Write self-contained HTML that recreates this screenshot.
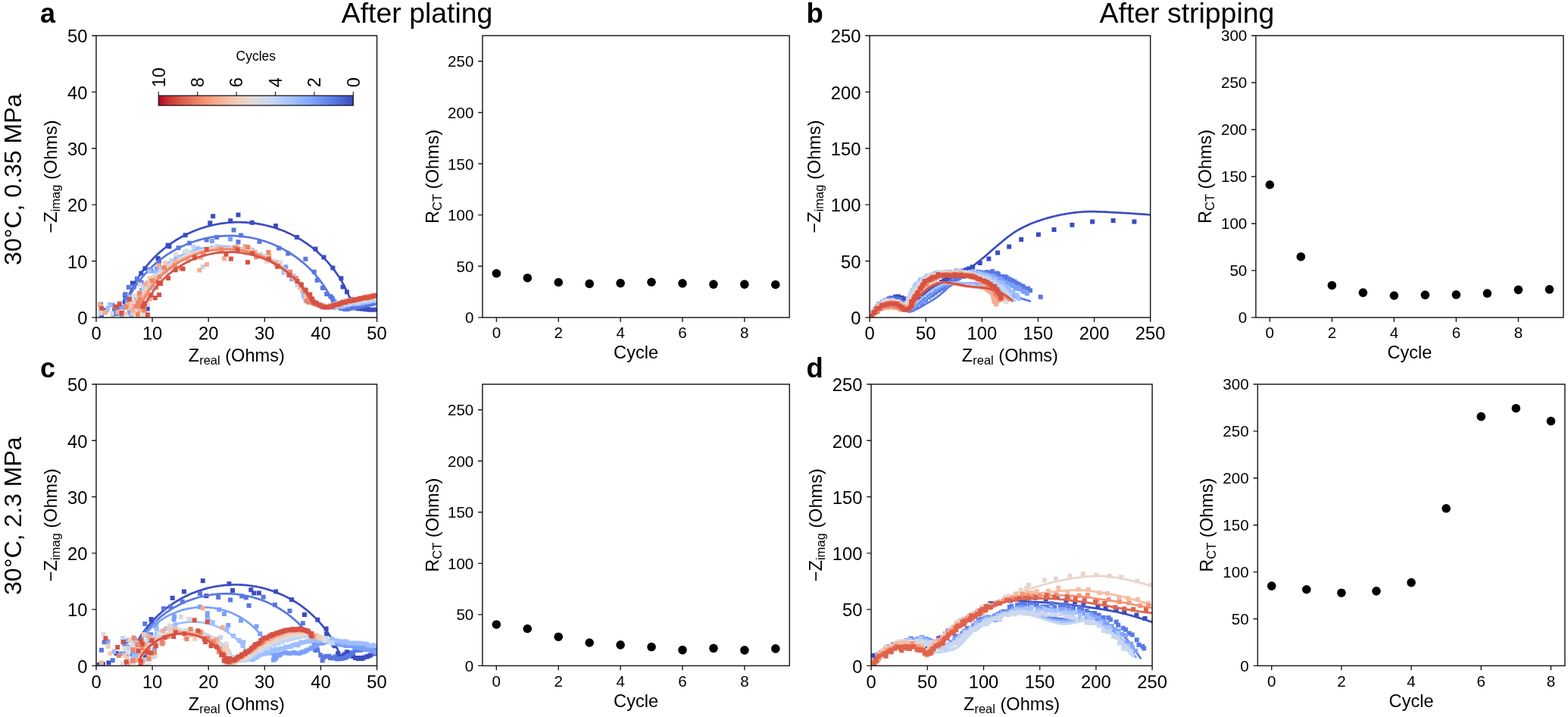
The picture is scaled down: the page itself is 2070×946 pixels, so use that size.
<!DOCTYPE html>
<html><head><meta charset="utf-8"><title>EIS figure</title>
<style>html,body{margin:0;padding:0;background:#fff;}svg{display:block;}</style>
</head><body>
<svg width="2070" height="946" viewBox="0 0 2070 946" font-family='"Liberation Sans", Arial, Helvetica, sans-serif' fill="#000"><defs><clipPath id="cl_a1"><rect x="127.0" y="47.0" width="370.6" height="371.9"/></clipPath><clipPath id="cl_b1"><rect x="1148.1" y="47.0" width="370.6" height="371.9"/></clipPath><clipPath id="cl_c1"><rect x="127.0" y="507.0" width="370.6" height="371.4"/></clipPath><clipPath id="cl_d1"><rect x="1150.1" y="507.0" width="371.0" height="371.4"/></clipPath></defs>
<g clip-path="url(#cl_a1)"><path d="M130.9 412.1h6.0v6.0h-6.0zM136.7 406.6h6.0v6.0h-6.0zM158.0 405.8h6.0v6.0h-6.0zM149.7 411.1h6.0v6.0h-6.0zM151.4 401.9h6.0v6.0h-6.0zM191.7 404.6h6.0v6.0h-6.0zM163.5 396.7h6.0v6.0h-6.0zM159.8 421.8h6.0v6.0h-6.0zM162.1 386.5h6.0v6.0h-6.0zM161.9 395.1h6.0v6.0h-6.0zM162.9 391.9h6.0v6.0h-6.0zM171.9 370.5h6.0v6.0h-6.0zM183.3 357.6h6.0v6.0h-6.0zM188.5 351.2h6.0v6.0h-6.0zM206.8 340.1h6.0v6.0h-6.0zM218.6 320.5h6.0v6.0h-6.0zM241.7 307.2h6.0v6.0h-6.0zM274.3 291.3h6.0v6.0h-6.0zM301.3 288.3h6.0v6.0h-6.0zM329.8 290.8h6.0v6.0h-6.0zM361.0 295.0h6.0v6.0h-6.0zM389.1 310.0h6.0v6.0h-6.0zM413.5 325.6h6.0v6.0h-6.0zM424.5 336.6h6.0v6.0h-6.0zM436.4 350.4h6.0v6.0h-6.0zM447.4 364.2h6.0v6.0h-6.0zM449.7 375.6h6.0v6.0h-6.0zM455.0 382.2h6.0v6.0h-6.0zM460.2 394.3h6.0v6.0h-6.0zM460.7 391.8h6.0v6.0h-6.0zM462.3 395.0h6.0v6.0h-6.0zM462.8 396.1h6.0v6.0h-6.0zM465.6 399.2h6.0v6.0h-6.0zM467.0 401.6h6.0v6.0h-6.0zM470.3 404.2h6.0v6.0h-6.0zM471.5 403.5h6.0v6.0h-6.0zM475.0 404.6h6.0v6.0h-6.0zM478.8 405.0h6.0v6.0h-6.0zM482.0 405.0h6.0v6.0h-6.0zM483.2 405.4h6.0v6.0h-6.0zM487.0 405.8h6.0v6.0h-6.0zM490.5 405.7h6.0v6.0h-6.0zM492.9 405.4h6.0v6.0h-6.0zM497.1 403.9h6.0v6.0h-6.0zM498.5 405.1h6.0v6.0h-6.0zM278.2 282.3h6.0v6.0h-6.0zM311.5 280.5h6.0v6.0h-6.0zM129.9 398.8h6.0v6.0h-6.0zM135.1 408.5h6.0v6.0h-6.0zM205.5 337.8h6.0v6.0h-6.0zM220.4 322.2h6.0v6.0h-6.0z" fill="#3b4cc0"/><path d="M164.5 405.5L164.6 405.2L164.7 404.9L164.8 404.6L164.9 404.3L165.0 403.9L165.1 403.6L165.2 403.2L165.3 402.9L165.4 402.5L165.6 402.1L165.7 401.7L165.8 401.3L166.0 400.9L166.1 400.5L166.2 400.1L166.4 399.7L166.5 399.2L166.7 398.8L166.9 398.3L167.0 397.8L167.2 397.4L167.4 396.9L167.6 396.4L167.8 395.9L167.9 395.3L168.1 394.8L168.4 394.3L168.6 393.7L168.8 393.1L169.0 392.6L169.3 392.0L169.5 391.4L169.8 390.7L170.0 390.1L170.3 389.5L170.6 388.8L170.9 388.1L171.2 387.5L171.5 386.8L171.8 386.1L172.1 385.3L172.5 384.6L172.8 383.8L173.2 383.1L173.5 382.3L173.9 381.5L174.3 380.7L174.7 379.9L175.2 379.0L175.6 378.2L176.1 377.3L176.5 376.4L177.0 375.5L177.5 374.6L178.1 373.7L178.6 372.7L179.1 371.7L179.7 370.7L180.3 369.7L180.9 368.7L181.6 367.7L182.2 366.6L182.9 365.6L183.6 364.5L184.3 363.4L185.1 362.3L185.8 361.2L186.6 360.0L187.5 358.9L188.3 357.7L189.2 356.5L190.1 355.3L191.0 354.1L192.0 352.9L193.0 351.6L194.0 350.4L195.1 349.1L196.2 347.8L197.3 346.5L198.5 345.2L199.7 343.9L200.9 342.6L202.2 341.2L203.5 339.9L204.8 338.6L206.2 337.2L207.6 335.8L209.1 334.5L210.6 333.1L212.2 331.8L213.8 330.4L215.4 329.0L217.1 327.7L218.8 326.3L220.6 324.9L222.4 323.6L224.3 322.3L226.2 320.9L228.1 319.6L230.1 318.3L232.1 317.0L234.2 315.7L236.4 314.5L238.5 313.2L240.8 312.0L243.0 310.8L245.4 309.6L247.7 308.5L250.1 307.4L252.6 306.3L255.0 305.2L257.6 304.2L260.1 303.2L262.7 302.2L265.4 301.3L268.1 300.5L270.8 299.6L273.5 298.8L276.3 298.1L279.1 297.4L281.9 296.8L284.8 296.2L287.7 295.6L290.6 295.1L293.5 294.7L296.5 294.3L299.4 294.0L302.4 293.7L305.4 293.5L308.4 293.3L311.4 293.2L314.4 293.2L317.4 293.2L320.4 293.3L323.3 293.4L326.3 293.6L329.3 293.8L332.3 294.1L335.2 294.5L338.2 294.9L341.1 295.3L344.0 295.8L346.9 296.4L349.7 297.0L352.5 297.7L355.3 298.4L358.1 299.2L360.8 300.0L363.5 300.8L366.2 301.7L368.8 302.6L371.4 303.6L374.0 304.6L376.5 305.6L378.9 306.7L381.4 307.8L383.7 308.9L386.1 310.1L388.4 311.3L390.6 312.5L392.8 313.7L395.0 315.0L397.1 316.2L399.2 317.5L401.2 318.8L403.2 320.1L405.1 321.4L407.0 322.8L408.9 324.1L410.7 325.5L412.4 326.8L414.1 328.2L415.8 329.6L417.4 330.9L419.0 332.3L420.5 333.7L422.0 335.0L423.4 336.4L424.9 337.7L426.2 339.1L427.6 340.4L428.9 341.8L430.1 343.1L431.3 344.4L432.5 345.7L433.7 347.0L434.8 348.3L435.9 349.6L436.9 350.8L437.9 352.1L438.9 353.3L439.9 354.6L440.8 355.8L441.7 357.0L442.5 358.2L443.4 359.3L444.2 360.5L445.0 361.6L445.7 362.7L446.5 363.8L447.2 364.9L447.9 366.0L448.6 367.1L449.2 368.1L449.8 369.1L450.4 370.1L451.0 371.1L451.6 372.1L452.2 373.1L452.7 374.0L453.2 374.9L453.7 375.9L454.2 376.8L454.6 377.6L455.1 378.5L455.5 379.4L456.0 380.2L456.4 381.0L456.8 381.8L457.1 382.6L457.5 383.4L457.9 384.1L458.2 384.9L458.5 385.6L458.9 386.3L459.2 387.0L459.5 387.7L459.8 388.4L460.1 389.1L460.3 389.7L460.6 390.4L460.9 391.0L461.1 391.6L461.4 392.2L461.6 392.8L461.8 393.4L462.0 393.9L462.3 394.5L462.5 395.0L461.5 392.6L461.7 392.9L461.9 393.1L462.1 393.4L462.3 393.6L462.5 393.9L462.7 394.1L462.9 394.4L463.0 394.7L463.2 394.9L463.4 395.2L463.6 395.5L463.8 395.7L464.0 396.0L464.2 396.3L464.4 396.5L464.6 396.8L464.8 397.1L465.0 397.4L465.2 397.6L465.3 397.9L465.5 398.2L465.7 398.4L465.9 398.7L466.1 399.0L466.3 399.2L466.5 399.5L466.7 399.8L466.9 400.0L467.1 400.3L467.3 400.5L467.4 400.8L467.6 401.0L467.8 401.3L468.0 401.5L468.2 401.8L468.4 402.0L468.6 402.2L468.8 402.5L468.9 402.7L469.1 402.9L469.3 403.1L469.5 403.3L469.7 403.5L469.8 403.7L470.0 403.9L470.2 404.1L470.4 404.3L470.6 404.4L470.7 404.6L470.9 404.8L471.1 404.9L471.3 405.1L471.4 405.2L471.6 405.3L471.8 405.5L471.9 405.6L472.1 405.7L472.3 405.8L472.4 405.9L472.6 406.0L472.7 406.1L472.9 406.2L473.1 406.3L473.2 406.4L473.4 406.5L473.5 406.6L473.7 406.7L473.8 406.7L474.0 406.8L474.1 406.9L474.3 406.9L474.4 407.0L474.6 407.1L474.7 407.1L474.9 407.2L475.0 407.2L475.2 407.3L475.3 407.3L475.5 407.4L475.7 407.4L475.8 407.5L476.0 407.5L476.1 407.5L476.3 407.6L476.4 407.6L476.6 407.6L476.8 407.7L476.9 407.7L477.1 407.7L477.3 407.8L477.4 407.8L477.6 407.8L477.8 407.9L478.0 407.9L478.1 407.9L478.3 408.0L478.5 408.0L478.7 408.0L478.9 408.1L479.1 408.1L479.3 408.2L479.5 408.2L479.7 408.2L479.8 408.3L480.0 408.3L480.2 408.3L480.4 408.3L480.6 408.4L480.8 408.4L481.0 408.4L481.2 408.4L481.5 408.5L481.7 408.5L481.9 408.5L482.1 408.5L482.3 408.5L482.5 408.5L482.7 408.5L482.9 408.6L483.1 408.6L483.3 408.6L483.6 408.6L483.8 408.6L484.0 408.6L484.2 408.6L484.4 408.6L484.7 408.6L484.9 408.6L485.1 408.6L485.3 408.6L485.6 408.6L485.8 408.6L486.0 408.6L486.3 408.6L486.5 408.6L486.7 408.6L487.0 408.6L487.2 408.6L487.4 408.6L487.7 408.6L487.9 408.6L488.2 408.6L488.4 408.6L488.7 408.5L488.9 408.5L489.2 408.5L489.4 408.5L489.7 408.5L489.9 408.5L490.2 408.5L490.5 408.5L490.7 408.5L491.0 408.4L491.3 408.4L491.5 408.4L491.8 408.4L492.1 408.4L492.4 408.4L492.7 408.3L493.0 408.3L493.3 408.3L493.6 408.3L493.9 408.2L494.2 408.2L494.5 408.2L494.8 408.1L495.1 408.1L495.4 408.1L495.7 408.0L496.0 408.0L496.3 408.0L496.6 407.9L496.9 407.9L497.2 407.9L497.5 407.8L497.8 407.8L498.2 407.8L498.5 407.7L498.8 407.7L499.1 407.7L499.4 407.6L499.7 407.6L500.0 407.6L500.4 407.5L500.7 407.5L501.0 407.4L501.3 407.4L501.6 407.4L501.9 407.3L502.2 407.3L502.6 407.3L502.9 407.2L503.2 407.2L503.5 407.2L503.8 407.1L504.1 407.1L504.4 407.1L504.7 407.0L505.0 407.0" fill="none" stroke="#3b4cc0" stroke-width="2.7" stroke-linejoin="round" stroke-linecap="butt"/><path d="M152.0 410.4h6.0v6.0h-6.0zM152.0 405.6h6.0v6.0h-6.0zM146.7 411.6h6.0v6.0h-6.0zM147.9 405.8h6.0v6.0h-6.0zM167.2 400.3h6.0v6.0h-6.0zM162.5 385.2h6.0v6.0h-6.0zM158.9 403.1h6.0v6.0h-6.0zM165.6 391.5h6.0v6.0h-6.0zM163.5 392.0h6.0v6.0h-6.0zM173.8 375.4h6.0v6.0h-6.0zM166.8 376.1h6.0v6.0h-6.0zM177.9 364.8h6.0v6.0h-6.0zM183.4 369.5h6.0v6.0h-6.0zM196.1 354.1h6.0v6.0h-6.0zM206.8 345.6h6.0v6.0h-6.0zM232.5 324.1h6.0v6.0h-6.0zM247.1 317.7h6.0v6.0h-6.0zM269.7 313.6h6.0v6.0h-6.0zM283.2 309.9h6.0v6.0h-6.0zM315.1 307.4h6.0v6.0h-6.0zM339.6 315.7h6.0v6.0h-6.0zM365.1 324.5h6.0v6.0h-6.0zM377.3 331.6h6.0v6.0h-6.0zM400.4 338.7h6.0v6.0h-6.0zM411.7 355.8h6.0v6.0h-6.0zM415.7 366.7h6.0v6.0h-6.0zM423.0 376.9h6.0v6.0h-6.0zM428.2 384.9h6.0v6.0h-6.0zM433.4 387.9h6.0v6.0h-6.0zM435.6 390.3h6.0v6.0h-6.0zM436.9 393.7h6.0v6.0h-6.0zM438.9 396.0h6.0v6.0h-6.0zM440.5 397.9h6.0v6.0h-6.0zM442.5 400.9h6.0v6.0h-6.0zM443.7 401.5h6.0v6.0h-6.0zM446.7 403.7h6.0v6.0h-6.0zM449.9 403.9h6.0v6.0h-6.0zM452.4 405.1h6.0v6.0h-6.0zM455.5 404.9h6.0v6.0h-6.0zM458.2 404.0h6.0v6.0h-6.0zM461.4 403.2h6.0v6.0h-6.0zM465.0 403.4h6.0v6.0h-6.0zM467.2 402.3h6.0v6.0h-6.0zM470.2 401.9h6.0v6.0h-6.0zM473.6 400.3h6.0v6.0h-6.0zM476.4 400.8h6.0v6.0h-6.0zM479.9 399.2h6.0v6.0h-6.0zM480.6 399.4h6.0v6.0h-6.0zM485.2 398.8h6.0v6.0h-6.0zM487.3 397.9h6.0v6.0h-6.0zM490.5 397.4h6.0v6.0h-6.0zM493.7 395.9h6.0v6.0h-6.0zM496.7 394.6h6.0v6.0h-6.0zM499.6 394.3h6.0v6.0h-6.0zM501.9 393.3h6.0v6.0h-6.0zM305.6 300.6h6.0v6.0h-6.0zM311.5 316.2h6.0v6.0h-6.0zM194.4 352.7h6.0v6.0h-6.0z" fill="#5977e3"/><path d="M164.7 404.4L164.8 404.1L164.9 403.8L165.1 403.5L165.2 403.1L165.4 402.8L165.5 402.4L165.7 402.1L165.8 401.7L166.0 401.4L166.1 401.0L166.3 400.6L166.5 400.2L166.7 399.8L166.8 399.4L167.0 399.0L167.2 398.6L167.4 398.2L167.6 397.7L167.8 397.3L168.0 396.8L168.3 396.4L168.5 395.9L168.7 395.4L169.0 394.9L169.2 394.4L169.5 393.9L169.7 393.4L170.0 392.9L170.3 392.3L170.5 391.8L170.8 391.2L171.1 390.7L171.4 390.1L171.8 389.5L172.1 388.9L172.4 388.3L172.8 387.7L173.1 387.0L173.5 386.4L173.9 385.7L174.3 385.1L174.7 384.4L175.1 383.7L175.5 383.0L175.9 382.3L176.4 381.6L176.8 380.9L177.3 380.1L177.8 379.4L178.3 378.6L178.8 377.8L179.3 377.0L179.9 376.2L180.5 375.4L181.0 374.6L181.6 373.7L182.2 372.9L182.9 372.0L183.5 371.2L184.2 370.3L184.9 369.4L185.6 368.5L186.3 367.6L187.0 366.6L187.8 365.7L188.6 364.8L189.4 363.8L190.2 362.8L191.1 361.8L192.0 360.9L192.9 359.9L193.8 358.9L194.7 357.8L195.7 356.8L196.7 355.8L197.7 354.8L198.8 353.7L199.9 352.7L201.0 351.6L202.1 350.6L203.3 349.5L204.5 348.4L205.7 347.4L207.0 346.3L208.3 345.2L209.6 344.1L211.0 343.1L212.3 342.0L213.8 340.9L215.2 339.8L216.7 338.8L218.2 337.7L219.7 336.7L221.3 335.6L222.9 334.6L224.6 333.5L226.3 332.5L228.0 331.5L229.7 330.5L231.5 329.5L233.3 328.5L235.2 327.5L237.0 326.6L239.0 325.7L240.9 324.7L242.9 323.9L244.9 323.0L246.9 322.1L249.0 321.3L251.1 320.5L253.2 319.7L255.4 319.0L257.6 318.3L259.8 317.6L262.0 316.9L264.2 316.3L266.5 315.7L268.8 315.1L271.2 314.6L273.5 314.1L275.9 313.6L278.2 313.2L280.6 312.8L283.0 312.4L285.5 312.1L287.9 311.9L290.3 311.6L292.8 311.4L295.3 311.3L297.7 311.2L300.2 311.1L302.7 311.1L305.1 311.1L307.6 311.1L310.1 311.2L312.5 311.3L315.0 311.5L317.4 311.7L319.9 312.0L322.3 312.2L324.7 312.6L327.1 312.9L329.5 313.3L331.9 313.8L334.2 314.3L336.6 314.8L338.9 315.3L341.2 315.9L343.5 316.5L345.7 317.2L347.9 317.8L350.1 318.5L352.3 319.3L354.4 320.0L356.6 320.8L358.6 321.6L360.7 322.5L362.7 323.3L364.7 324.2L366.7 325.1L368.6 326.0L370.5 327.0L372.4 327.9L374.2 328.9L376.0 329.9L377.8 330.9L379.5 331.9L381.2 332.9L382.9 333.9L384.5 335.0L386.1 336.0L387.7 337.1L389.2 338.1L390.7 339.2L392.2 340.3L393.6 341.3L395.0 342.4L396.4 343.5L397.7 344.6L399.0 345.6L400.3 346.7L401.6 347.8L402.8 348.8L404.0 349.9L405.1 351.0L406.3 352.0L407.4 353.1L408.4 354.1L409.5 355.2L410.5 356.2L411.5 357.2L412.4 358.2L413.4 359.3L414.3 360.3L415.2 361.2L416.1 362.2L416.9 363.2L417.7 364.2L418.5 365.1L419.3 366.1L420.1 367.0L420.8 367.9L421.5 368.8L422.2 369.7L422.9 370.6L423.6 371.5L424.2 372.4L424.8 373.2L425.4 374.1L426.0 374.9L426.6 375.7L427.1 376.5L427.7 377.3L428.2 378.1L428.7 378.9L429.2 379.7L429.7 380.4L430.2 381.1L430.6 381.9L431.1 382.6L431.5 383.3L431.9 384.0L432.3 384.7L432.7 385.3L433.1 386.0L433.5 386.7L433.8 387.3L434.2 387.9L434.5 388.5L434.9 389.1L435.2 389.7L435.5 390.3L435.8 390.9L436.1 391.5L436.4 392.0L436.7 392.5L436.9 393.1L437.2 393.6L437.5 394.1L436.3 391.9L436.6 392.2L436.8 392.5L437.1 392.8L437.3 393.1L437.6 393.4L437.9 393.8L438.1 394.1L438.4 394.4L438.6 394.8L438.9 395.1L439.2 395.5L439.4 395.8L439.7 396.2L439.9 396.5L440.2 396.9L440.4 397.2L440.7 397.6L441.0 398.0L441.2 398.3L441.5 398.7L441.7 399.0L442.0 399.4L442.2 399.7L442.5 400.1L442.8 400.4L443.0 400.7L443.3 401.1L443.5 401.4L443.8 401.7L444.1 402.1L444.3 402.4L444.6 402.7L444.8 403.0L445.1 403.3L445.4 403.6L445.6 403.9L445.9 404.2L446.2 404.4L446.4 404.7L446.7 405.0L447.0 405.2L447.2 405.5L447.5 405.7L447.8 405.9L448.0 406.1L448.3 406.3L448.6 406.5L448.9 406.7L449.1 406.8L449.4 407.0L449.7 407.1L450.0 407.3L450.3 407.4L450.5 407.5L450.8 407.6L451.1 407.7L451.4 407.8L451.7 407.9L451.9 407.9L452.2 408.0L452.5 408.0L452.8 408.1L453.1 408.1L453.3 408.1L453.6 408.1L453.9 408.2L454.2 408.2L454.5 408.2L454.8 408.2L455.1 408.1L455.3 408.1L455.6 408.1L455.9 408.1L456.2 408.1L456.5 408.0L456.8 408.0L457.1 407.9L457.4 407.9L457.7 407.8L458.0 407.8L458.3 407.7L458.6 407.7L458.9 407.6L459.2 407.6L459.5 407.5L459.8 407.4L460.1 407.4L460.4 407.3L460.7 407.3L461.0 407.2L461.3 407.1L461.6 407.1L462.0 407.0L462.3 406.9L462.6 406.9L462.9 406.8L463.3 406.8L463.6 406.7L463.9 406.7L464.2 406.6L464.6 406.6L464.9 406.5L465.3 406.5L465.6 406.4L465.9 406.4L466.3 406.3L466.6 406.3L467.0 406.2L467.3 406.1L467.7 406.1L468.0 406.0L468.4 405.9L468.7 405.9L469.1 405.8L469.4 405.7L469.8 405.7L470.1 405.6L470.5 405.5L470.9 405.4L471.2 405.3L471.6 405.3L471.9 405.2L472.3 405.1L472.7 405.0L473.0 404.9L473.4 404.8L473.8 404.8L474.2 404.7L474.5 404.6L474.9 404.5L475.3 404.4L475.7 404.3L476.1 404.2L476.4 404.1L476.8 404.0L477.2 403.9L477.6 403.8L478.0 403.7L478.4 403.6L478.8 403.5L479.2 403.4L479.6 403.3L480.0 403.2L480.4 403.1L480.8 403.0L481.2 402.9L481.6 402.8L482.0 402.7L482.4 402.6L482.8 402.5L483.2 402.4L483.6 402.3L484.0 402.2L484.5 402.1L484.9 402.0L485.3 401.9L485.8 401.8L486.2 401.7L486.6 401.6L487.1 401.4L487.5 401.3L488.0 401.2L488.4 401.1L488.9 401.0L489.3 400.9L489.8 400.7L490.2 400.6L490.7 400.5L491.1 400.4L491.6 400.2L492.0 400.1L492.5 400.0L493.0 399.9L493.4 399.7L493.9 399.6L494.4 399.5L494.8 399.4L495.3 399.2L495.8 399.1L496.2 399.0L496.7 398.9L497.2 398.7L497.6 398.6L498.1 398.5L498.6 398.3L499.0 398.2L499.5 398.1L499.9 398.0L500.4 397.8L500.9 397.7L501.3 397.6L501.8 397.5L502.3 397.3L502.7 397.2L503.2 397.1L503.6 397.0L504.1 396.8L504.6 396.7L505.0 396.6" fill="none" stroke="#5977e3" stroke-width="2.7" stroke-linejoin="round" stroke-linecap="butt"/><path d="M167.8 407.8h6.0v6.0h-6.0zM157.6 401.9h6.0v6.0h-6.0zM157.8 412.4h6.0v6.0h-6.0zM146.0 399.5h6.0v6.0h-6.0zM169.2 409.8h6.0v6.0h-6.0zM180.6 405.3h6.0v6.0h-6.0zM170.4 414.6h6.0v6.0h-6.0zM165.6 395.7h6.0v6.0h-6.0zM176.6 391.3h6.0v6.0h-6.0zM172.3 400.1h6.0v6.0h-6.0zM178.2 390.6h6.0v6.0h-6.0zM183.9 379.9h6.0v6.0h-6.0zM188.7 374.5h6.0v6.0h-6.0zM196.4 353.4h6.0v6.0h-6.0zM204.0 351.3h6.0v6.0h-6.0zM220.6 346.5h6.0v6.0h-6.0zM230.1 336.2h6.0v6.0h-6.0zM258.0 326.3h6.0v6.0h-6.0zM276.9 315.0h6.0v6.0h-6.0zM307.2 323.5h6.0v6.0h-6.0zM329.3 326.9h6.0v6.0h-6.0zM340.3 333.5h6.0v6.0h-6.0zM362.0 344.3h6.0v6.0h-6.0zM374.3 349.2h6.0v6.0h-6.0zM382.3 365.2h6.0v6.0h-6.0zM393.0 371.6h6.0v6.0h-6.0zM396.5 380.6h6.0v6.0h-6.0zM398.1 386.4h6.0v6.0h-6.0zM403.8 395.3h6.0v6.0h-6.0zM408.1 394.6h6.0v6.0h-6.0zM409.8 394.3h6.0v6.0h-6.0zM412.6 397.0h6.0v6.0h-6.0zM414.8 396.6h6.0v6.0h-6.0zM417.7 398.8h6.0v6.0h-6.0zM421.1 399.3h6.0v6.0h-6.0zM424.2 400.8h6.0v6.0h-6.0zM426.9 402.9h6.0v6.0h-6.0zM430.1 402.5h6.0v6.0h-6.0zM432.8 402.3h6.0v6.0h-6.0zM435.3 402.9h6.0v6.0h-6.0zM438.7 402.7h6.0v6.0h-6.0zM441.5 401.4h6.0v6.0h-6.0zM444.1 401.6h6.0v6.0h-6.0zM447.5 401.8h6.0v6.0h-6.0zM450.7 400.8h6.0v6.0h-6.0zM453.1 399.5h6.0v6.0h-6.0zM455.7 399.8h6.0v6.0h-6.0zM459.2 398.5h6.0v6.0h-6.0zM462.8 397.7h6.0v6.0h-6.0zM464.5 398.1h6.0v6.0h-6.0zM467.5 398.3h6.0v6.0h-6.0zM470.4 397.9h6.0v6.0h-6.0zM474.1 396.7h6.0v6.0h-6.0zM475.4 395.7h6.0v6.0h-6.0zM479.5 395.6h6.0v6.0h-6.0zM482.9 395.0h6.0v6.0h-6.0zM484.7 395.1h6.0v6.0h-6.0zM488.9 394.2h6.0v6.0h-6.0zM491.3 394.1h6.0v6.0h-6.0zM493.6 393.6h6.0v6.0h-6.0zM497.0 393.6h6.0v6.0h-6.0zM498.9 393.3h6.0v6.0h-6.0zM301.1 312.5h6.0v6.0h-6.0zM253.7 332.6h6.0v6.0h-6.0z" fill="#7b9ff9"/><path d="M174.0 406.8L174.1 406.6L174.2 406.3L174.3 406.0L174.4 405.7L174.5 405.5L174.7 405.2L174.8 404.9L174.9 404.6L175.0 404.3L175.2 403.9L175.3 403.6L175.4 403.3L175.6 402.9L175.7 402.6L175.9 402.3L176.0 401.9L176.2 401.5L176.4 401.2L176.5 400.8L176.7 400.4L176.9 400.0L177.1 399.6L177.3 399.2L177.4 398.8L177.6 398.4L177.9 397.9L178.1 397.5L178.3 397.0L178.5 396.6L178.7 396.1L179.0 395.6L179.2 395.1L179.5 394.6L179.7 394.1L180.0 393.6L180.3 393.1L180.6 392.6L180.9 392.0L181.2 391.5L181.5 390.9L181.8 390.3L182.1 389.8L182.5 389.2L182.8 388.6L183.2 388.0L183.5 387.3L183.9 386.7L184.3 386.1L184.7 385.4L185.1 384.8L185.6 384.1L186.0 383.4L186.5 382.7L186.9 382.0L187.4 381.3L187.9 380.6L188.4 379.8L188.9 379.1L189.5 378.3L190.0 377.5L190.6 376.8L191.2 376.0L191.8 375.2L192.4 374.4L193.1 373.6L193.7 372.7L194.4 371.9L195.1 371.1L195.8 370.2L196.6 369.3L197.3 368.5L198.1 367.6L198.9 366.7L199.7 365.8L200.6 364.9L201.4 364.0L202.3 363.1L203.3 362.2L204.2 361.2L205.2 360.3L206.2 359.4L207.2 358.4L208.2 357.5L209.3 356.6L210.4 355.6L211.5 354.7L212.7 353.7L213.9 352.8L215.1 351.8L216.3 350.9L217.6 349.9L218.9 349.0L220.2 348.0L221.6 347.1L223.0 346.2L224.4 345.3L225.8 344.3L227.3 343.4L228.8 342.6L230.4 341.7L231.9 340.8L233.5 339.9L235.1 339.1L236.8 338.3L238.5 337.5L240.2 336.7L241.9 335.9L243.7 335.1L245.5 334.4L247.3 333.7L249.2 333.0L251.1 332.3L253.0 331.7L254.9 331.0L256.8 330.4L258.8 329.9L260.8 329.3L262.8 328.8L264.8 328.3L266.9 327.9L268.9 327.5L271.0 327.1L273.1 326.7L275.2 326.4L277.3 326.2L279.5 325.9L281.6 325.7L283.7 325.5L285.9 325.4L288.1 325.3L290.2 325.2L292.4 325.2L294.5 325.2L296.7 325.2L298.9 325.3L301.0 325.4L303.2 325.6L305.3 325.8L307.4 326.0L309.6 326.3L311.7 326.6L313.8 326.9L315.9 327.2L317.9 327.6L320.0 328.1L322.0 328.5L324.1 329.0L326.1 329.5L328.0 330.1L330.0 330.7L331.9 331.3L333.8 331.9L335.7 332.6L337.6 333.2L339.4 333.9L341.3 334.7L343.0 335.4L344.8 336.2L346.5 337.0L348.2 337.8L349.9 338.6L351.6 339.4L353.2 340.3L354.8 341.1L356.3 342.0L357.8 342.9L359.3 343.8L360.8 344.7L362.2 345.6L363.6 346.5L365.0 347.5L366.4 348.4L367.7 349.3L369.0 350.3L370.2 351.2L371.5 352.2L372.7 353.1L373.8 354.1L375.0 355.0L376.1 356.0L377.2 356.9L378.2 357.9L379.3 358.8L380.3 359.7L381.3 360.7L382.2 361.6L383.2 362.5L384.1 363.4L385.0 364.4L385.8 365.3L386.7 366.2L387.5 367.1L388.3 367.9L389.0 368.8L389.8 369.7L390.5 370.5L391.2 371.4L391.9 372.2L392.6 373.1L393.3 373.9L393.9 374.7L394.5 375.5L395.1 376.3L395.7 377.1L396.3 377.9L396.8 378.6L397.3 379.4L397.9 380.1L398.4 380.8L398.8 381.6L399.3 382.3L399.8 383.0L400.2 383.7L400.7 384.3L401.1 385.0L401.5 385.7L401.9 386.3L402.3 387.0L402.7 387.6L403.0 388.2L403.4 388.8L403.7 389.4L404.1 390.0L404.4 390.6L404.7 391.1L405.0 391.7L405.3 392.2L405.6 392.8L405.9 393.3L406.2 393.8L406.4 394.3L406.7 394.8L406.9 395.3L407.2 395.8L407.4 396.3L407.6 396.7L407.9 397.2L408.1 397.6L408.3 398.1L407.3 396.2L407.8 396.3L408.3 396.5L408.7 396.7L409.2 396.9L409.7 397.1L410.1 397.2L410.6 397.4L411.1 397.6L411.5 397.8L412.0 398.0L412.5 398.2L413.0 398.4L413.5 398.6L413.9 398.8L414.4 399.0L414.9 399.2L415.4 399.4L415.9 399.6L416.3 399.8L416.8 400.0L417.3 400.2L417.8 400.4L418.2 400.6L418.7 400.8L419.2 401.0L419.7 401.2L420.1 401.4L420.6 401.6L421.1 401.8L421.5 402.0L422.0 402.2L422.5 402.3L422.9 402.5L423.4 402.7L423.8 402.8L424.3 403.0L424.7 403.2L425.2 403.3L425.6 403.5L426.1 403.6L426.5 403.8L426.9 403.9L427.3 404.0L427.8 404.2L428.2 404.3L428.6 404.4L429.0 404.5L429.4 404.6L429.8 404.7L430.2 404.8L430.5 404.8L430.9 404.9L431.3 405.0L431.6 405.1L432.0 405.1L432.3 405.2L432.6 405.2L433.0 405.2L433.3 405.3L433.6 405.3L433.9 405.3L434.2 405.4L434.5 405.4L434.8 405.4L435.1 405.4L435.4 405.4L435.7 405.4L436.0 405.4L436.3 405.4L436.6 405.4L436.9 405.4L437.1 405.4L437.4 405.4L437.7 405.4L438.0 405.3L438.2 405.3L438.5 405.3L438.8 405.3L439.1 405.2L439.4 405.2L439.6 405.2L439.9 405.1L440.2 405.1L440.5 405.0L440.8 405.0L441.1 405.0L441.4 404.9L441.7 404.9L442.0 404.8L442.3 404.8L442.6 404.8L442.9 404.7L443.3 404.7L443.6 404.6L443.9 404.6L444.3 404.6L444.6 404.5L445.0 404.5L445.3 404.4L445.7 404.4L446.1 404.4L446.5 404.3L446.8 404.3L447.2 404.2L447.6 404.2L448.0 404.1L448.4 404.1L448.7 404.1L449.1 404.0L449.5 404.0L449.9 403.9L450.3 403.9L450.7 403.8L451.0 403.7L451.4 403.7L451.8 403.6L452.2 403.6L452.6 403.5L453.0 403.5L453.4 403.4L453.8 403.3L454.2 403.3L454.7 403.2L455.1 403.1L455.5 403.1L455.9 403.0L456.3 402.9L456.8 402.9L457.2 402.8L457.7 402.7L458.1 402.6L458.6 402.6L459.0 402.5L459.5 402.4L460.0 402.3L460.5 402.3L460.9 402.2L461.4 402.1L461.9 402.0L462.4 401.9L463.0 401.8L463.5 401.8L464.0 401.7L464.6 401.6L465.1 401.5L465.7 401.4L466.2 401.3L466.8 401.2L467.4 401.1L468.0 401.0L468.6 401.0L469.2 400.9L469.8 400.8L470.5 400.7L471.1 400.5L471.8 400.4L472.5 400.3L473.2 400.2L473.9 400.1L474.6 400.0L475.3 399.9L476.0 399.8L476.7 399.7L477.5 399.5L478.2 399.4L479.0 399.3L479.7 399.2L480.5 399.1L481.2 398.9L482.0 398.8L482.8 398.7L483.6 398.6L484.4 398.4L485.2 398.3L486.0 398.2L486.7 398.0L487.5 397.9L488.4 397.8L489.2 397.7L490.0 397.5L490.8 397.4L491.6 397.3L492.4 397.1L493.2 397.0L494.0 396.9L494.8 396.7L495.6 396.6L496.4 396.5L497.2 396.4L498.0 396.2L498.8 396.1L499.6 396.0L500.4 395.8L501.2 395.7L501.9 395.6L502.7 395.5L503.5 395.3L504.3 395.2L505.0 395.1" fill="none" stroke="#7b9ff9" stroke-width="2.7" stroke-linejoin="round" stroke-linecap="butt"/><path d="M158.6 409.4h6.0v6.0h-6.0zM130.0 401.7h6.0v6.0h-6.0zM139.3 404.0h6.0v6.0h-6.0zM142.1 398.9h6.0v6.0h-6.0zM177.8 401.1h6.0v6.0h-6.0zM174.0 410.2h6.0v6.0h-6.0zM165.6 401.5h6.0v6.0h-6.0zM181.8 399.9h6.0v6.0h-6.0zM168.6 388.4h6.0v6.0h-6.0zM155.4 397.1h6.0v6.0h-6.0zM184.9 387.4h6.0v6.0h-6.0zM180.2 395.2h6.0v6.0h-6.0zM197.8 376.9h6.0v6.0h-6.0zM194.1 355.1h6.0v6.0h-6.0zM202.3 356.1h6.0v6.0h-6.0zM227.8 346.0h6.0v6.0h-6.0zM233.8 338.6h6.0v6.0h-6.0zM258.7 324.8h6.0v6.0h-6.0zM284.9 322.7h6.0v6.0h-6.0zM303.3 327.2h6.0v6.0h-6.0zM324.6 326.2h6.0v6.0h-6.0zM344.4 334.9h6.0v6.0h-6.0zM362.3 343.1h6.0v6.0h-6.0zM371.4 356.4h6.0v6.0h-6.0zM384.2 361.1h6.0v6.0h-6.0zM391.4 372.8h6.0v6.0h-6.0zM400.1 381.7h6.0v6.0h-6.0zM398.9 389.0h6.0v6.0h-6.0zM400.7 394.0h6.0v6.0h-6.0zM405.6 395.8h6.0v6.0h-6.0zM407.7 395.4h6.0v6.0h-6.0zM411.2 396.4h6.0v6.0h-6.0zM413.6 398.4h6.0v6.0h-6.0zM416.8 399.1h6.0v6.0h-6.0zM419.2 400.0h6.0v6.0h-6.0zM421.5 401.1h6.0v6.0h-6.0zM423.4 402.5h6.0v6.0h-6.0zM427.5 402.9h6.0v6.0h-6.0zM430.7 402.4h6.0v6.0h-6.0zM433.3 402.2h6.0v6.0h-6.0zM436.5 402.4h6.0v6.0h-6.0zM438.9 401.9h6.0v6.0h-6.0zM441.8 401.4h6.0v6.0h-6.0zM444.5 400.5h6.0v6.0h-6.0zM448.7 401.2h6.0v6.0h-6.0zM450.9 400.7h6.0v6.0h-6.0zM453.4 399.4h6.0v6.0h-6.0zM455.9 399.5h6.0v6.0h-6.0zM459.5 398.6h6.0v6.0h-6.0zM463.3 397.7h6.0v6.0h-6.0zM465.6 397.0h6.0v6.0h-6.0zM467.9 397.3h6.0v6.0h-6.0zM472.0 395.8h6.0v6.0h-6.0zM474.9 396.8h6.0v6.0h-6.0zM477.6 395.0h6.0v6.0h-6.0zM480.4 395.7h6.0v6.0h-6.0zM483.6 395.1h6.0v6.0h-6.0zM486.2 393.6h6.0v6.0h-6.0zM489.2 393.7h6.0v6.0h-6.0zM491.3 393.4h6.0v6.0h-6.0zM495.5 392.8h6.0v6.0h-6.0zM497.7 391.8h6.0v6.0h-6.0zM501.6 391.6h6.0v6.0h-6.0z" fill="#9ebeff"/><path d="M174.6 407.1L174.7 406.8L174.8 406.5L174.9 406.3L175.0 406.0L175.1 405.7L175.2 405.4L175.4 405.1L175.5 404.8L175.6 404.5L175.7 404.2L175.9 403.9L176.0 403.6L176.1 403.2L176.3 402.9L176.4 402.6L176.6 402.2L176.7 401.8L176.9 401.5L177.1 401.1L177.2 400.7L177.4 400.3L177.6 399.9L177.8 399.5L178.0 399.1L178.2 398.7L178.4 398.3L178.6 397.8L178.8 397.4L179.0 396.9L179.2 396.5L179.5 396.0L179.7 395.5L179.9 395.0L180.2 394.5L180.5 394.0L180.7 393.5L181.0 393.0L181.3 392.5L181.6 391.9L181.9 391.4L182.2 390.8L182.5 390.2L182.9 389.6L183.2 389.0L183.5 388.4L183.9 387.8L184.3 387.2L184.7 386.6L185.1 385.9L185.5 385.3L185.9 384.6L186.3 383.9L186.8 383.2L187.2 382.5L187.7 381.8L188.2 381.1L188.7 380.4L189.2 379.6L189.7 378.9L190.3 378.1L190.8 377.3L191.4 376.6L192.0 375.8L192.6 375.0L193.2 374.2L193.9 373.3L194.6 372.5L195.2 371.7L196.0 370.8L196.7 370.0L197.4 369.1L198.2 368.2L199.0 367.4L199.8 366.5L200.6 365.6L201.5 364.7L202.4 363.8L203.3 362.8L204.2 361.9L205.2 361.0L206.1 360.1L207.2 359.1L208.2 358.2L209.2 357.2L210.3 356.3L211.4 355.4L212.6 354.4L213.8 353.5L215.0 352.5L216.2 351.6L217.4 350.6L218.7 349.7L220.0 348.8L221.4 347.8L222.7 346.9L224.2 346.0L225.6 345.1L227.0 344.2L228.5 343.3L230.1 342.4L231.6 341.5L233.2 340.7L234.8 339.8L236.5 339.0L238.1 338.2L239.8 337.4L241.5 336.6L243.3 335.9L245.1 335.1L246.9 334.4L248.7 333.7L250.6 333.0L252.5 332.4L254.4 331.8L256.3 331.2L258.3 330.6L260.2 330.1L262.2 329.6L264.3 329.1L266.3 328.6L268.3 328.2L270.4 327.8L272.5 327.5L274.6 327.2L276.7 326.9L278.8 326.7L280.9 326.4L283.1 326.3L285.2 326.1L287.3 326.0L289.5 326.0L291.6 325.9L293.8 325.9L295.9 326.0L298.1 326.1L300.2 326.2L302.4 326.3L304.5 326.5L306.6 326.7L308.7 327.0L310.8 327.3L312.9 327.6L315.0 328.0L317.0 328.4L319.1 328.8L321.1 329.3L323.1 329.8L325.1 330.3L327.1 330.8L329.0 331.4L330.9 332.0L332.8 332.6L334.7 333.3L336.6 334.0L338.4 334.7L340.2 335.4L342.0 336.2L343.7 336.9L345.4 337.7L347.1 338.5L348.8 339.3L350.4 340.2L352.0 341.0L353.6 341.9L355.1 342.8L356.6 343.6L358.1 344.5L359.6 345.4L361.0 346.4L362.4 347.3L363.7 348.2L365.1 349.1L366.4 350.1L367.6 351.0L368.9 352.0L370.1 352.9L371.3 353.8L372.4 354.8L373.6 355.7L374.7 356.7L375.7 357.6L376.8 358.6L377.8 359.5L378.8 360.4L379.8 361.4L380.7 362.3L381.7 363.2L382.5 364.1L383.4 365.0L384.3 365.9L385.1 366.8L385.9 367.7L386.7 368.6L387.4 369.4L388.2 370.3L388.9 371.2L389.6 372.0L390.3 372.8L390.9 373.7L391.6 374.5L392.2 375.3L392.8 376.1L393.4 376.9L394.0 377.7L394.5 378.4L395.1 379.2L395.6 379.9L396.1 380.7L396.6 381.4L397.1 382.1L397.5 382.8L398.0 383.5L398.4 384.2L398.9 384.9L399.3 385.5L399.7 386.2L400.1 386.8L400.4 387.4L400.8 388.1L401.2 388.7L401.5 389.3L401.9 389.9L402.2 390.4L402.5 391.0L402.8 391.6L403.1 392.1L403.4 392.7L403.7 393.2L404.0 393.7L404.2 394.2L404.5 394.7L404.7 395.2L405.0 395.7L405.2 396.2L405.4 396.7L405.7 397.1L405.9 397.6L406.1 398.0L406.3 398.4L405.4 396.5L405.8 396.7L406.3 396.9L406.8 397.1L407.3 397.3L407.7 397.5L408.2 397.7L408.7 397.9L409.2 398.1L409.7 398.3L410.1 398.5L410.6 398.7L411.1 398.9L411.6 399.1L412.1 399.3L412.6 399.5L413.0 399.8L413.5 400.0L414.0 400.2L414.5 400.4L415.0 400.6L415.5 400.8L416.0 401.0L416.4 401.2L416.9 401.4L417.4 401.7L417.9 401.9L418.4 402.1L418.9 402.3L419.3 402.5L419.8 402.6L420.3 402.8L420.7 403.0L421.2 403.2L421.7 403.4L422.1 403.6L422.6 403.7L423.1 403.9L423.5 404.1L424.0 404.2L424.4 404.4L424.9 404.5L425.3 404.6L425.7 404.8L426.2 404.9L426.6 405.0L427.0 405.1L427.4 405.2L427.9 405.3L428.3 405.4L428.7 405.5L429.1 405.6L429.5 405.7L429.8 405.7L430.2 405.8L430.6 405.8L431.0 405.9L431.3 405.9L431.7 405.9L432.0 406.0L432.4 406.0L432.7 406.0L433.1 406.0L433.4 406.0L433.7 406.0L434.1 406.0L434.4 406.0L434.7 406.0L435.1 406.0L435.4 406.0L435.7 405.9L436.0 405.9L436.3 405.9L436.6 405.8L436.9 405.8L437.3 405.8L437.6 405.7L437.9 405.7L438.2 405.6L438.5 405.6L438.8 405.5L439.1 405.5L439.5 405.4L439.8 405.4L440.1 405.3L440.4 405.3L440.7 405.2L441.1 405.2L441.4 405.1L441.7 405.0L442.1 405.0L442.4 404.9L442.8 404.9L443.1 404.8L443.5 404.7L443.8 404.7L444.2 404.6L444.6 404.6L444.9 404.5L445.3 404.4L445.7 404.4L446.1 404.3L446.5 404.3L446.9 404.2L447.3 404.2L447.7 404.1L448.0 404.1L448.4 404.0L448.8 403.9L449.2 403.9L449.6 403.8L450.0 403.7L450.4 403.7L450.8 403.6L451.1 403.5L451.5 403.4L451.9 403.4L452.3 403.3L452.7 403.2L453.1 403.1L453.5 403.1L453.9 403.0L454.3 402.9L454.7 402.8L455.2 402.7L455.6 402.7L456.0 402.6L456.4 402.5L456.9 402.4L457.3 402.3L457.7 402.2L458.2 402.1L458.6 402.0L459.1 401.9L459.6 401.9L460.0 401.8L460.5 401.7L461.0 401.6L461.5 401.5L462.0 401.4L462.5 401.3L463.0 401.2L463.5 401.1L464.0 401.0L464.6 400.9L465.1 400.8L465.7 400.7L466.2 400.6L466.8 400.5L467.4 400.4L468.0 400.3L468.6 400.2L469.2 400.1L469.8 400.0L470.5 399.9L471.1 399.8L471.8 399.7L472.5 399.6L473.2 399.4L473.9 399.3L474.6 399.2L475.3 399.1L476.0 399.0L476.7 398.9L477.5 398.7L478.2 398.6L479.0 398.5L479.7 398.4L480.5 398.3L481.2 398.1L482.0 398.0L482.8 397.9L483.6 397.8L484.4 397.6L485.2 397.5L486.0 397.4L486.7 397.3L487.5 397.1L488.4 397.0L489.2 396.9L490.0 396.7L490.8 396.6L491.6 396.5L492.4 396.4L493.2 396.2L494.0 396.1L494.8 396.0L495.6 395.9L496.4 395.7L497.2 395.6L498.0 395.5L498.8 395.3L499.6 395.2L500.4 395.1L501.2 395.0L501.9 394.8L502.7 394.7L503.5 394.6L504.3 394.5L505.0 394.4" fill="none" stroke="#9ebeff" stroke-width="2.7" stroke-linejoin="round" stroke-linecap="butt"/><path d="M152.6 409.2h6.0v6.0h-6.0zM163.0 402.1h6.0v6.0h-6.0zM157.0 408.0h6.0v6.0h-6.0zM129.5 410.5h6.0v6.0h-6.0zM172.0 422.5h6.0v6.0h-6.0zM171.6 400.7h6.0v6.0h-6.0zM181.4 404.2h6.0v6.0h-6.0zM172.1 410.7h6.0v6.0h-6.0zM183.2 399.2h6.0v6.0h-6.0zM184.3 393.1h6.0v6.0h-6.0zM177.9 387.5h6.0v6.0h-6.0zM186.1 374.9h6.0v6.0h-6.0zM191.7 369.7h6.0v6.0h-6.0zM208.9 353.9h6.0v6.0h-6.0zM222.6 346.7h6.0v6.0h-6.0zM223.6 340.4h6.0v6.0h-6.0zM240.8 330.1h6.0v6.0h-6.0zM252.4 322.8h6.0v6.0h-6.0zM283.2 321.7h6.0v6.0h-6.0zM305.0 328.1h6.0v6.0h-6.0zM323.7 326.3h6.0v6.0h-6.0zM347.9 335.8h6.0v6.0h-6.0zM358.2 341.4h6.0v6.0h-6.0zM374.3 354.9h6.0v6.0h-6.0zM384.9 363.6h6.0v6.0h-6.0zM389.5 372.9h6.0v6.0h-6.0zM399.0 378.0h6.0v6.0h-6.0zM403.3 387.5h6.0v6.0h-6.0zM401.7 393.8h6.0v6.0h-6.0zM407.2 394.1h6.0v6.0h-6.0zM409.5 396.6h6.0v6.0h-6.0zM412.5 396.1h6.0v6.0h-6.0zM415.1 398.6h6.0v6.0h-6.0zM417.9 398.8h6.0v6.0h-6.0zM421.6 400.5h6.0v6.0h-6.0zM423.2 401.7h6.0v6.0h-6.0zM426.3 402.1h6.0v6.0h-6.0zM429.2 401.7h6.0v6.0h-6.0zM432.6 402.5h6.0v6.0h-6.0zM434.5 401.8h6.0v6.0h-6.0zM437.7 401.4h6.0v6.0h-6.0zM441.0 401.5h6.0v6.0h-6.0zM444.2 399.4h6.0v6.0h-6.0zM446.8 399.2h6.0v6.0h-6.0zM449.5 399.0h6.0v6.0h-6.0zM452.2 397.7h6.0v6.0h-6.0zM455.8 398.2h6.0v6.0h-6.0zM459.2 397.1h6.0v6.0h-6.0zM461.5 395.5h6.0v6.0h-6.0zM464.4 395.4h6.0v6.0h-6.0zM467.4 396.7h6.0v6.0h-6.0zM469.6 396.8h6.0v6.0h-6.0zM472.9 395.0h6.0v6.0h-6.0zM475.8 393.4h6.0v6.0h-6.0zM479.0 393.8h6.0v6.0h-6.0zM481.8 393.2h6.0v6.0h-6.0zM484.1 392.3h6.0v6.0h-6.0zM488.3 392.6h6.0v6.0h-6.0zM491.5 391.6h6.0v6.0h-6.0zM493.4 390.8h6.0v6.0h-6.0zM496.7 390.5h6.0v6.0h-6.0zM499.5 390.1h6.0v6.0h-6.0zM264.8 349.0h6.0v6.0h-6.0zM216.7 356.4h6.0v6.0h-6.0z" fill="#c0d4f5"/><path d="M177.0 406.9L177.1 406.6L177.2 406.4L177.3 406.1L177.4 405.8L177.5 405.5L177.7 405.2L177.8 404.9L177.9 404.6L178.0 404.3L178.2 404.0L178.3 403.7L178.4 403.4L178.6 403.0L178.7 402.7L178.9 402.4L179.0 402.0L179.2 401.7L179.4 401.3L179.5 400.9L179.7 400.5L179.9 400.1L180.1 399.7L180.3 399.3L180.5 398.9L180.7 398.5L180.9 398.1L181.1 397.6L181.3 397.2L181.5 396.7L181.8 396.3L182.0 395.8L182.2 395.3L182.5 394.8L182.7 394.3L183.0 393.8L183.3 393.3L183.6 392.8L183.9 392.3L184.2 391.7L184.5 391.2L184.8 390.6L185.1 390.0L185.5 389.4L185.8 388.8L186.2 388.2L186.5 387.6L186.9 387.0L187.3 386.4L187.7 385.7L188.1 385.1L188.5 384.4L189.0 383.7L189.4 383.1L189.9 382.4L190.4 381.7L190.9 380.9L191.4 380.2L191.9 379.5L192.4 378.7L193.0 378.0L193.6 377.2L194.1 376.4L194.8 375.7L195.4 374.9L196.0 374.1L196.7 373.3L197.3 372.4L198.0 371.6L198.7 370.8L199.5 369.9L200.2 369.1L201.0 368.2L201.8 367.3L202.6 366.4L203.5 365.6L204.3 364.7L205.2 363.8L206.1 362.9L207.1 362.0L208.0 361.0L209.0 360.1L210.0 359.2L211.0 358.3L212.1 357.4L213.2 356.4L214.3 355.5L215.4 354.6L216.6 353.6L217.8 352.7L219.0 351.8L220.3 350.9L221.6 349.9L222.9 349.0L224.2 348.1L225.6 347.2L227.0 346.3L228.4 345.4L229.9 344.5L231.4 343.6L232.9 342.8L234.4 341.9L236.0 341.1L237.6 340.3L239.2 339.4L240.9 338.7L242.6 337.9L244.3 337.1L246.0 336.4L247.8 335.7L249.6 334.9L251.4 334.3L253.3 333.6L255.1 333.0L257.0 332.4L258.9 331.8L260.9 331.2L262.8 330.7L264.8 330.2L266.8 329.8L268.8 329.3L270.8 328.9L272.9 328.5L274.9 328.2L277.0 327.9L279.1 327.6L281.2 327.4L283.3 327.2L285.4 327.0L287.5 326.9L289.6 326.8L291.7 326.7L293.9 326.7L296.0 326.7L298.1 326.7L300.2 326.8L302.4 326.9L304.5 327.1L306.6 327.2L308.7 327.5L310.8 327.7L312.8 328.0L314.9 328.3L316.9 328.7L319.0 329.1L321.0 329.5L323.0 329.9L325.0 330.4L327.0 330.9L328.9 331.5L330.8 332.0L332.7 332.6L334.6 333.2L336.5 333.9L338.3 334.5L340.1 335.2L341.9 335.9L343.7 336.7L345.4 337.4L347.1 338.2L348.8 339.0L350.4 339.8L352.1 340.6L353.6 341.4L355.2 342.3L356.7 343.1L358.2 344.0L359.7 344.9L361.2 345.7L362.6 346.6L364.0 347.5L365.3 348.5L366.7 349.4L368.0 350.3L369.2 351.2L370.5 352.1L371.7 353.1L372.9 354.0L374.0 354.9L375.2 355.9L376.3 356.8L377.3 357.7L378.4 358.6L379.4 359.6L380.4 360.5L381.4 361.4L382.3 362.3L383.3 363.2L384.2 364.1L385.0 365.0L385.9 365.9L386.7 366.8L387.5 367.7L388.3 368.5L389.1 369.4L389.8 370.2L390.6 371.1L391.3 371.9L392.0 372.8L392.6 373.6L393.3 374.4L393.9 375.2L394.5 376.0L395.1 376.7L395.7 377.5L396.2 378.3L396.8 379.0L397.3 379.8L397.8 380.5L398.3 381.2L398.8 381.9L399.3 382.6L399.8 383.3L400.2 384.0L400.6 384.7L401.1 385.3L401.5 386.0L401.9 386.6L402.3 387.3L402.6 387.9L403.0 388.5L403.4 389.1L403.7 389.7L404.0 390.2L404.4 390.8L404.7 391.4L405.0 391.9L405.3 392.5L405.6 393.0L405.8 393.5L406.1 394.0L406.4 394.5L406.6 395.0L406.9 395.5L407.1 396.0L407.4 396.5L407.6 396.9L407.8 397.4L408.0 397.8L408.2 398.2L407.3 396.3L407.7 396.5L408.1 396.7L408.5 396.9L409.0 397.0L409.4 397.2L409.8 397.4L410.2 397.6L410.6 397.8L411.1 398.0L411.5 398.2L411.9 398.4L412.3 398.6L412.7 398.8L413.2 399.0L413.6 399.2L414.0 399.4L414.4 399.6L414.8 399.8L415.3 400.0L415.7 400.2L416.1 400.4L416.5 400.6L417.0 400.8L417.4 401.0L417.8 401.2L418.2 401.4L418.6 401.6L419.0 401.7L419.5 401.9L419.9 402.1L420.3 402.3L420.7 402.5L421.1 402.6L421.5 402.8L421.9 403.0L422.4 403.1L422.8 403.3L423.2 403.4L423.6 403.6L424.0 403.7L424.4 403.8L424.8 404.0L425.2 404.1L425.6 404.2L426.0 404.3L426.4 404.4L426.8 404.5L427.2 404.6L427.5 404.7L427.9 404.8L428.3 404.8L428.7 404.9L429.1 404.9L429.4 405.0L429.8 405.0L430.2 405.1L430.5 405.1L430.9 405.1L431.2 405.1L431.6 405.2L431.9 405.2L432.3 405.2L432.6 405.2L433.0 405.2L433.3 405.1L433.7 405.1L434.0 405.1L434.4 405.1L434.7 405.1L435.0 405.0L435.4 405.0L435.7 405.0L436.0 404.9L436.4 404.9L436.7 404.8L437.1 404.8L437.4 404.7L437.7 404.7L438.1 404.6L438.4 404.6L438.8 404.5L439.1 404.4L439.4 404.4L439.8 404.3L440.1 404.3L440.5 404.2L440.8 404.1L441.2 404.1L441.6 404.0L441.9 403.9L442.3 403.9L442.6 403.8L443.0 403.7L443.4 403.7L443.8 403.6L444.2 403.5L444.5 403.5L444.9 403.4L445.3 403.3L445.7 403.3L446.1 403.2L446.5 403.2L446.9 403.1L447.3 403.0L447.7 403.0L448.1 402.9L448.5 402.8L448.9 402.8L449.3 402.7L449.6 402.6L450.0 402.5L450.4 402.4L450.8 402.4L451.2 402.3L451.6 402.2L452.0 402.1L452.4 402.0L452.8 402.0L453.2 401.9L453.6 401.8L454.0 401.7L454.4 401.6L454.8 401.5L455.2 401.4L455.6 401.3L456.1 401.2L456.5 401.1L456.9 401.0L457.3 400.9L457.8 400.9L458.2 400.8L458.7 400.7L459.1 400.6L459.6 400.5L460.1 400.4L460.5 400.3L461.0 400.2L461.5 400.1L462.0 400.0L462.5 399.9L463.0 399.8L463.5 399.6L464.0 399.5L464.6 399.4L465.1 399.3L465.7 399.2L466.2 399.1L466.8 399.0L467.4 398.9L468.0 398.8L468.6 398.7L469.2 398.6L469.8 398.5L470.5 398.4L471.1 398.3L471.8 398.2L472.5 398.0L473.2 397.9L473.9 397.8L474.6 397.7L475.3 397.6L476.0 397.5L476.7 397.3L477.5 397.2L478.2 397.1L479.0 397.0L479.7 396.9L480.5 396.7L481.2 396.6L482.0 396.5L482.8 396.4L483.6 396.2L484.4 396.1L485.2 396.0L486.0 395.9L486.7 395.7L487.5 395.6L488.4 395.5L489.2 395.4L490.0 395.2L490.8 395.1L491.6 395.0L492.4 394.9L493.2 394.7L494.0 394.6L494.8 394.5L495.6 394.4L496.4 394.2L497.2 394.1L498.0 394.0L498.8 393.9L499.6 393.7L500.4 393.6L501.2 393.5L501.9 393.4L502.7 393.2L503.5 393.1L504.3 393.0L505.0 392.9" fill="none" stroke="#c0d4f5" stroke-width="2.7" stroke-linejoin="round" stroke-linecap="butt"/><path d="M130.9 401.8h6.0v6.0h-6.0zM129.0 406.7h6.0v6.0h-6.0zM144.7 410.4h6.0v6.0h-6.0zM178.4 411.7h6.0v6.0h-6.0zM179.5 396.6h6.0v6.0h-6.0zM178.2 403.5h6.0v6.0h-6.0zM184.8 405.7h6.0v6.0h-6.0zM185.7 411.4h6.0v6.0h-6.0zM172.8 394.9h6.0v6.0h-6.0zM175.5 387.2h6.0v6.0h-6.0zM192.4 397.7h6.0v6.0h-6.0zM182.0 372.4h6.0v6.0h-6.0zM200.4 362.4h6.0v6.0h-6.0zM201.2 360.8h6.0v6.0h-6.0zM216.3 350.5h6.0v6.0h-6.0zM229.3 332.8h6.0v6.0h-6.0zM246.1 329.4h6.0v6.0h-6.0zM265.8 330.7h6.0v6.0h-6.0zM281.5 324.0h6.0v6.0h-6.0zM308.1 324.9h6.0v6.0h-6.0zM328.8 329.0h6.0v6.0h-6.0zM348.8 341.9h6.0v6.0h-6.0zM367.0 343.2h6.0v6.0h-6.0zM376.4 356.2h6.0v6.0h-6.0zM385.4 364.0h6.0v6.0h-6.0zM392.9 373.5h6.0v6.0h-6.0zM399.3 379.3h6.0v6.0h-6.0zM405.4 388.1h6.0v6.0h-6.0zM405.5 394.5h6.0v6.0h-6.0zM410.0 395.4h6.0v6.0h-6.0zM413.2 395.8h6.0v6.0h-6.0zM414.9 396.4h6.0v6.0h-6.0zM418.5 397.2h6.0v6.0h-6.0zM420.6 398.7h6.0v6.0h-6.0zM422.9 400.7h6.0v6.0h-6.0zM427.0 400.7h6.0v6.0h-6.0zM428.6 401.7h6.0v6.0h-6.0zM432.6 400.7h6.0v6.0h-6.0zM434.7 400.7h6.0v6.0h-6.0zM438.1 399.4h6.0v6.0h-6.0zM440.0 397.8h6.0v6.0h-6.0zM443.1 398.1h6.0v6.0h-6.0zM447.1 396.7h6.0v6.0h-6.0zM449.5 397.1h6.0v6.0h-6.0zM452.3 396.7h6.0v6.0h-6.0zM454.9 395.0h6.0v6.0h-6.0zM458.2 394.1h6.0v6.0h-6.0zM460.1 394.7h6.0v6.0h-6.0zM463.2 393.8h6.0v6.0h-6.0zM466.6 394.1h6.0v6.0h-6.0zM469.2 392.9h6.0v6.0h-6.0zM472.2 391.8h6.0v6.0h-6.0zM475.4 391.8h6.0v6.0h-6.0zM478.3 391.6h6.0v6.0h-6.0zM481.2 391.6h6.0v6.0h-6.0zM485.2 390.2h6.0v6.0h-6.0zM487.8 389.5h6.0v6.0h-6.0zM490.8 389.2h6.0v6.0h-6.0zM493.0 388.9h6.0v6.0h-6.0zM495.7 389.3h6.0v6.0h-6.0zM498.1 387.1h6.0v6.0h-6.0zM501.7 387.7h6.0v6.0h-6.0zM327.8 326.6h6.0v6.0h-6.0zM242.6 328.1h6.0v6.0h-6.0z" fill="#dddcdc"/><path d="M178.6 406.7L178.7 406.4L178.9 406.2L179.0 405.9L179.1 405.6L179.2 405.3L179.3 405.0L179.4 404.7L179.6 404.4L179.7 404.1L179.8 403.8L180.0 403.5L180.1 403.1L180.3 402.8L180.4 402.5L180.6 402.1L180.7 401.8L180.9 401.4L181.1 401.0L181.2 400.6L181.4 400.3L181.6 399.9L181.8 399.5L182.0 399.1L182.2 398.6L182.4 398.2L182.6 397.8L182.8 397.4L183.1 396.9L183.3 396.4L183.5 396.0L183.8 395.5L184.0 395.0L184.3 394.5L184.5 394.0L184.8 393.5L185.1 393.0L185.4 392.5L185.7 391.9L186.0 391.4L186.3 390.8L186.6 390.3L187.0 389.7L187.3 389.1L187.7 388.5L188.0 387.9L188.4 387.3L188.8 386.7L189.2 386.0L189.6 385.4L190.0 384.7L190.5 384.1L190.9 383.4L191.4 382.7L191.8 382.0L192.3 381.3L192.8 380.6L193.3 379.9L193.9 379.1L194.4 378.4L195.0 377.6L195.6 376.9L196.2 376.1L196.8 375.3L197.4 374.5L198.0 373.7L198.7 372.9L199.4 372.1L200.1 371.3L200.8 370.4L201.6 369.6L202.3 368.7L203.1 367.9L203.9 367.0L204.7 366.1L205.6 365.2L206.5 364.3L207.4 363.4L208.3 362.5L209.2 361.6L210.2 360.7L211.2 359.8L212.2 358.9L213.2 358.0L214.3 357.1L215.4 356.1L216.5 355.2L217.7 354.3L218.8 353.4L220.1 352.4L221.3 351.5L222.5 350.6L223.8 349.7L225.2 348.8L226.5 347.9L227.9 347.0L229.3 346.1L230.7 345.2L232.2 344.3L233.7 343.4L235.2 342.6L236.7 341.7L238.3 340.9L239.9 340.1L241.5 339.3L243.2 338.5L244.9 337.7L246.6 337.0L248.4 336.3L250.1 335.5L251.9 334.8L253.7 334.2L255.6 333.5L257.4 332.9L259.3 332.3L261.2 331.7L263.2 331.2L265.1 330.7L267.1 330.2L269.1 329.7L271.1 329.3L273.1 328.9L275.2 328.5L277.2 328.2L279.3 327.9L281.4 327.6L283.4 327.4L285.5 327.2L287.6 327.0L289.7 326.9L291.9 326.8L294.0 326.7L296.1 326.7L298.2 326.7L300.3 326.7L302.4 326.8L304.6 326.9L306.7 327.1L308.8 327.2L310.8 327.5L312.9 327.7L315.0 328.0L317.1 328.3L319.1 328.7L321.1 329.0L323.2 329.5L325.2 329.9L327.1 330.4L329.1 330.9L331.1 331.4L333.0 332.0L334.9 332.5L336.8 333.1L338.6 333.8L340.5 334.4L342.3 335.1L344.0 335.8L345.8 336.5L347.5 337.3L349.2 338.0L350.9 338.8L352.6 339.6L354.2 340.4L355.8 341.2L357.4 342.1L358.9 342.9L360.4 343.8L361.9 344.7L363.3 345.5L364.7 346.4L366.1 347.3L367.5 348.2L368.8 349.1L370.1 350.0L371.4 351.0L372.7 351.9L373.9 352.8L375.1 353.7L376.3 354.7L377.4 355.6L378.5 356.5L379.6 357.4L380.6 358.3L381.7 359.3L382.7 360.2L383.7 361.1L384.6 362.0L385.6 362.9L386.5 363.8L387.4 364.7L388.2 365.6L389.1 366.5L389.9 367.3L390.7 368.2L391.5 369.1L392.2 369.9L392.9 370.7L393.7 371.6L394.4 372.4L395.0 373.2L395.7 374.0L396.3 374.8L396.9 375.6L397.5 376.4L398.1 377.2L398.7 377.9L399.3 378.7L399.8 379.4L400.3 380.2L400.8 380.9L401.3 381.6L401.8 382.3L402.3 383.0L402.7 383.7L403.2 384.3L403.6 385.0L404.0 385.6L404.4 386.3L404.8 386.9L405.2 387.5L405.6 388.1L405.9 388.7L406.3 389.3L406.6 389.9L407.0 390.5L407.3 391.1L407.6 391.6L407.9 392.2L408.2 392.7L408.5 393.2L408.8 393.7L409.0 394.2L409.3 394.7L409.6 395.2L409.8 395.7L410.0 396.2L410.3 396.6L410.5 397.1L410.7 397.5L410.9 398.0L410.0 396.0L410.4 396.2L410.8 396.4L411.2 396.5L411.5 396.7L411.9 396.9L412.3 397.1L412.7 397.2L413.1 397.4L413.5 397.6L413.9 397.8L414.3 398.0L414.7 398.2L415.1 398.4L415.5 398.6L415.9 398.8L416.3 399.0L416.7 399.1L417.1 399.3L417.5 399.5L417.9 399.7L418.3 399.9L418.7 400.1L419.1 400.3L419.5 400.5L419.9 400.7L420.3 400.9L420.7 401.0L421.1 401.2L421.5 401.4L421.9 401.6L422.3 401.7L422.6 401.9L423.0 402.1L423.4 402.2L423.8 402.4L424.2 402.5L424.6 402.7L425.0 402.8L425.3 403.0L425.7 403.1L426.1 403.2L426.5 403.3L426.9 403.4L427.2 403.5L427.6 403.6L428.0 403.7L428.3 403.8L428.7 403.9L429.1 404.0L429.4 404.0L429.8 404.1L430.1 404.1L430.5 404.2L430.8 404.2L431.1 404.2L431.5 404.2L431.8 404.3L432.1 404.3L432.5 404.3L432.8 404.3L433.1 404.3L433.4 404.3L433.7 404.2L434.0 404.2L434.3 404.2L434.7 404.2L435.0 404.1L435.3 404.1L435.6 404.1L435.9 404.0L436.2 404.0L436.5 403.9L436.8 403.9L437.1 403.8L437.4 403.7L437.7 403.7L438.0 403.6L438.3 403.5L438.6 403.5L438.9 403.4L439.2 403.3L439.5 403.2L439.9 403.2L440.2 403.1L440.5 403.0L440.8 402.9L441.1 402.8L441.5 402.8L441.8 402.7L442.1 402.6L442.5 402.5L442.8 402.4L443.2 402.3L443.5 402.3L443.9 402.2L444.2 402.1L444.6 402.0L445.0 401.9L445.3 401.9L445.7 401.8L446.1 401.7L446.5 401.6L446.9 401.6L447.3 401.5L447.6 401.4L448.0 401.3L448.4 401.2L448.8 401.1L449.2 401.0L449.5 401.0L449.9 400.9L450.3 400.8L450.7 400.7L451.1 400.6L451.5 400.5L451.9 400.4L452.3 400.3L452.7 400.2L453.1 400.1L453.5 400.0L453.9 399.9L454.3 399.7L454.7 399.6L455.1 399.5L455.5 399.4L456.0 399.3L456.4 399.2L456.8 399.1L457.3 399.0L457.7 398.9L458.2 398.8L458.6 398.6L459.1 398.5L459.5 398.4L460.0 398.3L460.5 398.2L461.0 398.1L461.5 398.0L462.0 397.8L462.5 397.7L463.0 397.6L463.5 397.5L464.0 397.4L464.6 397.3L465.1 397.2L465.7 397.0L466.2 396.9L466.8 396.8L467.4 396.7L468.0 396.6L468.6 396.5L469.2 396.4L469.8 396.2L470.5 396.1L471.1 396.0L471.8 395.9L472.5 395.8L473.2 395.7L473.9 395.5L474.6 395.4L475.3 395.3L476.0 395.2L476.7 395.1L477.5 394.9L478.2 394.8L479.0 394.7L479.7 394.6L480.5 394.5L481.2 394.3L482.0 394.2L482.8 394.1L483.6 394.0L484.4 393.8L485.2 393.7L486.0 393.6L486.7 393.5L487.5 393.3L488.4 393.2L489.2 393.1L490.0 393.0L490.8 392.9L491.6 392.7L492.4 392.6L493.2 392.5L494.0 392.4L494.8 392.2L495.6 392.1L496.4 392.0L497.2 391.9L498.0 391.7L498.8 391.6L499.6 391.5L500.4 391.4L501.2 391.2L501.9 391.1L502.7 391.0L503.5 390.9L504.3 390.8L505.0 390.6" fill="none" stroke="#dddcdc" stroke-width="2.7" stroke-linejoin="round" stroke-linecap="butt"/><path d="M135.1 409.2h6.0v6.0h-6.0zM162.6 411.2h6.0v6.0h-6.0zM165.6 403.7h6.0v6.0h-6.0zM134.6 408.8h6.0v6.0h-6.0zM157.1 408.5h6.0v6.0h-6.0zM173.0 410.1h6.0v6.0h-6.0zM178.9 399.6h6.0v6.0h-6.0zM179.6 393.1h6.0v6.0h-6.0zM170.5 399.0h6.0v6.0h-6.0zM170.9 395.9h6.0v6.0h-6.0zM189.2 389.8h6.0v6.0h-6.0zM192.1 381.8h6.0v6.0h-6.0zM195.8 367.3h6.0v6.0h-6.0zM195.1 363.9h6.0v6.0h-6.0zM222.4 351.3h6.0v6.0h-6.0zM215.3 344.0h6.0v6.0h-6.0zM242.8 338.1h6.0v6.0h-6.0zM271.3 325.1h6.0v6.0h-6.0zM285.0 328.1h6.0v6.0h-6.0zM308.5 325.1h6.0v6.0h-6.0zM326.0 325.2h6.0v6.0h-6.0zM351.7 339.2h6.0v6.0h-6.0zM361.2 345.6h6.0v6.0h-6.0zM377.6 358.7h6.0v6.0h-6.0zM387.2 365.7h6.0v6.0h-6.0zM392.3 376.4h6.0v6.0h-6.0zM401.6 381.8h6.0v6.0h-6.0zM401.3 388.7h6.0v6.0h-6.0zM405.7 392.9h6.0v6.0h-6.0zM410.5 394.4h6.0v6.0h-6.0zM412.4 395.5h6.0v6.0h-6.0zM415.2 397.1h6.0v6.0h-6.0zM417.5 398.8h6.0v6.0h-6.0zM420.1 399.6h6.0v6.0h-6.0zM422.6 400.6h6.0v6.0h-6.0zM425.0 401.2h6.0v6.0h-6.0zM429.0 402.2h6.0v6.0h-6.0zM432.8 402.4h6.0v6.0h-6.0zM435.0 400.5h6.0v6.0h-6.0zM437.3 400.2h6.0v6.0h-6.0zM441.4 398.4h6.0v6.0h-6.0zM443.1 397.5h6.0v6.0h-6.0zM445.9 397.1h6.0v6.0h-6.0zM448.5 396.7h6.0v6.0h-6.0zM451.5 395.7h6.0v6.0h-6.0zM454.8 394.4h6.0v6.0h-6.0zM458.9 394.8h6.0v6.0h-6.0zM460.6 393.2h6.0v6.0h-6.0zM463.0 392.7h6.0v6.0h-6.0zM466.2 392.4h6.0v6.0h-6.0zM469.3 391.2h6.0v6.0h-6.0zM471.4 391.9h6.0v6.0h-6.0zM475.3 390.5h6.0v6.0h-6.0zM478.6 391.1h6.0v6.0h-6.0zM481.3 390.6h6.0v6.0h-6.0zM484.4 390.3h6.0v6.0h-6.0zM486.3 389.0h6.0v6.0h-6.0zM489.0 389.3h6.0v6.0h-6.0zM493.6 388.3h6.0v6.0h-6.0zM496.4 388.5h6.0v6.0h-6.0zM497.8 386.8h6.0v6.0h-6.0zM501.7 385.9h6.0v6.0h-6.0z" fill="#f2cbb7"/><path d="M180.1 406.7L180.2 406.5L180.4 406.2L180.5 405.9L180.6 405.6L180.7 405.4L180.8 405.1L180.9 404.8L181.1 404.5L181.2 404.2L181.3 403.8L181.5 403.5L181.6 403.2L181.8 402.9L181.9 402.5L182.1 402.2L182.2 401.8L182.4 401.5L182.6 401.1L182.7 400.7L182.9 400.3L183.1 399.9L183.3 399.5L183.5 399.1L183.7 398.7L183.9 398.3L184.1 397.9L184.3 397.4L184.6 397.0L184.8 396.5L185.0 396.1L185.3 395.6L185.5 395.1L185.8 394.6L186.0 394.1L186.3 393.6L186.6 393.1L186.9 392.6L187.2 392.1L187.5 391.5L187.8 391.0L188.1 390.4L188.5 389.8L188.8 389.2L189.2 388.7L189.5 388.1L189.9 387.4L190.3 386.8L190.7 386.2L191.1 385.5L191.5 384.9L192.0 384.2L192.4 383.6L192.9 382.9L193.3 382.2L193.8 381.5L194.3 380.8L194.8 380.1L195.4 379.3L195.9 378.6L196.5 377.9L197.0 377.1L197.6 376.3L198.2 375.5L198.9 374.8L199.5 374.0L200.2 373.2L200.9 372.3L201.6 371.5L202.3 370.7L203.0 369.9L203.8 369.0L204.6 368.2L205.4 367.3L206.2 366.4L207.0 365.6L207.9 364.7L208.8 363.8L209.7 362.9L210.6 362.0L211.6 361.1L212.6 360.2L213.6 359.3L214.6 358.4L215.7 357.5L216.8 356.6L217.9 355.6L219.0 354.7L220.2 353.8L221.4 352.9L222.6 352.0L223.9 351.1L225.2 350.2L226.5 349.3L227.8 348.4L229.2 347.5L230.6 346.6L232.0 345.7L233.5 344.9L234.9 344.0L236.4 343.1L238.0 342.3L239.5 341.5L241.1 340.7L242.8 339.9L244.4 339.1L246.1 338.4L247.8 337.6L249.5 336.9L251.3 336.2L253.0 335.5L254.9 334.8L256.7 334.2L258.5 333.6L260.4 333.0L262.3 332.4L264.2 331.9L266.2 331.4L268.1 330.9L270.1 330.4L272.1 330.0L274.1 329.6L276.1 329.2L278.1 328.9L280.2 328.6L282.2 328.3L284.3 328.1L286.4 327.9L288.5 327.7L290.6 327.6L292.6 327.5L294.7 327.4L296.8 327.4L298.9 327.4L301.0 327.5L303.1 327.5L305.2 327.7L307.3 327.8L309.4 328.0L311.5 328.2L313.5 328.4L315.6 328.7L317.6 329.0L319.7 329.4L321.7 329.8L323.7 330.2L325.6 330.6L327.6 331.1L329.6 331.6L331.5 332.1L333.4 332.6L335.3 333.2L337.2 333.8L339.0 334.4L340.8 335.1L342.6 335.8L344.4 336.5L346.1 337.2L347.8 337.9L349.5 338.6L351.2 339.4L352.8 340.2L354.4 341.0L356.0 341.8L357.6 342.6L359.1 343.5L360.6 344.3L362.1 345.2L363.5 346.1L364.9 346.9L366.3 347.8L367.7 348.7L369.0 349.6L370.3 350.5L371.6 351.4L372.8 352.3L374.0 353.3L375.2 354.2L376.4 355.1L377.5 356.0L378.6 356.9L379.7 357.8L380.7 358.7L381.8 359.6L382.8 360.6L383.7 361.5L384.7 362.4L385.6 363.2L386.5 364.1L387.4 365.0L388.3 365.9L389.1 366.8L389.9 367.6L390.7 368.5L391.5 369.3L392.2 370.2L393.0 371.0L393.7 371.8L394.4 372.7L395.0 373.5L395.7 374.3L396.3 375.1L396.9 375.9L397.5 376.6L398.1 377.4L398.7 378.1L399.3 378.9L399.8 379.6L400.3 380.4L400.8 381.1L401.3 381.8L401.8 382.5L402.3 383.2L402.7 383.8L403.2 384.5L403.6 385.2L404.0 385.8L404.4 386.4L404.8 387.1L405.2 387.7L405.6 388.3L405.9 388.9L406.3 389.5L406.6 390.0L406.9 390.6L407.3 391.2L407.6 391.7L407.9 392.3L408.2 392.8L408.5 393.3L408.7 393.8L409.0 394.3L409.3 394.8L409.5 395.3L409.8 395.8L410.0 396.3L410.3 396.7L410.5 397.2L410.7 397.6L410.9 398.0L410.0 396.1L410.3 396.3L410.7 396.5L411.0 396.6L411.4 396.8L411.8 397.0L412.1 397.1L412.5 397.3L412.8 397.5L413.2 397.7L413.6 397.9L413.9 398.1L414.3 398.3L414.6 398.5L415.0 398.6L415.4 398.8L415.7 399.0L416.1 399.2L416.4 399.4L416.8 399.6L417.2 399.8L417.5 400.0L417.9 400.2L418.2 400.4L418.6 400.6L419.0 400.8L419.3 400.9L419.7 401.1L420.0 401.3L420.4 401.5L420.8 401.6L421.1 401.8L421.5 402.0L421.8 402.1L422.2 402.3L422.5 402.5L422.9 402.6L423.3 402.7L423.6 402.9L424.0 403.0L424.3 403.1L424.7 403.3L425.1 403.4L425.4 403.5L425.8 403.6L426.1 403.7L426.5 403.8L426.9 403.8L427.2 403.9L427.6 404.0L427.9 404.0L428.3 404.1L428.6 404.1L429.0 404.1L429.3 404.2L429.7 404.2L430.0 404.2L430.4 404.2L430.7 404.2L431.1 404.2L431.4 404.2L431.8 404.1L432.1 404.1L432.5 404.1L432.8 404.0L433.1 404.0L433.5 404.0L433.8 403.9L434.2 403.8L434.5 403.8L434.8 403.7L435.2 403.7L435.5 403.6L435.9 403.5L436.2 403.4L436.6 403.4L436.9 403.3L437.2 403.2L437.6 403.1L437.9 403.0L438.3 402.9L438.6 402.8L439.0 402.7L439.3 402.6L439.7 402.5L440.1 402.4L440.4 402.4L440.8 402.3L441.1 402.2L441.5 402.1L441.9 402.0L442.2 401.9L442.6 401.8L443.0 401.7L443.4 401.6L443.8 401.5L444.1 401.4L444.5 401.3L444.9 401.2L445.3 401.1L445.7 401.0L446.1 401.0L446.5 400.9L446.9 400.8L447.3 400.7L447.7 400.6L448.1 400.5L448.5 400.4L448.9 400.3L449.3 400.3L449.6 400.2L450.0 400.1L450.4 400.0L450.8 399.9L451.2 399.8L451.6 399.7L452.0 399.6L452.4 399.5L452.8 399.4L453.2 399.3L453.6 399.2L454.0 399.1L454.4 399.0L454.8 398.8L455.2 398.7L455.6 398.6L456.1 398.5L456.5 398.4L456.9 398.3L457.3 398.2L457.8 398.1L458.2 398.0L458.7 397.9L459.1 397.8L459.6 397.6L460.1 397.5L460.5 397.4L461.0 397.3L461.5 397.2L462.0 397.1L462.5 397.0L463.0 396.9L463.5 396.7L464.0 396.6L464.6 396.5L465.1 396.4L465.7 396.3L466.2 396.2L466.8 396.1L467.4 396.0L468.0 395.8L468.6 395.7L469.2 395.6L469.8 395.5L470.5 395.4L471.1 395.3L471.8 395.1L472.5 395.0L473.2 394.9L473.9 394.8L474.6 394.7L475.3 394.6L476.0 394.4L476.7 394.3L477.5 394.2L478.2 394.1L479.0 394.0L479.7 393.8L480.5 393.7L481.2 393.6L482.0 393.5L482.8 393.3L483.6 393.2L484.4 393.1L485.2 393.0L486.0 392.9L486.7 392.7L487.5 392.6L488.4 392.5L489.2 392.4L490.0 392.2L490.8 392.1L491.6 392.0L492.4 391.9L493.2 391.7L494.0 391.6L494.8 391.5L495.6 391.4L496.4 391.2L497.2 391.1L498.0 391.0L498.8 390.9L499.6 390.7L500.4 390.6L501.2 390.5L501.9 390.4L502.7 390.3L503.5 390.1L504.3 390.0L505.0 389.9" fill="none" stroke="#f2cbb7" stroke-width="2.7" stroke-linejoin="round" stroke-linecap="butt"/><path d="M128.8 399.2h6.0v6.0h-6.0zM181.9 405.9h6.0v6.0h-6.0zM135.9 409.6h6.0v6.0h-6.0zM153.7 408.9h6.0v6.0h-6.0zM167.2 418.1h6.0v6.0h-6.0zM172.1 406.5h6.0v6.0h-6.0zM165.1 399.1h6.0v6.0h-6.0zM179.1 412.6h6.0v6.0h-6.0zM174.1 401.2h6.0v6.0h-6.0zM194.8 391.6h6.0v6.0h-6.0zM191.9 385.4h6.0v6.0h-6.0zM181.9 385.2h6.0v6.0h-6.0zM189.3 371.8h6.0v6.0h-6.0zM202.5 364.8h6.0v6.0h-6.0zM206.7 347.4h6.0v6.0h-6.0zM228.4 341.9h6.0v6.0h-6.0zM245.2 340.7h6.0v6.0h-6.0zM262.0 336.8h6.0v6.0h-6.0zM284.5 325.1h6.0v6.0h-6.0zM310.0 322.3h6.0v6.0h-6.0zM333.6 329.6h6.0v6.0h-6.0zM352.4 334.9h6.0v6.0h-6.0zM364.6 347.3h6.0v6.0h-6.0zM379.0 358.9h6.0v6.0h-6.0zM385.3 363.8h6.0v6.0h-6.0zM395.0 373.8h6.0v6.0h-6.0zM397.7 380.3h6.0v6.0h-6.0zM404.9 390.7h6.0v6.0h-6.0zM404.2 393.2h6.0v6.0h-6.0zM408.8 395.4h6.0v6.0h-6.0zM412.2 396.1h6.0v6.0h-6.0zM414.0 397.2h6.0v6.0h-6.0zM416.6 399.5h6.0v6.0h-6.0zM419.3 400.0h6.0v6.0h-6.0zM423.1 400.2h6.0v6.0h-6.0zM425.4 401.4h6.0v6.0h-6.0zM427.9 402.0h6.0v6.0h-6.0zM430.7 401.9h6.0v6.0h-6.0zM433.5 400.5h6.0v6.0h-6.0zM437.8 400.9h6.0v6.0h-6.0zM438.8 401.0h6.0v6.0h-6.0zM442.2 398.9h6.0v6.0h-6.0zM445.9 398.3h6.0v6.0h-6.0zM449.0 395.8h6.0v6.0h-6.0zM451.1 395.9h6.0v6.0h-6.0zM454.5 395.7h6.0v6.0h-6.0zM457.4 395.1h6.0v6.0h-6.0zM460.4 393.5h6.0v6.0h-6.0zM462.8 393.6h6.0v6.0h-6.0zM466.6 392.9h6.0v6.0h-6.0zM468.7 392.0h6.0v6.0h-6.0zM472.3 391.3h6.0v6.0h-6.0zM473.8 390.7h6.0v6.0h-6.0zM477.8 390.1h6.0v6.0h-6.0zM479.5 388.9h6.0v6.0h-6.0zM482.3 388.1h6.0v6.0h-6.0zM486.3 389.4h6.0v6.0h-6.0zM488.5 386.5h6.0v6.0h-6.0zM492.1 387.4h6.0v6.0h-6.0zM494.2 386.2h6.0v6.0h-6.0zM498.6 387.0h6.0v6.0h-6.0zM500.7 386.1h6.0v6.0h-6.0zM270.0 346.0h6.0v6.0h-6.0zM260.4 353.4h6.0v6.0h-6.0zM293.0 338.2h6.0v6.0h-6.0zM320.4 322.2h6.0v6.0h-6.0z" fill="#f7ac8e"/><path d="M182.2 407.0L182.3 406.7L182.4 406.4L182.5 406.2L182.7 405.9L182.8 405.6L182.9 405.3L183.0 405.0L183.1 404.7L183.3 404.4L183.4 404.1L183.5 403.8L183.7 403.5L183.8 403.2L184.0 402.8L184.1 402.5L184.3 402.1L184.4 401.8L184.6 401.4L184.8 401.0L184.9 400.7L185.1 400.3L185.3 399.9L185.5 399.5L185.7 399.1L185.9 398.7L186.1 398.2L186.3 397.8L186.5 397.4L186.8 396.9L187.0 396.4L187.2 396.0L187.5 395.5L187.7 395.0L188.0 394.5L188.2 394.0L188.5 393.5L188.8 393.0L189.1 392.5L189.4 391.9L189.7 391.4L190.0 390.8L190.3 390.3L190.7 389.7L191.0 389.1L191.4 388.5L191.8 387.9L192.1 387.3L192.5 386.7L192.9 386.0L193.3 385.4L193.8 384.7L194.2 384.1L194.6 383.4L195.1 382.7L195.6 382.0L196.1 381.3L196.6 380.6L197.1 379.9L197.6 379.2L198.2 378.4L198.8 377.7L199.3 376.9L199.9 376.1L200.5 375.4L201.2 374.6L201.8 373.8L202.5 373.0L203.2 372.1L203.9 371.3L204.6 370.5L205.4 369.6L206.1 368.8L206.9 367.9L207.7 367.1L208.6 366.2L209.4 365.3L210.3 364.4L211.2 363.6L212.1 362.7L213.1 361.8L214.1 360.9L215.0 360.0L216.1 359.1L217.1 358.2L218.2 357.2L219.3 356.3L220.4 355.4L221.6 354.5L222.8 353.6L224.0 352.7L225.2 351.8L226.5 350.9L227.8 350.0L229.1 349.1L230.4 348.2L231.8 347.3L233.2 346.5L234.7 345.6L236.1 344.7L237.6 343.9L239.2 343.1L240.7 342.2L242.3 341.4L243.9 340.6L245.5 339.9L247.2 339.1L248.9 338.4L250.6 337.6L252.3 336.9L254.1 336.2L255.9 335.6L257.7 334.9L259.5 334.3L261.4 333.7L263.3 333.2L265.2 332.6L267.1 332.1L269.0 331.6L271.0 331.2L273.0 330.7L275.0 330.3L277.0 330.0L279.0 329.6L281.0 329.3L283.1 329.1L285.1 328.8L287.2 328.6L289.3 328.5L291.3 328.3L293.4 328.2L295.5 328.2L297.6 328.2L299.7 328.2L301.8 328.2L303.8 328.3L305.9 328.4L308.0 328.5L310.1 328.7L312.1 328.9L314.2 329.2L316.2 329.5L318.2 329.8L320.3 330.1L322.3 330.5L324.2 330.9L326.2 331.3L328.2 331.8L330.1 332.3L332.0 332.8L333.9 333.4L335.8 334.0L337.6 334.6L339.5 335.2L341.3 335.8L343.0 336.5L344.8 337.2L346.5 337.9L348.2 338.6L349.9 339.4L351.6 340.2L353.2 340.9L354.8 341.7L356.3 342.6L357.9 343.4L359.4 344.2L360.9 345.1L362.3 345.9L363.8 346.8L365.2 347.7L366.5 348.6L367.9 349.4L369.2 350.3L370.5 351.2L371.7 352.1L372.9 353.1L374.1 354.0L375.3 354.9L376.5 355.8L377.6 356.7L378.7 357.6L379.7 358.5L380.8 359.4L381.8 360.3L382.8 361.2L383.7 362.1L384.7 363.0L385.6 363.9L386.5 364.8L387.3 365.7L388.2 366.5L389.0 367.4L389.8 368.3L390.6 369.1L391.4 370.0L392.1 370.8L392.8 371.6L393.5 372.5L394.2 373.3L394.9 374.1L395.5 374.9L396.1 375.7L396.7 376.4L397.3 377.2L397.9 378.0L398.5 378.7L399.0 379.5L399.5 380.2L400.1 380.9L400.6 381.6L401.0 382.3L401.5 383.0L402.0 383.7L402.4 384.3L402.8 385.0L403.3 385.7L403.7 386.3L404.1 386.9L404.4 387.5L404.8 388.2L405.2 388.8L405.5 389.3L405.9 389.9L406.2 390.5L406.5 391.1L406.9 391.6L407.2 392.2L407.5 392.7L407.7 393.2L408.0 393.7L408.3 394.2L408.6 394.7L408.8 395.2L409.1 395.7L409.3 396.2L409.5 396.6L409.8 397.1L410.0 397.5L410.2 398.0L410.4 398.4L409.5 396.5L409.9 396.7L410.4 396.9L410.8 397.2L411.3 397.4L411.7 397.6L412.2 397.8L412.6 398.1L413.1 398.3L413.5 398.6L414.0 398.8L414.4 399.1L414.9 399.3L415.3 399.6L415.8 399.8L416.2 400.1L416.7 400.3L417.2 400.6L417.6 400.8L418.1 401.1L418.5 401.3L419.0 401.5L419.4 401.8L419.9 402.0L420.3 402.2L420.8 402.4L421.2 402.7L421.6 402.9L422.1 403.1L422.5 403.3L423.0 403.4L423.4 403.6L423.8 403.8L424.3 403.9L424.7 404.1L425.1 404.2L425.5 404.4L426.0 404.5L426.4 404.6L426.8 404.7L427.2 404.8L427.6 404.8L428.0 404.9L428.4 404.9L428.8 405.0L429.2 405.0L429.5 405.0L429.9 405.0L430.3 405.0L430.6 405.0L431.0 405.0L431.4 405.0L431.7 405.0L432.1 404.9L432.4 404.9L432.8 404.8L433.1 404.8L433.5 404.7L433.8 404.6L434.2 404.6L434.5 404.5L434.9 404.4L435.2 404.3L435.6 404.2L436.0 404.1L436.3 404.1L436.7 404.0L437.0 403.9L437.4 403.8L437.7 403.7L438.1 403.5L438.5 403.4L438.9 403.3L439.2 403.2L439.6 403.1L440.0 403.0L440.4 402.9L440.8 402.8L441.2 402.7L441.6 402.6L442.0 402.5L442.4 402.4L442.8 402.3L443.2 402.2L443.6 402.1L444.0 402.0L444.4 401.9L444.8 401.8L445.2 401.7L445.6 401.6L446.0 401.5L446.4 401.4L446.8 401.2L447.2 401.1L447.6 401.0L448.0 400.9L448.4 400.7L448.9 400.6L449.3 400.5L449.7 400.3L450.1 400.2L450.5 400.1L451.0 399.9L451.4 399.8L451.9 399.7L452.3 399.5L452.8 399.4L453.3 399.2L453.8 399.1L454.3 399.0L454.8 398.8L455.3 398.7L455.8 398.5L456.4 398.4L456.9 398.2L457.5 398.1L458.1 397.9L458.7 397.8L459.3 397.6L459.9 397.5L460.5 397.3L461.2 397.2L461.9 397.0L462.6 396.9L463.4 396.7L464.2 396.5L465.0 396.4L465.8 396.2L466.6 396.0L467.5 395.8L468.4 395.6L469.3 395.5L470.2 395.3L471.1 395.1L472.0 394.9L472.9 394.7L473.9 394.5L474.8 394.3L475.8 394.1L476.7 393.9L477.7 393.8L478.6 393.6L479.6 393.4L480.5 393.2L481.4 393.0L482.4 392.8L483.3 392.7L484.2 392.5L485.1 392.3L485.9 392.1L486.8 392.0L487.6 391.8L488.4 391.7L489.2 391.5L490.0 391.4L490.7 391.2L491.4 391.1L492.1 391.0L492.7 390.9L493.3 390.7L493.9 390.6L494.4 390.5L495.0 390.4L495.5 390.4L496.0 390.3L496.4 390.2L496.8 390.1L497.2 390.1L497.6 390.0L498.0 389.9L498.3 389.9L498.6 389.8L499.0 389.8L499.2 389.8L499.5 389.7L499.8 389.7L500.0 389.7L500.3 389.6L500.5 389.6L500.7 389.6L500.9 389.6L501.2 389.5L501.4 389.5L501.6 389.5L501.7 389.5L501.9 389.5L502.1 389.5L502.3 389.4L502.5 389.4L502.7 389.4L502.9 389.4L503.1 389.4L503.3 389.3L503.5 389.3L503.7 389.3L504.0 389.3L504.2 389.2L504.5 389.2L504.7 389.2L505.0 389.1" fill="none" stroke="#f7ac8e" stroke-width="2.7" stroke-linejoin="round" stroke-linecap="butt"/><path d="M180.4 400.1h6.0v6.0h-6.0zM149.7 402.6h6.0v6.0h-6.0zM163.4 402.0h6.0v6.0h-6.0zM176.8 401.3h6.0v6.0h-6.0zM187.7 401.5h6.0v6.0h-6.0zM187.5 406.4h6.0v6.0h-6.0zM179.0 411.8h6.0v6.0h-6.0zM180.9 384.1h6.0v6.0h-6.0zM183.6 398.5h6.0v6.0h-6.0zM179.2 396.3h6.0v6.0h-6.0zM181.6 391.4h6.0v6.0h-6.0zM203.4 376.2h6.0v6.0h-6.0zM197.5 367.2h6.0v6.0h-6.0zM207.7 362.5h6.0v6.0h-6.0zM213.9 350.3h6.0v6.0h-6.0zM235.9 351.1h6.0v6.0h-6.0zM253.6 337.5h6.0v6.0h-6.0zM265.2 331.1h6.0v6.0h-6.0zM289.1 326.0h6.0v6.0h-6.0zM307.1 324.9h6.0v6.0h-6.0zM335.3 336.2h6.0v6.0h-6.0zM351.5 329.8h6.0v6.0h-6.0zM362.9 348.8h6.0v6.0h-6.0zM380.1 355.7h6.0v6.0h-6.0zM387.7 364.1h6.0v6.0h-6.0zM394.9 372.8h6.0v6.0h-6.0zM400.1 381.5h6.0v6.0h-6.0zM402.0 393.9h6.0v6.0h-6.0zM405.1 395.8h6.0v6.0h-6.0zM409.1 395.0h6.0v6.0h-6.0zM410.8 396.8h6.0v6.0h-6.0zM413.4 397.9h6.0v6.0h-6.0zM415.3 398.4h6.0v6.0h-6.0zM420.0 399.8h6.0v6.0h-6.0zM422.4 401.2h6.0v6.0h-6.0zM424.5 401.8h6.0v6.0h-6.0zM427.9 402.3h6.0v6.0h-6.0zM430.9 401.8h6.0v6.0h-6.0zM433.2 400.7h6.0v6.0h-6.0zM436.5 400.4h6.0v6.0h-6.0zM439.7 399.4h6.0v6.0h-6.0zM442.7 399.2h6.0v6.0h-6.0zM445.8 398.5h6.0v6.0h-6.0zM448.0 397.6h6.0v6.0h-6.0zM450.6 396.1h6.0v6.0h-6.0zM453.9 394.4h6.0v6.0h-6.0zM456.2 393.8h6.0v6.0h-6.0zM458.8 394.4h6.0v6.0h-6.0zM463.0 394.1h6.0v6.0h-6.0zM465.1 392.2h6.0v6.0h-6.0zM468.3 391.8h6.0v6.0h-6.0zM471.5 392.2h6.0v6.0h-6.0zM473.4 390.3h6.0v6.0h-6.0zM477.3 390.2h6.0v6.0h-6.0zM480.1 389.0h6.0v6.0h-6.0zM482.7 389.0h6.0v6.0h-6.0zM485.9 388.1h6.0v6.0h-6.0zM488.1 387.9h6.0v6.0h-6.0zM490.2 388.1h6.0v6.0h-6.0zM494.2 387.1h6.0v6.0h-6.0zM496.8 387.0h6.0v6.0h-6.0zM500.8 385.9h6.0v6.0h-6.0zM324.1 322.9h6.0v6.0h-6.0zM227.8 347.5h6.0v6.0h-6.0z" fill="#ee8468"/><path d="M184.3 407.2L184.4 406.9L184.5 406.7L184.6 406.4L184.7 406.1L184.8 405.9L185.0 405.6L185.1 405.3L185.2 405.0L185.3 404.7L185.4 404.4L185.6 404.1L185.7 403.8L185.9 403.4L186.0 403.1L186.1 402.8L186.3 402.4L186.5 402.1L186.6 401.7L186.8 401.4L186.9 401.0L187.1 400.6L187.3 400.2L187.5 399.8L187.7 399.4L187.9 399.0L188.1 398.6L188.3 398.2L188.5 397.7L188.7 397.3L188.9 396.8L189.2 396.4L189.4 395.9L189.7 395.4L189.9 394.9L190.2 394.4L190.4 393.9L190.7 393.4L191.0 392.9L191.3 392.4L191.6 391.8L191.9 391.3L192.2 390.7L192.6 390.2L192.9 389.6L193.2 389.0L193.6 388.4L194.0 387.8L194.4 387.2L194.7 386.5L195.2 385.9L195.6 385.3L196.0 384.6L196.4 383.9L196.9 383.3L197.4 382.6L197.8 381.9L198.3 381.2L198.8 380.4L199.4 379.7L199.9 379.0L200.5 378.2L201.0 377.5L201.6 376.7L202.2 375.9L202.8 375.2L203.5 374.4L204.1 373.6L204.8 372.8L205.5 371.9L206.2 371.1L207.0 370.3L207.7 369.4L208.5 368.6L209.3 367.7L210.1 366.9L211.0 366.0L211.8 365.1L212.7 364.2L213.6 363.3L214.6 362.5L215.5 361.6L216.5 360.7L217.5 359.8L218.5 358.9L219.6 357.9L220.7 357.0L221.8 356.1L222.9 355.2L224.1 354.3L225.3 353.4L226.5 352.5L227.8 351.6L229.1 350.7L230.4 349.8L231.7 348.9L233.1 348.1L234.5 347.2L235.9 346.3L237.3 345.5L238.8 344.6L240.3 343.8L241.9 343.0L243.4 342.2L245.0 341.4L246.6 340.6L248.3 339.8L250.0 339.1L251.7 338.4L253.4 337.7L255.1 337.0L256.9 336.3L258.7 335.7L260.5 335.1L262.4 334.5L264.2 333.9L266.1 333.4L268.0 332.9L270.0 332.4L271.9 331.9L273.9 331.5L275.9 331.1L277.9 330.7L279.9 330.4L281.9 330.1L283.9 329.8L285.9 329.6L288.0 329.4L290.1 329.2L292.1 329.1L294.2 329.0L296.3 328.9L298.3 328.9L300.4 328.9L302.5 329.0L304.5 329.0L306.6 329.1L308.7 329.3L310.7 329.5L312.8 329.7L314.8 329.9L316.8 330.2L318.8 330.5L320.9 330.9L322.8 331.2L324.8 331.7L326.8 332.1L328.7 332.6L330.6 333.1L332.5 333.6L334.4 334.1L336.3 334.7L338.1 335.3L339.9 335.9L341.7 336.6L343.5 337.3L345.2 337.9L346.9 338.7L348.6 339.4L350.3 340.1L351.9 340.9L353.5 341.7L355.1 342.5L356.7 343.3L358.2 344.1L359.7 345.0L361.2 345.8L362.6 346.7L364.0 347.5L365.4 348.4L366.7 349.3L368.1 350.2L369.4 351.1L370.6 352.0L371.9 352.9L373.1 353.8L374.3 354.7L375.4 355.6L376.6 356.5L377.7 357.4L378.7 358.3L379.8 359.2L380.8 360.1L381.8 361.0L382.8 361.9L383.7 362.8L384.7 363.7L385.6 364.6L386.4 365.5L387.3 366.3L388.1 367.2L388.9 368.1L389.7 368.9L390.5 369.8L391.2 370.6L392.0 371.4L392.7 372.3L393.4 373.1L394.0 373.9L394.7 374.7L395.3 375.5L395.9 376.2L396.5 377.0L397.1 377.8L397.7 378.5L398.2 379.3L398.8 380.0L399.3 380.7L399.8 381.4L400.3 382.1L400.7 382.8L401.2 383.5L401.7 384.2L402.1 384.9L402.5 385.5L402.9 386.2L403.3 386.8L403.7 387.4L404.1 388.0L404.5 388.6L404.8 389.2L405.2 389.8L405.5 390.4L405.8 390.9L406.1 391.5L406.4 392.1L406.7 392.6L407.0 393.1L407.3 393.6L407.6 394.1L407.8 394.6L408.1 395.1L408.4 395.6L408.6 396.1L408.8 396.6L409.1 397.0L409.3 397.5L409.5 397.9L409.7 398.3L409.9 398.7L409.0 396.9L409.4 397.1L409.9 397.3L410.3 397.5L410.8 397.7L411.2 397.9L411.7 398.2L412.1 398.4L412.6 398.6L413.0 398.8L413.5 399.1L413.9 399.3L414.4 399.5L414.8 399.8L415.3 400.0L415.7 400.3L416.2 400.5L416.6 400.7L417.1 401.0L417.5 401.2L418.0 401.4L418.4 401.6L418.9 401.9L419.3 402.1L419.8 402.3L420.2 402.5L420.6 402.7L421.1 402.9L421.5 403.1L421.9 403.3L422.4 403.5L422.8 403.6L423.2 403.8L423.6 403.9L424.1 404.1L424.5 404.2L424.9 404.4L425.3 404.5L425.7 404.6L426.1 404.7L426.4 404.8L426.8 404.8L427.2 404.9L427.6 405.0L427.9 405.0L428.3 405.1L428.6 405.1L429.0 405.1L429.3 405.1L429.7 405.1L430.0 405.1L430.3 405.1L430.6 405.1L431.0 405.1L431.3 405.1L431.6 405.1L431.9 405.0L432.2 405.0L432.5 404.9L432.8 404.9L433.1 404.8L433.4 404.8L433.8 404.7L434.1 404.7L434.4 404.6L434.7 404.5L435.0 404.4L435.3 404.4L435.6 404.3L436.0 404.2L436.3 404.1L436.6 404.0L436.9 404.0L437.3 403.9L437.6 403.8L438.0 403.7L438.3 403.6L438.7 403.5L439.0 403.4L439.4 403.4L439.8 403.3L440.2 403.2L440.5 403.1L440.9 403.0L441.3 402.9L441.6 402.8L442.0 402.7L442.3 402.6L442.6 402.5L443.0 402.4L443.3 402.3L443.7 402.2L444.0 402.1L444.3 401.9L444.7 401.8L445.0 401.7L445.4 401.6L445.7 401.4L446.1 401.3L446.5 401.2L446.8 401.0L447.2 400.9L447.6 400.8L448.0 400.6L448.4 400.5L448.8 400.4L449.2 400.2L449.7 400.1L450.1 399.9L450.6 399.8L451.1 399.6L451.6 399.5L452.1 399.3L452.6 399.2L453.2 399.0L453.7 398.9L454.3 398.7L454.9 398.5L455.5 398.4L456.2 398.2L456.8 398.1L457.5 397.9L458.3 397.7L459.0 397.6L459.8 397.4L460.7 397.2L461.6 397.0L462.5 396.8L463.4 396.6L464.3 396.4L465.3 396.2L466.3 396.0L467.3 395.8L468.3 395.6L469.4 395.4L470.4 395.2L471.5 395.0L472.5 394.8L473.6 394.5L474.7 394.3L475.7 394.1L476.8 393.9L477.9 393.7L478.9 393.5L480.0 393.3L481.0 393.1L482.0 392.9L483.1 392.7L484.1 392.5L485.0 392.3L486.0 392.1L486.9 392.0L487.8 391.8L488.7 391.6L489.5 391.5L490.4 391.3L491.1 391.1L491.9 391.0L492.6 390.9L493.3 390.8L493.9 390.6L494.5 390.5L495.1 390.4L495.6 390.3L496.1 390.2L496.6 390.2L497.0 390.1L497.5 390.0L497.9 389.9L498.2 389.9L498.6 389.8L498.9 389.8L499.2 389.7L499.5 389.7L499.8 389.7L500.1 389.6L500.3 389.6L500.5 389.6L500.8 389.6L501.0 389.5L501.2 389.5L501.4 389.5L501.6 389.5L501.7 389.5L501.9 389.4L502.1 389.4L502.3 389.4L502.4 389.4L502.6 389.4L502.8 389.4L503.0 389.4L503.2 389.4L503.4 389.3L503.6 389.3L503.8 389.3L504.0 389.3L504.2 389.2L504.5 389.2L504.7 389.2L505.0 389.1" fill="none" stroke="#ee8468" stroke-width="2.7" stroke-linejoin="round" stroke-linecap="butt"/><path d="M157.5 410.1h6.0v6.0h-6.0zM149.8 401.8h6.0v6.0h-6.0zM131.2 403.7h6.0v6.0h-6.0zM154.7 398.3h6.0v6.0h-6.0zM179.3 423.3h6.0v6.0h-6.0zM185.4 418.2h6.0v6.0h-6.0zM167.9 391.8h6.0v6.0h-6.0zM187.9 397.2h6.0v6.0h-6.0zM191.9 412.3h6.0v6.0h-6.0zM185.7 401.5h6.0v6.0h-6.0zM196.4 386.4h6.0v6.0h-6.0zM207.1 386.0h6.0v6.0h-6.0zM206.2 370.1h6.0v6.0h-6.0zM219.1 364.0h6.0v6.0h-6.0zM228.7 353.2h6.0v6.0h-6.0zM238.6 351.7h6.0v6.0h-6.0zM254.2 336.4h6.0v6.0h-6.0zM269.8 325.9h6.0v6.0h-6.0zM295.4 332.4h6.0v6.0h-6.0zM310.7 326.2h6.0v6.0h-6.0zM330.2 331.2h6.0v6.0h-6.0zM351.9 338.7h6.0v6.0h-6.0zM363.6 348.6h6.0v6.0h-6.0zM378.6 359.9h6.0v6.0h-6.0zM389.6 368.0h6.0v6.0h-6.0zM395.0 372.8h6.0v6.0h-6.0zM400.6 379.7h6.0v6.0h-6.0zM406.3 385.5h6.0v6.0h-6.0zM409.1 391.3h6.0v6.0h-6.0zM410.7 395.4h6.0v6.0h-6.0zM412.5 396.7h6.0v6.0h-6.0zM414.5 397.1h6.0v6.0h-6.0zM417.8 399.2h6.0v6.0h-6.0zM420.6 400.6h6.0v6.0h-6.0zM423.2 402.1h6.0v6.0h-6.0zM425.2 401.9h6.0v6.0h-6.0zM428.7 402.2h6.0v6.0h-6.0zM431.1 402.3h6.0v6.0h-6.0zM434.9 401.4h6.0v6.0h-6.0zM437.1 400.3h6.0v6.0h-6.0zM440.4 398.8h6.0v6.0h-6.0zM443.5 398.5h6.0v6.0h-6.0zM446.2 397.2h6.0v6.0h-6.0zM449.7 395.4h6.0v6.0h-6.0zM451.2 396.2h6.0v6.0h-6.0zM453.4 395.8h6.0v6.0h-6.0zM458.1 393.9h6.0v6.0h-6.0zM461.2 393.5h6.0v6.0h-6.0zM464.1 393.2h6.0v6.0h-6.0zM466.4 392.4h6.0v6.0h-6.0zM469.4 392.1h6.0v6.0h-6.0zM472.1 391.1h6.0v6.0h-6.0zM474.2 390.9h6.0v6.0h-6.0zM477.6 389.7h6.0v6.0h-6.0zM481.1 390.2h6.0v6.0h-6.0zM483.4 389.5h6.0v6.0h-6.0zM487.7 388.4h6.0v6.0h-6.0zM488.7 388.1h6.0v6.0h-6.0zM492.2 386.9h6.0v6.0h-6.0zM496.0 386.9h6.0v6.0h-6.0zM497.9 386.8h6.0v6.0h-6.0zM500.6 386.1h6.0v6.0h-6.0zM301.9 338.5h6.0v6.0h-6.0zM324.1 343.0h6.0v6.0h-6.0zM209.2 371.3h6.0v6.0h-6.0zM201.8 389.9h6.0v6.0h-6.0z" fill="#d65244"/><path d="M189.5 406.5L189.6 406.3L189.7 406.0L189.9 405.7L190.0 405.5L190.1 405.2L190.2 404.9L190.4 404.6L190.5 404.3L190.7 404.0L190.8 403.7L191.0 403.4L191.1 403.0L191.3 402.7L191.4 402.4L191.6 402.0L191.8 401.7L191.9 401.3L192.1 401.0L192.3 400.6L192.5 400.2L192.7 399.9L192.9 399.5L193.1 399.1L193.3 398.7L193.5 398.3L193.7 397.8L194.0 397.4L194.2 397.0L194.5 396.5L194.7 396.1L195.0 395.6L195.2 395.2L195.5 394.7L195.8 394.2L196.1 393.7L196.3 393.2L196.7 392.7L197.0 392.2L197.3 391.7L197.6 391.2L197.9 390.6L198.3 390.1L198.6 389.5L199.0 389.0L199.4 388.4L199.8 387.8L200.2 387.2L200.6 386.6L201.0 386.0L201.4 385.4L201.9 384.7L202.3 384.1L202.8 383.5L203.3 382.8L203.8 382.1L204.3 381.5L204.8 380.8L205.3 380.1L205.9 379.4L206.4 378.7L207.0 378.0L207.6 377.3L208.2 376.5L208.9 375.8L209.5 375.1L210.2 374.3L210.9 373.5L211.6 372.8L212.3 372.0L213.0 371.2L213.8 370.4L214.5 369.6L215.3 368.8L216.1 368.0L217.0 367.2L217.8 366.4L218.7 365.6L219.6 364.7L220.5 363.9L221.5 363.1L222.4 362.3L223.4 361.4L224.4 360.6L225.5 359.7L226.5 358.9L227.6 358.1L228.7 357.2L229.9 356.4L231.0 355.6L232.2 354.7L233.4 353.9L234.6 353.1L235.9 352.2L237.2 351.4L238.5 350.6L239.8 349.8L241.2 349.0L242.6 348.2L244.0 347.5L245.4 346.7L246.9 346.0L248.4 345.2L249.9 344.5L251.4 343.8L253.0 343.1L254.6 342.4L256.2 341.7L257.8 341.1L259.5 340.4L261.1 339.8L262.8 339.2L264.6 338.7L266.3 338.1L268.1 337.6L269.8 337.1L271.6 336.6L273.4 336.1L275.3 335.7L277.1 335.3L279.0 334.9L280.9 334.6L282.7 334.2L284.6 333.9L286.5 333.7L288.5 333.4L290.4 333.2L292.3 333.1L294.3 332.9L296.2 332.8L298.2 332.7L300.1 332.6L302.1 332.6L304.0 332.6L306.0 332.7L307.9 332.7L309.9 332.8L311.8 333.0L313.8 333.1L315.7 333.3L317.6 333.5L319.5 333.8L321.4 334.1L323.3 334.4L325.2 334.7L327.1 335.1L328.9 335.5L330.8 335.9L332.6 336.3L334.4 336.8L336.2 337.3L338.0 337.8L339.7 338.3L341.5 338.9L343.2 339.5L344.9 340.1L346.5 340.7L348.2 341.3L349.8 342.0L351.4 342.6L353.0 343.3L354.5 344.0L356.0 344.8L357.5 345.5L359.0 346.2L360.5 347.0L361.9 347.8L363.3 348.6L364.7 349.3L366.0 350.1L367.4 350.9L368.7 351.8L369.9 352.6L371.2 353.4L372.4 354.2L373.6 355.0L374.8 355.9L375.9 356.7L377.0 357.6L378.1 358.4L379.2 359.2L380.3 360.1L381.3 360.9L382.3 361.7L383.3 362.6L384.2 363.4L385.2 364.2L386.1 365.1L387.0 365.9L387.8 366.7L388.7 367.5L389.5 368.3L390.3 369.1L391.1 369.9L391.9 370.7L392.6 371.5L393.3 372.3L394.1 373.1L394.7 373.8L395.4 374.6L396.1 375.3L396.7 376.1L397.3 376.8L397.9 377.6L398.5 378.3L399.1 379.0L399.7 379.7L400.2 380.4L400.7 381.1L401.3 381.7L401.8 382.4L402.2 383.1L402.7 383.7L403.2 384.4L403.6 385.0L404.1 385.6L404.5 386.2L404.9 386.8L405.3 387.4L405.7 388.0L406.1 388.6L406.5 389.2L406.8 389.7L407.2 390.3L407.5 390.8L407.9 391.4L408.2 391.9L408.5 392.4L408.8 392.9L409.1 393.4L409.4 393.9L409.7 394.4L409.9 394.9L410.2 395.4L410.5 395.8L410.7 396.3L411.0 396.7L411.2 397.2L411.4 397.6L411.7 398.0L410.7 396.2L411.0 396.4L411.4 396.6L411.8 396.8L412.2 397.1L412.6 397.3L412.9 397.5L413.3 397.8L413.7 398.0L414.1 398.3L414.5 398.5L414.9 398.8L415.2 399.0L415.6 399.3L416.0 399.5L416.4 399.8L416.8 400.0L417.2 400.3L417.6 400.6L417.9 400.8L418.3 401.0L418.7 401.3L419.1 401.5L419.5 401.8L419.9 402.0L420.2 402.2L420.6 402.4L421.0 402.7L421.4 402.9L421.7 403.1L422.1 403.3L422.5 403.5L422.9 403.6L423.2 403.8L423.6 404.0L423.9 404.1L424.3 404.3L424.7 404.4L425.0 404.5L425.4 404.7L425.7 404.8L426.0 404.9L426.4 404.9L426.7 405.0L427.0 405.1L427.4 405.2L427.7 405.2L428.0 405.3L428.3 405.3L428.6 405.3L428.9 405.4L429.2 405.4L429.5 405.4L429.8 405.4L430.1 405.4L430.4 405.4L430.7 405.4L431.0 405.4L431.3 405.3L431.5 405.3L431.8 405.3L432.1 405.2L432.4 405.2L432.7 405.2L433.0 405.1L433.3 405.1L433.6 405.0L433.9 405.0L434.2 404.9L434.5 404.8L434.8 404.8L435.2 404.7L435.5 404.6L435.8 404.6L436.2 404.5L436.5 404.4L436.8 404.3L437.2 404.3L437.6 404.2L437.9 404.1L438.3 404.0L438.7 403.9L439.1 403.9L439.4 403.8L439.8 403.7L440.1 403.6L440.5 403.5L440.9 403.4L441.2 403.3L441.6 403.1L441.9 403.0L442.3 402.9L442.6 402.8L443.0 402.6L443.3 402.5L443.7 402.4L444.1 402.2L444.5 402.1L444.8 402.0L445.2 401.8L445.6 401.7L446.0 401.5L446.4 401.4L446.9 401.2L447.3 401.1L447.7 400.9L448.2 400.8L448.6 400.6L449.1 400.4L449.6 400.3L450.1 400.1L450.6 399.9L451.2 399.8L451.7 399.6L452.3 399.4L452.9 399.3L453.5 399.1L454.1 398.9L454.7 398.8L455.4 398.6L456.1 398.4L456.8 398.3L457.6 398.1L458.4 397.9L459.2 397.7L460.0 397.5L460.9 397.3L461.9 397.1L462.8 396.9L463.8 396.7L464.8 396.5L465.8 396.3L466.8 396.1L467.8 395.8L468.9 395.6L470.0 395.4L471.1 395.2L472.1 395.0L473.2 394.7L474.3 394.5L475.4 394.3L476.5 394.1L477.6 393.8L478.7 393.6L479.7 393.4L480.8 393.2L481.8 393.0L482.9 392.8L483.9 392.6L484.9 392.4L485.9 392.2L486.8 392.0L487.7 391.8L488.6 391.7L489.5 391.5L490.3 391.3L491.1 391.2L491.9 391.0L492.6 390.9L493.3 390.8L493.9 390.6L494.5 390.5L495.1 390.4L495.6 390.3L496.1 390.2L496.6 390.1L497.1 390.1L497.5 390.0L497.9 389.9L498.3 389.9L498.6 389.8L499.0 389.8L499.3 389.7L499.6 389.7L499.9 389.6L500.1 389.6L500.4 389.6L500.6 389.5L500.8 389.5L501.0 389.5L501.2 389.5L501.4 389.5L501.6 389.5L501.8 389.4L502.0 389.4L502.1 389.4L502.3 389.4L502.5 389.4L502.6 389.4L502.8 389.4L503.0 389.4L503.2 389.3L503.4 389.3L503.6 389.3L503.8 389.3L504.0 389.3L504.2 389.2L504.5 389.2L504.7 389.2L505.0 389.1" fill="none" stroke="#d65244" stroke-width="2.7" stroke-linejoin="round" stroke-linecap="butt"/></g>
<g clip-path="url(#cl_b1)"><path d="M1145.1 415.4h6.0v6.0h-6.0zM1148.3 412.4h6.0v6.0h-6.0zM1150.9 409.0h6.0v6.0h-6.0zM1152.8 405.0h6.0v6.0h-6.0zM1155.8 401.7h6.0v6.0h-6.0zM1158.8 398.0h6.0v6.0h-6.0zM1162.6 396.2h6.0v6.0h-6.0zM1166.1 393.5h6.0v6.0h-6.0zM1170.3 391.5h6.0v6.0h-6.0zM1173.3 390.2h6.0v6.0h-6.0zM1179.2 388.4h6.0v6.0h-6.0zM1182.9 388.3h6.0v6.0h-6.0zM1187.6 389.8h6.0v6.0h-6.0zM1190.9 391.2h6.0v6.0h-6.0zM1194.2 394.3h6.0v6.0h-6.0zM1198.9 394.7h6.0v6.0h-6.0zM1203.1 392.9h6.0v6.0h-6.0zM1206.5 390.4h6.0v6.0h-6.0zM1210.2 388.9h6.0v6.0h-6.0zM1214.2 385.6h6.0v6.0h-6.0zM1217.2 383.0h6.0v6.0h-6.0zM1220.6 381.6h6.0v6.0h-6.0zM1225.1 378.1h6.0v6.0h-6.0zM1228.4 376.0h6.0v6.0h-6.0zM1231.6 373.2h6.0v6.0h-6.0zM1235.9 371.4h6.0v6.0h-6.0zM1239.9 368.9h6.0v6.0h-6.0zM1243.4 366.5h6.0v6.0h-6.0zM1247.1 364.8h6.0v6.0h-6.0zM1251.7 362.1h6.0v6.0h-6.0zM1256.1 360.5h6.0v6.0h-6.0zM1259.7 358.4h6.0v6.0h-6.0zM1263.6 357.1h6.0v6.0h-6.0zM1268.1 354.6h6.0v6.0h-6.0zM1272.3 353.0h6.0v6.0h-6.0zM1276.0 351.6h6.0v6.0h-6.0zM1280.4 349.4h6.0v6.0h-6.0zM1281.2 349.3h6.0v6.0h-6.0zM1290.7 344.0h6.0v6.0h-6.0zM1302.4 338.4h6.0v6.0h-6.0zM1314.1 330.5h6.0v6.0h-6.0zM1329.2 322.6h6.0v6.0h-6.0zM1345.2 313.0h6.0v6.0h-6.0zM1367.9 306.4h6.0v6.0h-6.0zM1388.5 299.9h6.0v6.0h-6.0zM1412.4 293.8h6.0v6.0h-6.0zM1439.1 289.6h6.0v6.0h-6.0zM1466.6 288.1h6.0v6.0h-6.0zM1494.4 289.5h6.0v6.0h-6.0zM1521.6 291.7h6.0v6.0h-6.0z" fill="#3b4cc0"/><path d="M1148.1 418.9L1148.8 418.1L1149.4 417.4L1150.1 416.6L1150.8 415.8L1151.5 415.0L1152.1 414.2L1152.8 413.4L1153.5 412.5L1154.2 411.7L1154.8 410.9L1155.5 410.1L1156.2 409.3L1156.9 408.5L1157.5 407.8L1158.2 407.0L1158.9 406.3L1159.6 405.6L1160.2 404.9L1160.9 404.3L1161.6 403.7L1162.3 403.1L1162.9 402.5L1163.6 402.0L1164.3 401.5L1165.0 401.1L1165.6 400.6L1166.3 400.2L1167.0 399.8L1167.7 399.4L1168.4 399.1L1169.1 398.7L1169.7 398.4L1170.4 398.1L1171.1 397.8L1171.8 397.6L1172.5 397.3L1173.1 397.1L1173.8 396.9L1174.5 396.7L1175.1 396.5L1175.8 396.3L1176.5 396.1L1177.1 396.0L1177.7 395.8L1178.4 395.7L1179.0 395.6L1179.7 395.5L1180.3 395.5L1181.0 395.5L1181.6 395.4L1182.3 395.5L1182.9 395.5L1183.5 395.5L1184.2 395.6L1184.8 395.6L1185.4 395.7L1186.0 395.8L1186.6 395.8L1187.2 395.9L1187.8 396.0L1188.4 396.1L1189.0 396.2L1189.5 396.3L1190.0 396.4L1190.6 396.5L1191.1 396.6L1191.6 396.7L1192.0 396.8L1192.5 397.0L1192.9 397.2L1193.3 397.3L1193.7 397.6L1194.0 397.8L1194.4 398.0L1194.8 398.2L1195.1 398.5L1195.4 398.7L1195.8 398.9L1196.1 399.1L1196.5 399.3L1196.9 399.4L1197.3 399.5L1197.6 399.6L1198.1 399.7L1198.5 399.7L1199.0 399.7L1199.5 399.7L1200.0 399.6L1200.5 399.4L1201.1 399.2L1201.6 399.0L1202.2 398.7L1202.8 398.4L1203.4 398.1L1204.0 397.8L1204.6 397.4L1205.3 397.0L1205.9 396.6L1206.6 396.1L1207.2 395.7L1207.9 395.2L1208.6 394.7L1209.3 394.2L1210.1 393.7L1210.8 393.2L1211.6 392.7L1212.4 392.2L1213.2 391.7L1214.0 391.1L1214.8 390.6L1215.7 390.1L1216.6 389.6L1217.5 389.0L1218.4 388.5L1219.4 387.9L1220.3 387.3L1221.3 386.7L1222.3 386.0L1223.4 385.4L1224.4 384.8L1225.5 384.1L1226.5 383.5L1227.6 382.8L1228.6 382.2L1229.7 381.6L1230.8 380.9L1231.8 380.3L1232.9 379.7L1234.0 379.0L1235.0 378.4L1236.0 377.8L1237.0 377.2L1238.1 376.7L1239.1 376.1L1240.1 375.5L1241.2 374.9L1242.2 374.4L1243.3 373.8L1244.3 373.2L1245.4 372.7L1246.4 372.1L1247.5 371.5L1248.5 371.0L1249.6 370.4L1250.6 369.9L1251.6 369.3L1252.6 368.8L1253.6 368.3L1254.6 367.8L1255.6 367.3L1256.5 366.8L1257.5 366.3L1258.4 365.8L1259.3 365.3L1260.1 364.9L1261.0 364.5L1261.8 364.1L1262.5 363.7L1263.3 363.4L1264.0 363.0L1264.8 362.7L1265.5 362.4L1266.2 362.1L1266.8 361.8L1267.5 361.5L1268.2 361.2L1268.9 360.9L1269.6 360.5L1270.3 360.2L1271.0 359.8L1271.7 359.5L1272.4 359.1L1273.2 358.6L1274.0 358.2L1274.8 357.7L1275.6 357.2L1276.4 356.6L1277.3 356.0L1278.2 355.4L1279.1 354.8L1280.0 354.2L1280.9 353.5L1281.9 352.8L1282.8 352.1L1283.8 351.4L1284.7 350.7L1285.7 350.0L1286.7 349.2L1287.6 348.5L1288.6 347.7L1289.6 346.9L1290.6 346.2L1291.5 345.4L1292.5 344.6L1293.5 343.8L1294.4 343.1L1295.4 342.3L1296.3 341.5L1297.3 340.8L1298.2 340.0L1299.2 339.2L1300.1 338.4L1301.1 337.6L1302.0 336.8L1302.9 336.0L1303.9 335.2L1304.8 334.3L1305.8 333.5L1306.7 332.7L1307.7 331.8L1308.6 331.0L1309.5 330.2L1310.5 329.3L1311.4 328.5L1312.4 327.7L1313.3 326.9L1314.3 326.1L1315.2 325.3L1316.2 324.5L1317.1 323.7L1318.0 322.9L1319.0 322.1L1319.9 321.3L1320.9 320.6L1321.8 319.8L1322.8 319.0L1323.7 318.2L1324.6 317.4L1325.6 316.6L1326.5 315.9L1327.5 315.1L1328.4 314.3L1329.4 313.6L1330.3 312.8L1331.2 312.1L1332.2 311.4L1333.1 310.7L1334.1 310.0L1335.0 309.3L1336.0 308.6L1336.9 308.0L1337.8 307.3L1338.8 306.7L1339.7 306.1L1340.7 305.5L1341.6 304.9L1342.6 304.4L1343.5 303.8L1344.5 303.3L1345.4 302.7L1346.3 302.2L1347.3 301.7L1348.2 301.2L1349.2 300.7L1350.1 300.2L1351.1 299.7L1352.0 299.3L1352.9 298.8L1353.9 298.4L1354.8 297.9L1355.8 297.5L1356.7 297.0L1357.7 296.6L1358.6 296.2L1359.5 295.8L1360.5 295.3L1361.4 295.0L1362.4 294.6L1363.3 294.2L1364.3 293.8L1365.2 293.5L1366.1 293.1L1367.1 292.8L1368.0 292.4L1369.0 292.1L1369.9 291.8L1370.9 291.4L1371.8 291.1L1372.8 290.8L1373.7 290.5L1374.6 290.2L1375.6 289.9L1376.5 289.6L1377.5 289.3L1378.4 289.0L1379.4 288.7L1380.3 288.5L1381.2 288.2L1382.2 287.9L1383.1 287.6L1384.0 287.4L1385.0 287.1L1385.9 286.9L1386.8 286.6L1387.8 286.4L1388.7 286.1L1389.6 285.9L1390.6 285.6L1391.5 285.4L1392.5 285.2L1393.4 285.0L1394.3 284.8L1395.3 284.5L1396.2 284.3L1397.2 284.1L1398.2 283.9L1399.1 283.7L1400.1 283.5L1401.1 283.3L1402.1 283.1L1403.1 283.0L1404.1 282.8L1405.1 282.6L1406.1 282.4L1407.1 282.2L1408.1 282.0L1409.1 281.9L1410.1 281.7L1411.1 281.5L1412.2 281.4L1413.2 281.2L1414.2 281.1L1415.2 280.9L1416.2 280.8L1417.3 280.7L1418.3 280.6L1419.3 280.4L1420.3 280.3L1421.3 280.2L1422.3 280.1L1423.3 280.0L1424.3 279.9L1425.3 279.8L1426.2 279.8L1427.1 279.7L1428.0 279.6L1428.9 279.5L1429.8 279.5L1430.7 279.4L1431.6 279.4L1432.5 279.3L1433.5 279.3L1434.4 279.3L1435.4 279.2L1436.4 279.2L1437.4 279.2L1438.5 279.2L1439.6 279.2L1440.8 279.2L1442.0 279.2L1443.3 279.2L1444.6 279.2L1446.0 279.2L1447.4 279.3L1448.9 279.3L1450.4 279.3L1451.9 279.4L1453.5 279.5L1455.2 279.5L1456.8 279.6L1458.5 279.7L1460.3 279.7L1462.0 279.8L1463.8 279.9L1465.5 280.0L1467.3 280.1L1469.1 280.2L1470.9 280.3L1472.7 280.4L1474.5 280.5L1476.3 280.6L1478.1 280.7L1479.9 280.8L1481.6 280.9L1483.5 281.0L1485.3 281.1L1487.2 281.2L1489.1 281.3L1491.0 281.4L1492.9 281.5L1494.8 281.7L1496.7 281.8L1498.6 281.9L1500.5 282.1L1502.4 282.2L1504.4 282.3L1506.3 282.5L1508.2 282.6L1510.1 282.7L1512.1 282.9L1514.0 283.0L1515.9 283.1L1517.8 283.3L1519.8 283.4L1521.7 283.5" fill="none" stroke="#3b4cc0" stroke-width="2.7" stroke-linejoin="round" stroke-linecap="butt"/><path d="M1146.0 416.3h6.0v6.0h-6.0zM1148.4 413.0h6.0v6.0h-6.0zM1147.8 409.7h6.0v6.0h-6.0zM1151.6 407.2h6.0v6.0h-6.0zM1153.3 405.5h6.0v6.0h-6.0zM1155.2 401.3h6.0v6.0h-6.0zM1157.1 398.7h6.0v6.0h-6.0zM1161.7 396.0h6.0v6.0h-6.0zM1163.0 394.7h6.0v6.0h-6.0zM1167.6 394.3h6.0v6.0h-6.0zM1171.6 393.4h6.0v6.0h-6.0zM1172.9 390.7h6.0v6.0h-6.0zM1177.5 391.5h6.0v6.0h-6.0zM1180.2 391.3h6.0v6.0h-6.0zM1184.7 392.3h6.0v6.0h-6.0zM1188.8 396.2h6.0v6.0h-6.0zM1191.7 397.7h6.0v6.0h-6.0zM1191.0 400.6h6.0v6.0h-6.0zM1194.2 403.1h6.0v6.0h-6.0zM1198.6 403.7h6.0v6.0h-6.0zM1202.5 402.5h6.0v6.0h-6.0zM1204.8 400.9h6.0v6.0h-6.0zM1207.0 400.4h6.0v6.0h-6.0zM1210.9 397.6h6.0v6.0h-6.0zM1213.7 396.2h6.0v6.0h-6.0zM1216.6 393.6h6.0v6.0h-6.0zM1219.1 392.1h6.0v6.0h-6.0zM1222.9 389.3h6.0v6.0h-6.0zM1225.8 387.1h6.0v6.0h-6.0zM1228.4 385.4h6.0v6.0h-6.0zM1231.2 383.4h6.0v6.0h-6.0zM1233.3 381.5h6.0v6.0h-6.0zM1236.8 379.8h6.0v6.0h-6.0zM1240.9 377.5h6.0v6.0h-6.0zM1242.8 375.7h6.0v6.0h-6.0zM1244.8 373.0h6.0v6.0h-6.0zM1249.8 371.3h6.0v6.0h-6.0zM1252.2 369.0h6.0v6.0h-6.0zM1256.4 368.5h6.0v6.0h-6.0zM1258.0 365.1h6.0v6.0h-6.0zM1260.8 364.7h6.0v6.0h-6.0zM1263.3 363.4h6.0v6.0h-6.0zM1268.8 361.8h6.0v6.0h-6.0zM1273.1 361.0h6.0v6.0h-6.0zM1274.0 359.4h6.0v6.0h-6.0zM1277.6 359.2h6.0v6.0h-6.0zM1282.0 358.8h6.0v6.0h-6.0zM1284.4 357.9h6.0v6.0h-6.0zM1288.3 355.8h6.0v6.0h-6.0zM1291.8 356.3h6.0v6.0h-6.0zM1295.8 356.9h6.0v6.0h-6.0zM1300.0 355.9h6.0v6.0h-6.0zM1302.7 357.1h6.0v6.0h-6.0zM1307.0 354.9h6.0v6.0h-6.0zM1309.5 357.9h6.0v6.0h-6.0zM1313.4 357.4h6.0v6.0h-6.0zM1314.9 358.7h6.0v6.0h-6.0zM1318.6 361.7h6.0v6.0h-6.0zM1323.5 361.9h6.0v6.0h-6.0zM1325.7 363.1h6.0v6.0h-6.0zM1329.6 365.2h6.0v6.0h-6.0zM1332.7 367.1h6.0v6.0h-6.0zM1336.4 368.4h6.0v6.0h-6.0zM1339.1 370.7h6.0v6.0h-6.0zM1342.4 372.2h6.0v6.0h-6.0zM1344.8 374.1h6.0v6.0h-6.0zM1347.6 375.0h6.0v6.0h-6.0zM1350.8 377.6h6.0v6.0h-6.0zM1354.2 377.8h6.0v6.0h-6.0zM1357.0 380.2h6.0v6.0h-6.0z" fill="#5977e3"/><path d="M1148.1 418.9L1148.6 418.4L1149.0 418.0L1149.5 417.5L1149.9 417.0L1150.3 416.5L1150.8 416.0L1151.2 415.5L1151.7 415.0L1152.1 414.5L1152.5 414.0L1153.0 413.5L1153.4 413.0L1153.8 412.5L1154.3 412.0L1154.7 411.5L1155.2 411.0L1155.6 410.6L1156.1 410.1L1156.6 409.7L1157.0 409.2L1157.5 408.8L1158.0 408.4L1158.5 408.0L1158.9 407.7L1159.5 407.3L1160.0 407.0L1160.5 406.7L1161.0 406.4L1161.5 406.1L1162.1 405.8L1162.6 405.5L1163.2 405.3L1163.7 405.0L1164.3 404.8L1164.9 404.6L1165.4 404.3L1166.0 404.1L1166.6 403.9L1167.2 403.7L1167.8 403.6L1168.4 403.4L1168.9 403.3L1169.5 403.1L1170.1 403.0L1170.7 402.9L1171.3 402.8L1171.9 402.7L1172.5 402.7L1173.1 402.6L1173.6 402.6L1174.2 402.5L1174.8 402.5L1175.4 402.5L1175.9 402.6L1176.5 402.6L1177.1 402.7L1177.7 402.8L1178.3 403.0L1178.9 403.1L1179.5 403.3L1180.1 403.4L1180.7 403.6L1181.3 403.8L1181.9 404.0L1182.5 404.2L1183.1 404.4L1183.6 404.7L1184.2 404.9L1184.8 405.1L1185.4 405.3L1185.9 405.6L1186.5 405.8L1187.0 406.0L1187.6 406.2L1188.1 406.4L1188.6 406.6L1189.1 406.8L1189.6 407.0L1190.1 407.2L1190.6 407.4L1191.0 407.6L1191.4 407.8L1191.9 408.0L1192.3 408.2L1192.7 408.4L1193.1 408.6L1193.5 408.9L1193.9 409.1L1194.3 409.3L1194.7 409.5L1195.1 409.7L1195.4 409.9L1195.8 410.1L1196.2 410.3L1196.6 410.5L1196.9 410.7L1197.3 410.8L1197.7 411.0L1198.1 411.1L1198.4 411.2L1198.8 411.3L1199.2 411.4L1199.6 411.4L1200.0 411.5L1200.4 411.5L1200.8 411.5L1201.2 411.4L1201.6 411.4L1202.0 411.3L1202.3 411.2L1202.7 411.1L1203.1 411.0L1203.5 410.9L1203.9 410.8L1204.3 410.6L1204.7 410.5L1205.1 410.3L1205.5 410.1L1205.9 409.9L1206.3 409.8L1206.7 409.6L1207.1 409.4L1207.5 409.2L1207.9 409.0L1208.3 408.8L1208.7 408.6L1209.1 408.4L1209.5 408.1L1209.9 407.9L1210.4 407.7L1210.8 407.5L1211.2 407.3L1211.6 407.1L1212.1 406.9L1212.5 406.7L1213.0 406.4L1213.4 406.2L1213.8 406.0L1214.3 405.7L1214.7 405.5L1215.2 405.2L1215.6 405.0L1216.1 404.7L1216.5 404.4L1217.0 404.2L1217.4 403.9L1217.9 403.6L1218.4 403.3L1218.8 403.1L1219.3 402.8L1219.8 402.5L1220.3 402.2L1220.7 401.9L1221.2 401.6L1221.7 401.3L1222.2 401.0L1222.7 400.8L1223.2 400.5L1223.8 400.1L1224.3 399.8L1224.9 399.5L1225.4 399.2L1226.0 398.9L1226.5 398.6L1227.1 398.2L1227.7 397.9L1228.3 397.6L1228.8 397.2L1229.4 396.9L1230.0 396.5L1230.5 396.2L1231.1 395.9L1231.7 395.5L1232.2 395.2L1232.8 394.9L1233.3 394.5L1233.8 394.2L1234.4 393.9L1234.9 393.5L1235.4 393.2L1235.8 392.9L1236.3 392.6L1236.8 392.3L1237.2 391.9L1237.6 391.6L1238.0 391.3L1238.4 391.0L1238.8 390.7L1239.2 390.4L1239.6 390.1L1240.0 389.8L1240.4 389.5L1240.7 389.2L1241.1 388.9L1241.4 388.6L1241.8 388.3L1242.1 388.0L1242.5 387.7L1242.8 387.4L1243.2 387.1L1243.5 386.8L1243.9 386.5L1244.2 386.2L1244.5 385.9L1244.9 385.6L1245.2 385.3L1245.6 385.0L1245.9 384.7L1246.3 384.4L1246.6 384.1L1247.0 383.8L1247.3 383.5L1247.7 383.2L1248.0 382.9L1248.3 382.6L1248.6 382.2L1249.0 381.9L1249.3 381.6L1249.6 381.3L1249.9 381.0L1250.2 380.7L1250.6 380.4L1250.9 380.1L1251.2 379.8L1251.6 379.5L1251.9 379.2L1252.2 379.0L1252.6 378.7L1252.9 378.4L1253.3 378.2L1253.7 377.9L1254.1 377.7L1254.4 377.5L1254.8 377.2L1255.2 377.0L1255.6 376.8L1256.0 376.6L1256.4 376.4L1256.8 376.2L1257.2 376.0L1257.5 375.9L1257.9 375.7L1258.3 375.5L1258.7 375.3L1259.1 375.2L1259.5 375.0L1259.9 374.9L1260.4 374.7L1260.8 374.6L1261.2 374.5L1261.7 374.3L1262.2 374.2L1262.7 374.1L1263.2 374.0L1263.7 373.9L1264.3 373.8L1264.8 373.7L1265.4 373.7L1266.0 373.6L1266.7 373.5L1267.4 373.5L1268.1 373.4L1268.8 373.4L1269.5 373.4L1270.3 373.3L1271.1 373.3L1271.9 373.3L1272.8 373.3L1273.6 373.3L1274.5 373.3L1275.4 373.3L1276.3 373.4L1277.2 373.4L1278.1 373.4L1279.0 373.5L1279.9 373.5L1280.8 373.6L1281.7 373.6L1282.7 373.7L1283.6 373.8L1284.5 373.8L1285.4 373.9L1286.3 374.0L1287.2 374.1L1288.1 374.2L1288.9 374.3L1289.8 374.4L1290.6 374.5L1291.5 374.6L1292.4 374.7L1293.2 374.9L1294.1 375.0L1295.0 375.1L1295.8 375.3L1296.7 375.4L1297.5 375.6L1298.4 375.7L1299.3 375.9L1300.1 376.1L1301.0 376.3L1301.9 376.4L1302.7 376.6L1303.6 376.8L1304.4 377.0L1305.3 377.2L1306.1 377.4L1307.0 377.6L1307.8 377.8L1308.7 378.1L1309.5 378.3L1310.3 378.5L1311.2 378.7L1312.0 379.0L1312.8 379.2L1313.7 379.5L1314.5 379.7L1315.3 380.0L1316.1 380.2L1317.0 380.5L1317.8 380.8L1318.6 381.1L1319.5 381.4L1320.3 381.7L1321.1 382.0L1321.9 382.3L1322.7 382.6L1323.5 382.9L1324.3 383.2L1325.1 383.5L1325.9 383.8L1326.7 384.1L1327.5 384.4L1328.2 384.7L1329.0 385.0L1329.7 385.3L1330.5 385.6L1331.2 385.9L1331.9 386.2L1332.6 386.5L1333.3 386.8L1334.0 387.1L1334.7 387.4L1335.4 387.7L1336.1 388.0L1336.7 388.3L1337.4 388.6L1338.0 388.9L1338.7 389.2L1339.3 389.5L1339.9 389.8L1340.6 390.1L1341.2 390.4L1341.8 390.7L1342.4 391.0L1343.0 391.3L1343.6 391.6L1344.2 391.9L1344.8 392.1L1345.4 392.4L1346.0 392.7L1346.5 392.9L1347.1 393.2L1347.7 393.4L1348.2 393.6L1348.8 393.8L1349.4 394.0L1349.9 394.3L1350.5 394.4L1351.0 394.6L1351.5 394.8L1352.1 395.0L1352.6 395.1L1353.1 395.3L1353.6 395.5L1354.1 395.6L1354.6 395.8L1355.1 395.9L1355.6 396.0L1356.0 396.2L1356.5 396.3L1357.0 396.5L1357.5 396.6L1358.0 396.7L1358.5 396.9L1359.0 397.0L1359.5 397.2L1360.0 397.3L1360.5 397.5L1361.0 397.6" fill="none" stroke="#5977e3" stroke-width="2.7" stroke-linejoin="round" stroke-linecap="butt"/><path d="M1144.3 415.5h6.0v6.0h-6.0zM1147.4 413.8h6.0v6.0h-6.0zM1150.3 410.5h6.0v6.0h-6.0zM1151.8 405.9h6.0v6.0h-6.0zM1152.8 403.9h6.0v6.0h-6.0zM1156.2 401.8h6.0v6.0h-6.0zM1158.3 399.3h6.0v6.0h-6.0zM1161.8 398.5h6.0v6.0h-6.0zM1165.3 397.0h6.0v6.0h-6.0zM1167.1 397.1h6.0v6.0h-6.0zM1172.5 396.3h6.0v6.0h-6.0zM1175.1 397.9h6.0v6.0h-6.0zM1178.9 396.3h6.0v6.0h-6.0zM1181.7 398.6h6.0v6.0h-6.0zM1184.9 400.9h6.0v6.0h-6.0zM1188.5 401.5h6.0v6.0h-6.0zM1193.3 401.9h6.0v6.0h-6.0zM1196.9 399.6h6.0v6.0h-6.0zM1197.8 397.7h6.0v6.0h-6.0zM1200.3 393.5h6.0v6.0h-6.0zM1200.9 387.9h6.0v6.0h-6.0zM1201.3 388.4h6.0v6.0h-6.0zM1204.7 384.1h6.0v6.0h-6.0zM1206.9 381.6h6.0v6.0h-6.0zM1208.3 378.3h6.0v6.0h-6.0zM1211.0 377.0h6.0v6.0h-6.0zM1213.5 373.8h6.0v6.0h-6.0zM1215.0 370.1h6.0v6.0h-6.0zM1217.3 368.2h6.0v6.0h-6.0zM1221.1 364.8h6.0v6.0h-6.0zM1224.1 364.7h6.0v6.0h-6.0zM1227.2 362.5h6.0v6.0h-6.0zM1231.6 359.2h6.0v6.0h-6.0zM1235.5 360.9h6.0v6.0h-6.0zM1237.4 360.2h6.0v6.0h-6.0zM1241.7 359.0h6.0v6.0h-6.0zM1245.4 358.4h6.0v6.0h-6.0zM1248.8 357.2h6.0v6.0h-6.0zM1252.6 357.4h6.0v6.0h-6.0zM1255.0 357.8h6.0v6.0h-6.0zM1259.4 356.9h6.0v6.0h-6.0zM1263.9 355.0h6.0v6.0h-6.0zM1266.6 356.0h6.0v6.0h-6.0zM1269.1 359.0h6.0v6.0h-6.0zM1273.6 357.1h6.0v6.0h-6.0zM1277.6 357.7h6.0v6.0h-6.0zM1280.5 356.8h6.0v6.0h-6.0zM1283.4 357.7h6.0v6.0h-6.0zM1288.5 356.5h6.0v6.0h-6.0zM1289.9 357.6h6.0v6.0h-6.0zM1294.7 358.2h6.0v6.0h-6.0zM1297.9 359.3h6.0v6.0h-6.0zM1300.5 360.2h6.0v6.0h-6.0zM1305.7 360.8h6.0v6.0h-6.0zM1308.5 361.1h6.0v6.0h-6.0zM1310.7 362.9h6.0v6.0h-6.0zM1315.3 364.9h6.0v6.0h-6.0zM1317.8 365.1h6.0v6.0h-6.0zM1319.9 367.4h6.0v6.0h-6.0zM1324.1 369.1h6.0v6.0h-6.0zM1328.0 371.1h6.0v6.0h-6.0zM1331.5 372.5h6.0v6.0h-6.0zM1334.3 374.2h6.0v6.0h-6.0zM1337.4 377.4h6.0v6.0h-6.0zM1340.8 376.3h6.0v6.0h-6.0zM1343.4 378.4h6.0v6.0h-6.0zM1347.5 380.9h6.0v6.0h-6.0zM1349.7 381.9h6.0v6.0h-6.0zM1352.8 384.3h6.0v6.0h-6.0z" fill="#7b9ff9"/><path d="M1148.1 418.9L1148.5 418.5L1148.9 418.0L1149.4 417.6L1149.8 417.1L1150.2 416.7L1150.6 416.2L1151.0 415.8L1151.4 415.3L1151.8 414.8L1152.2 414.3L1152.6 413.9L1153.0 413.4L1153.4 412.9L1153.8 412.5L1154.3 412.0L1154.7 411.6L1155.1 411.1L1155.5 410.7L1155.9 410.3L1156.4 409.9L1156.8 409.5L1157.2 409.1L1157.7 408.7L1158.1 408.3L1158.6 408.0L1159.0 407.6L1159.5 407.3L1160.0 407.0L1160.4 406.7L1160.9 406.4L1161.4 406.2L1161.9 405.9L1162.4 405.6L1162.9 405.4L1163.5 405.2L1164.0 404.9L1164.5 404.7L1165.0 404.5L1165.6 404.3L1166.1 404.1L1166.6 404.0L1167.2 403.8L1167.7 403.6L1168.3 403.5L1168.8 403.3L1169.4 403.2L1169.9 403.1L1170.5 403.0L1171.0 402.9L1171.6 402.8L1172.1 402.7L1172.6 402.7L1173.2 402.6L1173.7 402.6L1174.3 402.6L1174.8 402.5L1175.3 402.5L1175.9 402.6L1176.4 402.6L1176.9 402.6L1177.5 402.7L1178.0 402.8L1178.6 402.9L1179.1 403.0L1179.7 403.1L1180.3 403.3L1180.8 403.4L1181.4 403.6L1181.9 403.7L1182.5 403.9L1183.0 404.1L1183.6 404.2L1184.1 404.4L1184.6 404.6L1185.2 404.8L1185.7 405.0L1186.2 405.1L1186.7 405.3L1187.2 405.5L1187.7 405.7L1188.2 405.8L1188.7 406.0L1189.2 406.1L1189.6 406.3L1190.1 406.4L1190.5 406.5L1190.9 406.7L1191.3 406.9L1191.7 407.0L1192.1 407.2L1192.5 407.4L1192.9 407.6L1193.3 407.8L1193.6 408.0L1194.0 408.2L1194.4 408.4L1194.7 408.5L1195.1 408.7L1195.4 408.9L1195.8 409.1L1196.1 409.2L1196.5 409.4L1196.8 409.5L1197.1 409.6L1197.5 409.7L1197.8 409.8L1198.2 409.9L1198.5 410.0L1198.9 410.0L1199.3 410.0L1199.6 410.0L1200.0 410.0L1200.4 409.9L1200.7 409.9L1201.1 409.8L1201.5 409.7L1201.8 409.5L1202.2 409.4L1202.5 409.2L1202.9 409.1L1203.3 408.9L1203.6 408.7L1204.0 408.5L1204.4 408.3L1204.7 408.0L1205.1 407.8L1205.4 407.5L1205.8 407.3L1206.2 407.0L1206.5 406.8L1206.9 406.5L1207.3 406.2L1207.7 405.9L1208.0 405.7L1208.4 405.4L1208.8 405.1L1209.2 404.8L1209.6 404.6L1210.0 404.3L1210.4 404.0L1210.8 403.8L1211.2 403.5L1211.6 403.2L1212.0 402.9L1212.4 402.6L1212.8 402.3L1213.2 402.0L1213.6 401.7L1214.1 401.4L1214.5 401.1L1214.9 400.8L1215.3 400.5L1215.8 400.2L1216.2 399.8L1216.6 399.5L1217.1 399.2L1217.5 398.9L1217.9 398.5L1218.4 398.2L1218.8 397.8L1219.2 397.5L1219.7 397.2L1220.1 396.8L1220.5 396.5L1220.9 396.1L1221.4 395.8L1221.8 395.4L1222.2 395.1L1222.6 394.7L1223.1 394.4L1223.5 394.0L1223.9 393.7L1224.3 393.3L1224.8 392.9L1225.2 392.5L1225.6 392.1L1226.0 391.8L1226.5 391.4L1226.9 391.0L1227.3 390.6L1227.7 390.2L1228.1 389.8L1228.6 389.4L1229.0 389.0L1229.4 388.6L1229.8 388.2L1230.3 387.9L1230.7 387.5L1231.1 387.1L1231.5 386.7L1232.0 386.4L1232.4 386.0L1232.8 385.7L1233.2 385.3L1233.7 385.0L1234.1 384.7L1234.5 384.4L1234.9 384.1L1235.3 383.7L1235.8 383.4L1236.2 383.1L1236.6 382.8L1237.0 382.5L1237.4 382.2L1237.8 381.9L1238.3 381.7L1238.7 381.4L1239.1 381.1L1239.5 380.8L1239.9 380.5L1240.3 380.3L1240.8 380.0L1241.2 379.8L1241.6 379.5L1242.0 379.3L1242.4 379.0L1242.9 378.8L1243.3 378.5L1243.7 378.3L1244.2 378.1L1244.6 377.9L1245.0 377.7L1245.5 377.4L1245.9 377.2L1246.4 377.0L1246.8 376.9L1247.3 376.7L1247.7 376.5L1248.1 376.3L1248.5 376.1L1249.0 376.0L1249.4 375.8L1249.8 375.6L1250.2 375.5L1250.7 375.3L1251.1 375.2L1251.5 375.0L1252.0 374.9L1252.4 374.7L1252.9 374.6L1253.3 374.5L1253.8 374.4L1254.3 374.3L1254.8 374.2L1255.3 374.1L1255.8 374.0L1256.3 373.9L1256.9 373.8L1257.5 373.7L1258.0 373.6L1258.7 373.6L1259.3 373.5L1259.9 373.5L1260.6 373.4L1261.3 373.4L1262.0 373.4L1262.7 373.4L1263.5 373.3L1264.2 373.3L1265.0 373.3L1265.8 373.3L1266.6 373.3L1267.4 373.4L1268.2 373.4L1269.0 373.4L1269.8 373.4L1270.7 373.5L1271.5 373.5L1272.4 373.6L1273.2 373.6L1274.1 373.7L1274.9 373.7L1275.7 373.8L1276.6 373.8L1277.4 373.9L1278.3 374.0L1279.1 374.0L1279.9 374.1L1280.7 374.2L1281.5 374.3L1282.3 374.4L1283.1 374.4L1283.9 374.5L1284.7 374.6L1285.5 374.7L1286.3 374.8L1287.1 374.9L1287.9 375.0L1288.7 375.1L1289.5 375.2L1290.3 375.3L1291.0 375.5L1291.8 375.6L1292.6 375.7L1293.4 375.8L1294.2 376.0L1295.0 376.1L1295.8 376.3L1296.6 376.4L1297.4 376.6L1298.2 376.7L1299.0 376.9L1299.8 377.1L1300.6 377.2L1301.4 377.4L1302.2 377.6L1303.0 377.8L1303.8 378.0L1304.6 378.2L1305.4 378.4L1306.2 378.6L1307.0 378.9L1307.8 379.1L1308.7 379.3L1309.5 379.6L1310.3 379.8L1311.2 380.1L1312.0 380.4L1312.8 380.6L1313.7 380.9L1314.5 381.2L1315.3 381.5L1316.2 381.8L1317.0 382.0L1317.8 382.3L1318.6 382.6L1319.4 382.9L1320.2 383.2L1321.0 383.5L1321.7 383.8L1322.5 384.1L1323.2 384.3L1323.9 384.6L1324.6 384.9L1325.3 385.2L1326.0 385.4L1326.6 385.7L1327.3 386.0L1327.9 386.2L1328.6 386.5L1329.2 386.8L1329.8 387.1L1330.4 387.4L1331.0 387.7L1331.6 388.0L1332.2 388.3L1332.7 388.5L1333.3 388.8L1333.8 389.1L1334.4 389.4L1334.9 389.7L1335.4 390.0L1335.9 390.2L1336.4 390.5L1336.9 390.8L1337.4 391.0L1337.8 391.3L1338.3 391.5L1338.7 391.8L1339.2 392.0L1339.6 392.2L1340.0 392.5L1340.4 392.7L1340.8 392.9L1341.2 393.1L1341.6 393.2L1341.9 393.4L1342.3 393.6L1342.6 393.7L1342.9 393.9L1343.1 394.0L1343.4 394.1L1343.7 394.3L1343.9 394.4L1344.2 394.5L1344.4 394.6L1344.6 394.7L1344.8 394.8L1345.0 394.9L1345.2 395.0L1345.5 395.1L1345.7 395.2L1345.9 395.3L1346.1 395.4L1346.3 395.5L1346.5 395.6L1346.7 395.7L1346.9 395.8L1347.1 395.9L1347.4 396.0L1347.6 396.1" fill="none" stroke="#7b9ff9" stroke-width="2.7" stroke-linejoin="round" stroke-linecap="butt"/><path d="M1145.4 415.9h6.0v6.0h-6.0zM1145.2 413.9h6.0v6.0h-6.0zM1148.6 409.7h6.0v6.0h-6.0zM1151.1 407.7h6.0v6.0h-6.0zM1153.8 404.7h6.0v6.0h-6.0zM1156.2 400.9h6.0v6.0h-6.0zM1158.6 398.7h6.0v6.0h-6.0zM1159.7 398.0h6.0v6.0h-6.0zM1162.2 394.9h6.0v6.0h-6.0zM1167.7 393.0h6.0v6.0h-6.0zM1170.9 395.4h6.0v6.0h-6.0zM1175.1 393.1h6.0v6.0h-6.0zM1177.8 395.4h6.0v6.0h-6.0zM1181.6 396.0h6.0v6.0h-6.0zM1183.5 397.3h6.0v6.0h-6.0zM1188.0 400.1h6.0v6.0h-6.0zM1190.8 398.3h6.0v6.0h-6.0zM1194.2 396.9h6.0v6.0h-6.0zM1196.3 394.9h6.0v6.0h-6.0zM1197.2 391.2h6.0v6.0h-6.0zM1198.6 388.7h6.0v6.0h-6.0zM1199.5 384.5h6.0v6.0h-6.0zM1201.6 380.3h6.0v6.0h-6.0zM1203.2 379.2h6.0v6.0h-6.0zM1204.5 375.3h6.0v6.0h-6.0zM1206.7 372.1h6.0v6.0h-6.0zM1210.8 368.9h6.0v6.0h-6.0zM1212.1 366.2h6.0v6.0h-6.0zM1215.8 365.4h6.0v6.0h-6.0zM1218.4 363.8h6.0v6.0h-6.0zM1220.8 361.3h6.0v6.0h-6.0zM1224.0 360.6h6.0v6.0h-6.0zM1228.0 359.5h6.0v6.0h-6.0zM1231.6 357.5h6.0v6.0h-6.0zM1235.3 356.4h6.0v6.0h-6.0zM1237.4 356.8h6.0v6.0h-6.0zM1241.5 356.7h6.0v6.0h-6.0zM1245.4 355.7h6.0v6.0h-6.0zM1250.2 357.2h6.0v6.0h-6.0zM1250.8 355.7h6.0v6.0h-6.0zM1256.4 356.4h6.0v6.0h-6.0zM1259.3 353.9h6.0v6.0h-6.0zM1263.5 355.2h6.0v6.0h-6.0zM1266.4 355.7h6.0v6.0h-6.0zM1270.6 356.1h6.0v6.0h-6.0zM1275.0 358.1h6.0v6.0h-6.0zM1277.7 356.1h6.0v6.0h-6.0zM1281.3 355.8h6.0v6.0h-6.0zM1284.7 358.2h6.0v6.0h-6.0zM1287.4 357.8h6.0v6.0h-6.0zM1291.8 358.5h6.0v6.0h-6.0zM1294.7 361.1h6.0v6.0h-6.0zM1297.7 360.3h6.0v6.0h-6.0zM1301.6 361.1h6.0v6.0h-6.0zM1304.8 363.3h6.0v6.0h-6.0zM1308.7 365.1h6.0v6.0h-6.0zM1311.3 366.1h6.0v6.0h-6.0zM1314.0 369.6h6.0v6.0h-6.0zM1318.5 370.3h6.0v6.0h-6.0zM1321.1 371.5h6.0v6.0h-6.0zM1324.3 375.2h6.0v6.0h-6.0zM1326.7 375.6h6.0v6.0h-6.0zM1329.0 378.9h6.0v6.0h-6.0zM1331.5 382.3h6.0v6.0h-6.0zM1334.4 383.1h6.0v6.0h-6.0zM1338.1 385.9h6.0v6.0h-6.0zM1340.2 387.3h6.0v6.0h-6.0zM1341.7 390.7h6.0v6.0h-6.0z" fill="#9ebeff"/><path d="M1148.1 418.9L1148.5 418.5L1148.9 418.0L1149.4 417.6L1149.8 417.1L1150.2 416.7L1150.6 416.2L1151.0 415.8L1151.4 415.3L1151.8 414.8L1152.2 414.3L1152.6 413.9L1153.0 413.4L1153.4 412.9L1153.8 412.5L1154.3 412.0L1154.7 411.6L1155.1 411.1L1155.5 410.7L1155.9 410.3L1156.4 409.9L1156.8 409.5L1157.2 409.1L1157.7 408.7L1158.1 408.3L1158.6 408.0L1159.0 407.6L1159.5 407.3L1160.0 407.0L1160.4 406.7L1160.9 406.4L1161.4 406.2L1161.9 405.9L1162.4 405.7L1162.9 405.4L1163.5 405.2L1164.0 405.0L1164.5 404.8L1165.0 404.6L1165.6 404.4L1166.1 404.2L1166.6 404.0L1167.2 403.8L1167.7 403.7L1168.3 403.5L1168.8 403.4L1169.4 403.3L1169.9 403.2L1170.5 403.1L1171.0 403.0L1171.6 402.9L1172.1 402.8L1172.6 402.7L1173.2 402.7L1173.7 402.6L1174.3 402.6L1174.8 402.5L1175.3 402.5L1175.9 402.5L1176.4 402.5L1176.9 402.6L1177.5 402.6L1178.0 402.7L1178.6 402.8L1179.1 402.8L1179.7 402.9L1180.3 403.1L1180.8 403.2L1181.4 403.3L1181.9 403.4L1182.5 403.6L1183.0 403.7L1183.6 403.8L1184.1 404.0L1184.6 404.1L1185.2 404.3L1185.7 404.4L1186.2 404.6L1186.7 404.7L1187.2 404.9L1187.7 405.0L1188.2 405.2L1188.7 405.3L1189.2 405.4L1189.6 405.5L1190.1 405.6L1190.5 405.8L1190.9 405.9L1191.3 406.0L1191.7 406.2L1192.1 406.4L1192.5 406.5L1192.9 406.7L1193.3 406.9L1193.6 407.1L1194.0 407.2L1194.4 407.4L1194.7 407.6L1195.1 407.7L1195.4 407.9L1195.8 408.0L1196.1 408.2L1196.5 408.3L1196.8 408.4L1197.1 408.5L1197.5 408.6L1197.8 408.6L1198.2 408.7L1198.5 408.7L1198.9 408.7L1199.3 408.6L1199.6 408.6L1200.0 408.5L1200.4 408.4L1200.7 408.2L1201.1 408.0L1201.5 407.8L1201.8 407.6L1202.2 407.4L1202.5 407.1L1202.9 406.8L1203.3 406.6L1203.6 406.2L1204.0 405.9L1204.4 405.6L1204.7 405.2L1205.1 404.9L1205.4 404.5L1205.8 404.1L1206.2 403.7L1206.5 403.3L1206.9 403.0L1207.3 402.6L1207.7 402.2L1208.0 401.8L1208.4 401.4L1208.8 401.0L1209.2 400.6L1209.6 400.3L1210.0 399.9L1210.4 399.6L1210.8 399.2L1211.2 398.9L1211.6 398.5L1212.0 398.1L1212.4 397.8L1212.8 397.4L1213.2 397.0L1213.6 396.7L1214.1 396.3L1214.5 395.9L1214.9 395.5L1215.3 395.1L1215.8 394.7L1216.2 394.4L1216.6 394.0L1217.1 393.6L1217.5 393.2L1217.9 392.8L1218.4 392.4L1218.8 392.1L1219.2 391.7L1219.7 391.3L1220.1 390.9L1220.5 390.6L1220.9 390.2L1221.4 389.8L1221.8 389.5L1222.2 389.1L1222.6 388.8L1223.1 388.5L1223.5 388.1L1223.9 387.8L1224.3 387.4L1224.8 387.1L1225.2 386.7L1225.6 386.4L1226.0 386.0L1226.5 385.7L1226.9 385.4L1227.3 385.0L1227.7 384.7L1228.1 384.4L1228.6 384.0L1229.0 383.7L1229.4 383.4L1229.8 383.1L1230.3 382.8L1230.7 382.5L1231.1 382.2L1231.5 381.9L1232.0 381.6L1232.4 381.3L1232.8 381.0L1233.2 380.7L1233.7 380.5L1234.1 380.2L1234.5 380.0L1234.9 379.7L1235.3 379.5L1235.8 379.3L1236.2 379.0L1236.6 378.8L1237.0 378.6L1237.4 378.4L1237.8 378.2L1238.3 378.0L1238.7 377.8L1239.1 377.6L1239.5 377.4L1239.9 377.2L1240.3 377.0L1240.8 376.8L1241.2 376.7L1241.6 376.5L1242.0 376.3L1242.4 376.2L1242.9 376.0L1243.3 375.9L1243.7 375.7L1244.2 375.6L1244.6 375.4L1245.0 375.3L1245.5 375.2L1245.9 375.0L1246.4 374.9L1246.8 374.8L1247.3 374.6L1247.7 374.5L1248.1 374.4L1248.5 374.3L1249.0 374.2L1249.4 374.1L1249.8 373.9L1250.2 373.8L1250.7 373.7L1251.1 373.7L1251.5 373.6L1252.0 373.5L1252.4 373.4L1252.9 373.3L1253.3 373.3L1253.8 373.2L1254.3 373.1L1254.8 373.1L1255.3 373.0L1255.8 373.0L1256.3 372.9L1256.9 372.9L1257.5 372.8L1258.0 372.8L1258.7 372.8L1259.3 372.8L1259.9 372.8L1260.6 372.8L1261.3 372.8L1262.0 372.8L1262.7 372.8L1263.5 372.8L1264.2 372.8L1265.0 372.9L1265.8 372.9L1266.6 372.9L1267.4 373.0L1268.2 373.0L1269.0 373.1L1269.8 373.1L1270.7 373.2L1271.5 373.2L1272.4 373.3L1273.2 373.4L1274.1 373.4L1274.9 373.5L1275.7 373.6L1276.6 373.7L1277.4 373.8L1278.3 373.9L1279.1 374.0L1279.9 374.1L1280.7 374.2L1281.5 374.3L1282.3 374.4L1283.1 374.5L1283.9 374.6L1284.7 374.7L1285.5 374.9L1286.3 375.0L1287.1 375.1L1288.0 375.2L1288.8 375.4L1289.6 375.5L1290.4 375.7L1291.2 375.8L1292.0 376.0L1292.8 376.1L1293.6 376.3L1294.4 376.5L1295.2 376.6L1296.0 376.8L1296.8 377.0L1297.6 377.2L1298.4 377.3L1299.2 377.5L1300.0 377.7L1300.7 377.9L1301.5 378.1L1302.3 378.3L1303.0 378.5L1303.8 378.7L1304.5 379.0L1305.2 379.2L1306.0 379.4L1306.7 379.6L1307.5 379.9L1308.2 380.1L1309.0 380.4L1309.7 380.6L1310.4 380.9L1311.2 381.2L1311.9 381.4L1312.6 381.7L1313.3 382.0L1314.0 382.3L1314.7 382.5L1315.4 382.8L1316.1 383.1L1316.8 383.4L1317.5 383.7L1318.1 384.0L1318.8 384.2L1319.4 384.5L1320.1 384.8L1320.7 385.1L1321.3 385.4L1321.9 385.6L1322.5 385.9L1323.0 386.2L1323.6 386.4L1324.1 386.7L1324.6 387.0L1325.2 387.3L1325.7 387.5L1326.2 387.8L1326.6 388.1L1327.1 388.4L1327.6 388.7L1328.0 389.0L1328.5 389.3L1328.9 389.6L1329.4 389.8L1329.8 390.1L1330.2 390.4L1330.6 390.7L1331.0 391.0L1331.4 391.2L1331.8 391.5L1332.1 391.8L1332.5 392.0L1332.9 392.3L1333.2 392.5L1333.6 392.7L1333.9 393.0L1334.2 393.2L1334.6 393.4L1334.9 393.6L1335.2 393.8L1335.5 394.0L1335.8 394.2L1336.1 394.4L1336.3 394.5L1336.6 394.7L1336.8 394.8L1337.1 395.0L1337.3 395.1L1337.5 395.3L1337.7 395.4L1337.9 395.5L1338.1 395.6L1338.3 395.8L1338.5 395.9L1338.7 396.0L1338.9 396.1L1339.1 396.2L1339.2 396.3L1339.4 396.5L1339.6 396.6L1339.8 396.7L1340.0 396.8L1340.2 396.9L1340.4 397.1L1340.6 397.2L1340.8 397.3" fill="none" stroke="#9ebeff" stroke-width="2.7" stroke-linejoin="round" stroke-linecap="butt"/><path d="M1145.9 414.9h6.0v6.0h-6.0zM1146.9 413.5h6.0v6.0h-6.0zM1149.9 410.9h6.0v6.0h-6.0zM1151.5 407.7h6.0v6.0h-6.0zM1154.3 404.8h6.0v6.0h-6.0zM1158.4 402.9h6.0v6.0h-6.0zM1160.9 401.6h6.0v6.0h-6.0zM1163.8 400.3h6.0v6.0h-6.0zM1166.7 401.2h6.0v6.0h-6.0zM1172.0 400.5h6.0v6.0h-6.0zM1175.3 399.9h6.0v6.0h-6.0zM1178.0 401.0h6.0v6.0h-6.0zM1181.9 402.0h6.0v6.0h-6.0zM1184.2 403.4h6.0v6.0h-6.0zM1187.4 404.7h6.0v6.0h-6.0zM1190.7 402.8h6.0v6.0h-6.0zM1193.5 400.4h6.0v6.0h-6.0zM1195.0 396.3h6.0v6.0h-6.0zM1195.8 392.0h6.0v6.0h-6.0zM1198.2 390.0h6.0v6.0h-6.0zM1199.6 385.7h6.0v6.0h-6.0zM1200.6 383.1h6.0v6.0h-6.0zM1203.1 381.1h6.0v6.0h-6.0zM1204.1 377.6h6.0v6.0h-6.0zM1206.4 375.3h6.0v6.0h-6.0zM1209.2 371.3h6.0v6.0h-6.0zM1211.4 370.2h6.0v6.0h-6.0zM1214.8 366.2h6.0v6.0h-6.0zM1216.3 364.8h6.0v6.0h-6.0zM1221.4 365.1h6.0v6.0h-6.0zM1223.0 361.6h6.0v6.0h-6.0zM1226.9 359.9h6.0v6.0h-6.0zM1229.4 360.7h6.0v6.0h-6.0zM1234.3 358.7h6.0v6.0h-6.0zM1238.4 360.2h6.0v6.0h-6.0zM1241.7 358.2h6.0v6.0h-6.0zM1245.1 359.3h6.0v6.0h-6.0zM1246.9 357.4h6.0v6.0h-6.0zM1251.0 359.0h6.0v6.0h-6.0zM1254.8 359.7h6.0v6.0h-6.0zM1258.0 357.5h6.0v6.0h-6.0zM1263.1 356.2h6.0v6.0h-6.0zM1266.0 358.5h6.0v6.0h-6.0zM1269.4 357.6h6.0v6.0h-6.0zM1273.3 358.4h6.0v6.0h-6.0zM1275.8 359.1h6.0v6.0h-6.0zM1279.3 358.9h6.0v6.0h-6.0zM1282.8 358.9h6.0v6.0h-6.0zM1287.3 361.8h6.0v6.0h-6.0zM1290.6 361.4h6.0v6.0h-6.0zM1294.2 362.6h6.0v6.0h-6.0zM1297.9 365.1h6.0v6.0h-6.0zM1299.5 364.1h6.0v6.0h-6.0zM1303.3 365.3h6.0v6.0h-6.0zM1307.0 369.1h6.0v6.0h-6.0zM1308.9 369.0h6.0v6.0h-6.0zM1312.4 372.3h6.0v6.0h-6.0zM1316.3 374.7h6.0v6.0h-6.0zM1319.2 375.7h6.0v6.0h-6.0zM1321.7 379.1h6.0v6.0h-6.0zM1323.5 381.6h6.0v6.0h-6.0zM1325.7 383.3h6.0v6.0h-6.0zM1329.1 386.1h6.0v6.0h-6.0zM1330.5 388.9h6.0v6.0h-6.0zM1333.6 393.1h6.0v6.0h-6.0z" fill="#c0d4f5"/><path d="M1148.1 418.9L1148.5 418.5L1148.9 418.0L1149.4 417.6L1149.8 417.1L1150.2 416.7L1150.6 416.2L1151.0 415.8L1151.4 415.3L1151.8 414.8L1152.2 414.4L1152.6 413.9L1153.0 413.4L1153.4 413.0L1153.8 412.5L1154.3 412.1L1154.7 411.6L1155.1 411.2L1155.5 410.8L1155.9 410.3L1156.4 409.9L1156.8 409.5L1157.2 409.1L1157.7 408.7L1158.1 408.3L1158.6 408.0L1159.0 407.6L1159.5 407.3L1160.0 407.0L1160.4 406.7L1160.9 406.4L1161.4 406.1L1161.9 405.8L1162.4 405.6L1162.9 405.3L1163.5 405.0L1164.0 404.8L1164.5 404.5L1165.0 404.3L1165.6 404.1L1166.1 403.9L1166.6 403.7L1167.2 403.5L1167.7 403.3L1168.3 403.1L1168.8 402.9L1169.4 402.8L1169.9 402.6L1170.5 402.5L1171.0 402.4L1171.6 402.2L1172.1 402.1L1172.6 402.0L1173.2 402.0L1173.7 401.9L1174.3 401.8L1174.8 401.8L1175.3 401.8L1175.9 401.8L1176.4 401.8L1177.0 401.8L1177.5 401.8L1178.1 401.9L1178.7 402.0L1179.2 402.1L1179.8 402.2L1180.4 402.3L1181.0 402.4L1181.5 402.5L1182.1 402.7L1182.7 402.8L1183.2 403.0L1183.8 403.1L1184.3 403.3L1184.9 403.4L1185.4 403.6L1185.9 403.7L1186.4 403.9L1186.9 404.0L1187.4 404.2L1187.9 404.3L1188.3 404.4L1188.8 404.6L1189.2 404.7L1189.6 404.8L1190.0 404.9L1190.3 405.0L1190.7 405.1L1191.0 405.3L1191.3 405.4L1191.6 405.6L1191.8 405.8L1192.1 405.9L1192.3 406.1L1192.5 406.3L1192.7 406.5L1193.0 406.7L1193.2 406.8L1193.4 407.0L1193.6 407.1L1193.8 407.3L1194.0 407.4L1194.2 407.5L1194.4 407.6L1194.6 407.6L1194.9 407.6L1195.1 407.6L1195.4 407.6L1195.7 407.6L1196.0 407.5L1196.3 407.4L1196.6 407.2L1197.0 407.0L1197.4 406.8L1197.8 406.5L1198.2 406.2L1198.7 405.8L1199.1 405.4L1199.6 405.0L1200.0 404.5L1200.5 404.0L1201.0 403.5L1201.5 403.0L1202.0 402.4L1202.5 401.9L1203.0 401.3L1203.5 400.7L1204.1 400.1L1204.6 399.5L1205.1 398.9L1205.7 398.3L1206.2 397.6L1206.8 397.0L1207.3 396.4L1207.8 395.8L1208.4 395.2L1208.9 394.6L1209.5 394.0L1210.0 393.5L1210.5 392.9L1211.0 392.4L1211.6 391.9L1212.1 391.4L1212.6 390.9L1213.1 390.4L1213.7 389.8L1214.2 389.3L1214.8 388.8L1215.3 388.2L1215.8 387.7L1216.4 387.1L1216.9 386.6L1217.5 386.1L1218.0 385.6L1218.6 385.0L1219.1 384.5L1219.7 384.0L1220.2 383.5L1220.8 383.0L1221.3 382.5L1221.8 382.1L1222.4 381.6L1222.9 381.1L1223.5 380.7L1224.0 380.3L1224.6 379.9L1225.1 379.5L1225.6 379.1L1226.2 378.7L1226.7 378.4L1227.2 378.1L1227.8 377.7L1228.3 377.4L1228.8 377.1L1229.4 376.8L1229.9 376.5L1230.4 376.3L1230.9 376.0L1231.5 375.7L1232.0 375.5L1232.5 375.3L1233.1 375.0L1233.6 374.8L1234.1 374.6L1234.6 374.4L1235.1 374.2L1235.7 374.0L1236.2 373.9L1236.7 373.7L1237.2 373.6L1237.8 373.4L1238.3 373.3L1238.8 373.2L1239.3 373.1L1239.9 373.0L1240.4 372.9L1240.9 372.8L1241.4 372.7L1241.9 372.7L1242.4 372.6L1242.9 372.6L1243.4 372.6L1243.9 372.6L1244.4 372.6L1244.9 372.6L1245.4 372.6L1245.9 372.7L1246.4 372.7L1246.9 372.8L1247.3 372.9L1247.8 372.9L1248.3 373.0L1248.8 373.1L1249.3 373.2L1249.8 373.3L1250.4 373.4L1250.9 373.5L1251.4 373.6L1251.9 373.7L1252.5 373.8L1253.0 373.9L1253.6 374.0L1254.2 374.1L1254.7 374.2L1255.3 374.3L1255.9 374.4L1256.5 374.5L1257.2 374.6L1257.8 374.7L1258.4 374.8L1259.1 374.9L1259.7 375.0L1260.4 375.1L1261.0 375.3L1261.7 375.4L1262.4 375.5L1263.1 375.7L1263.8 375.8L1264.4 375.9L1265.1 376.1L1265.8 376.2L1266.5 376.3L1267.2 376.5L1267.9 376.6L1268.7 376.7L1269.4 376.9L1270.1 377.0L1270.8 377.1L1271.5 377.2L1272.2 377.4L1272.9 377.5L1273.6 377.6L1274.4 377.7L1275.1 377.8L1275.8 377.9L1276.6 378.0L1277.3 378.1L1278.1 378.2L1278.9 378.3L1279.6 378.3L1280.4 378.4L1281.2 378.5L1282.0 378.6L1282.8 378.7L1283.6 378.7L1284.4 378.8L1285.2 378.9L1286.0 379.0L1286.8 379.1L1287.6 379.1L1288.4 379.2L1289.1 379.3L1289.9 379.4L1290.6 379.5L1291.3 379.5L1292.0 379.6L1292.7 379.7L1293.3 379.8L1294.0 379.9L1294.6 380.0L1295.2 380.1L1295.7 380.2L1296.3 380.3L1296.8 380.4L1297.3 380.5L1297.8 380.6L1298.3 380.7L1298.8 380.8L1299.2 380.9L1299.6 381.0L1300.1 381.1L1300.5 381.2L1300.9 381.3L1301.3 381.4L1301.7 381.5L1302.0 381.6L1302.4 381.7L1302.8 381.9L1303.1 382.0L1303.5 382.1L1303.8 382.2L1304.2 382.3L1304.5 382.4L1304.9 382.6L1305.3 382.7L1305.6 382.8L1306.0 382.9L1306.3 383.1L1306.7 383.2L1307.1 383.3L1307.4 383.5L1307.8 383.6L1308.2 383.7L1308.5 383.9L1308.9 384.0L1309.2 384.1L1309.6 384.3L1309.9 384.4L1310.3 384.6L1310.6 384.7L1310.9 384.8L1311.3 385.0L1311.6 385.1L1311.9 385.3L1312.3 385.4L1312.6 385.6L1312.9 385.7L1313.2 385.9L1313.6 386.0L1313.9 386.2L1314.2 386.4L1314.5 386.5L1314.8 386.7L1315.1 386.9L1315.4 387.0L1315.7 387.2L1316.0 387.4L1316.3 387.5L1316.6 387.7L1316.9 387.9L1317.2 388.1L1317.5 388.3L1317.8 388.5L1318.0 388.7L1318.3 388.9L1318.6 389.1L1318.9 389.3L1319.1 389.5L1319.4 389.7L1319.7 389.9L1320.0 390.1L1320.2 390.3L1320.5 390.5L1320.7 390.7L1321.0 390.9L1321.2 391.1L1321.5 391.4L1321.7 391.6L1322.0 391.8L1322.2 391.9L1322.5 392.1L1322.7 392.3L1322.9 392.5L1323.1 392.7L1323.4 392.9L1323.6 393.0L1323.8 393.2L1324.0 393.4L1324.2 393.6L1324.4 393.7L1324.6 393.9L1324.8 394.0L1325.0 394.2L1325.2 394.4L1325.4 394.5L1325.6 394.7L1325.7 394.8L1325.9 395.0L1326.1 395.1L1326.3 395.3L1326.4 395.4L1326.6 395.5L1326.8 395.7L1327.0 395.8L1327.1 396.0L1327.3 396.1L1327.5 396.3L1327.6 396.4L1327.8 396.6L1328.0 396.7L1328.2 396.9L1328.4 397.0" fill="none" stroke="#c0d4f5" stroke-width="2.7" stroke-linejoin="round" stroke-linecap="butt"/><path d="M1143.9 416.7h6.0v6.0h-6.0zM1148.1 412.0h6.0v6.0h-6.0zM1148.6 408.9h6.0v6.0h-6.0zM1151.4 407.3h6.0v6.0h-6.0zM1152.7 405.0h6.0v6.0h-6.0zM1155.7 401.6h6.0v6.0h-6.0zM1157.5 399.8h6.0v6.0h-6.0zM1162.6 397.5h6.0v6.0h-6.0zM1163.8 394.5h6.0v6.0h-6.0zM1167.9 394.4h6.0v6.0h-6.0zM1171.4 394.1h6.0v6.0h-6.0zM1175.9 394.1h6.0v6.0h-6.0zM1177.5 394.9h6.0v6.0h-6.0zM1182.0 395.1h6.0v6.0h-6.0zM1185.1 396.5h6.0v6.0h-6.0zM1188.6 399.4h6.0v6.0h-6.0zM1191.8 400.5h6.0v6.0h-6.0zM1194.5 398.3h6.0v6.0h-6.0zM1197.5 397.3h6.0v6.0h-6.0zM1198.7 394.6h6.0v6.0h-6.0zM1200.8 389.6h6.0v6.0h-6.0zM1201.8 387.9h6.0v6.0h-6.0zM1203.0 385.5h6.0v6.0h-6.0zM1205.3 381.2h6.0v6.0h-6.0zM1207.6 379.4h6.0v6.0h-6.0zM1211.1 376.2h6.0v6.0h-6.0zM1211.3 372.8h6.0v6.0h-6.0zM1214.3 370.5h6.0v6.0h-6.0zM1217.8 368.6h6.0v6.0h-6.0zM1217.9 366.1h6.0v6.0h-6.0zM1221.1 364.2h6.0v6.0h-6.0zM1224.7 361.2h6.0v6.0h-6.0zM1228.8 361.3h6.0v6.0h-6.0zM1234.1 360.2h6.0v6.0h-6.0zM1236.0 357.5h6.0v6.0h-6.0zM1240.1 358.8h6.0v6.0h-6.0zM1242.6 356.8h6.0v6.0h-6.0zM1244.5 356.5h6.0v6.0h-6.0zM1248.1 357.3h6.0v6.0h-6.0zM1254.2 358.1h6.0v6.0h-6.0zM1257.1 356.7h6.0v6.0h-6.0zM1259.6 356.6h6.0v6.0h-6.0zM1264.9 356.6h6.0v6.0h-6.0zM1266.5 357.6h6.0v6.0h-6.0zM1272.0 357.2h6.0v6.0h-6.0zM1275.7 357.6h6.0v6.0h-6.0zM1277.6 360.1h6.0v6.0h-6.0zM1280.8 359.1h6.0v6.0h-6.0zM1285.6 361.1h6.0v6.0h-6.0zM1287.5 363.0h6.0v6.0h-6.0zM1292.2 364.2h6.0v6.0h-6.0zM1293.8 364.2h6.0v6.0h-6.0zM1298.4 366.7h6.0v6.0h-6.0zM1300.9 370.7h6.0v6.0h-6.0zM1303.3 371.5h6.0v6.0h-6.0zM1305.6 374.0h6.0v6.0h-6.0zM1309.0 376.5h6.0v6.0h-6.0zM1309.9 379.3h6.0v6.0h-6.0zM1313.6 382.5h6.0v6.0h-6.0zM1315.9 383.5h6.0v6.0h-6.0zM1318.9 387.6h6.0v6.0h-6.0zM1319.8 389.9h6.0v6.0h-6.0zM1324.4 392.7h6.0v6.0h-6.0zM1325.4 395.3h6.0v6.0h-6.0z" fill="#dddcdc"/><path d="M1148.1 418.9L1148.5 418.5L1148.9 418.0L1149.4 417.6L1149.8 417.1L1150.2 416.7L1150.6 416.2L1151.0 415.8L1151.4 415.3L1151.8 414.8L1152.2 414.4L1152.6 413.9L1153.0 413.4L1153.4 413.0L1153.8 412.5L1154.3 412.1L1154.7 411.6L1155.1 411.2L1155.5 410.8L1155.9 410.3L1156.4 409.9L1156.8 409.5L1157.2 409.1L1157.7 408.7L1158.1 408.3L1158.6 408.0L1159.0 407.6L1159.5 407.3L1160.0 407.0L1160.4 406.7L1160.9 406.4L1161.4 406.1L1161.9 405.8L1162.4 405.6L1162.9 405.3L1163.5 405.0L1164.0 404.8L1164.5 404.5L1165.0 404.3L1165.6 404.1L1166.1 403.9L1166.6 403.7L1167.2 403.5L1167.7 403.3L1168.3 403.1L1168.8 402.9L1169.4 402.8L1169.9 402.6L1170.5 402.5L1171.0 402.4L1171.6 402.2L1172.1 402.1L1172.6 402.0L1173.2 402.0L1173.7 401.9L1174.3 401.8L1174.8 401.8L1175.3 401.8L1175.9 401.8L1176.4 401.8L1177.0 401.8L1177.5 401.8L1178.1 401.9L1178.7 402.0L1179.2 402.1L1179.8 402.2L1180.4 402.3L1181.0 402.4L1181.5 402.5L1182.1 402.7L1182.7 402.8L1183.2 403.0L1183.8 403.1L1184.3 403.3L1184.9 403.4L1185.4 403.6L1185.9 403.7L1186.4 403.9L1186.9 404.0L1187.4 404.2L1187.9 404.3L1188.3 404.4L1188.8 404.6L1189.2 404.7L1189.6 404.8L1190.0 404.9L1190.4 405.0L1190.7 405.1L1191.0 405.3L1191.3 405.4L1191.6 405.6L1191.8 405.8L1192.1 405.9L1192.3 406.1L1192.5 406.3L1192.8 406.5L1193.0 406.7L1193.2 406.8L1193.4 407.0L1193.6 407.1L1193.8 407.3L1194.0 407.4L1194.2 407.5L1194.4 407.6L1194.7 407.6L1194.9 407.6L1195.2 407.6L1195.4 407.6L1195.7 407.6L1196.0 407.5L1196.3 407.4L1196.7 407.2L1197.0 407.0L1197.4 406.8L1197.8 406.5L1198.2 406.2L1198.6 405.8L1199.1 405.4L1199.5 405.0L1200.0 404.5L1200.4 404.0L1200.9 403.5L1201.4 403.0L1201.9 402.4L1202.4 401.9L1202.9 401.3L1203.4 400.7L1203.9 400.1L1204.4 399.5L1204.9 398.9L1205.4 398.3L1206.0 397.6L1206.5 397.0L1207.0 396.4L1207.5 395.8L1208.1 395.2L1208.6 394.6L1209.1 394.0L1209.6 393.5L1210.1 392.9L1210.6 392.4L1211.1 391.9L1211.6 391.4L1212.2 390.9L1212.7 390.4L1213.2 389.8L1213.7 389.3L1214.2 388.8L1214.8 388.2L1215.3 387.7L1215.8 387.1L1216.3 386.6L1216.9 386.1L1217.4 385.6L1217.9 385.0L1218.5 384.5L1219.0 384.0L1219.5 383.5L1220.1 383.0L1220.6 382.5L1221.1 382.1L1221.7 381.6L1222.2 381.1L1222.7 380.7L1223.2 380.3L1223.8 379.9L1224.3 379.5L1224.8 379.1L1225.3 378.7L1225.8 378.4L1226.4 378.1L1226.9 377.7L1227.4 377.4L1227.9 377.1L1228.4 376.8L1228.9 376.5L1229.4 376.3L1230.0 376.0L1230.5 375.7L1231.0 375.5L1231.5 375.3L1232.0 375.0L1232.5 374.8L1233.0 374.6L1233.5 374.4L1234.0 374.2L1234.5 374.0L1235.0 373.9L1235.6 373.7L1236.1 373.6L1236.6 373.4L1237.1 373.3L1237.6 373.2L1238.1 373.1L1238.6 373.0L1239.1 372.9L1239.6 372.8L1240.1 372.7L1240.6 372.7L1241.1 372.6L1241.6 372.6L1242.1 372.6L1242.5 372.6L1243.0 372.6L1243.5 372.6L1244.0 372.6L1244.4 372.7L1244.9 372.7L1245.4 372.8L1245.9 372.9L1246.4 372.9L1246.8 373.0L1247.3 373.1L1247.8 373.2L1248.3 373.3L1248.8 373.4L1249.3 373.5L1249.8 373.6L1250.3 373.7L1250.9 373.8L1251.4 373.9L1251.9 374.0L1252.5 374.1L1253.0 374.2L1253.6 374.3L1254.2 374.4L1254.8 374.5L1255.4 374.6L1256.0 374.7L1256.6 374.8L1257.3 374.9L1257.9 375.0L1258.5 375.1L1259.2 375.3L1259.8 375.4L1260.5 375.5L1261.1 375.7L1261.8 375.8L1262.5 375.9L1263.1 376.1L1263.8 376.2L1264.5 376.3L1265.2 376.5L1265.9 376.6L1266.6 376.7L1267.2 376.9L1267.9 377.0L1268.6 377.1L1269.3 377.2L1270.0 377.4L1270.7 377.5L1271.4 377.6L1272.1 377.7L1272.8 377.8L1273.5 377.9L1274.2 378.0L1275.0 378.1L1275.7 378.2L1276.5 378.3L1277.2 378.3L1278.0 378.4L1278.8 378.5L1279.5 378.6L1280.3 378.7L1281.1 378.7L1281.9 378.8L1282.6 378.9L1283.4 379.0L1284.2 379.1L1284.9 379.1L1285.7 379.2L1286.4 379.3L1287.1 379.4L1287.8 379.5L1288.5 379.5L1289.2 379.6L1289.9 379.7L1290.5 379.8L1291.1 379.9L1291.7 380.0L1292.3 380.1L1292.8 380.2L1293.4 380.3L1293.9 380.4L1294.4 380.5L1294.9 380.6L1295.3 380.7L1295.8 380.8L1296.2 380.9L1296.6 381.0L1297.0 381.1L1297.4 381.2L1297.8 381.3L1298.2 381.4L1298.6 381.5L1299.0 381.6L1299.3 381.7L1299.7 381.9L1300.0 382.0L1300.4 382.1L1300.7 382.2L1301.0 382.3L1301.4 382.4L1301.7 382.6L1302.1 382.7L1302.4 382.8L1302.8 382.9L1303.1 383.1L1303.5 383.2L1303.8 383.3L1304.2 383.5L1304.6 383.6L1304.9 383.7L1305.2 383.9L1305.6 384.0L1305.9 384.1L1306.3 384.3L1306.6 384.4L1306.9 384.6L1307.3 384.7L1307.6 384.8L1307.9 385.0L1308.2 385.1L1308.6 385.3L1308.9 385.4L1309.2 385.6L1309.5 385.7L1309.8 385.9L1310.1 386.0L1310.4 386.2L1310.7 386.4L1311.0 386.5L1311.3 386.7L1311.6 386.9L1311.9 387.0L1312.2 387.2L1312.5 387.4L1312.8 387.5L1313.1 387.7L1313.4 387.9L1313.7 388.1L1313.9 388.3L1314.2 388.5L1314.5 388.7L1314.8 388.9L1315.0 389.1L1315.3 389.3L1315.6 389.5L1315.8 389.7L1316.1 389.9L1316.3 390.1L1316.6 390.3L1316.9 390.5L1317.1 390.7L1317.3 390.9L1317.6 391.1L1317.8 391.4L1318.1 391.6L1318.3 391.8L1318.5 391.9L1318.8 392.1L1319.0 392.3L1319.2 392.5L1319.4 392.7L1319.7 392.9L1319.9 393.0L1320.1 393.2L1320.3 393.4L1320.5 393.6L1320.7 393.7L1320.9 393.9L1321.1 394.0L1321.3 394.2L1321.4 394.4L1321.6 394.5L1321.8 394.7L1322.0 394.8L1322.1 395.0L1322.3 395.1L1322.5 395.3L1322.6 395.4L1322.8 395.5L1323.0 395.7L1323.1 395.8L1323.3 396.0L1323.5 396.1L1323.6 396.3L1323.8 396.4L1324.0 396.6L1324.2 396.7L1324.3 396.9L1324.5 397.0" fill="none" stroke="#dddcdc" stroke-width="2.7" stroke-linejoin="round" stroke-linecap="butt"/><path d="M1145.7 415.7h6.0v6.0h-6.0zM1148.1 414.6h6.0v6.0h-6.0zM1150.0 412.3h6.0v6.0h-6.0zM1152.6 409.5h6.0v6.0h-6.0zM1155.8 407.2h6.0v6.0h-6.0zM1160.1 404.9h6.0v6.0h-6.0zM1162.8 403.6h6.0v6.0h-6.0zM1166.3 403.1h6.0v6.0h-6.0zM1169.4 403.5h6.0v6.0h-6.0zM1173.0 402.4h6.0v6.0h-6.0zM1176.9 403.5h6.0v6.0h-6.0zM1178.9 402.9h6.0v6.0h-6.0zM1185.0 404.6h6.0v6.0h-6.0zM1186.8 406.0h6.0v6.0h-6.0zM1190.5 404.0h6.0v6.0h-6.0zM1195.3 400.9h6.0v6.0h-6.0zM1197.1 399.8h6.0v6.0h-6.0zM1199.0 397.4h6.0v6.0h-6.0zM1200.3 393.5h6.0v6.0h-6.0zM1201.2 390.6h6.0v6.0h-6.0zM1204.1 387.4h6.0v6.0h-6.0zM1206.7 385.1h6.0v6.0h-6.0zM1207.2 381.7h6.0v6.0h-6.0zM1210.9 378.7h6.0v6.0h-6.0zM1211.2 376.5h6.0v6.0h-6.0zM1213.8 374.1h6.0v6.0h-6.0zM1217.2 370.6h6.0v6.0h-6.0zM1219.5 367.7h6.0v6.0h-6.0zM1222.9 365.8h6.0v6.0h-6.0zM1224.9 364.1h6.0v6.0h-6.0zM1227.9 362.5h6.0v6.0h-6.0zM1230.5 359.6h6.0v6.0h-6.0zM1234.4 360.3h6.0v6.0h-6.0zM1238.0 358.9h6.0v6.0h-6.0zM1241.2 357.6h6.0v6.0h-6.0zM1246.0 358.5h6.0v6.0h-6.0zM1248.9 358.1h6.0v6.0h-6.0zM1251.4 357.3h6.0v6.0h-6.0zM1258.3 356.8h6.0v6.0h-6.0zM1259.4 357.9h6.0v6.0h-6.0zM1262.6 358.1h6.0v6.0h-6.0zM1268.0 358.6h6.0v6.0h-6.0zM1271.5 360.0h6.0v6.0h-6.0zM1273.3 358.9h6.0v6.0h-6.0zM1276.5 360.8h6.0v6.0h-6.0zM1280.3 362.9h6.0v6.0h-6.0zM1285.2 363.0h6.0v6.0h-6.0zM1287.4 365.6h6.0v6.0h-6.0zM1290.2 366.6h6.0v6.0h-6.0zM1293.9 367.7h6.0v6.0h-6.0zM1297.7 370.4h6.0v6.0h-6.0zM1298.4 371.3h6.0v6.0h-6.0zM1301.7 375.7h6.0v6.0h-6.0zM1303.3 377.1h6.0v6.0h-6.0zM1308.2 379.6h6.0v6.0h-6.0zM1310.0 381.9h6.0v6.0h-6.0zM1311.1 385.4h6.0v6.0h-6.0zM1311.8 389.1h6.0v6.0h-6.0zM1314.1 392.4h6.0v6.0h-6.0zM1313.6 395.7h6.0v6.0h-6.0z" fill="#f2cbb7"/><path d="M1148.1 418.9L1148.5 418.5L1148.9 418.0L1149.4 417.6L1149.8 417.1L1150.2 416.7L1150.6 416.2L1151.0 415.8L1151.4 415.3L1151.8 414.8L1152.2 414.4L1152.6 413.9L1153.0 413.4L1153.4 413.0L1153.8 412.5L1154.3 412.1L1154.7 411.6L1155.1 411.2L1155.5 410.8L1155.9 410.3L1156.4 409.9L1156.8 409.5L1157.2 409.1L1157.7 408.7L1158.1 408.3L1158.6 408.0L1159.0 407.6L1159.5 407.3L1160.0 407.0L1160.4 406.7L1160.9 406.4L1161.4 406.1L1161.9 405.8L1162.4 405.6L1162.9 405.3L1163.5 405.0L1164.0 404.8L1164.5 404.5L1165.0 404.3L1165.6 404.1L1166.1 403.9L1166.6 403.7L1167.2 403.5L1167.7 403.3L1168.3 403.1L1168.8 402.9L1169.4 402.8L1169.9 402.6L1170.5 402.5L1171.0 402.4L1171.6 402.2L1172.1 402.1L1172.6 402.0L1173.2 402.0L1173.7 401.9L1174.3 401.8L1174.8 401.8L1175.3 401.8L1175.9 401.8L1176.4 401.8L1177.0 401.8L1177.5 401.8L1178.1 401.9L1178.7 402.0L1179.2 402.1L1179.8 402.2L1180.4 402.3L1181.0 402.4L1181.5 402.5L1182.1 402.7L1182.7 402.8L1183.2 403.0L1183.8 403.1L1184.3 403.3L1184.9 403.4L1185.4 403.6L1185.9 403.7L1186.4 403.9L1186.9 404.0L1187.4 404.2L1187.9 404.3L1188.3 404.4L1188.8 404.6L1189.2 404.7L1189.6 404.8L1190.0 404.9L1190.3 405.0L1190.7 405.1L1191.0 405.3L1191.3 405.4L1191.6 405.6L1191.8 405.8L1192.1 405.9L1192.3 406.1L1192.5 406.3L1192.7 406.5L1192.9 406.7L1193.1 406.8L1193.3 407.0L1193.5 407.1L1193.7 407.3L1193.9 407.4L1194.2 407.5L1194.4 407.6L1194.6 407.6L1194.8 407.6L1195.1 407.6L1195.4 407.6L1195.7 407.6L1196.0 407.5L1196.3 407.4L1196.6 407.2L1197.0 407.0L1197.4 406.8L1197.8 406.5L1198.3 406.2L1198.7 405.8L1199.2 405.4L1199.6 405.0L1200.1 404.5L1200.6 404.0L1201.1 403.5L1201.6 403.0L1202.1 402.4L1202.6 401.9L1203.2 401.3L1203.7 400.7L1204.3 400.1L1204.8 399.5L1205.4 398.9L1205.9 398.3L1206.5 397.6L1207.0 397.0L1207.6 396.4L1208.1 395.8L1208.7 395.2L1209.3 394.6L1209.8 394.0L1210.4 393.5L1210.9 392.9L1211.4 392.4L1212.0 391.9L1212.5 391.4L1213.1 390.9L1213.6 390.4L1214.2 389.8L1214.7 389.3L1215.3 388.8L1215.8 388.2L1216.4 387.7L1216.9 387.1L1217.5 386.6L1218.0 386.1L1218.6 385.6L1219.2 385.0L1219.7 384.5L1220.3 384.0L1220.9 383.5L1221.4 383.0L1222.0 382.5L1222.5 382.1L1223.1 381.6L1223.7 381.1L1224.2 380.7L1224.8 380.3L1225.3 379.9L1225.9 379.5L1226.4 379.1L1227.0 378.7L1227.5 378.4L1228.1 378.1L1228.6 377.7L1229.2 377.4L1229.7 377.1L1230.3 376.8L1230.8 376.5L1231.4 376.3L1231.9 376.0L1232.4 375.7L1233.0 375.5L1233.5 375.3L1234.1 375.0L1234.6 374.8L1235.1 374.6L1235.7 374.4L1236.2 374.2L1236.8 374.0L1237.3 373.9L1237.8 373.7L1238.4 373.6L1238.9 373.4L1239.5 373.3L1240.0 373.2L1240.5 373.1L1241.1 373.0L1241.6 372.9L1242.1 372.8L1242.7 372.7L1243.2 372.7L1243.7 372.6L1244.2 372.6L1244.7 372.6L1245.2 372.6L1245.8 372.6L1246.3 372.6L1246.8 372.6L1247.3 372.7L1247.8 372.7L1248.3 372.8L1248.8 372.9L1249.3 372.9L1249.8 373.0L1250.3 373.1L1250.8 373.2L1251.3 373.3L1251.9 373.4L1252.4 373.5L1252.9 373.6L1253.5 373.7L1254.0 373.8L1254.6 373.9L1255.2 374.0L1255.8 374.1L1256.4 374.2L1257.0 374.3L1257.6 374.4L1258.2 374.5L1258.9 374.6L1259.5 374.7L1260.2 374.8L1260.8 374.9L1261.5 375.0L1262.2 375.1L1262.8 375.3L1263.5 375.4L1264.2 375.5L1264.9 375.7L1265.6 375.8L1266.3 375.9L1267.1 376.1L1267.8 376.2L1268.5 376.3L1269.2 376.5L1269.9 376.6L1270.7 376.7L1271.4 376.9L1272.1 377.0L1272.9 377.1L1273.6 377.2L1274.3 377.4L1275.1 377.5L1275.8 377.6L1276.5 377.7L1277.3 377.8L1278.0 377.9L1278.8 378.0L1279.6 378.1L1280.4 378.2L1281.2 378.3L1282.0 378.3L1282.8 378.4L1283.6 378.5L1284.4 378.6L1285.3 378.7L1286.1 378.7L1286.9 378.8L1287.7 378.9L1288.5 379.0L1289.3 379.1L1290.1 379.1L1290.9 379.2L1291.7 379.3L1292.5 379.4L1293.2 379.5L1294.0 379.5L1294.7 379.6L1295.4 379.7L1296.1 379.8L1296.7 379.9L1297.3 380.0L1297.9 380.1L1298.5 380.2L1299.1 380.3L1299.6 380.4L1300.2 380.5L1300.7 380.6L1301.2 380.7L1301.6 380.8L1302.1 380.9L1302.5 381.0L1303.0 381.1L1303.4 381.2L1303.8 381.3L1304.2 381.4L1304.6 381.5L1305.0 381.6L1305.4 381.7L1305.8 381.9L1306.1 382.0L1306.5 382.1L1306.9 382.2L1307.2 382.3L1307.6 382.4L1307.9 382.6L1308.3 382.7L1308.7 382.8L1309.0 382.9L1309.4 383.1L1309.8 383.2L1310.2 383.3L1310.6 383.5L1310.9 383.6L1311.3 383.7L1311.7 383.9L1312.0 384.0L1312.4 384.1L1312.8 384.3L1313.1 384.4L1313.5 384.6L1313.8 384.7L1314.2 384.8L1314.5 385.0L1314.8 385.1L1315.2 385.3L1315.5 385.4L1315.9 385.6L1316.2 385.7L1316.5 385.9L1316.8 386.0L1317.2 386.2L1317.5 386.4L1317.8 386.5L1318.1 386.7L1318.4 386.9L1318.7 387.0L1319.1 387.2L1319.4 387.4L1319.7 387.5L1320.0 387.7L1320.3 387.9L1320.6 388.1L1320.9 388.3L1321.2 388.5L1321.4 388.7L1321.7 388.9L1322.0 389.1L1322.3 389.3L1322.6 389.5L1322.9 389.7L1323.1 389.9L1323.4 390.1L1323.7 390.3L1324.0 390.5L1324.2 390.7L1324.5 390.9L1324.7 391.1L1325.0 391.4L1325.3 391.6L1325.5 391.8L1325.7 391.9L1326.0 392.1L1326.2 392.3L1326.5 392.5L1326.7 392.7L1326.9 392.9L1327.2 393.0L1327.4 393.2L1327.6 393.4L1327.8 393.6L1328.0 393.7L1328.2 393.9L1328.4 394.0L1328.6 394.2L1328.8 394.4L1329.0 394.5L1329.2 394.7L1329.4 394.8L1329.6 395.0L1329.7 395.1L1329.9 395.3L1330.1 395.4L1330.3 395.5L1330.4 395.7L1330.6 395.8L1330.8 396.0L1331.0 396.1L1331.1 396.3L1331.3 396.4L1331.5 396.6L1331.7 396.7L1331.9 396.9L1332.1 397.0" fill="none" stroke="#f2cbb7" stroke-width="2.7" stroke-linejoin="round" stroke-linecap="butt"/><path d="M1146.0 416.0h6.0v6.0h-6.0zM1146.9 413.6h6.0v6.0h-6.0zM1149.9 410.9h6.0v6.0h-6.0zM1151.7 406.9h6.0v6.0h-6.0zM1154.3 404.1h6.0v6.0h-6.0zM1156.5 401.8h6.0v6.0h-6.0zM1161.2 401.0h6.0v6.0h-6.0zM1162.2 398.5h6.0v6.0h-6.0zM1166.2 397.4h6.0v6.0h-6.0zM1169.6 397.4h6.0v6.0h-6.0zM1173.4 395.4h6.0v6.0h-6.0zM1176.8 396.4h6.0v6.0h-6.0zM1180.3 397.6h6.0v6.0h-6.0zM1184.1 397.2h6.0v6.0h-6.0zM1185.5 399.2h6.0v6.0h-6.0zM1189.6 401.1h6.0v6.0h-6.0zM1191.7 402.7h6.0v6.0h-6.0zM1196.2 403.1h6.0v6.0h-6.0zM1197.8 402.2h6.0v6.0h-6.0zM1200.0 398.7h6.0v6.0h-6.0zM1202.4 394.5h6.0v6.0h-6.0zM1205.1 392.6h6.0v6.0h-6.0zM1206.1 388.9h6.0v6.0h-6.0zM1207.8 385.6h6.0v6.0h-6.0zM1210.6 381.8h6.0v6.0h-6.0zM1210.9 379.1h6.0v6.0h-6.0zM1212.3 376.5h6.0v6.0h-6.0zM1215.8 374.6h6.0v6.0h-6.0zM1218.4 371.2h6.0v6.0h-6.0zM1222.1 369.1h6.0v6.0h-6.0zM1225.6 367.4h6.0v6.0h-6.0zM1226.0 364.3h6.0v6.0h-6.0zM1231.9 363.2h6.0v6.0h-6.0zM1234.5 362.8h6.0v6.0h-6.0zM1237.3 360.1h6.0v6.0h-6.0zM1240.4 360.4h6.0v6.0h-6.0zM1245.5 359.0h6.0v6.0h-6.0zM1247.2 360.1h6.0v6.0h-6.0zM1250.4 358.7h6.0v6.0h-6.0zM1254.4 359.2h6.0v6.0h-6.0zM1256.8 359.2h6.0v6.0h-6.0zM1261.7 360.0h6.0v6.0h-6.0zM1264.9 357.2h6.0v6.0h-6.0zM1268.7 359.4h6.0v6.0h-6.0zM1272.2 359.7h6.0v6.0h-6.0zM1274.7 359.8h6.0v6.0h-6.0zM1279.8 361.8h6.0v6.0h-6.0zM1281.4 362.6h6.0v6.0h-6.0zM1286.1 365.4h6.0v6.0h-6.0zM1287.4 365.9h6.0v6.0h-6.0zM1291.9 368.2h6.0v6.0h-6.0zM1293.9 369.6h6.0v6.0h-6.0zM1297.2 372.2h6.0v6.0h-6.0zM1299.1 376.0h6.0v6.0h-6.0zM1300.2 379.1h6.0v6.0h-6.0zM1303.2 381.3h6.0v6.0h-6.0zM1306.0 383.0h6.0v6.0h-6.0zM1308.1 386.4h6.0v6.0h-6.0zM1308.2 389.6h6.0v6.0h-6.0zM1309.3 394.5h6.0v6.0h-6.0zM1311.8 398.2h6.0v6.0h-6.0z" fill="#f7ac8e"/><path d="M1148.1 418.9L1148.5 418.5L1148.9 418.0L1149.4 417.6L1149.8 417.1L1150.2 416.7L1150.6 416.2L1151.0 415.8L1151.4 415.3L1151.8 414.8L1152.2 414.4L1152.6 413.9L1153.0 413.4L1153.4 413.0L1153.8 412.5L1154.3 412.1L1154.7 411.6L1155.1 411.2L1155.5 410.8L1155.9 410.3L1156.4 409.9L1156.8 409.5L1157.2 409.1L1157.7 408.7L1158.1 408.3L1158.6 408.0L1159.0 407.6L1159.5 407.3L1160.0 407.0L1160.4 406.7L1160.9 406.4L1161.4 406.1L1161.9 405.8L1162.4 405.6L1162.9 405.3L1163.5 405.0L1164.0 404.8L1164.5 404.5L1165.0 404.3L1165.6 404.1L1166.1 403.9L1166.6 403.7L1167.2 403.5L1167.7 403.3L1168.3 403.1L1168.8 402.9L1169.4 402.8L1169.9 402.6L1170.5 402.5L1171.0 402.4L1171.6 402.2L1172.1 402.1L1172.6 402.0L1173.2 402.0L1173.7 401.9L1174.3 401.8L1174.8 401.8L1175.3 401.8L1175.9 401.8L1176.4 401.8L1177.0 401.8L1177.5 401.8L1178.1 401.9L1178.7 402.0L1179.2 402.1L1179.8 402.2L1180.4 402.3L1181.0 402.4L1181.5 402.5L1182.1 402.7L1182.7 402.8L1183.2 403.0L1183.8 403.1L1184.3 403.3L1184.9 403.4L1185.4 403.6L1185.9 403.7L1186.4 403.9L1186.9 404.0L1187.4 404.2L1187.9 404.3L1188.3 404.4L1188.8 404.6L1189.2 404.7L1189.6 404.8L1190.0 404.9L1190.3 405.0L1190.7 405.1L1191.0 405.3L1191.3 405.4L1191.6 405.6L1191.8 405.8L1192.1 405.9L1192.3 406.1L1192.5 406.3L1192.8 406.5L1193.0 406.7L1193.2 406.8L1193.4 407.0L1193.6 407.1L1193.8 407.3L1194.0 407.4L1194.2 407.5L1194.4 407.6L1194.7 407.6L1194.9 407.6L1195.1 407.6L1195.4 407.6L1195.7 407.6L1196.0 407.5L1196.3 407.4L1196.7 407.2L1197.0 407.0L1197.4 406.8L1197.8 406.5L1198.2 406.2L1198.6 405.8L1199.1 405.4L1199.5 405.0L1200.0 404.5L1200.5 404.0L1200.9 403.5L1201.4 403.0L1201.9 402.4L1202.4 401.9L1202.9 401.3L1203.4 400.7L1204.0 400.1L1204.5 399.5L1205.0 398.9L1205.5 398.3L1206.1 397.6L1206.6 397.0L1207.1 396.4L1207.7 395.8L1208.2 395.2L1208.7 394.6L1209.2 394.0L1209.8 393.5L1210.3 392.9L1210.8 392.4L1211.3 391.9L1211.8 391.4L1212.3 390.9L1212.9 390.4L1213.4 389.8L1213.9 389.3L1214.4 388.8L1215.0 388.2L1215.5 387.7L1216.0 387.1L1216.6 386.6L1217.1 386.1L1217.6 385.6L1218.2 385.0L1218.7 384.5L1219.3 384.0L1219.8 383.5L1220.3 383.0L1220.9 382.5L1221.4 382.1L1221.9 381.6L1222.5 381.1L1223.0 380.7L1223.5 380.3L1224.1 379.9L1224.6 379.5L1225.1 379.1L1225.6 378.7L1226.2 378.4L1226.7 378.1L1227.2 377.7L1227.7 377.4L1228.3 377.1L1228.8 376.8L1229.3 376.5L1229.8 376.3L1230.3 376.0L1230.9 375.7L1231.4 375.5L1231.9 375.3L1232.4 375.0L1232.9 374.8L1233.4 374.6L1233.9 374.4L1234.5 374.2L1235.0 374.0L1235.5 373.9L1236.0 373.7L1236.5 373.6L1237.0 373.4L1237.5 373.3L1238.1 373.2L1238.6 373.1L1239.1 373.0L1239.6 372.9L1240.1 372.8L1240.6 372.7L1241.1 372.7L1241.6 372.6L1242.1 372.6L1242.6 372.6L1243.1 372.6L1243.6 372.6L1244.0 372.6L1244.5 372.6L1245.0 372.7L1245.5 372.7L1246.0 372.8L1246.4 372.9L1246.9 372.9L1247.4 373.0L1247.9 373.1L1248.4 373.2L1248.9 373.3L1249.4 373.4L1249.9 373.5L1250.4 373.6L1250.9 373.7L1251.5 373.8L1252.0 373.9L1252.6 374.0L1253.1 374.1L1253.7 374.2L1254.3 374.3L1254.9 374.4L1255.5 374.5L1256.1 374.6L1256.7 374.7L1257.3 374.8L1258.0 374.9L1258.6 375.0L1259.2 375.1L1259.9 375.3L1260.5 375.4L1261.2 375.5L1261.9 375.7L1262.5 375.8L1263.2 375.9L1263.9 376.1L1264.6 376.2L1265.3 376.3L1266.0 376.5L1266.7 376.6L1267.4 376.7L1268.1 376.9L1268.8 377.0L1269.5 377.1L1270.2 377.2L1270.9 377.4L1271.6 377.5L1272.3 377.6L1273.0 377.7L1273.7 377.8L1274.4 377.9L1275.1 378.0L1275.9 378.1L1276.6 378.2L1277.4 378.3L1278.2 378.3L1278.9 378.4L1279.7 378.5L1280.5 378.6L1281.3 378.7L1282.1 378.7L1282.9 378.8L1283.6 378.9L1284.4 379.0L1285.2 379.1L1285.9 379.1L1286.7 379.2L1287.4 379.3L1288.2 379.4L1288.9 379.5L1289.6 379.5L1290.3 379.6L1290.9 379.7L1291.6 379.8L1292.2 379.9L1292.8 380.0L1293.4 380.1L1294.0 380.2L1294.5 380.3L1295.0 380.4L1295.5 380.5L1296.0 380.6L1296.5 380.7L1296.9 380.8L1297.4 380.9L1297.8 381.0L1298.2 381.1L1298.6 381.2L1299.0 381.3L1299.4 381.4L1299.8 381.5L1300.1 381.6L1300.5 381.7L1300.9 381.9L1301.2 382.0L1301.6 382.1L1301.9 382.2L1302.3 382.3L1302.6 382.4L1303.0 382.6L1303.3 382.7L1303.6 382.8L1304.0 382.9L1304.4 383.1L1304.7 383.2L1305.1 383.3L1305.4 383.5L1305.8 383.6L1306.2 383.7L1306.5 383.9L1306.9 384.0L1307.2 384.1L1307.5 384.3L1307.9 384.4L1308.2 384.6L1308.6 384.7L1308.9 384.8L1309.2 385.0L1309.5 385.1L1309.9 385.3L1310.2 385.4L1310.5 385.6L1310.8 385.7L1311.1 385.9L1311.4 386.0L1311.8 386.2L1312.1 386.4L1312.4 386.5L1312.7 386.7L1313.0 386.9L1313.3 387.0L1313.6 387.2L1313.9 387.4L1314.1 387.5L1314.4 387.7L1314.7 387.9L1315.0 388.1L1315.3 388.3L1315.6 388.5L1315.8 388.7L1316.1 388.9L1316.4 389.1L1316.7 389.3L1316.9 389.5L1317.2 389.7L1317.5 389.9L1317.7 390.1L1318.0 390.3L1318.2 390.5L1318.5 390.7L1318.7 390.9L1319.0 391.1L1319.2 391.4L1319.5 391.6L1319.7 391.8L1320.0 391.9L1320.2 392.1L1320.4 392.3L1320.6 392.5L1320.9 392.7L1321.1 392.9L1321.3 393.0L1321.5 393.2L1321.7 393.4L1321.9 393.6L1322.1 393.7L1322.3 393.9L1322.5 394.0L1322.7 394.2L1322.9 394.4L1323.1 394.5L1323.2 394.7L1323.4 394.8L1323.6 395.0L1323.8 395.1L1323.9 395.3L1324.1 395.4L1324.3 395.5L1324.4 395.7L1324.6 395.8L1324.8 396.0L1324.9 396.1L1325.1 396.3L1325.3 396.4L1325.5 396.6L1325.6 396.7L1325.8 396.9L1326.0 397.0" fill="none" stroke="#f7ac8e" stroke-width="2.7" stroke-linejoin="round" stroke-linecap="butt"/><path d="M1144.6 415.7h6.0v6.0h-6.0zM1147.5 414.0h6.0v6.0h-6.0zM1149.9 410.7h6.0v6.0h-6.0zM1153.2 408.7h6.0v6.0h-6.0zM1155.6 408.0h6.0v6.0h-6.0zM1157.9 404.3h6.0v6.0h-6.0zM1161.4 403.3h6.0v6.0h-6.0zM1165.5 401.2h6.0v6.0h-6.0zM1168.9 401.2h6.0v6.0h-6.0zM1172.3 400.9h6.0v6.0h-6.0zM1177.6 401.0h6.0v6.0h-6.0zM1179.2 401.7h6.0v6.0h-6.0zM1183.0 402.7h6.0v6.0h-6.0zM1185.7 404.4h6.0v6.0h-6.0zM1189.6 402.7h6.0v6.0h-6.0zM1193.7 406.1h6.0v6.0h-6.0zM1197.0 404.1h6.0v6.0h-6.0zM1198.9 400.8h6.0v6.0h-6.0zM1201.5 398.1h6.0v6.0h-6.0zM1203.2 395.0h6.0v6.0h-6.0zM1203.6 391.8h6.0v6.0h-6.0zM1204.4 388.4h6.0v6.0h-6.0zM1210.4 386.1h6.0v6.0h-6.0zM1211.3 381.2h6.0v6.0h-6.0zM1212.5 381.1h6.0v6.0h-6.0zM1213.3 377.2h6.0v6.0h-6.0zM1215.8 374.8h6.0v6.0h-6.0zM1220.3 372.4h6.0v6.0h-6.0zM1219.9 369.4h6.0v6.0h-6.0zM1224.5 366.4h6.0v6.0h-6.0zM1228.4 366.1h6.0v6.0h-6.0zM1231.0 364.5h6.0v6.0h-6.0zM1234.8 362.1h6.0v6.0h-6.0zM1237.6 361.2h6.0v6.0h-6.0zM1242.9 359.3h6.0v6.0h-6.0zM1243.8 359.3h6.0v6.0h-6.0zM1247.1 359.4h6.0v6.0h-6.0zM1251.9 359.4h6.0v6.0h-6.0zM1256.3 358.8h6.0v6.0h-6.0zM1258.7 359.0h6.0v6.0h-6.0zM1263.1 360.0h6.0v6.0h-6.0zM1265.5 359.2h6.0v6.0h-6.0zM1268.5 359.7h6.0v6.0h-6.0zM1274.0 360.2h6.0v6.0h-6.0zM1277.6 361.0h6.0v6.0h-6.0zM1281.0 360.3h6.0v6.0h-6.0zM1283.0 362.0h6.0v6.0h-6.0zM1285.8 363.0h6.0v6.0h-6.0zM1289.1 365.6h6.0v6.0h-6.0zM1293.0 367.4h6.0v6.0h-6.0zM1296.7 368.6h6.0v6.0h-6.0zM1299.5 370.2h6.0v6.0h-6.0zM1300.9 372.9h6.0v6.0h-6.0zM1304.7 375.2h6.0v6.0h-6.0zM1307.1 376.9h6.0v6.0h-6.0zM1309.4 380.1h6.0v6.0h-6.0zM1311.3 384.0h6.0v6.0h-6.0zM1313.1 386.6h6.0v6.0h-6.0zM1315.5 389.9h6.0v6.0h-6.0zM1316.7 392.5h6.0v6.0h-6.0z" fill="#ee8468"/><path d="M1148.1 418.9L1148.5 418.5L1148.9 418.0L1149.4 417.6L1149.8 417.1L1150.2 416.7L1150.6 416.2L1151.0 415.8L1151.4 415.3L1151.8 414.8L1152.2 414.4L1152.6 413.9L1153.0 413.4L1153.4 413.0L1153.8 412.5L1154.3 412.1L1154.7 411.6L1155.1 411.2L1155.5 410.8L1155.9 410.3L1156.4 409.9L1156.8 409.5L1157.2 409.1L1157.7 408.7L1158.1 408.3L1158.6 408.0L1159.0 407.6L1159.5 407.3L1160.0 407.0L1160.4 406.7L1160.9 406.4L1161.4 406.1L1161.9 405.8L1162.4 405.6L1162.9 405.3L1163.5 405.0L1164.0 404.8L1164.5 404.5L1165.0 404.3L1165.6 404.1L1166.1 403.9L1166.6 403.7L1167.2 403.5L1167.7 403.3L1168.3 403.1L1168.8 402.9L1169.4 402.8L1169.9 402.6L1170.5 402.5L1171.0 402.4L1171.6 402.2L1172.1 402.1L1172.6 402.0L1173.2 402.0L1173.7 401.9L1174.3 401.8L1174.8 401.8L1175.3 401.8L1175.9 401.8L1176.4 401.8L1177.0 401.8L1177.5 401.8L1178.1 401.9L1178.7 402.0L1179.2 402.1L1179.8 402.2L1180.4 402.3L1181.0 402.4L1181.5 402.5L1182.1 402.7L1182.7 402.8L1183.2 403.0L1183.8 403.1L1184.3 403.3L1184.9 403.4L1185.4 403.6L1185.9 403.7L1186.4 403.9L1186.9 404.0L1187.4 404.2L1187.9 404.3L1188.3 404.4L1188.8 404.6L1189.2 404.7L1189.6 404.8L1190.0 404.9L1190.3 405.0L1190.7 405.1L1191.0 405.3L1191.3 405.4L1191.6 405.6L1191.8 405.8L1192.1 405.9L1192.3 406.1L1192.5 406.3L1192.7 406.5L1192.9 406.7L1193.1 406.8L1193.3 407.0L1193.5 407.1L1193.7 407.3L1193.9 407.4L1194.1 407.5L1194.4 407.6L1194.6 407.6L1194.8 407.6L1195.1 407.6L1195.4 407.6L1195.7 407.6L1196.0 407.5L1196.3 407.4L1196.6 407.2L1197.0 407.0L1197.4 406.8L1197.8 406.5L1198.3 406.2L1198.7 405.8L1199.2 405.4L1199.6 405.0L1200.1 404.5L1200.6 404.0L1201.1 403.5L1201.6 403.0L1202.2 402.4L1202.7 401.9L1203.2 401.3L1203.8 400.7L1204.3 400.1L1204.9 399.5L1205.4 398.9L1206.0 398.3L1206.6 397.6L1207.1 397.0L1207.7 396.4L1208.3 395.8L1208.8 395.2L1209.4 394.6L1209.9 394.0L1210.5 393.5L1211.0 392.9L1211.6 392.4L1212.1 391.9L1212.7 391.4L1213.2 390.9L1213.8 390.4L1214.3 389.8L1214.9 389.3L1215.4 388.8L1216.0 388.2L1216.6 387.7L1217.1 387.1L1217.7 386.6L1218.3 386.1L1218.8 385.6L1219.4 385.0L1220.0 384.5L1220.5 384.0L1221.1 383.5L1221.7 383.0L1222.2 382.5L1222.8 382.1L1223.4 381.6L1223.9 381.1L1224.5 380.7L1225.1 380.3L1225.6 379.9L1226.2 379.5L1226.7 379.1L1227.3 378.7L1227.8 378.4L1228.4 378.1L1229.0 377.7L1229.5 377.4L1230.1 377.1L1230.6 376.8L1231.2 376.5L1231.7 376.3L1232.2 376.0L1232.8 375.7L1233.3 375.5L1233.9 375.3L1234.4 375.0L1235.0 374.8L1235.5 374.6L1236.1 374.4L1236.6 374.2L1237.2 374.0L1237.7 373.9L1238.2 373.7L1238.8 373.6L1239.3 373.4L1239.9 373.3L1240.4 373.2L1241.0 373.1L1241.5 373.0L1242.0 372.9L1242.6 372.8L1243.1 372.7L1243.6 372.7L1244.2 372.6L1244.7 372.6L1245.2 372.6L1245.7 372.6L1246.2 372.6L1246.7 372.6L1247.2 372.6L1247.8 372.7L1248.3 372.7L1248.8 372.8L1249.3 372.9L1249.8 372.9L1250.3 373.0L1250.8 373.1L1251.3 373.2L1251.9 373.3L1252.4 373.4L1252.9 373.5L1253.5 373.6L1254.0 373.7L1254.6 373.8L1255.2 373.9L1255.8 374.0L1256.4 374.1L1257.0 374.2L1257.6 374.3L1258.2 374.4L1258.8 374.5L1259.5 374.6L1260.1 374.7L1260.8 374.8L1261.5 374.9L1262.1 375.0L1262.8 375.1L1263.5 375.3L1264.2 375.4L1264.9 375.5L1265.6 375.7L1266.3 375.8L1267.0 375.9L1267.7 376.1L1268.5 376.2L1269.2 376.3L1269.9 376.5L1270.7 376.6L1271.4 376.7L1272.1 376.9L1272.9 377.0L1273.6 377.1L1274.4 377.2L1275.1 377.4L1275.8 377.5L1276.6 377.6L1277.3 377.7L1278.1 377.8L1278.8 377.9L1279.6 378.0L1280.4 378.1L1281.2 378.2L1282.0 378.3L1282.8 378.3L1283.6 378.4L1284.5 378.5L1285.3 378.6L1286.1 378.7L1287.0 378.7L1287.8 378.8L1288.6 378.9L1289.4 379.0L1290.3 379.1L1291.1 379.1L1291.9 379.2L1292.6 379.3L1293.4 379.4L1294.2 379.5L1294.9 379.5L1295.6 379.6L1296.3 379.7L1297.0 379.8L1297.7 379.9L1298.3 380.0L1298.9 380.1L1299.5 380.2L1300.1 380.3L1300.7 380.4L1301.2 380.5L1301.7 380.6L1302.2 380.7L1302.7 380.8L1303.1 380.9L1303.6 381.0L1304.0 381.1L1304.5 381.2L1304.9 381.3L1305.3 381.4L1305.7 381.5L1306.1 381.6L1306.5 381.7L1306.8 381.9L1307.2 382.0L1307.6 382.1L1307.9 382.2L1308.3 382.3L1308.7 382.4L1309.0 382.6L1309.4 382.7L1309.8 382.8L1310.1 382.9L1310.5 383.1L1310.9 383.2L1311.3 383.3L1311.7 383.5L1312.1 383.6L1312.4 383.7L1312.8 383.9L1313.2 384.0L1313.5 384.1L1313.9 384.3L1314.3 384.4L1314.6 384.6L1315.0 384.7L1315.3 384.8L1315.7 385.0L1316.0 385.1L1316.4 385.3L1316.7 385.4L1317.0 385.6L1317.4 385.7L1317.7 385.9L1318.0 386.0L1318.4 386.2L1318.7 386.4L1319.0 386.5L1319.3 386.7L1319.6 386.9L1319.9 387.0L1320.3 387.2L1320.6 387.4L1320.9 387.5L1321.2 387.7L1321.5 387.9L1321.8 388.1L1322.1 388.3L1322.4 388.5L1322.7 388.7L1323.0 388.9L1323.3 389.1L1323.5 389.3L1323.8 389.5L1324.1 389.7L1324.4 389.9L1324.7 390.1L1324.9 390.3L1325.2 390.5L1325.5 390.7L1325.7 390.9L1326.0 391.1L1326.3 391.4L1326.5 391.6L1326.8 391.8L1327.0 391.9L1327.3 392.1L1327.5 392.3L1327.7 392.5L1328.0 392.7L1328.2 392.9L1328.4 393.0L1328.7 393.2L1328.9 393.4L1329.1 393.6L1329.3 393.7L1329.5 393.9L1329.7 394.0L1329.9 394.2L1330.1 394.4L1330.3 394.5L1330.5 394.7L1330.7 394.8L1330.9 395.0L1331.0 395.1L1331.2 395.3L1331.4 395.4L1331.6 395.5L1331.8 395.7L1331.9 395.8L1332.1 396.0L1332.3 396.1L1332.5 396.3L1332.7 396.4L1332.8 396.6L1333.0 396.7L1333.2 396.9L1333.4 397.0" fill="none" stroke="#ee8468" stroke-width="2.7" stroke-linejoin="round" stroke-linecap="butt"/><path d="M1144.2 416.0h6.0v6.0h-6.0zM1147.4 413.9h6.0v6.0h-6.0zM1150.4 409.6h6.0v6.0h-6.0zM1152.3 408.7h6.0v6.0h-6.0zM1154.2 404.3h6.0v6.0h-6.0zM1157.2 403.8h6.0v6.0h-6.0zM1160.8 400.0h6.0v6.0h-6.0zM1164.3 399.5h6.0v6.0h-6.0zM1167.9 398.4h6.0v6.0h-6.0zM1170.6 397.5h6.0v6.0h-6.0zM1173.3 397.5h6.0v6.0h-6.0zM1178.9 397.6h6.0v6.0h-6.0zM1181.5 398.2h6.0v6.0h-6.0zM1185.0 400.8h6.0v6.0h-6.0zM1188.2 402.8h6.0v6.0h-6.0zM1190.3 405.6h6.0v6.0h-6.0zM1194.0 405.4h6.0v6.0h-6.0zM1197.8 403.7h6.0v6.0h-6.0zM1200.5 401.1h6.0v6.0h-6.0zM1201.2 398.1h6.0v6.0h-6.0zM1199.9 395.0h6.0v6.0h-6.0zM1203.2 391.8h6.0v6.0h-6.0zM1205.2 388.3h6.0v6.0h-6.0zM1207.5 384.7h6.0v6.0h-6.0zM1208.7 383.1h6.0v6.0h-6.0zM1211.8 378.1h6.0v6.0h-6.0zM1212.9 376.7h6.0v6.0h-6.0zM1214.9 372.9h6.0v6.0h-6.0zM1216.9 370.5h6.0v6.0h-6.0zM1217.9 368.0h6.0v6.0h-6.0zM1222.5 366.5h6.0v6.0h-6.0zM1225.4 364.9h6.0v6.0h-6.0zM1227.9 362.8h6.0v6.0h-6.0zM1232.1 362.5h6.0v6.0h-6.0zM1235.5 359.1h6.0v6.0h-6.0zM1238.3 360.6h6.0v6.0h-6.0zM1242.1 360.3h6.0v6.0h-6.0zM1245.5 360.0h6.0v6.0h-6.0zM1249.5 360.4h6.0v6.0h-6.0zM1252.5 361.4h6.0v6.0h-6.0zM1256.8 359.9h6.0v6.0h-6.0zM1258.5 359.5h6.0v6.0h-6.0zM1263.3 360.9h6.0v6.0h-6.0zM1265.8 360.0h6.0v6.0h-6.0zM1270.2 361.3h6.0v6.0h-6.0zM1274.5 361.0h6.0v6.0h-6.0zM1277.6 361.4h6.0v6.0h-6.0zM1281.0 362.2h6.0v6.0h-6.0zM1284.5 363.1h6.0v6.0h-6.0zM1289.1 365.0h6.0v6.0h-6.0zM1290.5 364.9h6.0v6.0h-6.0zM1295.3 367.2h6.0v6.0h-6.0zM1296.8 368.0h6.0v6.0h-6.0zM1300.7 369.3h6.0v6.0h-6.0zM1304.3 371.7h6.0v6.0h-6.0zM1306.7 374.2h6.0v6.0h-6.0zM1310.3 374.9h6.0v6.0h-6.0zM1313.2 378.8h6.0v6.0h-6.0zM1313.9 381.5h6.0v6.0h-6.0zM1316.7 384.6h6.0v6.0h-6.0zM1318.2 386.3h6.0v6.0h-6.0zM1318.7 390.2h6.0v6.0h-6.0z" fill="#d65244"/><path d="M1148.1 418.9L1148.5 418.5L1148.9 418.0L1149.4 417.6L1149.8 417.1L1150.2 416.7L1150.6 416.2L1151.0 415.8L1151.4 415.3L1151.8 414.8L1152.2 414.4L1152.6 413.9L1153.0 413.4L1153.4 413.0L1153.8 412.5L1154.3 412.1L1154.7 411.6L1155.1 411.2L1155.5 410.8L1155.9 410.3L1156.4 409.9L1156.8 409.5L1157.2 409.1L1157.7 408.7L1158.1 408.3L1158.6 408.0L1159.0 407.6L1159.5 407.3L1160.0 407.0L1160.4 406.7L1160.9 406.4L1161.4 406.1L1161.9 405.8L1162.4 405.6L1162.9 405.3L1163.5 405.0L1164.0 404.8L1164.5 404.5L1165.0 404.3L1165.6 404.1L1166.1 403.9L1166.6 403.7L1167.2 403.5L1167.7 403.3L1168.3 403.1L1168.8 402.9L1169.4 402.8L1169.9 402.6L1170.5 402.5L1171.0 402.4L1171.6 402.2L1172.1 402.1L1172.6 402.0L1173.2 402.0L1173.7 401.9L1174.3 401.8L1174.8 401.8L1175.3 401.8L1175.9 401.8L1176.4 401.8L1177.0 401.8L1177.5 401.8L1178.1 401.9L1178.7 402.0L1179.2 402.1L1179.8 402.2L1180.4 402.3L1181.0 402.4L1181.5 402.5L1182.1 402.7L1182.7 402.8L1183.2 403.0L1183.8 403.1L1184.3 403.3L1184.9 403.4L1185.4 403.6L1185.9 403.7L1186.4 403.9L1186.9 404.0L1187.4 404.2L1187.9 404.3L1188.3 404.4L1188.8 404.6L1189.2 404.7L1189.6 404.8L1190.0 404.9L1190.3 405.0L1190.7 405.1L1191.0 405.3L1191.3 405.4L1191.5 405.6L1191.8 405.8L1192.0 405.9L1192.3 406.1L1192.5 406.3L1192.7 406.5L1192.9 406.7L1193.1 406.8L1193.3 407.0L1193.5 407.1L1193.7 407.3L1193.9 407.4L1194.1 407.5L1194.3 407.6L1194.6 407.6L1194.8 407.6L1195.1 407.6L1195.3 407.6L1195.6 407.6L1195.9 407.5L1196.3 407.4L1196.6 407.2L1197.0 407.0L1197.4 406.8L1197.9 406.5L1198.3 406.2L1198.8 405.8L1199.2 405.4L1199.7 405.0L1200.2 404.5L1200.7 404.0L1201.2 403.5L1201.8 403.0L1202.3 402.4L1202.8 401.9L1203.4 401.3L1204.0 400.7L1204.5 400.1L1205.1 399.5L1205.7 398.9L1206.2 398.3L1206.8 397.6L1207.4 397.0L1208.0 396.4L1208.6 395.8L1209.1 395.2L1209.7 394.6L1210.3 394.0L1210.9 393.5L1211.4 392.9L1212.0 392.4L1212.5 391.9L1213.1 391.4L1213.7 390.9L1214.2 390.4L1214.8 389.8L1215.4 389.3L1216.0 388.8L1216.5 388.2L1217.1 387.7L1217.7 387.1L1218.3 386.6L1218.9 386.1L1219.4 385.6L1220.0 385.0L1220.6 384.5L1221.2 384.0L1221.8 383.5L1222.4 383.0L1222.9 382.5L1223.5 382.1L1224.1 381.6L1224.7 381.1L1225.3 380.7L1225.9 380.3L1226.4 379.9L1227.0 379.5L1227.6 379.1L1228.1 378.7L1228.7 378.4L1229.3 378.1L1229.9 377.7L1230.4 377.4L1231.0 377.1L1231.6 376.8L1232.1 376.5L1232.7 376.3L1233.2 376.0L1233.8 375.7L1234.4 375.5L1234.9 375.3L1235.5 375.0L1236.1 374.8L1236.6 374.6L1237.2 374.4L1237.7 374.2L1238.3 374.0L1238.8 373.9L1239.4 373.7L1240.0 373.6L1240.5 373.4L1241.1 373.3L1241.6 373.2L1242.2 373.1L1242.8 373.0L1243.3 372.9L1243.9 372.8L1244.4 372.7L1245.0 372.7L1245.5 372.6L1246.0 372.6L1246.6 372.6L1247.1 372.6L1247.6 372.6L1248.1 372.6L1248.7 372.6L1249.2 372.7L1249.7 372.7L1250.2 372.8L1250.8 372.9L1251.3 372.9L1251.8 373.0L1252.3 373.1L1252.9 373.2L1253.4 373.3L1254.0 373.4L1254.5 373.5L1255.1 373.6L1255.7 373.7L1256.2 373.8L1256.8 373.9L1257.4 374.0L1258.0 374.1L1258.6 374.2L1259.3 374.3L1259.9 374.4L1260.6 374.5L1261.2 374.6L1261.9 374.7L1262.6 374.8L1263.3 374.9L1264.0 375.0L1264.7 375.1L1265.4 375.3L1266.1 375.4L1266.8 375.5L1267.5 375.7L1268.3 375.8L1269.0 375.9L1269.7 376.1L1270.5 376.2L1271.2 376.3L1272.0 376.5L1272.7 376.6L1273.5 376.7L1274.3 376.9L1275.0 377.0L1275.8 377.1L1276.5 377.2L1277.3 377.4L1278.1 377.5L1278.8 377.6L1279.6 377.7L1280.4 377.8L1281.1 377.9L1281.9 378.0L1282.8 378.1L1283.6 378.2L1284.4 378.3L1285.2 378.3L1286.1 378.4L1286.9 378.5L1287.8 378.6L1288.7 378.7L1289.5 378.7L1290.4 378.8L1291.2 378.9L1292.1 379.0L1292.9 379.1L1293.7 379.1L1294.5 379.2L1295.3 379.3L1296.1 379.4L1296.9 379.5L1297.7 379.5L1298.4 379.6L1299.2 379.7L1299.9 379.8L1300.5 379.9L1301.2 380.0L1301.8 380.1L1302.4 380.2L1303.0 380.3L1303.6 380.4L1304.1 380.5L1304.7 380.6L1305.2 380.7L1305.7 380.8L1306.1 380.9L1306.6 381.0L1307.0 381.1L1307.5 381.2L1307.9 381.3L1308.3 381.4L1308.7 381.5L1309.1 381.6L1309.5 381.7L1309.9 381.9L1310.3 382.0L1310.7 382.1L1311.1 382.2L1311.5 382.3L1311.8 382.4L1312.2 382.6L1312.6 382.7L1313.0 382.8L1313.3 382.9L1313.7 383.1L1314.1 383.2L1314.5 383.3L1314.9 383.5L1315.3 383.6L1315.7 383.7L1316.1 383.9L1316.5 384.0L1316.8 384.1L1317.2 384.3L1317.6 384.4L1317.9 384.6L1318.3 384.7L1318.7 384.8L1319.0 385.0L1319.4 385.1L1319.7 385.3L1320.1 385.4L1320.4 385.6L1320.8 385.7L1321.1 385.9L1321.4 386.0L1321.8 386.2L1322.1 386.4L1322.4 386.5L1322.8 386.7L1323.1 386.9L1323.4 387.0L1323.7 387.2L1324.1 387.4L1324.4 387.5L1324.7 387.7L1325.0 387.9L1325.3 388.1L1325.6 388.3L1325.9 388.5L1326.2 388.7L1326.5 388.9L1326.8 389.1L1327.1 389.3L1327.4 389.5L1327.7 389.7L1328.0 389.9L1328.3 390.1L1328.6 390.3L1328.8 390.5L1329.1 390.7L1329.4 390.9L1329.7 391.1L1329.9 391.4L1330.2 391.6L1330.4 391.8L1330.7 391.9L1330.9 392.1L1331.2 392.3L1331.4 392.5L1331.7 392.7L1331.9 392.9L1332.2 393.0L1332.4 393.2L1332.6 393.4L1332.8 393.6L1333.1 393.7L1333.3 393.9L1333.5 394.0L1333.7 394.2L1333.9 394.4L1334.1 394.5L1334.3 394.7L1334.5 394.8L1334.7 395.0L1334.8 395.1L1335.0 395.3L1335.2 395.4L1335.4 395.5L1335.6 395.7L1335.8 395.8L1335.9 396.0L1336.1 396.1L1336.3 396.3L1336.5 396.4L1336.7 396.6L1336.9 396.7L1337.1 396.9L1337.3 397.0" fill="none" stroke="#d65244" stroke-width="2.7" stroke-linejoin="round" stroke-linecap="butt"/><path d="M1370.7 388.8h6.0v6.0h-6.0z" fill="#5977e3"/></g>
<g clip-path="url(#cl_c1)"><path d="M163.5 871.3h6.0v6.0h-6.0zM163.6 859.8h6.0v6.0h-6.0zM150.6 858.9h6.0v6.0h-6.0zM140.4 871.6h6.0v6.0h-6.0zM178.2 862.7h6.0v6.0h-6.0zM189.0 861.7h6.0v6.0h-6.0zM176.0 864.1h6.0v6.0h-6.0zM164.7 850.9h6.0v6.0h-6.0zM172.5 849.0h6.0v6.0h-6.0zM200.2 840.9h6.0v6.0h-6.0zM197.6 817.1h6.0v6.0h-6.0zM196.6 814.0h6.0v6.0h-6.0zM224.7 786.0h6.0v6.0h-6.0zM240.0 777.4h6.0v6.0h-6.0zM269.4 783.2h6.0v6.0h-6.0zM299.5 767.2h6.0v6.0h-6.0zM328.3 775.2h6.0v6.0h-6.0zM361.2 777.4h6.0v6.0h-6.0zM382.2 788.3h6.0v6.0h-6.0zM399.0 807.9h6.0v6.0h-6.0zM416.3 814.7h6.0v6.0h-6.0zM427.6 826.4h6.0v6.0h-6.0zM428.1 833.2h6.0v6.0h-6.0zM437.0 847.2h6.0v6.0h-6.0zM438.9 849.3h6.0v6.0h-6.0zM443.4 859.0h6.0v6.0h-6.0zM442.8 861.5h6.0v6.0h-6.0zM447.1 866.0h6.0v6.0h-6.0zM450.0 862.8h6.0v6.0h-6.0zM451.4 860.6h6.0v6.0h-6.0zM454.9 857.2h6.0v6.0h-6.0zM456.6 858.2h6.0v6.0h-6.0zM459.2 860.3h6.0v6.0h-6.0zM461.5 862.2h6.0v6.0h-6.0zM463.0 862.9h6.0v6.0h-6.0zM466.1 864.9h6.0v6.0h-6.0zM469.9 865.9h6.0v6.0h-6.0zM471.7 864.9h6.0v6.0h-6.0zM475.0 865.9h6.0v6.0h-6.0zM477.8 864.6h6.0v6.0h-6.0zM481.0 863.5h6.0v6.0h-6.0zM483.1 862.7h6.0v6.0h-6.0zM486.0 861.4h6.0v6.0h-6.0zM489.0 859.3h6.0v6.0h-6.0zM491.7 859.5h6.0v6.0h-6.0zM493.8 859.0h6.0v6.0h-6.0zM497.9 858.5h6.0v6.0h-6.0zM499.3 856.7h6.0v6.0h-6.0zM264.8 763.2h6.0v6.0h-6.0zM304.1 775.9h6.0v6.0h-6.0zM332.3 779.6h6.0v6.0h-6.0zM338.9 779.6h6.0v6.0h-6.0zM127.7 873.9h6.0v6.0h-6.0zM132.9 873.2h6.0v6.0h-6.0z" fill="#3b4cc0"/><path d="M172.4 865.2L172.5 864.9L172.6 864.5L172.8 864.2L172.9 863.8L173.1 863.5L173.2 863.1L173.4 862.7L173.6 862.3L173.7 861.9L173.9 861.5L174.1 861.0L174.3 860.6L174.5 860.2L174.7 859.7L174.9 859.2L175.1 858.8L175.3 858.3L175.6 857.8L175.8 857.3L176.1 856.7L176.3 856.2L176.6 855.7L176.9 855.1L177.1 854.5L177.4 853.9L177.7 853.3L178.0 852.7L178.4 852.1L178.7 851.5L179.0 850.8L179.4 850.1L179.8 849.5L180.1 848.8L180.5 848.1L180.9 847.3L181.4 846.6L181.8 845.8L182.2 845.1L182.7 844.3L183.2 843.5L183.7 842.7L184.2 841.8L184.7 841.0L185.3 840.1L185.9 839.2L186.4 838.4L187.0 837.4L187.7 836.5L188.3 835.6L189.0 834.6L189.7 833.6L190.4 832.6L191.2 831.6L191.9 830.6L192.7 829.6L193.5 828.5L194.4 827.5L195.3 826.4L196.2 825.3L197.1 824.2L198.1 823.0L199.1 821.9L200.1 820.7L201.1 819.6L202.2 818.4L203.4 817.2L204.5 816.0L205.7 814.8L207.0 813.6L208.2 812.4L209.6 811.1L210.9 809.9L212.3 808.7L213.7 807.4L215.2 806.2L216.7 804.9L218.3 803.6L219.9 802.4L221.6 801.1L223.3 799.9L225.0 798.6L226.8 797.4L228.6 796.2L230.5 795.0L232.4 793.7L234.4 792.5L236.4 791.4L238.5 790.2L240.6 789.0L242.7 787.9L244.9 786.8L247.1 785.7L249.4 784.7L251.8 783.6L254.1 782.6L256.5 781.7L259.0 780.7L261.5 779.8L264.0 779.0L266.6 778.2L269.2 777.4L271.8 776.6L274.5 775.9L277.2 775.3L279.9 774.7L282.7 774.1L285.5 773.6L288.3 773.2L291.1 772.8L293.9 772.4L296.8 772.1L299.6 771.9L302.5 771.7L305.4 771.5L308.3 771.5L311.2 771.4L314.1 771.5L316.9 771.6L319.8 771.7L322.7 771.9L325.6 772.2L328.4 772.5L331.2 772.8L334.1 773.3L336.8 773.7L339.6 774.2L342.4 774.8L345.1 775.4L347.8 776.1L350.4 776.8L353.1 777.6L355.7 778.4L358.2 779.2L360.7 780.1L363.2 781.0L365.7 781.9L368.1 782.9L370.4 783.9L372.8 784.9L375.0 786.0L377.3 787.1L379.5 788.2L381.6 789.3L383.7 790.5L385.7 791.6L387.7 792.8L389.7 794.0L391.6 795.2L393.5 796.5L395.3 797.7L397.1 798.9L398.8 800.2L400.5 801.4L402.1 802.7L403.7 803.9L405.3 805.2L406.8 806.5L408.2 807.7L409.7 809.0L411.1 810.2L412.4 811.4L413.7 812.7L415.0 813.9L416.2 815.1L417.4 816.3L418.5 817.5L419.7 818.7L420.8 819.9L421.8 821.0L422.8 822.2L423.8 823.3L424.8 824.4L425.7 825.5L426.6 826.6L427.5 827.7L428.3 828.8L429.1 829.8L429.9 830.9L430.7 831.9L431.4 832.9L432.1 833.9L432.8 834.8L433.5 835.8L434.1 836.7L434.7 837.7L435.3 838.6L435.9 839.5L436.5 840.3L437.0 841.2L437.6 842.0L438.1 842.9L438.6 843.7L439.0 844.5L439.5 845.3L439.9 846.0L440.4 846.8L440.8 847.5L441.2 848.2L441.6 848.9L442.0 849.6L442.3 850.3L442.7 851.0L443.0 851.6L443.4 852.3L443.7 852.9L444.0 853.5L444.3 854.1L444.6 854.7L444.8 855.2L445.1 855.8L445.4 856.3L445.6 856.9L445.9 857.4L446.1 857.9L446.3 858.4L446.6 858.9L446.8 859.4L447.0 859.8L447.2 860.3L447.4 860.7L447.6 861.1L447.8 861.6L447.9 862.0L448.1 862.4L448.3 862.8L448.4 863.2L448.6 863.5L448.8 863.9L448.9 864.3L449.0 864.6L449.2 865.0L449.3 865.3L449.4 865.6L449.6 865.9L449.7 866.2L449.8 866.5L449.9 866.8L450.0 867.1L450.1 867.4L450.0 867.1L450.2 867.0L450.4 866.8L450.6 866.6L450.8 866.4L451.0 866.2L451.1 866.0L451.3 865.8L451.5 865.6L451.7 865.4L451.9 865.2L452.0 865.0L452.2 864.8L452.4 864.5L452.6 864.3L452.8 864.1L452.9 863.9L453.1 863.7L453.3 863.5L453.5 863.3L453.7 863.1L453.9 862.9L454.0 862.7L454.2 862.5L454.4 862.3L454.6 862.1L454.8 861.9L455.0 861.8L455.2 861.6L455.3 861.5L455.5 861.3L455.7 861.2L455.9 861.1L456.1 861.0L456.3 860.9L456.5 860.8L456.7 860.7L456.9 860.7L457.2 860.6L457.4 860.6L457.6 860.6L457.8 860.6L458.0 860.6L458.2 860.6L458.4 860.7L458.7 860.7L458.9 860.8L459.1 860.9L459.3 861.0L459.6 861.2L459.8 861.3L460.0 861.4L460.3 861.6L460.5 861.7L460.7 861.9L461.0 862.1L461.2 862.3L461.4 862.5L461.7 862.6L461.9 862.8L462.2 863.0L462.4 863.2L462.7 863.4L462.9 863.7L463.1 863.9L463.4 864.1L463.6 864.3L463.9 864.5L464.1 864.7L464.4 864.9L464.6 865.1L464.9 865.2L465.2 865.4L465.4 865.6L465.7 865.7L465.9 865.9L466.2 866.0L466.4 866.2L466.7 866.3L467.0 866.4L467.2 866.5L467.5 866.6L467.7 866.7L468.0 866.8L468.2 866.9L468.5 867.0L468.7 867.1L469.0 867.1L469.2 867.2L469.5 867.3L469.7 867.4L470.0 867.5L470.2 867.5L470.5 867.6L470.7 867.7L470.9 867.8L471.2 867.8L471.4 867.9L471.7 867.9L472.0 868.0L472.2 868.0L472.5 868.1L472.7 868.1L473.0 868.2L473.3 868.2L473.6 868.2L473.8 868.3L474.1 868.3L474.4 868.3L474.7 868.3L475.0 868.3L475.3 868.3L475.6 868.3L475.9 868.3L476.2 868.3L476.6 868.2L476.9 868.2L477.3 868.2L477.6 868.1L478.0 868.1L478.3 868.0L478.7 867.9L479.1 867.8L479.5 867.7L479.9 867.6L480.4 867.5L480.8 867.4L481.3 867.3L481.7 867.1L482.2 867.0L482.7 866.8L483.2 866.6L483.7 866.5L484.2 866.3L484.7 866.1L485.2 865.9L485.7 865.7L486.2 865.5L486.7 865.3L487.3 865.1L487.8 864.9L488.3 864.7L488.8 864.5L489.3 864.3L489.8 864.1L490.3 863.9L490.8 863.7L491.3 863.4L491.8 863.3L492.3 863.1L492.8 862.9L493.2 862.7L493.7 862.5L494.1 862.3L494.6 862.2L495.0 862.0L495.4 861.8L495.8 861.7L496.2 861.6L496.5 861.4L496.9 861.3L497.2 861.2L497.5 861.1L497.8 861.0L498.1 860.9L498.4 860.8L498.7 860.7L498.9 860.6L499.2 860.6L499.4 860.5L499.7 860.4L499.9 860.4L500.1 860.3L500.3 860.2L500.6 860.2L500.8 860.1L500.9 860.1L501.1 860.0L501.3 860.0L501.5 859.9L501.7 859.9L501.8 859.9L502.0 859.8L502.2 859.8L502.3 859.7L502.5 859.7L502.7 859.7L502.8 859.6L503.0 859.6L503.2 859.5L503.3 859.5L503.5 859.5L503.7 859.4L503.9 859.4L504.0 859.3L504.2 859.3L504.4 859.2L504.6 859.2L504.8 859.1L505.0 859.1" fill="none" stroke="#3b4cc0" stroke-width="2.7" stroke-linejoin="round" stroke-linecap="butt"/><path d="M164.3 843.2h6.0v6.0h-6.0zM134.7 844.2h6.0v6.0h-6.0zM145.7 868.3h6.0v6.0h-6.0zM131.0 854.8h6.0v6.0h-6.0zM170.7 869.1h6.0v6.0h-6.0zM192.1 858.6h6.0v6.0h-6.0zM178.3 847.2h6.0v6.0h-6.0zM161.5 846.1h6.0v6.0h-6.0zM196.1 834.2h6.0v6.0h-6.0zM189.7 829.7h6.0v6.0h-6.0zM188.3 820.0h6.0v6.0h-6.0zM213.0 800.1h6.0v6.0h-6.0zM222.1 797.6h6.0v6.0h-6.0zM237.7 790.7h6.0v6.0h-6.0zM261.0 780.1h6.0v6.0h-6.0zM285.2 784.9h6.0v6.0h-6.0zM316.2 783.4h6.0v6.0h-6.0zM344.7 784.8h6.0v6.0h-6.0zM360.0 795.0h6.0v6.0h-6.0zM379.5 803.0h6.0v6.0h-6.0zM396.8 819.3h6.0v6.0h-6.0zM397.0 833.9h6.0v6.0h-6.0zM408.1 833.5h6.0v6.0h-6.0zM411.6 843.5h6.0v6.0h-6.0zM413.4 855.0h6.0v6.0h-6.0zM416.1 854.3h6.0v6.0h-6.0zM420.3 861.4h6.0v6.0h-6.0zM422.6 868.6h6.0v6.0h-6.0zM424.3 864.5h6.0v6.0h-6.0zM427.2 863.0h6.0v6.0h-6.0zM431.6 862.8h6.0v6.0h-6.0zM433.0 864.9h6.0v6.0h-6.0zM436.3 865.6h6.0v6.0h-6.0zM439.2 863.6h6.0v6.0h-6.0zM442.1 866.4h6.0v6.0h-6.0zM444.7 866.3h6.0v6.0h-6.0zM448.4 866.0h6.0v6.0h-6.0zM451.9 865.3h6.0v6.0h-6.0zM454.3 863.9h6.0v6.0h-6.0zM455.9 862.8h6.0v6.0h-6.0zM458.1 861.9h6.0v6.0h-6.0zM461.3 859.2h6.0v6.0h-6.0zM463.2 857.7h6.0v6.0h-6.0zM465.7 855.0h6.0v6.0h-6.0zM467.7 855.0h6.0v6.0h-6.0zM472.9 854.8h6.0v6.0h-6.0zM475.1 853.8h6.0v6.0h-6.0zM476.7 851.4h6.0v6.0h-6.0zM480.9 852.3h6.0v6.0h-6.0zM484.1 853.0h6.0v6.0h-6.0zM484.6 852.1h6.0v6.0h-6.0zM488.7 852.1h6.0v6.0h-6.0zM491.7 851.9h6.0v6.0h-6.0zM495.4 853.8h6.0v6.0h-6.0zM497.8 852.8h6.0v6.0h-6.0zM500.7 852.6h6.0v6.0h-6.0zM301.1 788.5h6.0v6.0h-6.0zM325.6 795.9h6.0v6.0h-6.0zM321.9 785.5h6.0v6.0h-6.0z" fill="#5977e3"/><path d="M172.5 865.8L172.7 865.5L172.8 865.2L172.9 864.9L173.1 864.5L173.2 864.2L173.4 863.8L173.6 863.5L173.7 863.1L173.9 862.7L174.1 862.3L174.3 861.9L174.5 861.5L174.7 861.1L174.9 860.7L175.1 860.3L175.3 859.8L175.5 859.4L175.7 858.9L176.0 858.5L176.2 858.0L176.5 857.5L176.7 857.0L177.0 856.5L177.3 856.0L177.6 855.4L177.9 854.9L178.2 854.3L178.5 853.7L178.8 853.2L179.2 852.6L179.5 852.0L179.9 851.3L180.2 850.7L180.6 850.1L181.0 849.4L181.4 848.7L181.8 848.1L182.3 847.4L182.7 846.7L183.2 845.9L183.7 845.2L184.2 844.4L184.7 843.7L185.2 842.9L185.8 842.1L186.3 841.3L186.9 840.5L187.5 839.7L188.1 838.8L188.8 838.0L189.4 837.1L190.1 836.2L190.8 835.3L191.5 834.4L192.3 833.5L193.1 832.6L193.9 831.6L194.7 830.6L195.5 829.7L196.4 828.7L197.3 827.7L198.2 826.7L199.2 825.7L200.2 824.7L201.2 823.6L202.3 822.6L203.3 821.5L204.4 820.5L205.6 819.4L206.8 818.3L208.0 817.3L209.2 816.2L210.5 815.1L211.8 814.0L213.2 812.9L214.6 811.9L216.0 810.8L217.5 809.7L219.0 808.6L220.5 807.5L222.1 806.5L223.7 805.4L225.3 804.3L227.0 803.3L228.8 802.2L230.5 801.2L232.4 800.2L234.2 799.2L236.1 798.2L238.0 797.3L240.0 796.3L242.0 795.4L244.0 794.5L246.1 793.6L248.2 792.8L250.4 792.0L252.5 791.2L254.8 790.4L257.0 789.7L259.3 789.0L261.6 788.3L263.9 787.7L266.3 787.1L268.6 786.6L271.0 786.0L273.5 785.6L275.9 785.1L278.4 784.8L280.9 784.4L283.4 784.1L285.9 783.9L288.4 783.7L290.9 783.5L293.5 783.4L296.0 783.3L298.5 783.3L301.1 783.4L303.6 783.4L306.1 783.6L308.7 783.7L311.2 783.9L313.7 784.2L316.2 784.5L318.6 784.9L321.1 785.2L323.5 785.7L326.0 786.2L328.4 786.7L330.7 787.2L333.1 787.8L335.4 788.5L337.7 789.1L340.0 789.9L342.2 790.6L344.4 791.4L346.6 792.2L348.7 793.0L350.8 793.8L352.9 794.7L354.9 795.6L356.9 796.6L358.9 797.5L360.8 798.5L362.7 799.5L364.5 800.5L366.3 801.5L368.1 802.5L369.8 803.5L371.5 804.6L373.1 805.6L374.7 806.7L376.3 807.8L377.8 808.9L379.3 810.0L380.8 811.0L382.2 812.1L383.6 813.2L384.9 814.3L386.2 815.4L387.5 816.5L388.8 817.5L390.0 818.6L391.1 819.7L392.3 820.7L393.4 821.8L394.4 822.8L395.5 823.9L396.5 824.9L397.5 825.9L398.4 826.9L399.4 827.9L400.2 828.9L401.1 829.9L402.0 830.9L402.8 831.8L403.6 832.8L404.3 833.7L405.1 834.6L405.8 835.5L406.5 836.4L407.2 837.3L407.8 838.2L408.5 839.0L409.1 839.9L409.7 840.7L410.3 841.5L410.8 842.3L411.4 843.1L411.9 843.9L412.4 844.6L412.9 845.4L413.4 846.1L413.8 846.8L414.3 847.5L414.7 848.2L415.1 848.9L415.5 849.6L415.9 850.2L416.3 850.9L416.7 851.5L417.0 852.1L417.4 852.7L417.7 853.3L418.0 853.9L418.3 854.4L418.6 855.0L418.9 855.5L419.2 856.1L419.5 856.6L419.8 857.1L420.0 857.6L420.3 858.1L420.5 858.6L420.7 859.0L421.0 859.5L421.2 859.9L421.4 860.4L421.6 860.8L421.8 861.2L422.0 861.6L422.2 862.0L422.4 862.4L422.6 862.8L422.7 863.2L422.9 863.6L423.1 863.9L423.2 864.3L423.4 864.6L423.5 864.9L423.7 865.3L423.8 865.6L423.9 865.9L424.1 866.2L424.2 866.5L424.3 866.8L424.4 867.1L424.6 867.3L424.7 867.6L424.8 867.9L424.7 867.6L425.0 867.6L425.3 867.6L425.6 867.6L426.0 867.5L426.3 867.5L426.6 867.5L426.9 867.5L427.2 867.4L427.5 867.4L427.8 867.4L428.2 867.4L428.5 867.4L428.8 867.3L429.1 867.3L429.4 867.3L429.7 867.3L430.1 867.3L430.4 867.2L430.7 867.2L431.0 867.2L431.4 867.2L431.7 867.2L432.1 867.2L432.4 867.2L432.8 867.2L433.1 867.2L433.5 867.2L433.9 867.3L434.2 867.3L434.6 867.3L435.0 867.4L435.4 867.4L435.8 867.4L436.2 867.5L436.7 867.6L437.1 867.6L437.5 867.7L438.0 867.7L438.4 867.8L438.8 867.9L439.3 868.0L439.7 868.0L440.2 868.1L440.6 868.2L441.0 868.2L441.5 868.3L441.9 868.4L442.4 868.4L442.8 868.5L443.2 868.5L443.7 868.6L444.1 868.6L444.5 868.7L444.9 868.7L445.3 868.7L445.7 868.7L446.1 868.8L446.5 868.8L446.9 868.8L447.2 868.8L447.6 868.9L448.0 868.9L448.3 868.9L448.7 869.0L449.0 869.0L449.3 869.0L449.7 869.0L450.0 869.0L450.4 869.1L450.7 869.1L451.1 869.1L451.4 869.1L451.8 869.0L452.1 869.0L452.5 869.0L452.8 868.9L453.2 868.9L453.6 868.8L454.0 868.7L454.4 868.6L454.8 868.5L455.2 868.3L455.6 868.2L456.1 868.0L456.5 867.8L457.0 867.6L457.5 867.3L458.0 867.0L458.5 866.7L459.0 866.4L459.5 866.1L460.0 865.7L460.5 865.3L461.1 865.0L461.6 864.6L462.1 864.2L462.7 863.8L463.2 863.4L463.8 862.9L464.3 862.5L464.9 862.1L465.4 861.7L466.0 861.3L466.6 860.9L467.1 860.5L467.7 860.2L468.2 859.8L468.8 859.5L469.3 859.2L469.8 858.9L470.4 858.6L470.9 858.3L471.4 858.1L472.0 857.9L472.5 857.7L473.1 857.5L473.6 857.3L474.1 857.1L474.7 856.9L475.2 856.7L475.8 856.5L476.3 856.4L476.9 856.2L477.4 856.1L478.0 855.9L478.5 855.8L479.1 855.7L479.6 855.5L480.1 855.4L480.7 855.3L481.2 855.2L481.7 855.1L482.2 855.1L482.8 855.0L483.3 854.9L483.8 854.8L484.3 854.8L484.8 854.7L485.3 854.7L485.7 854.6L486.2 854.6L486.7 854.6L487.2 854.6L487.6 854.6L488.1 854.6L488.6 854.6L489.0 854.7L489.5 854.7L489.9 854.8L490.4 854.8L490.8 854.9L491.3 855.0L491.7 855.1L492.1 855.1L492.6 855.2L493.0 855.3L493.4 855.4L493.8 855.5L494.2 855.6L494.6 855.6L495.0 855.7L495.4 855.8L495.8 855.9L496.2 855.9L496.5 856.0L496.9 856.0L497.3 856.1L497.6 856.1L498.0 856.1L498.3 856.2L498.6 856.2L498.9 856.2L499.2 856.2L499.5 856.2L499.8 856.2L500.1 856.2L500.4 856.2L500.7 856.2L500.9 856.2L501.2 856.2L501.5 856.2L501.7 856.2L502.0 856.2L502.2 856.2L502.5 856.2L502.7 856.2L503.0 856.2L503.2 856.2L503.5 856.1L503.7 856.1L504.0 856.1L504.2 856.1L504.5 856.1L504.7 856.1L505.0 856.1" fill="none" stroke="#5977e3" stroke-width="2.7" stroke-linejoin="round" stroke-linecap="butt"/><path d="M175.0 841.0h6.0v6.0h-6.0zM170.6 869.6h6.0v6.0h-6.0zM139.4 843.4h6.0v6.0h-6.0zM157.2 859.3h6.0v6.0h-6.0zM169.4 868.2h6.0v6.0h-6.0zM161.9 850.5h6.0v6.0h-6.0zM172.6 858.3h6.0v6.0h-6.0zM173.4 851.7h6.0v6.0h-6.0zM201.1 853.8h6.0v6.0h-6.0zM178.8 856.4h6.0v6.0h-6.0zM195.3 843.2h6.0v6.0h-6.0zM202.7 824.0h6.0v6.0h-6.0zM203.6 817.9h6.0v6.0h-6.0zM226.6 814.3h6.0v6.0h-6.0zM227.2 810.3h6.0v6.0h-6.0zM260.8 797.7h6.0v6.0h-6.0zM286.3 801.2h6.0v6.0h-6.0zM293.0 807.1h6.0v6.0h-6.0zM315.1 815.8h6.0v6.0h-6.0zM335.6 823.6h6.0v6.0h-6.0zM340.3 833.3h6.0v6.0h-6.0zM344.2 840.0h6.0v6.0h-6.0zM350.7 847.5h6.0v6.0h-6.0zM353.2 852.4h6.0v6.0h-6.0zM358.3 858.5h6.0v6.0h-6.0zM358.9 864.7h6.0v6.0h-6.0zM358.2 866.8h6.0v6.0h-6.0zM358.0 867.7h6.0v6.0h-6.0zM360.4 866.6h6.0v6.0h-6.0zM361.9 864.1h6.0v6.0h-6.0zM364.1 860.6h6.0v6.0h-6.0zM365.5 861.4h6.0v6.0h-6.0zM367.7 860.1h6.0v6.0h-6.0zM372.7 857.8h6.0v6.0h-6.0zM374.9 858.4h6.0v6.0h-6.0zM378.3 858.8h6.0v6.0h-6.0zM379.9 858.9h6.0v6.0h-6.0zM384.9 858.0h6.0v6.0h-6.0zM387.2 858.7h6.0v6.0h-6.0zM389.6 858.8h6.0v6.0h-6.0zM392.3 859.1h6.0v6.0h-6.0zM395.5 857.5h6.0v6.0h-6.0zM398.1 856.9h6.0v6.0h-6.0zM400.7 855.7h6.0v6.0h-6.0zM402.8 854.4h6.0v6.0h-6.0zM407.1 852.7h6.0v6.0h-6.0zM408.9 851.5h6.0v6.0h-6.0zM411.6 849.4h6.0v6.0h-6.0zM414.3 849.6h6.0v6.0h-6.0zM415.4 847.7h6.0v6.0h-6.0zM420.2 845.4h6.0v6.0h-6.0zM422.4 845.8h6.0v6.0h-6.0zM425.3 844.3h6.0v6.0h-6.0zM428.5 844.0h6.0v6.0h-6.0zM430.8 843.9h6.0v6.0h-6.0zM435.0 844.4h6.0v6.0h-6.0zM436.9 846.1h6.0v6.0h-6.0zM439.7 845.7h6.0v6.0h-6.0zM442.7 846.2h6.0v6.0h-6.0zM446.3 847.4h6.0v6.0h-6.0zM449.6 847.1h6.0v6.0h-6.0zM451.6 848.2h6.0v6.0h-6.0zM453.9 849.0h6.0v6.0h-6.0zM458.6 848.3h6.0v6.0h-6.0zM460.0 849.0h6.0v6.0h-6.0zM464.5 850.0h6.0v6.0h-6.0zM466.5 850.8h6.0v6.0h-6.0zM469.0 851.2h6.0v6.0h-6.0zM471.9 851.8h6.0v6.0h-6.0zM475.5 852.6h6.0v6.0h-6.0zM478.7 853.1h6.0v6.0h-6.0zM480.8 854.2h6.0v6.0h-6.0zM484.4 854.5h6.0v6.0h-6.0zM488.0 855.2h6.0v6.0h-6.0zM489.3 856.1h6.0v6.0h-6.0zM491.5 857.6h6.0v6.0h-6.0zM494.5 858.3h6.0v6.0h-6.0zM497.2 858.2h6.0v6.0h-6.0zM500.6 859.0h6.0v6.0h-6.0zM270.8 806.3h6.0v6.0h-6.0zM270.8 811.5h6.0v6.0h-6.0zM298.2 821.9h6.0v6.0h-6.0z" fill="#7b9ff9"/><path d="M173.6 870.6L173.6 870.4L173.7 870.2L173.8 870.0L173.8 869.7L173.9 869.5L174.0 869.3L174.1 869.0L174.2 868.8L174.2 868.5L174.3 868.2L174.4 868.0L174.5 867.7L174.6 867.4L174.7 867.1L174.8 866.8L174.9 866.5L175.1 866.2L175.2 865.8L175.3 865.5L175.4 865.2L175.6 864.8L175.7 864.4L175.8 864.1L176.0 863.7L176.1 863.3L176.3 862.9L176.5 862.5L176.6 862.1L176.8 861.7L177.0 861.2L177.2 860.8L177.4 860.3L177.6 859.9L177.8 859.4L178.0 858.9L178.3 858.4L178.5 857.9L178.8 857.3L179.0 856.8L179.3 856.3L179.6 855.7L179.9 855.1L180.2 854.5L180.5 853.9L180.8 853.3L181.1 852.7L181.5 852.1L181.9 851.4L182.2 850.7L182.6 850.1L183.0 849.4L183.5 848.7L183.9 848.0L184.4 847.2L184.8 846.5L185.3 845.7L185.8 845.0L186.4 844.2L186.9 843.4L187.5 842.6L188.1 841.7L188.7 840.9L189.3 840.1L190.0 839.2L190.7 838.3L191.4 837.4L192.1 836.6L192.9 835.6L193.7 834.7L194.5 833.8L195.4 832.9L196.2 831.9L197.1 831.0L198.1 830.0L199.1 829.1L200.1 828.1L201.1 827.2L202.2 826.2L203.3 825.2L204.4 824.2L205.6 823.3L206.8 822.3L208.1 821.3L209.4 820.4L210.7 819.4L212.0 818.4L213.4 817.5L214.9 816.6L216.4 815.6L217.9 814.7L219.4 813.8L221.0 813.0L222.6 812.1L224.3 811.3L226.0 810.5L227.8 809.7L229.5 808.9L231.3 808.2L233.2 807.4L235.0 806.8L236.9 806.1L238.9 805.5L240.8 804.9L242.8 804.4L244.8 803.9L246.9 803.4L248.9 803.0L251.0 802.6L253.1 802.3L255.2 802.0L257.3 801.7L259.5 801.5L261.6 801.3L263.8 801.2L265.9 801.2L268.1 801.1L270.2 801.2L272.4 801.3L274.6 801.4L276.7 801.5L278.8 801.8L280.9 802.0L283.1 802.3L285.1 802.7L287.2 803.1L289.3 803.5L291.3 804.0L293.3 804.5L295.3 805.1L297.2 805.6L299.2 806.3L301.1 806.9L302.9 807.6L304.8 808.3L306.6 809.1L308.3 809.9L310.1 810.7L311.7 811.5L313.4 812.3L315.0 813.2L316.6 814.1L318.2 815.0L319.7 815.9L321.1 816.8L322.6 817.7L323.9 818.7L325.3 819.6L326.6 820.6L327.9 821.6L329.1 822.5L330.3 823.5L331.5 824.5L332.6 825.4L333.7 826.4L334.8 827.4L335.8 828.4L336.8 829.3L337.8 830.3L338.7 831.2L339.6 832.2L340.5 833.1L341.4 834.0L342.2 835.0L342.9 835.9L343.7 836.8L344.4 837.7L345.1 838.5L345.8 839.4L346.5 840.3L347.1 841.1L347.7 841.9L348.3 842.8L348.9 843.6L349.4 844.4L349.9 845.1L350.5 845.9L350.9 846.7L351.4 847.4L351.9 848.1L352.3 848.8L352.7 849.5L353.1 850.2L353.5 850.9L353.9 851.6L354.3 852.2L354.6 852.9L354.9 853.5L355.3 854.1L355.6 854.7L355.9 855.3L356.2 855.8L356.4 856.4L356.7 856.9L357.0 857.5L357.2 858.0L357.4 858.5L357.7 859.0L357.9 859.5L358.1 860.0L358.3 860.4L358.5 860.9L358.7 861.3L358.9 861.8L359.1 862.2L359.2 862.6L359.4 863.0L359.5 863.4L359.7 863.8L359.8 864.2L360.0 864.5L360.1 864.9L360.3 865.2L360.4 865.6L360.5 865.9L360.6 866.2L360.7 866.6L360.8 866.9L361.0 867.2L361.1 867.5L361.2 867.7L361.3 868.0L361.3 868.3L361.4 868.6L361.5 868.8L361.6 869.1L361.7 869.3L361.8 869.6L361.8 869.8L361.9 870.0L362.0 870.2L362.0 870.4L362.1 870.7L362.2 870.9L362.2 871.1L362.3 871.3L362.4 871.4L362.4 871.6L362.5 871.8L362.5 872.0L362.5 871.8L362.7 871.5L362.9 871.1L363.0 870.8L363.2 870.4L363.3 870.1L363.4 869.7L363.5 869.4L363.6 869.0L363.7 868.6L363.8 868.3L363.9 867.9L364.0 867.5L364.1 867.2L364.3 866.8L364.4 866.5L364.6 866.1L364.7 865.8L364.9 865.5L365.1 865.1L365.4 864.8L365.6 864.5L366.0 864.2L366.3 864.0L366.7 863.7L367.1 863.4L367.6 863.2L368.1 863.0L368.6 862.8L369.2 862.6L369.9 862.5L370.6 862.4L371.4 862.3L372.2 862.2L373.0 862.2L373.9 862.1L374.8 862.1L375.7 862.1L376.7 862.1L377.7 862.1L378.7 862.1L379.7 862.2L380.7 862.2L381.8 862.2L382.9 862.2L383.9 862.2L385.0 862.3L386.1 862.2L387.1 862.2L388.2 862.2L389.3 862.1L390.3 862.1L391.4 862.0L392.4 861.8L393.4 861.7L394.4 861.5L395.3 861.3L396.3 861.1L397.2 860.8L398.2 860.5L399.1 860.2L400.1 859.8L401.1 859.4L402.1 859.0L403.1 858.6L404.0 858.1L405.0 857.7L406.0 857.2L407.0 856.7L408.0 856.3L408.9 855.8L409.9 855.3L410.9 854.8L411.8 854.4L412.7 853.9L413.7 853.4L414.6 853.0L415.5 852.6L416.3 852.1L417.2 851.8L418.1 851.4L418.9 851.0L419.7 850.7L420.5 850.4L421.3 850.2L422.0 849.9L422.7 849.7L423.3 849.5L424.0 849.3L424.5 849.1L425.1 849.0L425.6 848.8L426.2 848.7L426.7 848.5L427.2 848.4L427.6 848.3L428.1 848.2L428.6 848.1L429.0 848.0L429.5 848.0L430.0 847.9L430.5 847.9L431.0 847.8L431.5 847.8L432.1 847.8L432.6 847.8L433.2 847.8L433.8 847.8L434.5 847.8L435.2 847.8L435.9 847.9L436.7 847.9L437.6 847.9L438.4 848.0L439.4 848.1L440.3 848.2L441.3 848.3L442.4 848.4L443.4 848.5L444.5 848.7L445.7 848.8L446.8 849.0L448.0 849.2L449.2 849.3L450.4 849.5L451.6 849.7L452.8 849.9L454.0 850.2L455.3 850.4L456.5 850.6L457.7 850.8L459.0 851.0L460.2 851.3L461.4 851.5L462.6 851.7L463.8 852.0L465.0 852.2L466.1 852.5L467.3 852.7L468.4 852.9L469.4 853.1L470.5 853.4L471.6 853.6L472.7 853.9L473.8 854.1L474.9 854.4L476.0 854.7L477.1 855.0L478.2 855.3L479.3 855.6L480.3 855.9L481.4 856.2L482.5 856.5L483.6 856.8L484.6 857.1L485.7 857.4L486.7 857.7L487.7 858.0L488.7 858.3L489.6 858.5L490.6 858.8L491.5 859.1L492.3 859.3L493.2 859.6L494.0 859.8L494.8 860.0L495.5 860.2L496.2 860.4L496.9 860.6L497.5 860.7L498.1 860.9L498.6 861.0L499.1 861.1L499.6 861.2L500.0 861.3L500.3 861.4L500.7 861.4L501.0 861.5L501.3 861.6L501.6 861.6L501.8 861.6L502.0 861.7L502.2 861.7L502.4 861.7L502.6 861.7L502.8 861.8L503.0 861.8L503.2 861.8L503.4 861.8L503.6 861.8L503.8 861.9L504.0 861.9L504.2 861.9L504.5 862.0L504.7 862.0L505.0 862.1" fill="none" stroke="#7b9ff9" stroke-width="2.7" stroke-linejoin="round" stroke-linecap="butt"/><path d="M147.4 856.8h6.0v6.0h-6.0zM165.6 864.8h6.0v6.0h-6.0zM166.3 841.4h6.0v6.0h-6.0zM174.2 842.3h6.0v6.0h-6.0zM175.3 863.9h6.0v6.0h-6.0zM160.4 877.4h6.0v6.0h-6.0zM186.6 846.1h6.0v6.0h-6.0zM173.7 862.8h6.0v6.0h-6.0zM186.5 868.5h6.0v6.0h-6.0zM187.4 835.2h6.0v6.0h-6.0zM193.0 836.5h6.0v6.0h-6.0zM204.1 833.6h6.0v6.0h-6.0zM204.1 827.0h6.0v6.0h-6.0zM216.8 826.3h6.0v6.0h-6.0zM228.5 820.8h6.0v6.0h-6.0zM246.8 814.0h6.0v6.0h-6.0zM271.9 814.4h6.0v6.0h-6.0zM277.9 818.3h6.0v6.0h-6.0zM296.5 827.0h6.0v6.0h-6.0zM305.1 836.0h6.0v6.0h-6.0zM312.5 841.8h6.0v6.0h-6.0zM318.4 844.2h6.0v6.0h-6.0zM317.6 849.1h6.0v6.0h-6.0zM324.3 858.4h6.0v6.0h-6.0zM329.3 862.5h6.0v6.0h-6.0zM325.5 861.6h6.0v6.0h-6.0zM328.1 865.2h6.0v6.0h-6.0zM327.5 867.2h6.0v6.0h-6.0zM330.7 867.3h6.0v6.0h-6.0zM333.7 865.1h6.0v6.0h-6.0zM336.1 864.0h6.0v6.0h-6.0zM339.1 861.8h6.0v6.0h-6.0zM340.5 860.7h6.0v6.0h-6.0zM345.3 859.7h6.0v6.0h-6.0zM347.4 858.1h6.0v6.0h-6.0zM350.4 859.1h6.0v6.0h-6.0zM352.1 858.4h6.0v6.0h-6.0zM355.8 856.2h6.0v6.0h-6.0zM359.5 855.2h6.0v6.0h-6.0zM360.5 853.7h6.0v6.0h-6.0zM364.6 853.8h6.0v6.0h-6.0zM367.7 853.0h6.0v6.0h-6.0zM369.6 853.3h6.0v6.0h-6.0zM373.5 851.3h6.0v6.0h-6.0zM375.5 850.4h6.0v6.0h-6.0zM379.4 850.6h6.0v6.0h-6.0zM381.7 849.6h6.0v6.0h-6.0zM384.3 848.1h6.0v6.0h-6.0zM388.3 847.0h6.0v6.0h-6.0zM390.4 848.3h6.0v6.0h-6.0zM393.6 845.5h6.0v6.0h-6.0zM394.8 844.6h6.0v6.0h-6.0zM398.0 844.3h6.0v6.0h-6.0zM401.9 843.4h6.0v6.0h-6.0zM404.9 842.8h6.0v6.0h-6.0zM407.2 843.3h6.0v6.0h-6.0zM410.7 842.0h6.0v6.0h-6.0zM412.4 842.1h6.0v6.0h-6.0zM416.2 842.3h6.0v6.0h-6.0zM418.3 841.4h6.0v6.0h-6.0zM422.2 840.4h6.0v6.0h-6.0zM424.6 842.2h6.0v6.0h-6.0zM427.5 842.3h6.0v6.0h-6.0zM430.9 842.4h6.0v6.0h-6.0zM435.1 840.1h6.0v6.0h-6.0zM436.1 841.8h6.0v6.0h-6.0zM439.4 842.0h6.0v6.0h-6.0zM443.4 842.8h6.0v6.0h-6.0zM445.4 843.2h6.0v6.0h-6.0zM449.8 844.4h6.0v6.0h-6.0zM451.7 843.3h6.0v6.0h-6.0zM454.5 843.6h6.0v6.0h-6.0zM457.6 845.5h6.0v6.0h-6.0zM461.5 845.3h6.0v6.0h-6.0zM463.7 845.5h6.0v6.0h-6.0zM466.6 845.4h6.0v6.0h-6.0zM469.3 845.7h6.0v6.0h-6.0zM471.0 845.6h6.0v6.0h-6.0zM474.4 845.9h6.0v6.0h-6.0zM478.9 846.5h6.0v6.0h-6.0zM481.4 846.8h6.0v6.0h-6.0zM484.1 849.0h6.0v6.0h-6.0zM487.2 849.0h6.0v6.0h-6.0zM489.3 848.2h6.0v6.0h-6.0zM492.8 849.1h6.0v6.0h-6.0zM495.0 849.6h6.0v6.0h-6.0zM498.8 851.2h6.0v6.0h-6.0zM501.0 851.3h6.0v6.0h-6.0z" fill="#9ebeff"/><path d="M178.1 870.7L178.2 870.5L178.3 870.3L178.4 870.1L178.5 869.9L178.6 869.7L178.7 869.5L178.8 869.2L178.9 869.0L179.0 868.8L179.1 868.6L179.2 868.3L179.3 868.1L179.4 867.8L179.6 867.6L179.7 867.3L179.8 867.0L180.0 866.8L180.1 866.5L180.2 866.2L180.4 865.9L180.6 865.6L180.7 865.3L180.9 865.0L181.1 864.7L181.2 864.3L181.4 864.0L181.6 863.6L181.8 863.3L182.0 862.9L182.2 862.6L182.4 862.2L182.6 861.8L182.9 861.4L183.1 861.1L183.3 860.7L183.6 860.2L183.9 859.8L184.1 859.4L184.4 859.0L184.7 858.5L185.0 858.1L185.3 857.6L185.6 857.2L185.9 856.7L186.3 856.2L186.6 855.7L187.0 855.2L187.3 854.7L187.7 854.2L188.1 853.7L188.5 853.1L188.9 852.6L189.3 852.1L189.8 851.5L190.3 850.9L190.7 850.4L191.2 849.8L191.7 849.2L192.2 848.6L192.8 848.0L193.3 847.4L193.9 846.8L194.5 846.2L195.1 845.6L195.7 844.9L196.4 844.3L197.0 843.7L197.7 843.0L198.4 842.4L199.1 841.7L199.9 841.1L200.6 840.4L201.4 839.8L202.2 839.1L203.0 838.4L203.9 837.8L204.8 837.1L205.6 836.5L206.6 835.8L207.5 835.2L208.5 834.5L209.5 833.9L210.5 833.2L211.5 832.6L212.6 831.9L213.6 831.3L214.7 830.7L215.9 830.1L217.0 829.5L218.2 828.9L219.4 828.4L220.6 827.8L221.9 827.2L223.1 826.7L224.4 826.2L225.7 825.7L227.0 825.2L228.4 824.8L229.8 824.3L231.1 823.9L232.5 823.5L234.0 823.1L235.4 822.8L236.9 822.4L238.3 822.1L239.8 821.8L241.3 821.6L242.8 821.3L244.3 821.1L245.8 821.0L247.3 820.8L248.9 820.7L250.4 820.6L252.0 820.5L253.5 820.5L255.0 820.5L256.6 820.5L258.1 820.5L259.7 820.6L261.2 820.7L262.7 820.8L264.3 821.0L265.8 821.2L267.3 821.4L268.8 821.6L270.3 821.9L271.8 822.2L273.2 822.5L274.7 822.8L276.1 823.2L277.5 823.6L278.9 824.0L280.3 824.4L281.7 824.9L283.0 825.3L284.3 825.8L285.6 826.3L286.9 826.8L288.2 827.4L289.4 827.9L290.6 828.5L291.8 829.1L293.0 829.7L294.1 830.2L295.2 830.9L296.3 831.5L297.4 832.1L298.5 832.7L299.5 833.4L300.5 834.0L301.5 834.7L302.4 835.3L303.4 836.0L304.3 836.6L305.2 837.3L306.0 837.9L306.9 838.6L307.7 839.3L308.5 839.9L309.3 840.6L310.0 841.2L310.8 841.9L311.5 842.5L312.2 843.2L312.9 843.8L313.5 844.5L314.2 845.1L314.8 845.7L315.4 846.3L316.0 847.0L316.5 847.6L317.1 848.2L317.6 848.8L318.1 849.4L318.6 849.9L319.1 850.5L319.6 851.1L320.0 851.6L320.5 852.2L320.9 852.7L321.3 853.3L321.7 853.8L322.1 854.3L322.5 854.8L322.8 855.3L323.2 855.8L323.5 856.3L323.9 856.8L324.2 857.3L324.5 857.7L324.8 858.2L325.1 858.6L325.4 859.1L325.7 859.5L325.9 859.9L326.2 860.3L326.4 860.8L326.7 861.2L326.9 861.5L327.1 861.9L327.4 862.3L327.6 862.7L327.8 863.0L328.0 863.4L328.2 863.7L328.3 864.1L328.5 864.4L328.7 864.7L328.9 865.0L329.0 865.4L329.2 865.7L329.4 866.0L329.5 866.3L329.6 866.5L329.8 866.8L329.9 867.1L330.1 867.4L330.2 867.6L330.3 867.9L330.4 868.1L330.5 868.4L330.7 868.6L330.8 868.8L330.9 869.1L331.0 869.3L331.1 869.5L331.2 869.7L331.3 869.9L331.4 870.1L331.4 870.3L331.5 870.5L331.6 870.7L331.7 870.9L331.8 871.1L331.9 871.3L331.9 871.4L332.0 871.6L332.1 871.8L332.1 871.9L332.1 871.8L332.5 871.5L333.0 871.2L333.5 870.9L333.9 870.6L334.3 870.3L334.8 870.0L335.2 869.7L335.6 869.4L336.0 869.1L336.4 868.8L336.8 868.5L337.2 868.2L337.7 867.9L338.1 867.6L338.5 867.3L339.0 867.0L339.4 866.7L339.9 866.4L340.4 866.1L340.9 865.8L341.4 865.5L341.9 865.3L342.5 865.0L343.1 864.7L343.7 864.4L344.3 864.1L345.0 863.8L345.7 863.5L346.4 863.3L347.1 863.0L347.9 862.7L348.7 862.5L349.5 862.2L350.3 861.9L351.2 861.7L352.1 861.4L352.9 861.1L353.9 860.9L354.8 860.6L355.7 860.4L356.7 860.1L357.6 859.9L358.6 859.6L359.6 859.4L360.6 859.1L361.6 858.8L362.6 858.6L363.6 858.3L364.6 858.1L365.6 857.8L366.6 857.5L367.6 857.2L368.6 857.0L369.6 856.7L370.6 856.4L371.6 856.1L372.6 855.8L373.6 855.5L374.6 855.2L375.6 854.9L376.7 854.5L377.7 854.2L378.7 853.9L379.8 853.5L380.9 853.2L381.9 852.8L383.0 852.4L384.0 852.1L385.1 851.7L386.2 851.4L387.3 851.0L388.3 850.7L389.4 850.3L390.5 850.0L391.6 849.7L392.7 849.4L393.7 849.0L394.8 848.7L395.9 848.5L397.0 848.2L398.0 847.9L399.1 847.7L400.2 847.4L401.2 847.2L402.3 847.0L403.4 846.8L404.4 846.6L405.5 846.4L406.5 846.2L407.6 846.1L408.7 845.9L409.7 845.7L410.8 845.6L411.8 845.5L412.9 845.3L414.0 845.2L415.0 845.1L416.1 845.0L417.1 844.9L418.2 844.8L419.2 844.7L420.3 844.6L421.4 844.5L422.4 844.5L423.5 844.4L424.5 844.4L425.6 844.3L426.7 844.3L427.7 844.3L428.8 844.2L429.8 844.2L430.9 844.2L432.0 844.2L433.0 844.3L434.1 844.3L435.1 844.3L436.2 844.4L437.2 844.4L438.3 844.5L439.4 844.6L440.4 844.7L441.5 844.8L442.5 844.9L443.6 845.0L444.7 845.1L445.7 845.3L446.8 845.4L447.8 845.5L448.9 845.6L450.0 845.8L451.0 845.9L452.1 846.1L453.1 846.2L454.2 846.4L455.2 846.5L456.3 846.6L457.4 846.8L458.4 846.9L459.5 847.1L460.5 847.2L461.6 847.3L462.7 847.5L463.8 847.6L464.9 847.8L466.0 847.9L467.2 848.1L468.3 848.3L469.4 848.5L470.6 848.6L471.7 848.8L472.9 849.0L474.0 849.2L475.2 849.3L476.3 849.5L477.4 849.7L478.5 849.9L479.6 850.1L480.7 850.2L481.8 850.4L482.8 850.6L483.8 850.7L484.8 850.9L485.8 851.0L486.7 851.2L487.6 851.3L488.5 851.4L489.4 851.5L490.2 851.7L491.0 851.8L491.8 851.9L492.5 852.0L493.2 852.0L493.8 852.1L494.5 852.2L495.1 852.3L495.7 852.3L496.2 852.4L496.8 852.4L497.3 852.5L497.8 852.5L498.3 852.6L498.8 852.6L499.2 852.6L499.7 852.7L500.2 852.7L500.6 852.8L501.1 852.8L501.5 852.8L502.0 852.9L502.5 852.9L503.0 853.0L503.4 853.0L504.0 853.0L504.5 853.1L505.0 853.1" fill="none" stroke="#9ebeff" stroke-width="2.7" stroke-linejoin="round" stroke-linecap="butt"/><path d="M173.0 870.6h6.0v6.0h-6.0zM159.1 838.9h6.0v6.0h-6.0zM172.3 853.7h6.0v6.0h-6.0zM166.0 852.1h6.0v6.0h-6.0zM179.2 867.2h6.0v6.0h-6.0zM177.2 849.7h6.0v6.0h-6.0zM169.5 879.4h6.0v6.0h-6.0zM194.1 859.1h6.0v6.0h-6.0zM199.8 863.5h6.0v6.0h-6.0zM183.0 863.0h6.0v6.0h-6.0zM194.6 866.6h6.0v6.0h-6.0zM198.9 839.3h6.0v6.0h-6.0zM202.4 844.3h6.0v6.0h-6.0zM201.3 837.6h6.0v6.0h-6.0zM225.4 827.1h6.0v6.0h-6.0zM242.9 833.2h6.0v6.0h-6.0zM246.5 828.5h6.0v6.0h-6.0zM261.6 831.9h6.0v6.0h-6.0zM263.3 833.1h6.0v6.0h-6.0zM288.4 837.9h6.0v6.0h-6.0zM292.2 849.5h6.0v6.0h-6.0zM295.7 849.3h6.0v6.0h-6.0zM298.5 856.7h6.0v6.0h-6.0zM300.3 859.9h6.0v6.0h-6.0zM303.6 863.9h6.0v6.0h-6.0zM304.5 864.2h6.0v6.0h-6.0zM305.7 870.8h6.0v6.0h-6.0zM306.9 869.1h6.0v6.0h-6.0zM310.8 869.0h6.0v6.0h-6.0zM312.7 868.9h6.0v6.0h-6.0zM317.2 868.4h6.0v6.0h-6.0zM318.3 868.1h6.0v6.0h-6.0zM321.7 867.7h6.0v6.0h-6.0zM323.8 867.1h6.0v6.0h-6.0zM326.2 864.2h6.0v6.0h-6.0zM328.4 863.6h6.0v6.0h-6.0zM331.2 861.2h6.0v6.0h-6.0zM334.0 858.4h6.0v6.0h-6.0zM336.1 857.7h6.0v6.0h-6.0zM339.8 856.6h6.0v6.0h-6.0zM342.9 855.3h6.0v6.0h-6.0zM343.5 853.5h6.0v6.0h-6.0zM347.8 852.1h6.0v6.0h-6.0zM350.0 852.3h6.0v6.0h-6.0zM352.7 850.0h6.0v6.0h-6.0zM356.9 847.8h6.0v6.0h-6.0zM358.8 847.2h6.0v6.0h-6.0zM360.9 847.0h6.0v6.0h-6.0zM363.6 845.9h6.0v6.0h-6.0zM364.8 845.7h6.0v6.0h-6.0zM369.5 843.8h6.0v6.0h-6.0zM371.3 841.3h6.0v6.0h-6.0zM374.7 841.5h6.0v6.0h-6.0zM377.5 841.1h6.0v6.0h-6.0zM380.9 840.1h6.0v6.0h-6.0zM384.5 839.0h6.0v6.0h-6.0zM386.7 838.3h6.0v6.0h-6.0zM389.8 837.8h6.0v6.0h-6.0zM391.7 837.5h6.0v6.0h-6.0zM395.1 836.1h6.0v6.0h-6.0zM398.2 835.1h6.0v6.0h-6.0zM399.7 836.2h6.0v6.0h-6.0zM405.0 836.2h6.0v6.0h-6.0zM406.1 835.1h6.0v6.0h-6.0zM408.7 837.2h6.0v6.0h-6.0zM413.6 837.0h6.0v6.0h-6.0zM416.8 837.4h6.0v6.0h-6.0zM417.8 837.7h6.0v6.0h-6.0zM420.8 838.6h6.0v6.0h-6.0zM426.1 839.8h6.0v6.0h-6.0zM426.9 840.1h6.0v6.0h-6.0zM428.2 842.3h6.0v6.0h-6.0zM431.8 844.0h6.0v6.0h-6.0zM436.2 845.4h6.0v6.0h-6.0z" fill="#c0d4f5"/><path d="M181.6 871.7L181.7 871.5L181.7 871.4L181.8 871.2L181.9 871.0L182.0 870.9L182.1 870.7L182.2 870.5L182.3 870.3L182.4 870.1L182.5 869.9L182.6 869.7L182.7 869.5L182.8 869.3L182.9 869.1L183.0 868.8L183.1 868.6L183.2 868.4L183.4 868.2L183.5 867.9L183.6 867.7L183.8 867.4L183.9 867.2L184.1 866.9L184.2 866.6L184.4 866.3L184.5 866.1L184.7 865.8L184.9 865.5L185.1 865.2L185.2 864.9L185.4 864.6L185.6 864.3L185.8 863.9L186.0 863.6L186.2 863.3L186.5 862.9L186.7 862.6L186.9 862.2L187.2 861.9L187.4 861.5L187.7 861.2L187.9 860.8L188.2 860.4L188.5 860.0L188.8 859.6L189.1 859.2L189.4 858.8L189.7 858.4L190.0 857.9L190.4 857.5L190.7 857.1L191.1 856.6L191.5 856.2L191.8 855.7L192.2 855.3L192.6 854.8L193.1 854.3L193.5 853.9L193.9 853.4L194.4 852.9L194.9 852.4L195.3 851.9L195.8 851.4L196.4 850.9L196.9 850.4L197.4 849.9L198.0 849.4L198.6 848.8L199.2 848.3L199.8 847.8L200.4 847.3L201.0 846.7L201.7 846.2L202.4 845.7L203.1 845.1L203.8 844.6L204.5 844.1L205.2 843.6L206.0 843.0L206.8 842.5L207.6 842.0L208.4 841.5L209.2 841.0L210.1 840.4L211.0 839.9L211.9 839.4L212.8 839.0L213.7 838.5L214.7 838.0L215.6 837.5L216.6 837.1L217.6 836.6L218.7 836.2L219.7 835.8L220.8 835.4L221.8 835.0L222.9 834.6L224.0 834.2L225.1 833.9L226.3 833.6L227.4 833.2L228.6 832.9L229.8 832.7L230.9 832.4L232.1 832.2L233.3 831.9L234.5 831.7L235.8 831.5L237.0 831.4L238.2 831.2L239.5 831.1L240.7 831.0L242.0 831.0L243.2 830.9L244.5 830.9L245.7 830.9L247.0 830.9L248.3 830.9L249.5 831.0L250.8 831.1L252.0 831.2L253.2 831.3L254.5 831.4L255.7 831.6L256.9 831.8L258.1 832.0L259.3 832.2L260.5 832.5L261.7 832.7L262.9 833.0L264.0 833.3L265.2 833.6L266.3 834.0L267.4 834.3L268.5 834.7L269.6 835.1L270.7 835.5L271.7 835.9L272.8 836.3L273.8 836.7L274.8 837.2L275.8 837.7L276.7 838.1L277.7 838.6L278.6 839.1L279.5 839.6L280.4 840.1L281.3 840.6L282.1 841.1L283.0 841.6L283.8 842.1L284.6 842.6L285.4 843.2L286.1 843.7L286.9 844.2L287.6 844.7L288.3 845.3L289.0 845.8L289.7 846.3L290.3 846.9L291.0 847.4L291.6 847.9L292.2 848.4L292.8 849.0L293.3 849.5L293.9 850.0L294.4 850.5L295.0 851.0L295.5 851.5L296.0 852.0L296.4 852.5L296.9 853.0L297.4 853.5L297.8 854.0L298.2 854.5L298.6 854.9L299.1 855.4L299.4 855.8L299.8 856.3L300.2 856.7L300.6 857.2L300.9 857.6L301.2 858.1L301.6 858.5L301.9 858.9L302.2 859.3L302.5 859.7L302.8 860.1L303.0 860.5L303.3 860.9L303.6 861.2L303.8 861.6L304.1 862.0L304.3 862.3L304.6 862.7L304.8 863.0L305.0 863.4L305.2 863.7L305.4 864.0L305.6 864.3L305.8 864.7L306.0 865.0L306.2 865.3L306.4 865.6L306.5 865.9L306.7 866.1L306.8 866.4L307.0 866.7L307.2 867.0L307.3 867.2L307.4 867.5L307.6 867.7L307.7 868.0L307.8 868.2L308.0 868.4L308.1 868.7L308.2 868.9L308.3 869.1L308.4 869.3L308.5 869.5L308.6 869.8L308.7 870.0L308.8 870.2L308.9 870.3L309.0 870.5L309.1 870.7L309.2 870.9L309.3 871.1L309.4 871.3L309.5 871.4L309.5 871.6L309.6 871.7L309.7 871.9L309.8 872.1L309.8 872.2L309.9 872.4L310.0 872.5L310.0 872.6L310.1 872.8L310.0 872.6L310.4 872.6L310.8 872.6L311.2 872.5L311.6 872.5L312.0 872.5L312.4 872.5L312.8 872.5L313.2 872.4L313.5 872.4L313.9 872.4L314.3 872.4L314.7 872.4L315.1 872.4L315.4 872.4L315.8 872.4L316.2 872.4L316.6 872.4L317.0 872.4L317.4 872.3L317.8 872.3L318.2 872.3L318.6 872.2L319.0 872.2L319.4 872.1L319.8 872.0L320.2 871.9L320.7 871.9L321.1 871.7L321.6 871.6L322.0 871.5L322.5 871.3L322.9 871.2L323.4 871.0L323.9 870.8L324.4 870.6L324.9 870.3L325.4 870.1L325.8 869.8L326.3 869.6L326.8 869.3L327.3 869.0L327.8 868.7L328.3 868.4L328.8 868.0L329.3 867.7L329.8 867.4L330.3 867.0L330.9 866.7L331.4 866.3L331.9 865.9L332.5 865.6L333.0 865.2L333.6 864.8L334.2 864.4L334.8 864.1L335.4 863.7L336.0 863.3L336.6 862.9L337.2 862.5L337.8 862.1L338.5 861.7L339.1 861.3L339.8 861.0L340.5 860.6L341.2 860.2L341.9 859.8L342.7 859.5L343.4 859.1L344.2 858.7L345.0 858.3L345.8 857.9L346.7 857.5L347.5 857.0L348.4 856.6L349.2 856.2L350.1 855.8L351.0 855.3L351.9 854.9L352.8 854.4L353.7 854.0L354.7 853.6L355.6 853.1L356.5 852.7L357.5 852.3L358.4 851.8L359.4 851.4L360.3 851.0L361.3 850.6L362.3 850.1L363.2 849.7L364.2 849.3L365.1 848.9L366.1 848.6L367.0 848.2L367.9 847.8L368.9 847.5L369.8 847.1L370.7 846.8L371.6 846.5L372.5 846.1L373.4 845.8L374.3 845.5L375.2 845.2L376.2 844.9L377.1 844.6L378.0 844.3L378.9 844.0L379.9 843.7L380.8 843.5L381.8 843.2L382.7 842.9L383.6 842.6L384.6 842.4L385.5 842.1L386.4 841.9L387.3 841.7L388.3 841.4L389.2 841.2L390.1 841.0L391.0 840.8L391.9 840.6L392.8 840.4L393.7 840.2L394.6 840.0L395.4 839.9L396.3 839.7L397.2 839.6L398.0 839.4L398.8 839.3L399.6 839.2L400.5 839.1L401.2 839.0L402.0 839.0L402.8 838.9L403.6 838.9L404.3 838.8L405.1 838.8L405.8 838.8L406.6 838.8L407.3 838.8L408.0 838.8L408.8 838.9L409.5 838.9L410.2 839.0L410.9 839.0L411.6 839.1L412.3 839.2L413.0 839.3L413.6 839.4L414.3 839.5L415.0 839.6L415.6 839.7L416.3 839.8L416.9 839.9L417.5 840.0L418.2 840.1L418.8 840.2L419.4 840.4L420.0 840.5L420.6 840.6L421.2 840.8L421.8 840.9L422.3 841.0L422.9 841.1L423.5 841.3L424.1 841.4L424.6 841.5L425.2 841.7L425.7 841.8L426.2 842.0L426.7 842.1L427.2 842.3L427.7 842.5L428.2 842.7L428.7 842.8L429.1 843.0L429.6 843.2L430.0 843.4L430.5 843.6L430.9 843.8L431.4 844.0L431.8 844.2L432.2 844.4L432.6 844.6L433.1 844.8L433.5 845.0L433.9 845.2L434.3 845.4L434.8 845.6L435.2 845.8L435.6 846.0L436.1 846.2L436.5 846.4L436.9 846.6L437.4 846.8L437.8 847.0L438.3 847.2" fill="none" stroke="#c0d4f5" stroke-width="2.7" stroke-linejoin="round" stroke-linecap="butt"/><path d="M182.1 865.0h6.0v6.0h-6.0zM166.8 867.7h6.0v6.0h-6.0zM161.9 852.8h6.0v6.0h-6.0zM158.9 872.8h6.0v6.0h-6.0zM171.5 848.3h6.0v6.0h-6.0zM165.3 858.0h6.0v6.0h-6.0zM193.5 874.8h6.0v6.0h-6.0zM173.8 871.1h6.0v6.0h-6.0zM200.4 846.3h6.0v6.0h-6.0zM191.9 852.7h6.0v6.0h-6.0zM188.7 842.9h6.0v6.0h-6.0zM200.8 845.2h6.0v6.0h-6.0zM213.1 845.2h6.0v6.0h-6.0zM206.8 832.6h6.0v6.0h-6.0zM221.0 822.4h6.0v6.0h-6.0zM233.1 827.5h6.0v6.0h-6.0zM251.4 834.8h6.0v6.0h-6.0zM264.0 833.9h6.0v6.0h-6.0zM272.7 838.8h6.0v6.0h-6.0zM278.4 841.5h6.0v6.0h-6.0zM285.7 844.1h6.0v6.0h-6.0zM295.6 846.6h6.0v6.0h-6.0zM298.7 856.0h6.0v6.0h-6.0zM298.6 861.5h6.0v6.0h-6.0zM297.1 863.3h6.0v6.0h-6.0zM303.0 865.9h6.0v6.0h-6.0zM303.2 868.9h6.0v6.0h-6.0zM303.9 869.5h6.0v6.0h-6.0zM306.4 868.9h6.0v6.0h-6.0zM308.5 869.5h6.0v6.0h-6.0zM312.6 868.6h6.0v6.0h-6.0zM314.6 867.3h6.0v6.0h-6.0zM316.8 865.7h6.0v6.0h-6.0zM320.3 865.0h6.0v6.0h-6.0zM322.1 863.1h6.0v6.0h-6.0zM326.1 862.2h6.0v6.0h-6.0zM327.8 859.8h6.0v6.0h-6.0zM330.1 858.2h6.0v6.0h-6.0zM332.1 857.2h6.0v6.0h-6.0zM334.9 855.0h6.0v6.0h-6.0zM338.3 852.0h6.0v6.0h-6.0zM339.9 853.3h6.0v6.0h-6.0zM343.4 850.5h6.0v6.0h-6.0zM344.1 849.0h6.0v6.0h-6.0zM348.2 847.5h6.0v6.0h-6.0zM351.3 847.4h6.0v6.0h-6.0zM353.6 844.7h6.0v6.0h-6.0zM356.0 843.7h6.0v6.0h-6.0zM359.4 843.0h6.0v6.0h-6.0zM360.9 842.0h6.0v6.0h-6.0zM363.6 840.6h6.0v6.0h-6.0zM367.1 839.1h6.0v6.0h-6.0zM370.6 838.2h6.0v6.0h-6.0zM372.9 836.3h6.0v6.0h-6.0zM375.4 837.2h6.0v6.0h-6.0zM378.6 835.8h6.0v6.0h-6.0zM381.5 835.8h6.0v6.0h-6.0zM383.3 834.3h6.0v6.0h-6.0zM385.2 834.2h6.0v6.0h-6.0zM389.3 834.2h6.0v6.0h-6.0zM391.9 834.4h6.0v6.0h-6.0zM395.5 833.8h6.0v6.0h-6.0zM398.0 833.1h6.0v6.0h-6.0zM401.2 832.4h6.0v6.0h-6.0zM405.0 833.2h6.0v6.0h-6.0zM407.7 834.9h6.0v6.0h-6.0zM410.6 835.0h6.0v6.0h-6.0zM414.6 835.3h6.0v6.0h-6.0zM416.0 836.2h6.0v6.0h-6.0zM418.8 837.2h6.0v6.0h-6.0zM422.6 838.1h6.0v6.0h-6.0zM423.6 839.9h6.0v6.0h-6.0zM425.9 841.9h6.0v6.0h-6.0zM235.9 810.8h6.0v6.0h-6.0zM246.3 813.7h6.0v6.0h-6.0zM279.7 845.7h6.0v6.0h-6.0zM133.6 833.8h6.0v6.0h-6.0z" fill="#dddcdc"/><path d="M181.6 871.9L181.6 871.7L181.7 871.5L181.8 871.4L181.9 871.2L182.0 871.0L182.0 870.9L182.1 870.7L182.2 870.5L182.3 870.3L182.4 870.1L182.5 869.9L182.6 869.7L182.7 869.5L182.8 869.3L183.0 869.1L183.1 868.8L183.2 868.6L183.3 868.4L183.4 868.2L183.6 867.9L183.7 867.7L183.8 867.4L184.0 867.2L184.1 866.9L184.3 866.6L184.5 866.4L184.6 866.1L184.8 865.8L185.0 865.5L185.1 865.2L185.3 864.9L185.5 864.6L185.7 864.3L185.9 864.0L186.1 863.7L186.3 863.3L186.6 863.0L186.8 862.7L187.0 862.3L187.3 862.0L187.5 861.6L187.8 861.2L188.0 860.9L188.3 860.5L188.6 860.1L188.9 859.7L189.2 859.3L189.5 858.9L189.8 858.5L190.2 858.1L190.5 857.6L190.9 857.2L191.2 856.8L191.6 856.3L192.0 855.9L192.4 855.4L192.8 855.0L193.2 854.5L193.6 854.1L194.1 853.6L194.5 853.1L195.0 852.6L195.5 852.1L196.0 851.7L196.5 851.2L197.1 850.7L197.6 850.2L198.2 849.7L198.7 849.2L199.3 848.7L199.9 848.1L200.6 847.6L201.2 847.1L201.9 846.6L202.5 846.1L203.2 845.6L203.9 845.1L204.7 844.6L205.4 844.1L206.2 843.6L206.9 843.1L207.7 842.6L208.5 842.1L209.4 841.6L210.2 841.1L211.1 840.6L212.0 840.1L212.9 839.7L213.8 839.2L214.8 838.8L215.7 838.3L216.7 837.9L217.7 837.5L218.7 837.1L219.7 836.7L220.7 836.3L221.8 836.0L222.9 835.6L223.9 835.3L225.0 834.9L226.2 834.6L227.3 834.4L228.4 834.1L229.6 833.8L230.7 833.6L231.9 833.4L233.1 833.2L234.2 833.0L235.4 832.9L236.6 832.7L237.8 832.6L239.0 832.5L240.2 832.4L241.5 832.4L242.7 832.4L243.9 832.3L245.1 832.4L246.3 832.4L247.5 832.5L248.7 832.5L249.9 832.6L251.1 832.7L252.3 832.9L253.5 833.0L254.7 833.2L255.9 833.4L257.0 833.6L258.2 833.9L259.3 834.1L260.5 834.4L261.6 834.7L262.7 835.0L263.8 835.3L264.9 835.7L265.9 836.0L267.0 836.4L268.0 836.8L269.0 837.2L270.0 837.6L271.0 838.0L272.0 838.4L273.0 838.9L273.9 839.3L274.8 839.8L275.7 840.3L276.6 840.7L277.5 841.2L278.3 841.7L279.1 842.2L279.9 842.7L280.7 843.2L281.5 843.7L282.3 844.2L283.0 844.7L283.7 845.2L284.4 845.7L285.1 846.2L285.8 846.7L286.4 847.2L287.1 847.8L287.7 848.3L288.3 848.8L288.9 849.3L289.5 849.8L290.0 850.3L290.6 850.8L291.1 851.3L291.6 851.8L292.1 852.3L292.6 852.8L293.0 853.2L293.5 853.7L293.9 854.2L294.4 854.6L294.8 855.1L295.2 855.6L295.6 856.0L296.0 856.5L296.3 856.9L296.7 857.3L297.1 857.7L297.4 858.2L297.7 858.6L298.0 859.0L298.3 859.4L298.6 859.8L298.9 860.2L299.2 860.6L299.5 860.9L299.8 861.3L300.0 861.7L300.3 862.0L300.5 862.4L300.7 862.7L301.0 863.1L301.2 863.4L301.4 863.7L301.6 864.1L301.8 864.4L302.0 864.7L302.2 865.0L302.4 865.3L302.6 865.6L302.7 865.9L302.9 866.2L303.1 866.4L303.2 866.7L303.4 867.0L303.5 867.2L303.7 867.5L303.8 867.7L303.9 868.0L304.1 868.2L304.2 868.4L304.3 868.7L304.4 868.9L304.6 869.1L304.7 869.3L304.8 869.5L304.9 869.7L305.0 870.0L305.1 870.1L305.2 870.3L305.3 870.5L305.4 870.7L305.5 870.9L305.5 871.1L305.6 871.2L305.7 871.4L305.8 871.6L305.9 871.7L305.9 871.9L306.0 872.0L306.1 872.2L306.1 872.3L306.2 872.5L306.3 872.6L306.3 872.8L306.4 872.9L306.3 872.8L306.6 872.7L306.9 872.7L307.2 872.7L307.4 872.7L307.7 872.7L308.0 872.7L308.2 872.7L308.5 872.7L308.7 872.7L309.0 872.8L309.2 872.8L309.5 872.8L309.7 872.8L310.0 872.8L310.2 872.9L310.5 872.9L310.7 872.9L311.0 872.9L311.3 872.9L311.6 872.9L311.8 872.8L312.1 872.8L312.4 872.8L312.7 872.7L313.0 872.7L313.4 872.6L313.7 872.5L314.1 872.4L314.4 872.3L314.8 872.2L315.2 872.0L315.6 871.9L316.0 871.7L316.4 871.5L316.9 871.3L317.3 871.1L317.8 870.9L318.2 870.6L318.7 870.4L319.2 870.1L319.6 869.8L320.1 869.5L320.6 869.2L321.1 868.9L321.6 868.6L322.1 868.3L322.7 867.9L323.2 867.6L323.7 867.2L324.3 866.9L324.9 866.5L325.4 866.1L326.0 865.8L326.6 865.4L327.2 865.0L327.8 864.6L328.4 864.2L329.1 863.8L329.7 863.4L330.4 863.0L331.0 862.6L331.7 862.2L332.4 861.8L333.1 861.4L333.8 861.0L334.5 860.6L335.3 860.2L336.0 859.7L336.8 859.3L337.6 858.8L338.4 858.4L339.2 857.9L340.1 857.4L340.9 856.9L341.8 856.4L342.7 855.9L343.6 855.4L344.5 854.9L345.4 854.4L346.3 853.9L347.3 853.4L348.2 852.8L349.1 852.3L350.1 851.8L351.0 851.3L352.0 850.8L352.9 850.3L353.9 849.8L354.8 849.3L355.8 848.8L356.7 848.3L357.7 847.9L358.6 847.4L359.6 847.0L360.5 846.5L361.4 846.1L362.4 845.7L363.3 845.3L364.2 845.0L365.1 844.6L366.0 844.3L366.9 843.9L367.8 843.6L368.7 843.2L369.7 842.9L370.6 842.6L371.5 842.3L372.5 841.9L373.4 841.6L374.3 841.3L375.3 841.0L376.2 840.8L377.1 840.5L378.1 840.2L379.0 839.9L379.9 839.7L380.9 839.4L381.8 839.2L382.7 839.0L383.6 838.8L384.5 838.5L385.4 838.3L386.3 838.1L387.2 837.9L388.0 837.8L388.9 837.6L389.7 837.4L390.6 837.3L391.4 837.2L392.2 837.0L393.0 836.9L393.8 836.8L394.6 836.7L395.4 836.6L396.2 836.6L396.9 836.5L397.7 836.5L398.4 836.4L399.2 836.4L399.9 836.4L400.6 836.4L401.4 836.4L402.1 836.4L402.8 836.4L403.5 836.4L404.2 836.5L404.9 836.5L405.5 836.6L406.2 836.6L406.9 836.7L407.5 836.8L408.2 836.9L408.8 837.0L409.5 837.1L410.1 837.1L410.7 837.2L411.4 837.4L412.0 837.5L412.6 837.6L413.2 837.7L413.8 837.8L414.4 837.9L414.9 838.0L415.5 838.2L416.1 838.3L416.6 838.4L417.2 838.6L417.7 838.7L418.3 838.9L418.8 839.0L419.3 839.2L419.8 839.4L420.3 839.6L420.8 839.8L421.2 840.0L421.7 840.2L422.2 840.4L422.6 840.6L423.1 840.9L423.5 841.1L423.9 841.3L424.4 841.5L424.8 841.8L425.2 842.0L425.7 842.2L426.1 842.5L426.5 842.7L426.9 842.9L427.4 843.2L427.8 843.4L428.2 843.6L428.7 843.9L429.1 844.1L429.5 844.3L430.0 844.5L430.4 844.8L430.9 845.0" fill="none" stroke="#dddcdc" stroke-width="2.7" stroke-linejoin="round" stroke-linecap="butt"/><path d="M139.8 849.9h6.0v6.0h-6.0zM165.2 865.3h6.0v6.0h-6.0zM169.1 842.3h6.0v6.0h-6.0zM142.4 859.3h6.0v6.0h-6.0zM201.9 861.8h6.0v6.0h-6.0zM185.1 873.9h6.0v6.0h-6.0zM161.8 861.7h6.0v6.0h-6.0zM187.0 834.0h6.0v6.0h-6.0zM188.6 857.6h6.0v6.0h-6.0zM186.4 855.0h6.0v6.0h-6.0zM189.4 848.6h6.0v6.0h-6.0zM201.9 848.0h6.0v6.0h-6.0zM209.3 846.3h6.0v6.0h-6.0zM216.8 837.7h6.0v6.0h-6.0zM219.8 827.0h6.0v6.0h-6.0zM235.7 832.8h6.0v6.0h-6.0zM242.1 838.2h6.0v6.0h-6.0zM254.2 839.8h6.0v6.0h-6.0zM268.1 842.6h6.0v6.0h-6.0zM274.6 843.7h6.0v6.0h-6.0zM283.2 847.2h6.0v6.0h-6.0zM296.3 852.1h6.0v6.0h-6.0zM294.0 854.5h6.0v6.0h-6.0zM293.0 861.8h6.0v6.0h-6.0zM291.9 862.2h6.0v6.0h-6.0zM296.5 865.9h6.0v6.0h-6.0zM296.2 866.9h6.0v6.0h-6.0zM295.3 874.2h6.0v6.0h-6.0zM304.1 870.0h6.0v6.0h-6.0zM305.2 871.6h6.0v6.0h-6.0zM308.2 868.8h6.0v6.0h-6.0zM312.1 868.4h6.0v6.0h-6.0zM313.8 866.4h6.0v6.0h-6.0zM317.7 864.8h6.0v6.0h-6.0zM319.0 862.5h6.0v6.0h-6.0zM320.7 860.7h6.0v6.0h-6.0zM323.9 858.2h6.0v6.0h-6.0zM326.0 858.2h6.0v6.0h-6.0zM329.7 857.0h6.0v6.0h-6.0zM332.3 854.7h6.0v6.0h-6.0zM334.2 853.7h6.0v6.0h-6.0zM336.0 851.1h6.0v6.0h-6.0zM338.9 850.7h6.0v6.0h-6.0zM342.1 848.5h6.0v6.0h-6.0zM343.4 846.5h6.0v6.0h-6.0zM345.9 844.9h6.0v6.0h-6.0zM349.6 844.0h6.0v6.0h-6.0zM352.2 841.8h6.0v6.0h-6.0zM354.1 840.5h6.0v6.0h-6.0zM356.8 841.2h6.0v6.0h-6.0zM358.4 838.6h6.0v6.0h-6.0zM363.2 837.6h6.0v6.0h-6.0zM365.1 836.9h6.0v6.0h-6.0zM367.1 836.2h6.0v6.0h-6.0zM370.1 834.9h6.0v6.0h-6.0zM373.1 833.8h6.0v6.0h-6.0zM377.7 833.2h6.0v6.0h-6.0zM379.9 831.8h6.0v6.0h-6.0zM381.5 831.4h6.0v6.0h-6.0zM386.5 831.9h6.0v6.0h-6.0zM389.1 831.6h6.0v6.0h-6.0zM390.5 830.2h6.0v6.0h-6.0zM392.4 831.1h6.0v6.0h-6.0zM397.7 830.7h6.0v6.0h-6.0zM399.6 830.9h6.0v6.0h-6.0zM402.8 831.2h6.0v6.0h-6.0zM405.4 832.3h6.0v6.0h-6.0zM409.4 832.6h6.0v6.0h-6.0zM412.4 834.8h6.0v6.0h-6.0zM414.6 835.3h6.0v6.0h-6.0zM416.5 837.8h6.0v6.0h-6.0zM419.3 838.8h6.0v6.0h-6.0z" fill="#f2cbb7"/><path d="M182.3 872.0L182.3 871.8L182.4 871.7L182.5 871.5L182.6 871.4L182.7 871.2L182.7 871.0L182.8 870.8L182.9 870.7L183.0 870.5L183.1 870.3L183.2 870.1L183.3 869.9L183.4 869.7L183.5 869.5L183.6 869.3L183.8 869.1L183.9 868.9L184.0 868.6L184.1 868.4L184.3 868.2L184.4 867.9L184.5 867.7L184.7 867.4L184.8 867.2L185.0 866.9L185.1 866.7L185.3 866.4L185.4 866.1L185.6 865.8L185.8 865.6L186.0 865.3L186.2 865.0L186.3 864.7L186.5 864.4L186.8 864.0L187.0 863.7L187.2 863.4L187.4 863.1L187.6 862.7L187.9 862.4L188.1 862.0L188.4 861.7L188.6 861.3L188.9 860.9L189.2 860.6L189.5 860.2L189.8 859.8L190.1 859.4L190.4 859.0L190.7 858.6L191.0 858.2L191.4 857.8L191.7 857.4L192.1 857.0L192.5 856.5L192.9 856.1L193.3 855.6L193.7 855.2L194.1 854.7L194.5 854.3L195.0 853.8L195.4 853.4L195.9 852.9L196.4 852.4L196.9 851.9L197.4 851.5L198.0 851.0L198.5 850.5L199.1 850.0L199.6 849.5L200.2 849.0L200.8 848.5L201.4 848.0L202.1 847.6L202.7 847.1L203.4 846.6L204.1 846.1L204.8 845.6L205.5 845.1L206.3 844.6L207.0 844.1L207.8 843.6L208.6 843.2L209.4 842.7L210.2 842.2L211.1 841.8L211.9 841.3L212.8 840.9L213.7 840.4L214.6 840.0L215.5 839.6L216.5 839.2L217.4 838.8L218.4 838.4L219.4 838.0L220.4 837.6L221.4 837.3L222.5 837.0L223.5 836.6L224.6 836.3L225.6 836.0L226.7 835.8L227.8 835.5L228.9 835.3L230.0 835.0L231.2 834.8L232.3 834.6L233.4 834.5L234.6 834.3L235.8 834.2L236.9 834.1L238.1 834.0L239.3 833.9L240.4 833.9L241.6 833.8L242.8 833.8L243.9 833.8L245.1 833.9L246.3 833.9L247.5 834.0L248.6 834.1L249.8 834.2L250.9 834.4L252.1 834.5L253.2 834.7L254.4 834.9L255.5 835.1L256.6 835.3L257.7 835.6L258.8 835.8L259.9 836.1L261.0 836.4L262.0 836.7L263.1 837.0L264.1 837.4L265.1 837.7L266.1 838.1L267.1 838.5L268.1 838.9L269.0 839.3L270.0 839.7L270.9 840.1L271.8 840.5L272.7 841.0L273.5 841.4L274.4 841.9L275.2 842.3L276.1 842.8L276.9 843.3L277.6 843.8L278.4 844.2L279.2 844.7L279.9 845.2L280.6 845.7L281.3 846.2L282.0 846.7L282.7 847.2L283.3 847.7L284.0 848.2L284.6 848.7L285.2 849.2L285.8 849.6L286.3 850.1L286.9 850.6L287.4 851.1L288.0 851.6L288.5 852.1L289.0 852.5L289.5 853.0L289.9 853.5L290.4 853.9L290.8 854.4L291.3 854.9L291.7 855.3L292.1 855.7L292.5 856.2L292.9 856.6L293.2 857.1L293.6 857.5L294.0 857.9L294.3 858.3L294.6 858.7L294.9 859.1L295.3 859.5L295.6 859.9L295.9 860.3L296.1 860.7L296.4 861.0L296.7 861.4L296.9 861.8L297.2 862.1L297.4 862.5L297.7 862.8L297.9 863.1L298.1 863.5L298.3 863.8L298.6 864.1L298.8 864.4L299.0 864.7L299.1 865.0L299.3 865.3L299.5 865.6L299.7 865.9L299.9 866.2L300.0 866.5L300.2 866.7L300.3 867.0L300.5 867.2L300.6 867.5L300.8 867.7L300.9 868.0L301.0 868.2L301.2 868.5L301.3 868.7L301.4 868.9L301.5 869.1L301.6 869.3L301.8 869.5L301.9 869.8L302.0 870.0L302.1 870.1L302.2 870.3L302.3 870.5L302.3 870.7L302.4 870.9L302.5 871.1L302.6 871.2L302.7 871.4L302.8 871.6L302.9 871.7L302.9 871.9L303.0 872.0L303.1 872.2L303.1 872.3L303.2 872.5L303.3 872.6L303.3 872.8L303.4 872.9L303.5 873.0L303.4 872.9L303.7 872.9L303.9 872.9L304.2 872.9L304.4 872.9L304.6 873.0L304.8 873.0L305.0 873.1L305.3 873.1L305.5 873.2L305.7 873.2L305.9 873.3L306.1 873.3L306.3 873.4L306.5 873.5L306.7 873.5L306.9 873.6L307.1 873.6L307.4 873.6L307.6 873.7L307.8 873.7L308.1 873.7L308.3 873.7L308.6 873.6L308.9 873.6L309.2 873.6L309.5 873.5L309.9 873.4L310.2 873.3L310.6 873.2L311.0 873.0L311.4 872.9L311.8 872.7L312.3 872.5L312.8 872.2L313.3 871.9L313.8 871.7L314.3 871.3L314.9 871.0L315.4 870.7L316.0 870.3L316.6 869.9L317.2 869.5L317.8 869.1L318.5 868.6L319.1 868.2L319.7 867.7L320.4 867.2L321.1 866.8L321.8 866.3L322.5 865.8L323.2 865.3L323.9 864.8L324.6 864.2L325.3 863.7L326.1 863.2L326.8 862.7L327.6 862.2L328.3 861.6L329.1 861.1L329.9 860.6L330.6 860.1L331.4 859.6L332.2 859.1L333.0 858.6L333.8 858.1L334.5 857.6L335.3 857.1L336.1 856.6L337.0 856.1L337.8 855.6L338.6 855.1L339.5 854.6L340.3 854.1L341.2 853.5L342.1 853.0L343.0 852.5L343.9 851.9L344.8 851.4L345.7 850.9L346.6 850.3L347.5 849.8L348.4 849.2L349.4 848.7L350.3 848.2L351.2 847.6L352.2 847.1L353.1 846.6L354.0 846.1L355.0 845.6L355.9 845.1L356.8 844.6L357.8 844.2L358.7 843.7L359.6 843.3L360.5 842.8L361.5 842.4L362.4 842.0L363.3 841.6L364.2 841.3L365.1 840.9L366.0 840.6L366.9 840.2L367.8 839.9L368.8 839.5L369.7 839.2L370.7 838.9L371.6 838.6L372.6 838.3L373.5 838.0L374.5 837.7L375.4 837.5L376.4 837.2L377.3 836.9L378.3 836.7L379.2 836.5L380.2 836.2L381.1 836.0L382.0 835.8L383.0 835.6L383.9 835.4L384.8 835.2L385.7 835.0L386.5 834.9L387.4 834.7L388.3 834.6L389.1 834.4L389.9 834.3L390.8 834.2L391.6 834.1L392.3 834.0L393.1 833.9L393.8 833.8L394.6 833.8L395.3 833.7L396.0 833.7L396.6 833.7L397.3 833.7L398.0 833.7L398.6 833.7L399.3 833.8L399.9 833.8L400.5 833.9L401.1 833.9L401.7 834.0L402.3 834.1L402.9 834.2L403.4 834.3L404.0 834.4L404.5 834.5L405.1 834.7L405.6 834.8L406.1 834.9L406.6 835.1L407.1 835.2L407.6 835.4L408.1 835.5L408.6 835.6L409.1 835.8L409.6 835.9L410.1 836.1L410.5 836.2L411.0 836.4L411.5 836.5L411.9 836.7L412.4 836.8L412.8 836.9L413.3 837.1L413.7 837.2L414.1 837.4L414.5 837.6L414.9 837.7L415.3 837.9L415.7 838.1L416.0 838.3L416.4 838.4L416.7 838.6L417.1 838.8L417.4 839.0L417.7 839.2L418.1 839.4L418.4 839.6L418.7 839.8L419.0 840.0L419.3 840.2L419.6 840.4L419.9 840.6L420.3 840.8L420.6 841.0L420.9 841.2L421.2 841.4L421.5 841.6L421.8 841.8L422.1 842.0L422.5 842.2L422.8 842.4L423.1 842.6L423.5 842.7" fill="none" stroke="#f2cbb7" stroke-width="2.7" stroke-linejoin="round" stroke-linecap="butt"/><path d="M177.4 855.0h6.0v6.0h-6.0zM166.3 872.7h6.0v6.0h-6.0zM176.6 867.7h6.0v6.0h-6.0zM130.9 871.5h6.0v6.0h-6.0zM185.2 869.6h6.0v6.0h-6.0zM180.9 868.8h6.0v6.0h-6.0zM193.7 854.2h6.0v6.0h-6.0zM184.5 859.5h6.0v6.0h-6.0zM178.4 844.7h6.0v6.0h-6.0zM193.6 863.5h6.0v6.0h-6.0zM188.0 847.1h6.0v6.0h-6.0zM199.8 840.8h6.0v6.0h-6.0zM194.0 837.1h6.0v6.0h-6.0zM212.4 829.5h6.0v6.0h-6.0zM228.0 827.4h6.0v6.0h-6.0zM233.5 831.3h6.0v6.0h-6.0zM248.4 834.6h6.0v6.0h-6.0zM262.0 830.7h6.0v6.0h-6.0zM269.5 838.6h6.0v6.0h-6.0zM283.2 840.3h6.0v6.0h-6.0zM282.5 844.3h6.0v6.0h-6.0zM287.5 852.6h6.0v6.0h-6.0zM291.1 859.8h6.0v6.0h-6.0zM289.0 861.6h6.0v6.0h-6.0zM292.2 862.0h6.0v6.0h-6.0zM298.4 866.8h6.0v6.0h-6.0zM297.5 865.5h6.0v6.0h-6.0zM302.0 869.6h6.0v6.0h-6.0zM301.9 869.9h6.0v6.0h-6.0zM304.3 869.4h6.0v6.0h-6.0zM307.3 868.6h6.0v6.0h-6.0zM310.5 867.0h6.0v6.0h-6.0zM312.0 865.7h6.0v6.0h-6.0zM314.4 863.6h6.0v6.0h-6.0zM316.5 862.2h6.0v6.0h-6.0zM320.0 859.1h6.0v6.0h-6.0zM320.9 857.2h6.0v6.0h-6.0zM323.9 856.9h6.0v6.0h-6.0zM327.5 855.1h6.0v6.0h-6.0zM330.3 854.6h6.0v6.0h-6.0zM331.6 852.1h6.0v6.0h-6.0zM334.9 849.8h6.0v6.0h-6.0zM335.4 848.2h6.0v6.0h-6.0zM339.7 846.7h6.0v6.0h-6.0zM341.9 844.6h6.0v6.0h-6.0zM343.4 843.5h6.0v6.0h-6.0zM345.5 842.3h6.0v6.0h-6.0zM349.0 839.5h6.0v6.0h-6.0zM352.1 840.5h6.0v6.0h-6.0zM354.8 838.7h6.0v6.0h-6.0zM357.3 837.2h6.0v6.0h-6.0zM360.5 836.0h6.0v6.0h-6.0zM363.2 834.9h6.0v6.0h-6.0zM364.6 833.5h6.0v6.0h-6.0zM368.1 832.9h6.0v6.0h-6.0zM370.8 831.6h6.0v6.0h-6.0zM374.7 830.3h6.0v6.0h-6.0zM376.5 829.9h6.0v6.0h-6.0zM380.4 829.2h6.0v6.0h-6.0zM382.7 829.3h6.0v6.0h-6.0zM387.2 829.1h6.0v6.0h-6.0zM388.5 828.4h6.0v6.0h-6.0zM391.5 827.7h6.0v6.0h-6.0zM394.4 828.4h6.0v6.0h-6.0zM397.5 828.5h6.0v6.0h-6.0zM401.9 829.4h6.0v6.0h-6.0zM402.7 830.2h6.0v6.0h-6.0zM405.2 832.7h6.0v6.0h-6.0zM408.0 833.1h6.0v6.0h-6.0zM410.8 835.4h6.0v6.0h-6.0zM411.9 836.5h6.0v6.0h-6.0zM264.8 799.6h6.0v6.0h-6.0zM290.8 824.9h6.0v6.0h-6.0z" fill="#f7ac8e"/><path d="M182.3 872.0L182.4 871.9L182.5 871.7L182.5 871.6L182.6 871.4L182.7 871.2L182.8 871.1L182.9 870.9L183.0 870.7L183.1 870.5L183.1 870.3L183.2 870.1L183.4 869.9L183.5 869.7L183.6 869.5L183.7 869.3L183.8 869.1L183.9 868.9L184.0 868.7L184.2 868.5L184.3 868.2L184.4 868.0L184.6 867.8L184.7 867.5L184.8 867.3L185.0 867.0L185.2 866.7L185.3 866.5L185.5 866.2L185.7 865.9L185.8 865.6L186.0 865.4L186.2 865.1L186.4 864.8L186.6 864.5L186.8 864.1L187.0 863.8L187.2 863.5L187.4 863.2L187.7 862.9L187.9 862.5L188.2 862.2L188.4 861.8L188.7 861.5L188.9 861.1L189.2 860.7L189.5 860.4L189.8 860.0L190.1 859.6L190.4 859.2L190.7 858.8L191.1 858.4L191.4 858.0L191.8 857.6L192.1 857.2L192.5 856.7L192.9 856.3L193.3 855.9L193.7 855.4L194.1 855.0L194.5 854.6L195.0 854.1L195.4 853.7L195.9 853.2L196.4 852.7L196.9 852.3L197.4 851.8L197.9 851.3L198.5 850.8L199.0 850.4L199.6 849.9L200.2 849.4L200.8 848.9L201.4 848.4L202.0 848.0L202.7 847.5L203.3 847.0L204.0 846.5L204.7 846.0L205.4 845.6L206.1 845.1L206.9 844.6L207.7 844.1L208.4 843.7L209.2 843.2L210.0 842.8L210.9 842.3L211.7 841.9L212.6 841.4L213.5 841.0L214.4 840.6L215.3 840.2L216.2 839.8L217.1 839.4L218.1 839.0L219.1 838.6L220.1 838.3L221.1 837.9L222.1 837.6L223.1 837.3L224.2 837.0L225.2 836.7L226.3 836.4L227.4 836.2L228.4 836.0L229.5 835.7L230.6 835.5L231.8 835.4L232.9 835.2L234.0 835.0L235.1 834.9L236.3 834.8L237.4 834.7L238.6 834.7L239.7 834.6L240.9 834.6L242.0 834.6L243.2 834.6L244.3 834.6L245.5 834.7L246.6 834.7L247.8 834.8L248.9 834.9L250.0 835.1L251.2 835.2L252.3 835.4L253.4 835.6L254.5 835.8L255.6 836.0L256.7 836.3L257.8 836.5L258.8 836.8L259.9 837.1L260.9 837.4L261.9 837.7L263.0 838.0L264.0 838.4L264.9 838.7L265.9 839.1L266.9 839.5L267.8 839.9L268.7 840.3L269.6 840.7L270.5 841.1L271.4 841.5L272.3 842.0L273.1 842.4L273.9 842.9L274.7 843.3L275.5 843.8L276.3 844.3L277.1 844.7L277.8 845.2L278.5 845.7L279.2 846.1L279.9 846.6L280.6 847.1L281.3 847.6L281.9 848.1L282.5 848.6L283.1 849.0L283.7 849.5L284.3 850.0L284.9 850.5L285.4 851.0L286.0 851.4L286.5 851.9L287.0 852.4L287.5 852.8L288.0 853.3L288.4 853.8L288.9 854.2L289.3 854.7L289.8 855.1L290.2 855.6L290.6 856.0L291.0 856.4L291.4 856.9L291.7 857.3L292.1 857.7L292.4 858.1L292.8 858.5L293.1 858.9L293.4 859.3L293.7 859.7L294.0 860.1L294.3 860.5L294.6 860.8L294.9 861.2L295.2 861.6L295.4 861.9L295.7 862.3L295.9 862.6L296.2 862.9L296.4 863.3L296.6 863.6L296.8 863.9L297.0 864.2L297.2 864.5L297.4 864.8L297.6 865.1L297.8 865.4L298.0 865.7L298.2 866.0L298.3 866.3L298.5 866.5L298.7 866.8L298.8 867.1L299.0 867.3L299.1 867.6L299.2 867.8L299.4 868.0L299.5 868.3L299.6 868.5L299.8 868.7L299.9 869.0L300.0 869.2L300.1 869.4L300.2 869.6L300.3 869.8L300.4 870.0L300.5 870.2L300.6 870.4L300.7 870.6L300.8 870.7L300.9 870.9L301.0 871.1L301.1 871.3L301.2 871.4L301.3 871.6L301.3 871.8L301.4 871.9L301.5 872.1L301.6 872.2L301.6 872.4L301.7 872.5L301.8 872.6L301.8 872.8L301.9 872.9L301.9 873.0L301.9 872.9L302.1 872.9L302.3 872.9L302.5 872.9L302.6 872.9L302.8 873.0L302.9 873.0L303.1 873.0L303.2 873.1L303.4 873.1L303.5 873.2L303.7 873.2L303.8 873.3L304.0 873.3L304.1 873.3L304.3 873.4L304.4 873.4L304.6 873.5L304.7 873.5L304.9 873.5L305.1 873.5L305.3 873.5L305.5 873.5L305.7 873.5L305.9 873.5L306.1 873.4L306.4 873.4L306.7 873.3L306.9 873.2L307.2 873.1L307.5 873.0L307.9 872.8L308.2 872.6L308.6 872.5L309.0 872.3L309.4 872.0L309.8 871.8L310.2 871.5L310.6 871.3L311.1 871.0L311.5 870.7L312.0 870.4L312.5 870.1L313.0 869.7L313.5 869.4L314.0 869.0L314.5 868.6L315.0 868.3L315.6 867.9L316.1 867.5L316.7 867.1L317.3 866.7L317.9 866.2L318.5 865.8L319.1 865.4L319.7 864.9L320.3 864.5L320.9 864.0L321.6 863.6L322.3 863.1L322.9 862.7L323.6 862.2L324.3 861.7L325.0 861.2L325.7 860.8L326.4 860.3L327.1 859.8L327.9 859.3L328.6 858.8L329.4 858.3L330.2 857.8L331.0 857.3L331.8 856.7L332.7 856.1L333.5 855.5L334.4 855.0L335.3 854.4L336.2 853.8L337.1 853.1L338.0 852.5L338.9 851.9L339.8 851.3L340.8 850.7L341.7 850.0L342.7 849.4L343.6 848.8L344.6 848.2L345.5 847.6L346.5 847.0L347.4 846.4L348.4 845.8L349.3 845.3L350.3 844.7L351.2 844.2L352.2 843.6L353.1 843.1L354.0 842.6L355.0 842.2L355.9 841.7L356.8 841.3L357.7 840.8L358.6 840.4L359.5 840.0L360.4 839.6L361.4 839.2L362.3 838.8L363.2 838.4L364.2 838.0L365.1 837.7L366.1 837.3L367.0 836.9L368.0 836.6L368.9 836.3L369.9 835.9L370.8 835.6L371.8 835.3L372.7 835.0L373.6 834.7L374.6 834.4L375.5 834.1L376.4 833.9L377.3 833.6L378.2 833.4L379.1 833.1L380.0 832.9L380.8 832.7L381.7 832.5L382.5 832.3L383.3 832.2L384.1 832.0L384.9 831.9L385.7 831.7L386.4 831.6L387.2 831.5L387.9 831.4L388.6 831.3L389.3 831.3L390.0 831.2L390.7 831.2L391.3 831.2L392.0 831.2L392.7 831.2L393.3 831.2L393.9 831.3L394.6 831.3L395.2 831.4L395.8 831.4L396.4 831.5L397.0 831.6L397.5 831.7L398.1 831.8L398.7 831.9L399.2 832.0L399.8 832.1L400.3 832.3L400.8 832.4L401.4 832.5L401.9 832.7L402.4 832.8L402.9 832.9L403.4 833.1L403.8 833.2L404.3 833.4L404.8 833.5L405.2 833.7L405.7 833.8L406.1 834.0L406.6 834.2L407.0 834.3L407.4 834.5L407.8 834.7L408.2 834.9L408.6 835.1L408.9 835.3L409.3 835.5L409.6 835.8L409.9 836.0L410.2 836.2L410.5 836.5L410.8 836.7L411.1 837.0L411.4 837.2L411.7 837.5L412.0 837.7L412.3 838.0L412.6 838.2L412.8 838.5L413.1 838.8L413.4 839.0L413.7 839.3L414.0 839.5L414.2 839.8L414.5 840.0L414.8 840.3L415.1 840.5L415.4 840.8L415.7 841.0L416.1 841.3" fill="none" stroke="#f7ac8e" stroke-width="2.7" stroke-linejoin="round" stroke-linecap="butt"/><path d="M154.0 861.9h6.0v6.0h-6.0zM172.4 854.3h6.0v6.0h-6.0zM172.7 868.7h6.0v6.0h-6.0zM173.6 838.5h6.0v6.0h-6.0zM172.4 868.4h6.0v6.0h-6.0zM182.4 882.2h6.0v6.0h-6.0zM200.8 857.7h6.0v6.0h-6.0zM178.7 848.1h6.0v6.0h-6.0zM193.3 866.4h6.0v6.0h-6.0zM184.6 852.0h6.0v6.0h-6.0zM192.2 854.8h6.0v6.0h-6.0zM201.6 847.2h6.0v6.0h-6.0zM211.1 843.6h6.0v6.0h-6.0zM211.5 846.2h6.0v6.0h-6.0zM219.4 836.4h6.0v6.0h-6.0zM243.5 840.1h6.0v6.0h-6.0zM248.7 826.9h6.0v6.0h-6.0zM262.0 831.3h6.0v6.0h-6.0zM271.7 839.3h6.0v6.0h-6.0zM278.6 843.3h6.0v6.0h-6.0zM281.4 849.0h6.0v6.0h-6.0zM286.4 853.2h6.0v6.0h-6.0zM286.0 857.3h6.0v6.0h-6.0zM293.1 861.9h6.0v6.0h-6.0zM293.4 864.6h6.0v6.0h-6.0zM295.7 869.6h6.0v6.0h-6.0zM300.9 870.7h6.0v6.0h-6.0zM299.0 871.3h6.0v6.0h-6.0zM300.1 870.4h6.0v6.0h-6.0zM302.4 869.6h6.0v6.0h-6.0zM306.5 868.4h6.0v6.0h-6.0zM307.7 868.0h6.0v6.0h-6.0zM310.2 866.3h6.0v6.0h-6.0zM313.2 864.1h6.0v6.0h-6.0zM316.1 862.7h6.0v6.0h-6.0zM319.2 860.8h6.0v6.0h-6.0zM321.1 859.6h6.0v6.0h-6.0zM322.6 857.7h6.0v6.0h-6.0zM325.4 855.9h6.0v6.0h-6.0zM328.6 853.9h6.0v6.0h-6.0zM330.5 852.5h6.0v6.0h-6.0zM333.2 851.1h6.0v6.0h-6.0zM335.1 849.2h6.0v6.0h-6.0zM338.6 846.7h6.0v6.0h-6.0zM340.9 845.7h6.0v6.0h-6.0zM343.1 844.4h6.0v6.0h-6.0zM344.9 842.8h6.0v6.0h-6.0zM346.2 840.3h6.0v6.0h-6.0zM348.9 838.6h6.0v6.0h-6.0zM352.6 836.7h6.0v6.0h-6.0zM355.4 836.4h6.0v6.0h-6.0zM355.8 834.0h6.0v6.0h-6.0zM360.1 834.0h6.0v6.0h-6.0zM363.9 832.8h6.0v6.0h-6.0zM366.6 832.0h6.0v6.0h-6.0zM368.5 830.3h6.0v6.0h-6.0zM372.0 829.1h6.0v6.0h-6.0zM374.5 829.0h6.0v6.0h-6.0zM377.2 828.6h6.0v6.0h-6.0zM381.0 828.6h6.0v6.0h-6.0zM383.9 827.0h6.0v6.0h-6.0zM385.8 827.1h6.0v6.0h-6.0zM388.5 827.0h6.0v6.0h-6.0zM391.2 827.5h6.0v6.0h-6.0zM394.0 828.3h6.0v6.0h-6.0zM398.7 828.8h6.0v6.0h-6.0zM401.8 829.2h6.0v6.0h-6.0zM403.4 830.1h6.0v6.0h-6.0zM406.4 832.4h6.0v6.0h-6.0zM407.4 834.2h6.0v6.0h-6.0zM409.8 836.7h6.0v6.0h-6.0z" fill="#ee8468"/><path d="M183.0 872.1L183.1 872.0L183.1 871.8L183.2 871.7L183.3 871.5L183.4 871.4L183.5 871.2L183.5 871.0L183.6 870.8L183.7 870.7L183.8 870.5L183.9 870.3L184.0 870.1L184.1 869.9L184.2 869.7L184.3 869.5L184.4 869.3L184.6 869.1L184.7 868.9L184.8 868.6L184.9 868.4L185.1 868.2L185.2 868.0L185.3 867.7L185.5 867.5L185.6 867.2L185.8 867.0L185.9 866.7L186.1 866.4L186.3 866.2L186.4 865.9L186.6 865.6L186.8 865.3L187.0 865.0L187.2 864.7L187.4 864.4L187.6 864.1L187.8 863.8L188.0 863.5L188.2 863.1L188.5 862.8L188.7 862.5L189.0 862.1L189.2 861.8L189.5 861.4L189.8 861.1L190.0 860.7L190.3 860.3L190.6 859.9L190.9 859.6L191.2 859.2L191.6 858.8L191.9 858.4L192.3 858.0L192.6 857.6L193.0 857.1L193.4 856.7L193.7 856.3L194.1 855.9L194.6 855.4L195.0 855.0L195.4 854.5L195.9 854.1L196.3 853.6L196.8 853.2L197.3 852.7L197.8 852.3L198.3 851.8L198.8 851.3L199.4 850.9L199.9 850.4L200.5 849.9L201.1 849.4L201.7 849.0L202.3 848.5L203.0 848.0L203.6 847.5L204.3 847.1L205.0 846.6L205.7 846.1L206.4 845.7L207.1 845.2L207.9 844.7L208.6 844.3L209.4 843.8L210.2 843.4L211.0 842.9L211.9 842.5L212.7 842.1L213.6 841.6L214.4 841.2L215.3 840.8L216.3 840.4L217.2 840.1L218.1 839.7L219.1 839.3L220.1 839.0L221.0 838.6L222.0 838.3L223.1 838.0L224.1 837.7L225.1 837.4L226.2 837.2L227.2 836.9L228.3 836.7L229.4 836.5L230.5 836.3L231.6 836.1L232.7 835.9L233.8 835.8L234.9 835.7L236.0 835.6L237.1 835.5L238.3 835.4L239.4 835.4L240.5 835.3L241.7 835.3L242.8 835.3L243.9 835.4L245.0 835.4L246.2 835.5L247.3 835.6L248.4 835.7L249.5 835.8L250.6 836.0L251.7 836.1L252.8 836.3L253.9 836.5L255.0 836.7L256.1 837.0L257.1 837.2L258.2 837.5L259.2 837.8L260.2 838.1L261.2 838.4L262.2 838.7L263.2 839.1L264.2 839.4L265.1 839.8L266.1 840.1L267.0 840.5L267.9 840.9L268.8 841.3L269.7 841.8L270.5 842.2L271.4 842.6L272.2 843.0L273.0 843.5L273.8 843.9L274.6 844.4L275.4 844.8L276.1 845.3L276.8 845.8L277.5 846.2L278.2 846.7L278.9 847.2L279.6 847.7L280.2 848.1L280.9 848.6L281.5 849.1L282.1 849.6L282.7 850.0L283.2 850.5L283.8 851.0L284.3 851.4L284.9 851.9L285.4 852.4L285.9 852.8L286.3 853.3L286.8 853.8L287.3 854.2L287.7 854.7L288.2 855.1L288.6 855.5L289.0 856.0L289.4 856.4L289.8 856.8L290.1 857.2L290.5 857.7L290.9 858.1L291.2 858.5L291.5 858.9L291.9 859.3L292.2 859.7L292.5 860.0L292.8 860.4L293.1 860.8L293.3 861.1L293.6 861.5L293.9 861.9L294.1 862.2L294.4 862.6L294.6 862.9L294.8 863.2L295.1 863.5L295.3 863.9L295.5 864.2L295.7 864.5L295.9 864.8L296.1 865.1L296.3 865.4L296.5 865.7L296.6 865.9L296.8 866.2L297.0 866.5L297.1 866.8L297.3 867.0L297.4 867.3L297.6 867.5L297.7 867.8L297.9 868.0L298.0 868.2L298.1 868.5L298.3 868.7L298.4 868.9L298.5 869.1L298.6 869.3L298.7 869.6L298.8 869.8L298.9 870.0L299.0 870.2L299.1 870.3L299.2 870.5L299.3 870.7L299.4 870.9L299.5 871.1L299.6 871.2L299.7 871.4L299.8 871.6L299.8 871.7L299.9 871.9L300.0 872.0L300.1 872.2L300.1 872.3L300.2 872.5L300.3 872.6L300.3 872.7L300.4 872.9L300.5 873.0L300.5 873.1L300.5 873.0L300.6 873.0L300.7 873.0L300.8 873.1L300.9 873.1L301.0 873.2L301.0 873.2L301.1 873.3L301.1 873.4L301.2 873.4L301.2 873.5L301.3 873.6L301.3 873.6L301.4 873.7L301.4 873.8L301.5 873.9L301.5 873.9L301.6 874.0L301.7 874.0L301.8 874.1L301.9 874.1L302.0 874.1L302.1 874.1L302.2 874.1L302.4 874.1L302.6 874.1L302.8 874.1L303.0 874.0L303.2 873.9L303.5 873.8L303.8 873.7L304.1 873.6L304.5 873.4L304.9 873.2L305.3 873.0L305.7 872.8L306.2 872.5L306.7 872.3L307.2 872.0L307.7 871.7L308.3 871.4L308.9 871.1L309.5 870.7L310.1 870.4L310.7 870.0L311.4 869.6L312.0 869.2L312.7 868.8L313.4 868.4L314.1 868.0L314.8 867.6L315.5 867.1L316.2 866.7L317.0 866.2L317.7 865.8L318.5 865.3L319.3 864.8L320.0 864.3L320.8 863.8L321.6 863.3L322.4 862.9L323.2 862.4L324.0 861.9L324.8 861.3L325.5 860.8L326.3 860.3L327.1 859.8L327.9 859.3L328.7 858.8L329.5 858.2L330.4 857.6L331.2 857.1L332.1 856.4L332.9 855.8L333.8 855.2L334.7 854.6L335.6 853.9L336.5 853.3L337.4 852.6L338.3 851.9L339.2 851.3L340.1 850.6L341.0 849.9L341.9 849.2L342.9 848.6L343.8 847.9L344.7 847.2L345.7 846.6L346.6 845.9L347.6 845.3L348.5 844.7L349.4 844.1L350.4 843.5L351.3 842.9L352.2 842.3L353.1 841.8L354.0 841.2L355.0 840.7L355.9 840.2L356.8 839.8L357.7 839.3L358.6 838.9L359.5 838.5L360.4 838.0L361.4 837.6L362.3 837.2L363.3 836.8L364.2 836.4L365.2 836.0L366.1 835.7L367.1 835.3L368.0 835.0L369.0 834.6L369.9 834.3L370.9 834.0L371.8 833.7L372.8 833.4L373.7 833.1L374.6 832.8L375.5 832.5L376.5 832.3L377.4 832.0L378.3 831.8L379.1 831.6L380.0 831.3L380.9 831.2L381.7 831.0L382.5 830.8L383.3 830.6L384.1 830.5L384.9 830.3L385.7 830.2L386.4 830.1L387.1 830.0L387.9 830.0L388.6 829.9L389.2 829.9L389.9 829.8L390.6 829.8L391.2 829.8L391.9 829.8L392.5 829.9L393.1 829.9L393.7 830.0L394.4 830.0L394.9 830.1L395.5 830.2L396.1 830.3L396.7 830.4L397.2 830.5L397.8 830.7L398.3 830.8L398.8 830.9L399.3 831.1L399.8 831.2L400.3 831.4L400.8 831.6L401.3 831.7L401.8 831.9L402.3 832.1L402.7 832.2L403.2 832.4L403.6 832.6L404.1 832.7L404.5 832.9L405.0 833.1L405.4 833.3L405.8 833.5L406.2 833.7L406.6 833.9L407.0 834.1L407.3 834.3L407.7 834.5L408.0 834.8L408.3 835.0L408.6 835.3L408.9 835.5L409.2 835.8L409.5 836.0L409.8 836.3L410.1 836.6L410.3 836.8L410.6 837.1L410.8 837.4L411.1 837.7L411.4 838.0L411.6 838.2L411.9 838.5L412.1 838.8L412.4 839.1L412.6 839.4L412.9 839.7L413.2 839.9L413.4 840.2L413.7 840.5L414.0 840.7L414.3 841.0L414.6 841.3" fill="none" stroke="#ee8468" stroke-width="2.7" stroke-linejoin="round" stroke-linecap="butt"/><path d="M163.9 870.2h6.0v6.0h-6.0zM159.5 844.0h6.0v6.0h-6.0zM183.4 842.0h6.0v6.0h-6.0zM136.4 839.3h6.0v6.0h-6.0zM183.0 869.3h6.0v6.0h-6.0zM179.8 855.8h6.0v6.0h-6.0zM189.0 877.6h6.0v6.0h-6.0zM182.5 875.5h6.0v6.0h-6.0zM191.5 857.6h6.0v6.0h-6.0zM185.1 846.8h6.0v6.0h-6.0zM197.4 842.0h6.0v6.0h-6.0zM196.4 858.4h6.0v6.0h-6.0zM202.8 849.2h6.0v6.0h-6.0zM214.6 838.0h6.0v6.0h-6.0zM226.2 837.1h6.0v6.0h-6.0zM229.0 831.5h6.0v6.0h-6.0zM240.5 833.0h6.0v6.0h-6.0zM258.4 829.2h6.0v6.0h-6.0zM266.9 840.2h6.0v6.0h-6.0zM268.1 844.0h6.0v6.0h-6.0zM275.6 849.2h6.0v6.0h-6.0zM283.2 850.8h6.0v6.0h-6.0zM289.5 860.9h6.0v6.0h-6.0zM291.6 860.5h6.0v6.0h-6.0zM295.3 866.1h6.0v6.0h-6.0zM296.9 869.8h6.0v6.0h-6.0zM300.4 865.9h6.0v6.0h-6.0zM292.9 868.8h6.0v6.0h-6.0zM299.1 869.9h6.0v6.0h-6.0zM301.2 868.0h6.0v6.0h-6.0zM304.2 867.3h6.0v6.0h-6.0zM306.5 868.0h6.0v6.0h-6.0zM309.5 865.4h6.0v6.0h-6.0zM311.5 863.6h6.0v6.0h-6.0zM315.4 863.0h6.0v6.0h-6.0zM316.2 860.8h6.0v6.0h-6.0zM320.4 859.6h6.0v6.0h-6.0zM321.5 857.3h6.0v6.0h-6.0zM324.6 856.9h6.0v6.0h-6.0zM326.5 855.3h6.0v6.0h-6.0zM329.1 852.6h6.0v6.0h-6.0zM332.1 850.3h6.0v6.0h-6.0zM333.6 847.8h6.0v6.0h-6.0zM335.3 847.1h6.0v6.0h-6.0zM338.5 845.7h6.0v6.0h-6.0zM341.2 842.9h6.0v6.0h-6.0zM341.6 841.8h6.0v6.0h-6.0zM346.4 839.0h6.0v6.0h-6.0zM348.9 838.7h6.0v6.0h-6.0zM349.6 838.3h6.0v6.0h-6.0zM353.2 836.1h6.0v6.0h-6.0zM356.5 834.9h6.0v6.0h-6.0zM358.0 834.1h6.0v6.0h-6.0zM361.3 832.7h6.0v6.0h-6.0zM364.1 831.8h6.0v6.0h-6.0zM367.6 830.7h6.0v6.0h-6.0zM370.8 830.2h6.0v6.0h-6.0zM373.0 828.9h6.0v6.0h-6.0zM375.9 828.3h6.0v6.0h-6.0zM379.4 827.9h6.0v6.0h-6.0zM382.1 827.4h6.0v6.0h-6.0zM384.6 828.3h6.0v6.0h-6.0zM388.5 827.7h6.0v6.0h-6.0zM389.6 827.0h6.0v6.0h-6.0zM393.6 826.2h6.0v6.0h-6.0zM396.2 827.7h6.0v6.0h-6.0zM398.9 828.1h6.0v6.0h-6.0zM401.8 829.2h6.0v6.0h-6.0zM404.1 829.8h6.0v6.0h-6.0zM407.7 833.2h6.0v6.0h-6.0zM408.1 836.2h6.0v6.0h-6.0zM253.7 815.2h6.0v6.0h-6.0zM270.8 817.5h6.0v6.0h-6.0zM152.2 850.9h6.0v6.0h-6.0z" fill="#d65244"/><path d="M183.0 872.2L183.1 872.0L183.2 871.9L183.2 871.7L183.3 871.6L183.4 871.4L183.5 871.2L183.6 871.1L183.7 870.9L183.8 870.7L183.8 870.5L183.9 870.3L184.0 870.1L184.2 870.0L184.3 869.8L184.4 869.6L184.5 869.3L184.6 869.1L184.7 868.9L184.8 868.7L185.0 868.5L185.1 868.3L185.2 868.0L185.4 867.8L185.5 867.5L185.7 867.3L185.8 867.0L186.0 866.8L186.1 866.5L186.3 866.2L186.5 866.0L186.7 865.7L186.8 865.4L187.0 865.1L187.2 864.8L187.4 864.5L187.6 864.2L187.8 863.9L188.1 863.6L188.3 863.3L188.5 862.9L188.8 862.6L189.0 862.3L189.3 861.9L189.5 861.6L189.8 861.2L190.1 860.9L190.4 860.5L190.7 860.1L191.0 859.7L191.3 859.4L191.6 859.0L191.9 858.6L192.3 858.2L192.6 857.8L193.0 857.4L193.4 857.0L193.8 856.5L194.2 856.1L194.6 855.7L195.0 855.3L195.4 854.8L195.9 854.4L196.3 853.9L196.8 853.5L197.3 853.0L197.8 852.6L198.3 852.1L198.8 851.7L199.3 851.2L199.9 850.8L200.5 850.3L201.0 849.8L201.6 849.4L202.3 848.9L202.9 848.4L203.5 848.0L204.2 847.5L204.9 847.0L205.5 846.6L206.3 846.1L207.0 845.7L207.7 845.2L208.5 844.8L209.2 844.3L210.0 843.9L210.8 843.5L211.6 843.0L212.5 842.6L213.3 842.2L214.2 841.8L215.1 841.4L216.0 841.0L216.9 840.7L217.8 840.3L218.8 840.0L219.7 839.6L220.7 839.3L221.7 839.0L222.7 838.7L223.7 838.4L224.7 838.1L225.7 837.9L226.8 837.6L227.8 837.4L228.9 837.2L229.9 837.0L231.0 836.8L232.1 836.7L233.2 836.5L234.3 836.4L235.4 836.3L236.5 836.2L237.6 836.1L238.7 836.1L239.8 836.1L240.9 836.1L242.0 836.1L243.1 836.1L244.2 836.2L245.3 836.2L246.4 836.3L247.5 836.4L248.6 836.5L249.7 836.7L250.8 836.8L251.9 837.0L252.9 837.2L254.0 837.4L255.0 837.7L256.1 837.9L257.1 838.2L258.1 838.5L259.1 838.7L260.1 839.0L261.1 839.4L262.1 839.7L263.0 840.0L264.0 840.4L264.9 840.8L265.8 841.1L266.7 841.5L267.6 841.9L268.4 842.3L269.3 842.7L270.1 843.2L270.9 843.6L271.7 844.0L272.5 844.4L273.3 844.9L274.0 845.3L274.8 845.8L275.5 846.2L276.2 846.7L276.9 847.2L277.5 847.6L278.2 848.1L278.8 848.6L279.4 849.0L280.1 849.5L280.6 849.9L281.2 850.4L281.8 850.9L282.3 851.3L282.9 851.8L283.4 852.2L283.9 852.7L284.4 853.2L284.9 853.6L285.3 854.0L285.8 854.5L286.2 854.9L286.7 855.4L287.1 855.8L287.5 856.2L287.9 856.6L288.3 857.1L288.6 857.5L289.0 857.9L289.4 858.3L289.7 858.7L290.0 859.1L290.3 859.5L290.7 859.8L291.0 860.2L291.3 860.6L291.5 860.9L291.8 861.3L292.1 861.7L292.4 862.0L292.6 862.4L292.8 862.7L293.1 863.0L293.3 863.3L293.5 863.7L293.8 864.0L294.0 864.3L294.2 864.6L294.4 864.9L294.6 865.2L294.8 865.5L294.9 865.8L295.1 866.0L295.3 866.3L295.4 866.6L295.6 866.8L295.8 867.1L295.9 867.3L296.1 867.6L296.2 867.8L296.3 868.1L296.5 868.3L296.6 868.5L296.7 868.8L296.9 869.0L297.0 869.2L297.1 869.4L297.2 869.6L297.3 869.8L297.4 870.0L297.5 870.2L297.6 870.4L297.7 870.6L297.8 870.7L297.9 870.9L298.0 871.1L298.1 871.3L298.2 871.4L298.2 871.6L298.3 871.8L298.4 871.9L298.5 872.1L298.6 872.2L298.6 872.4L298.7 872.5L298.8 872.6L298.8 872.8L298.9 872.9L298.9 873.0L299.0 873.2L298.9 873.0L299.0 873.0L299.1 873.1L299.1 873.1L299.1 873.1L299.1 873.2L299.2 873.2L299.2 873.3L299.2 873.3L299.1 873.4L299.1 873.4L299.1 873.5L299.1 873.5L299.1 873.6L299.1 873.6L299.2 873.7L299.2 873.7L299.2 873.7L299.3 873.8L299.4 873.8L299.5 873.8L299.6 873.7L299.7 873.7L299.9 873.7L300.1 873.6L300.3 873.5L300.6 873.4L300.9 873.3L301.2 873.2L301.5 873.1L301.9 872.9L302.3 872.7L302.8 872.6L303.2 872.4L303.7 872.2L304.2 872.0L304.7 871.8L305.2 871.6L305.8 871.4L306.4 871.1L306.9 870.9L307.6 870.6L308.2 870.3L308.8 870.0L309.5 869.7L310.1 869.4L310.8 869.1L311.5 868.8L312.2 868.4L312.9 868.1L313.7 867.7L314.4 867.3L315.2 866.9L315.9 866.4L316.7 866.0L317.5 865.5L318.2 865.0L319.0 864.5L319.9 864.0L320.7 863.4L321.6 862.8L322.5 862.1L323.4 861.5L324.4 860.8L325.4 860.1L326.4 859.3L327.4 858.6L328.4 857.8L329.4 857.1L330.4 856.3L331.4 855.5L332.5 854.7L333.5 854.0L334.5 853.2L335.5 852.4L336.5 851.7L337.5 850.9L338.5 850.2L339.5 849.5L340.5 848.8L341.4 848.1L342.3 847.5L343.2 846.8L344.1 846.3L344.9 845.7L345.7 845.2L346.5 844.7L347.2 844.2L348.0 843.7L348.7 843.3L349.3 842.8L350.0 842.4L350.7 842.0L351.3 841.6L351.9 841.2L352.5 840.8L353.1 840.4L353.8 840.0L354.4 839.7L355.0 839.3L355.6 839.0L356.2 838.7L356.8 838.3L357.5 838.0L358.1 837.7L358.8 837.4L359.5 837.1L360.2 836.8L361.0 836.5L361.7 836.2L362.5 835.9L363.3 835.6L364.2 835.3L365.1 835.0L366.0 834.7L367.0 834.4L368.0 834.2L369.1 833.9L370.2 833.6L371.3 833.3L372.4 833.0L373.6 832.7L374.7 832.5L375.9 832.2L377.1 832.0L378.3 831.7L379.5 831.5L380.7 831.2L381.8 831.0L383.0 830.8L384.1 830.6L385.3 830.4L386.4 830.2L387.4 830.1L388.5 829.9L389.5 829.8L390.4 829.7L391.4 829.6L392.2 829.5L393.1 829.4L393.8 829.4L394.6 829.3L395.2 829.3L395.9 829.3L396.5 829.4L397.1 829.4L397.6 829.5L398.2 829.5L398.7 829.6L399.1 829.7L399.6 829.8L400.0 829.9L400.4 830.1L400.8 830.2L401.2 830.4L401.6 830.5L401.9 830.7L402.2 830.9L402.6 831.0L402.9 831.2L403.2 831.4L403.5 831.6L403.8 831.8L404.1 832.0L404.4 832.2L404.7 832.5L405.0 832.7L405.4 832.9L405.7 833.1L406.0 833.3L406.4 833.6L406.7 833.8L407.0 834.1L407.2 834.3L407.5 834.6L407.8 834.9L408.0 835.2L408.3 835.5L408.5 835.8L408.8 836.1L409.0 836.4L409.2 836.7L409.5 837.1L409.7 837.4L409.9 837.7L410.1 838.0L410.3 838.4L410.5 838.7L410.8 839.0L411.0 839.4L411.2 839.7L411.4 840.0L411.6 840.3L411.9 840.6L412.1 841.0L412.4 841.3" fill="none" stroke="#d65244" stroke-width="2.7" stroke-linejoin="round" stroke-linecap="butt"/></g>
<g clip-path="url(#cl_d1)"><path d="M1144.8 876.6h6.0v6.0h-6.0zM1147.0 872.4h6.0v6.0h-6.0zM1148.5 871.1h6.0v6.0h-6.0zM1151.5 868.2h6.0v6.0h-6.0zM1150.5 867.6h6.0v6.0h-6.0zM1155.2 863.8h6.0v6.0h-6.0zM1156.2 860.7h6.0v6.0h-6.0zM1160.7 860.5h6.0v6.0h-6.0zM1163.0 856.8h6.0v6.0h-6.0zM1165.9 854.1h6.0v6.0h-6.0zM1167.5 853.7h6.0v6.0h-6.0zM1168.9 852.5h6.0v6.0h-6.0zM1172.7 851.0h6.0v6.0h-6.0zM1176.2 847.6h6.0v6.0h-6.0zM1176.0 849.7h6.0v6.0h-6.0zM1180.5 847.0h6.0v6.0h-6.0zM1182.5 846.4h6.0v6.0h-6.0zM1187.4 845.2h6.0v6.0h-6.0zM1187.3 845.3h6.0v6.0h-6.0zM1191.0 846.6h6.0v6.0h-6.0zM1194.9 842.4h6.0v6.0h-6.0zM1197.7 845.1h6.0v6.0h-6.0zM1198.1 847.5h6.0v6.0h-6.0zM1203.7 847.4h6.0v6.0h-6.0zM1205.9 847.0h6.0v6.0h-6.0zM1208.5 847.4h6.0v6.0h-6.0zM1211.3 851.3h6.0v6.0h-6.0zM1214.3 850.1h6.0v6.0h-6.0zM1213.9 854.7h6.0v6.0h-6.0zM1220.7 855.8h6.0v6.0h-6.0zM1220.2 854.6h6.0v6.0h-6.0zM1221.1 852.4h6.0v6.0h-6.0zM1226.3 852.8h6.0v6.0h-6.0zM1230.5 851.1h6.0v6.0h-6.0zM1230.0 847.0h6.0v6.0h-6.0zM1235.0 848.1h6.0v6.0h-6.0zM1237.1 844.3h6.0v6.0h-6.0zM1236.1 842.3h6.0v6.0h-6.0zM1236.1 839.2h6.0v6.0h-6.0zM1239.9 838.1h6.0v6.0h-6.0zM1245.3 836.8h6.0v6.0h-6.0zM1244.8 833.6h6.0v6.0h-6.0zM1246.1 834.0h6.0v6.0h-6.0zM1248.5 829.4h6.0v6.0h-6.0zM1252.5 829.4h6.0v6.0h-6.0zM1254.8 827.8h6.0v6.0h-6.0zM1258.3 825.2h6.0v6.0h-6.0zM1260.7 822.8h6.0v6.0h-6.0zM1260.5 820.1h6.0v6.0h-6.0zM1263.9 819.5h6.0v6.0h-6.0zM1265.0 816.5h6.0v6.0h-6.0zM1269.0 814.5h6.0v6.0h-6.0zM1269.9 814.3h6.0v6.0h-6.0zM1272.3 813.8h6.0v6.0h-6.0zM1279.2 809.7h6.0v6.0h-6.0zM1278.9 808.9h6.0v6.0h-6.0zM1282.3 810.6h6.0v6.0h-6.0zM1287.3 807.5h6.0v6.0h-6.0zM1287.6 804.5h6.0v6.0h-6.0zM1288.9 805.1h6.0v6.0h-6.0zM1291.8 802.8h6.0v6.0h-6.0zM1293.3 802.8h6.0v6.0h-6.0zM1298.4 798.6h6.0v6.0h-6.0zM1299.2 797.4h6.0v6.0h-6.0zM1304.6 796.2h6.0v6.0h-6.0zM1304.5 793.2h6.0v6.0h-6.0zM1310.6 792.9h6.0v6.0h-6.0zM1316.8 790.7h6.0v6.0h-6.0zM1324.7 786.1h6.0v6.0h-6.0zM1330.7 789.4h6.0v6.0h-6.0zM1338.9 786.0h6.0v6.0h-6.0zM1343.0 788.2h6.0v6.0h-6.0zM1350.8 785.8h6.0v6.0h-6.0zM1359.7 783.2h6.0v6.0h-6.0zM1363.5 785.7h6.0v6.0h-6.0zM1377.8 787.6h6.0v6.0h-6.0zM1392.6 784.3h6.0v6.0h-6.0zM1404.5 789.6h6.0v6.0h-6.0zM1416.1 791.0h6.0v6.0h-6.0zM1427.4 792.7h6.0v6.0h-6.0zM1446.3 797.9h6.0v6.0h-6.0zM1456.7 797.9h6.0v6.0h-6.0zM1470.7 800.7h6.0v6.0h-6.0zM1481.3 805.1h6.0v6.0h-6.0zM1497.4 808.5h6.0v6.0h-6.0zM1508.5 813.0h6.0v6.0h-6.0zM1520.3 816.4h6.0v6.0h-6.0z" fill="#3b4cc0"/><path d="M1150.1 878.4L1150.7 877.7L1151.4 877.1L1152.0 876.4L1152.6 875.8L1153.3 875.1L1153.9 874.4L1154.5 873.7L1155.1 873.0L1155.8 872.3L1156.4 871.7L1157.0 871.0L1157.6 870.3L1158.3 869.6L1158.9 869.0L1159.6 868.3L1160.2 867.7L1160.9 867.0L1161.5 866.4L1162.2 865.8L1162.9 865.2L1163.5 864.6L1164.2 864.1L1164.9 863.5L1165.7 863.0L1166.4 862.5L1167.1 862.0L1167.9 861.5L1168.7 861.0L1169.4 860.5L1170.2 860.0L1171.0 859.5L1171.8 859.0L1172.6 858.6L1173.4 858.1L1174.2 857.7L1175.1 857.3L1175.9 856.9L1176.7 856.5L1177.5 856.1L1178.2 855.7L1179.0 855.4L1179.8 855.1L1180.5 854.7L1181.3 854.4L1182.0 854.2L1182.7 853.9L1183.5 853.6L1184.1 853.4L1184.8 853.2L1185.5 853.0L1186.2 852.8L1186.8 852.6L1187.5 852.5L1188.1 852.3L1188.8 852.2L1189.4 852.1L1190.0 852.0L1190.7 851.9L1191.3 851.8L1191.9 851.8L1192.5 851.7L1193.2 851.7L1193.8 851.6L1194.4 851.6L1195.0 851.6L1195.7 851.6L1196.3 851.6L1196.9 851.6L1197.6 851.7L1198.2 851.7L1198.9 851.8L1199.5 851.8L1200.2 851.9L1200.9 852.1L1201.5 852.2L1202.2 852.3L1202.9 852.5L1203.5 852.6L1204.2 852.8L1204.9 853.0L1205.5 853.2L1206.2 853.4L1206.8 853.6L1207.5 853.8L1208.1 854.0L1208.8 854.2L1209.4 854.4L1210.0 854.6L1210.6 854.8L1211.2 855.0L1211.8 855.2L1212.4 855.4L1213.0 855.6L1213.6 855.8L1214.1 856.0L1214.7 856.2L1215.2 856.5L1215.8 856.8L1216.3 857.0L1216.8 857.3L1217.4 857.6L1217.9 857.9L1218.4 858.1L1218.9 858.4L1219.4 858.6L1219.9 858.9L1220.4 859.1L1220.9 859.3L1221.4 859.4L1221.9 859.6L1222.4 859.7L1222.8 859.8L1223.3 859.8L1223.8 859.9L1224.3 859.8L1224.8 859.8L1225.2 859.7L1225.7 859.5L1226.2 859.4L1226.6 859.2L1227.0 859.0L1227.5 858.8L1227.9 858.5L1228.3 858.2L1228.8 857.9L1229.2 857.6L1229.6 857.3L1230.0 857.0L1230.5 856.6L1230.9 856.2L1231.4 855.9L1231.8 855.5L1232.3 855.1L1232.7 854.7L1233.2 854.3L1233.7 853.9L1234.2 853.5L1234.7 853.1L1235.2 852.8L1235.7 852.4L1236.3 851.9L1236.8 851.5L1237.3 851.1L1237.8 850.6L1238.4 850.2L1238.9 849.7L1239.5 849.3L1240.1 848.8L1240.6 848.3L1241.2 847.8L1241.8 847.3L1242.4 846.8L1243.0 846.3L1243.6 845.8L1244.2 845.3L1244.8 844.8L1245.4 844.2L1246.1 843.7L1246.7 843.1L1247.4 842.6L1248.0 842.0L1248.7 841.4L1249.4 840.8L1250.1 840.2L1250.8 839.6L1251.6 839.0L1252.3 838.4L1253.0 837.7L1253.8 837.1L1254.6 836.4L1255.3 835.8L1256.1 835.1L1256.9 834.4L1257.7 833.8L1258.5 833.1L1259.3 832.4L1260.1 831.7L1260.9 831.1L1261.7 830.4L1262.5 829.7L1263.3 829.1L1264.2 828.4L1265.0 827.8L1265.9 827.1L1266.7 826.5L1267.6 825.9L1268.4 825.3L1269.3 824.6L1270.2 824.0L1271.1 823.4L1272.0 822.7L1272.9 822.1L1273.8 821.5L1274.7 820.8L1275.6 820.2L1276.5 819.6L1277.4 819.0L1278.4 818.4L1279.3 817.7L1280.2 817.1L1281.1 816.5L1282.1 815.9L1283.0 815.3L1283.9 814.8L1284.8 814.2L1285.7 813.6L1286.6 813.0L1287.5 812.5L1288.4 811.9L1289.3 811.3L1290.2 810.8L1291.1 810.2L1292.0 809.7L1292.9 809.1L1293.7 808.6L1294.6 808.0L1295.5 807.5L1296.4 807.0L1297.3 806.5L1298.2 805.9L1299.1 805.4L1300.0 804.9L1300.9 804.4L1301.8 803.9L1302.7 803.4L1303.6 803.0L1304.5 802.5L1305.5 802.0L1306.4 801.6L1307.4 801.1L1308.4 800.7L1309.4 800.3L1310.3 799.8L1311.3 799.4L1312.3 799.0L1313.3 798.5L1314.3 798.1L1315.3 797.7L1316.3 797.3L1317.4 796.9L1318.4 796.5L1319.4 796.1L1320.5 795.7L1321.5 795.4L1322.6 795.0L1323.6 794.7L1324.7 794.4L1325.7 794.1L1326.8 793.8L1327.9 793.6L1329.0 793.4L1330.1 793.2L1331.1 793.0L1332.2 792.8L1333.3 792.7L1334.4 792.6L1335.4 792.6L1336.4 792.5L1337.5 792.5L1338.5 792.5L1339.5 792.5L1340.6 792.5L1341.6 792.6L1342.7 792.6L1343.7 792.7L1344.9 792.8L1346.0 792.9L1347.1 792.9L1348.3 793.0L1349.5 793.1L1350.8 793.2L1352.1 793.3L1353.5 793.4L1354.9 793.5L1356.3 793.6L1357.9 793.7L1359.4 793.8L1361.1 793.9L1362.8 794.0L1364.5 794.1L1366.4 794.2L1368.2 794.3L1370.1 794.4L1372.0 794.5L1374.0 794.6L1376.0 794.7L1378.0 794.8L1380.0 794.9L1382.1 795.1L1384.1 795.2L1386.2 795.4L1388.3 795.5L1390.3 795.6L1392.4 795.8L1394.4 796.0L1396.4 796.1L1398.4 796.3L1400.4 796.5L1402.4 796.7L1404.3 796.9L1406.3 797.1L1408.3 797.3L1410.3 797.5L1412.3 797.8L1414.3 798.0L1416.3 798.3L1418.3 798.5L1420.4 798.8L1422.4 799.1L1424.4 799.3L1426.4 799.6L1428.4 799.9L1430.3 800.2L1432.3 800.5L1434.2 800.7L1436.1 801.0L1438.0 801.3L1439.9 801.6L1441.7 801.8L1443.5 802.1L1445.2 802.4L1446.9 802.6L1448.6 802.9L1450.2 803.1L1451.8 803.4L1453.4 803.6L1454.9 803.9L1456.4 804.1L1457.9 804.4L1459.4 804.6L1460.8 804.9L1462.2 805.1L1463.6 805.4L1465.0 805.6L1466.4 805.9L1467.8 806.1L1469.1 806.4L1470.4 806.7L1471.8 806.9L1473.1 807.2L1474.4 807.5L1475.7 807.7L1477.0 808.0L1478.3 808.3L1479.5 808.6L1480.8 808.9L1482.1 809.2L1483.4 809.5L1484.7 809.8L1485.9 810.1L1487.2 810.4L1488.4 810.8L1489.6 811.1L1490.8 811.4L1492.0 811.8L1493.2 812.1L1494.4 812.5L1495.6 812.8L1496.7 813.1L1497.9 813.5L1499.0 813.8L1500.1 814.1L1501.2 814.5L1502.2 814.8L1503.3 815.1L1504.3 815.4L1505.3 815.7L1506.3 816.0L1507.3 816.3L1508.2 816.6L1509.1 816.9L1510.0 817.2L1510.9 817.5L1511.8 817.7L1512.6 818.0L1513.4 818.3L1514.2 818.5L1515.0 818.8L1515.7 819.1L1516.5 819.3L1517.2 819.6L1518.0 819.8L1518.7 820.1L1519.5 820.4L1520.2 820.6L1521.0 820.9L1521.7 821.1L1522.5 821.4L1523.3 821.7L1524.1 821.9" fill="none" stroke="#3b4cc0" stroke-width="2.7" stroke-linejoin="round" stroke-linecap="butt"/><path d="M1142.9 875.7h6.0v6.0h-6.0zM1148.7 870.9h6.0v6.0h-6.0zM1151.0 872.8h6.0v6.0h-6.0zM1149.7 869.4h6.0v6.0h-6.0zM1154.7 866.1h6.0v6.0h-6.0zM1155.9 861.2h6.0v6.0h-6.0zM1158.1 862.3h6.0v6.0h-6.0zM1160.4 858.4h6.0v6.0h-6.0zM1163.3 855.4h6.0v6.0h-6.0zM1165.5 856.0h6.0v6.0h-6.0zM1165.9 854.2h6.0v6.0h-6.0zM1169.6 850.1h6.0v6.0h-6.0zM1172.1 851.5h6.0v6.0h-6.0zM1175.0 850.8h6.0v6.0h-6.0zM1176.8 847.0h6.0v6.0h-6.0zM1181.6 847.6h6.0v6.0h-6.0zM1184.8 844.0h6.0v6.0h-6.0zM1187.9 844.0h6.0v6.0h-6.0zM1191.2 846.1h6.0v6.0h-6.0zM1193.5 842.5h6.0v6.0h-6.0zM1193.7 842.1h6.0v6.0h-6.0zM1196.4 842.3h6.0v6.0h-6.0zM1199.6 839.4h6.0v6.0h-6.0zM1203.8 842.7h6.0v6.0h-6.0zM1205.8 841.5h6.0v6.0h-6.0zM1210.3 840.0h6.0v6.0h-6.0zM1214.1 838.0h6.0v6.0h-6.0zM1214.3 841.1h6.0v6.0h-6.0zM1219.1 840.1h6.0v6.0h-6.0zM1220.2 840.8h6.0v6.0h-6.0zM1221.9 842.7h6.0v6.0h-6.0zM1224.7 842.2h6.0v6.0h-6.0zM1228.6 844.5h6.0v6.0h-6.0zM1228.9 845.4h6.0v6.0h-6.0zM1234.4 846.2h6.0v6.0h-6.0zM1238.3 849.3h6.0v6.0h-6.0zM1237.6 850.0h6.0v6.0h-6.0zM1241.7 850.5h6.0v6.0h-6.0zM1247.1 849.9h6.0v6.0h-6.0zM1248.3 849.8h6.0v6.0h-6.0zM1250.7 847.8h6.0v6.0h-6.0zM1252.5 844.4h6.0v6.0h-6.0zM1256.7 844.0h6.0v6.0h-6.0zM1258.1 836.6h6.0v6.0h-6.0zM1258.4 840.1h6.0v6.0h-6.0zM1258.8 836.4h6.0v6.0h-6.0zM1260.6 837.0h6.0v6.0h-6.0zM1267.3 833.4h6.0v6.0h-6.0zM1268.4 832.0h6.0v6.0h-6.0zM1273.1 829.6h6.0v6.0h-6.0zM1274.2 825.9h6.0v6.0h-6.0zM1274.3 826.2h6.0v6.0h-6.0zM1278.8 826.0h6.0v6.0h-6.0zM1282.5 822.6h6.0v6.0h-6.0zM1282.3 822.4h6.0v6.0h-6.0zM1285.3 819.8h6.0v6.0h-6.0zM1290.9 816.0h6.0v6.0h-6.0zM1288.8 815.4h6.0v6.0h-6.0zM1292.3 813.8h6.0v6.0h-6.0zM1297.9 813.2h6.0v6.0h-6.0zM1299.4 812.8h6.0v6.0h-6.0zM1300.4 813.8h6.0v6.0h-6.0zM1302.8 811.4h6.0v6.0h-6.0zM1309.7 810.3h6.0v6.0h-6.0zM1314.9 807.3h6.0v6.0h-6.0zM1318.5 805.2h6.0v6.0h-6.0zM1322.0 804.0h6.0v6.0h-6.0zM1327.4 803.7h6.0v6.0h-6.0zM1329.8 798.1h6.0v6.0h-6.0zM1332.3 796.8h6.0v6.0h-6.0zM1340.2 797.2h6.0v6.0h-6.0zM1340.1 795.2h6.0v6.0h-6.0zM1345.9 793.8h6.0v6.0h-6.0zM1350.4 794.1h6.0v6.0h-6.0zM1356.9 794.4h6.0v6.0h-6.0zM1358.4 793.9h6.0v6.0h-6.0zM1363.5 794.9h6.0v6.0h-6.0zM1365.9 794.9h6.0v6.0h-6.0zM1373.2 797.4h6.0v6.0h-6.0zM1379.3 797.6h6.0v6.0h-6.0zM1385.5 793.3h6.0v6.0h-6.0zM1389.3 797.9h6.0v6.0h-6.0zM1396.8 795.7h6.0v6.0h-6.0zM1401.2 796.6h6.0v6.0h-6.0zM1407.6 797.5h6.0v6.0h-6.0zM1414.0 799.7h6.0v6.0h-6.0zM1421.7 798.5h6.0v6.0h-6.0zM1425.1 800.6h6.0v6.0h-6.0zM1431.7 802.9h6.0v6.0h-6.0zM1436.1 806.0h6.0v6.0h-6.0zM1442.1 806.1h6.0v6.0h-6.0zM1447.6 808.6h6.0v6.0h-6.0zM1453.8 811.7h6.0v6.0h-6.0zM1460.4 812.0h6.0v6.0h-6.0zM1463.1 814.6h6.0v6.0h-6.0zM1470.6 817.4h6.0v6.0h-6.0zM1473.2 821.7h6.0v6.0h-6.0zM1479.7 825.8h6.0v6.0h-6.0zM1483.0 827.8h6.0v6.0h-6.0zM1487.6 832.4h6.0v6.0h-6.0zM1491.7 834.5h6.0v6.0h-6.0zM1497.8 841.2h6.0v6.0h-6.0zM1500.5 847.7h6.0v6.0h-6.0zM1505.4 849.7h6.0v6.0h-6.0zM1507.2 852.5h6.0v6.0h-6.0z" fill="#5b7ae5"/><path d="M1150.1 878.4L1150.8 877.7L1151.6 877.0L1152.3 876.4L1153.0 875.7L1153.7 875.0L1154.5 874.2L1155.2 873.5L1155.9 872.8L1156.6 872.1L1157.3 871.4L1158.1 870.7L1158.8 870.1L1159.5 869.4L1160.3 868.7L1161.0 868.1L1161.8 867.4L1162.6 866.8L1163.3 866.2L1164.1 865.6L1164.9 865.0L1165.8 864.5L1166.6 863.9L1167.5 863.4L1168.4 862.9L1169.3 862.3L1170.2 861.8L1171.1 861.3L1172.0 860.9L1172.9 860.4L1173.8 859.9L1174.8 859.5L1175.7 859.0L1176.6 858.6L1177.5 858.2L1178.4 857.8L1179.3 857.4L1180.2 857.1L1181.1 856.7L1181.9 856.4L1182.7 856.1L1183.6 855.8L1184.4 855.6L1185.1 855.3L1185.9 855.1L1186.7 854.8L1187.4 854.6L1188.2 854.4L1188.9 854.3L1189.6 854.1L1190.4 853.9L1191.1 853.8L1191.8 853.7L1192.5 853.6L1193.2 853.5L1193.9 853.4L1194.7 853.3L1195.4 853.3L1196.1 853.2L1196.8 853.2L1197.6 853.1L1198.3 853.1L1199.1 853.1L1199.8 853.2L1200.6 853.2L1201.4 853.3L1202.1 853.3L1202.9 853.4L1203.7 853.5L1204.4 853.6L1205.2 853.7L1206.0 853.9L1206.7 854.0L1207.5 854.2L1208.2 854.3L1208.9 854.5L1209.6 854.7L1210.4 854.8L1211.1 855.0L1211.8 855.2L1212.4 855.4L1213.1 855.6L1213.7 855.8L1214.4 856.0L1215.0 856.3L1215.6 856.6L1216.2 856.9L1216.8 857.2L1217.4 857.5L1218.0 857.8L1218.5 858.1L1219.1 858.4L1219.7 858.7L1220.3 859.0L1220.8 859.3L1221.4 859.6L1222.0 859.8L1222.5 860.0L1223.1 860.3L1223.7 860.4L1224.3 860.6L1224.9 860.7L1225.5 860.8L1226.1 860.9L1226.7 860.9L1227.3 861.0L1227.9 861.0L1228.5 861.0L1229.0 861.0L1229.6 861.0L1230.2 861.0L1230.8 861.0L1231.4 860.9L1232.0 860.9L1232.6 860.8L1233.2 860.8L1233.8 860.8L1234.4 860.7L1235.0 860.7L1235.6 860.6L1236.2 860.6L1236.8 860.5L1237.4 860.5L1238.0 860.4L1238.5 860.4L1239.1 860.3L1239.7 860.3L1240.3 860.2L1240.9 860.2L1241.5 860.1L1242.1 860.0L1242.7 859.9L1243.3 859.9L1243.9 859.8L1244.5 859.7L1245.1 859.6L1245.7 859.5L1246.3 859.4L1246.9 859.3L1247.5 859.2L1248.0 859.1L1248.6 859.0L1249.2 858.9L1249.9 858.8L1250.5 858.6L1251.1 858.5L1251.7 858.4L1252.3 858.3L1252.9 858.2L1253.6 858.1L1254.2 857.9L1254.8 857.8L1255.4 857.6L1256.0 857.5L1256.6 857.3L1257.2 857.2L1257.7 857.0L1258.3 856.8L1258.8 856.6L1259.4 856.4L1259.9 856.1L1260.4 855.9L1260.9 855.6L1261.4 855.3L1261.9 855.1L1262.4 854.8L1262.8 854.5L1263.3 854.2L1263.7 853.9L1264.1 853.5L1264.6 853.2L1265.0 852.8L1265.4 852.5L1265.8 852.1L1266.2 851.8L1266.7 851.4L1267.1 851.0L1267.5 850.6L1267.9 850.2L1268.4 849.8L1268.8 849.4L1269.3 849.0L1269.7 848.6L1270.1 848.2L1270.6 847.7L1271.0 847.3L1271.4 846.8L1271.9 846.4L1272.3 845.9L1272.7 845.4L1273.2 844.9L1273.6 844.4L1274.1 843.9L1274.5 843.4L1274.9 842.9L1275.4 842.4L1275.8 841.9L1276.3 841.4L1276.8 840.8L1277.2 840.3L1277.7 839.8L1278.2 839.2L1278.7 838.7L1279.1 838.1L1279.6 837.5L1280.1 836.9L1280.5 836.3L1281.0 835.7L1281.5 835.1L1282.0 834.5L1282.5 833.9L1283.0 833.3L1283.5 832.6L1284.0 832.0L1284.5 831.4L1285.1 830.8L1285.6 830.2L1286.2 829.6L1286.8 829.0L1287.5 828.5L1288.1 827.9L1288.8 827.3L1289.5 826.8L1290.1 826.2L1290.8 825.7L1291.5 825.1L1292.2 824.5L1293.0 824.0L1293.7 823.4L1294.5 822.9L1295.3 822.4L1296.1 821.8L1296.9 821.3L1297.7 820.8L1298.6 820.3L1299.5 819.8L1300.4 819.3L1301.4 818.8L1302.4 818.4L1303.4 817.9L1304.4 817.5L1305.5 817.1L1306.7 816.6L1307.9 816.2L1309.1 815.8L1310.3 815.4L1311.6 815.0L1313.0 814.7L1314.3 814.3L1315.7 813.9L1317.0 813.6L1318.4 813.2L1319.9 812.9L1321.3 812.6L1322.7 812.3L1324.1 812.0L1325.5 811.7L1327.0 811.5L1328.4 811.2L1329.8 811.0L1331.1 810.8L1332.5 810.6L1333.9 810.4L1335.2 810.2L1336.5 810.1L1337.8 809.9L1339.1 809.8L1340.4 809.6L1341.7 809.5L1343.1 809.4L1344.4 809.3L1345.8 809.2L1347.1 809.2L1348.5 809.1L1350.0 809.1L1351.4 809.1L1352.9 809.1L1354.5 809.2L1356.0 809.3L1357.7 809.4L1359.3 809.5L1361.1 809.6L1362.9 809.8L1364.7 810.1L1366.6 810.4L1368.6 810.7L1370.5 811.1L1372.5 811.4L1374.6 811.8L1376.6 812.2L1378.7 812.7L1380.8 813.1L1382.9 813.5L1385.0 813.9L1387.1 814.3L1389.2 814.6L1391.3 815.0L1393.4 815.3L1395.4 815.6L1397.4 815.8L1399.4 816.0L1401.4 816.1L1403.4 816.2L1405.4 816.3L1407.4 816.3L1409.4 816.3L1411.5 816.2L1413.5 816.1L1415.5 816.0L1417.5 816.0L1419.5 815.9L1421.5 815.8L1423.5 815.7L1425.4 815.6L1427.3 815.6L1429.2 815.5L1431.1 815.5L1432.9 815.6L1434.6 815.7L1436.3 815.8L1438.0 816.0L1439.6 816.2L1441.2 816.5L1442.7 816.8L1444.2 817.1L1445.6 817.4L1447.1 817.8L1448.5 818.2L1449.8 818.6L1451.2 819.0L1452.5 819.4L1453.8 819.9L1455.0 820.4L1456.3 820.9L1457.5 821.4L1458.7 822.0L1459.9 822.5L1461.1 823.1L1462.3 823.7L1463.5 824.3L1464.7 824.9L1465.9 825.6L1467.1 826.2L1468.2 826.9L1469.3 827.7L1470.5 828.4L1471.6 829.2L1472.7 830.0L1473.7 830.8L1474.8 831.6L1475.8 832.4L1476.9 833.3L1477.9 834.2L1478.9 835.0L1479.9 835.9L1480.8 836.8L1481.8 837.7L1482.7 838.6L1483.7 839.5L1484.6 840.4L1485.5 841.3L1486.4 842.2L1487.2 843.1L1488.1 844.1L1489.0 845.1L1489.8 846.1L1490.7 847.2L1491.5 848.2L1492.3 849.3L1493.1 850.3L1493.8 851.4L1494.6 852.4L1495.3 853.5L1496.0 854.5L1496.7 855.4L1497.4 856.4L1498.0 857.3L1498.6 858.2L1499.2 859.0L1499.8 859.8L1500.3 860.6L1500.8 861.3L1501.3 861.9L1501.8 862.6L1502.2 863.1L1502.5 863.7L1502.9 864.2L1503.2 864.6L1503.5 865.1L1503.7 865.5L1504.0 865.9L1504.2 866.3L1504.5 866.6L1504.7 867.0L1504.9 867.4L1505.2 867.8L1505.4 868.2L1505.7 868.6L1506.0 869.0L1506.3 869.5" fill="none" stroke="#5b7ae5" stroke-width="2.7" stroke-linejoin="round" stroke-linecap="butt"/><path d="M1147.5 876.2h6.0v6.0h-6.0zM1148.7 871.8h6.0v6.0h-6.0zM1150.0 871.0h6.0v6.0h-6.0zM1155.2 866.6h6.0v6.0h-6.0zM1154.3 867.3h6.0v6.0h-6.0zM1156.2 863.2h6.0v6.0h-6.0zM1159.1 863.2h6.0v6.0h-6.0zM1159.0 858.3h6.0v6.0h-6.0zM1162.9 858.8h6.0v6.0h-6.0zM1164.0 855.5h6.0v6.0h-6.0zM1167.9 855.4h6.0v6.0h-6.0zM1171.3 854.0h6.0v6.0h-6.0zM1174.5 851.2h6.0v6.0h-6.0zM1175.3 852.4h6.0v6.0h-6.0zM1179.7 850.5h6.0v6.0h-6.0zM1180.8 845.7h6.0v6.0h-6.0zM1181.8 847.7h6.0v6.0h-6.0zM1187.6 844.4h6.0v6.0h-6.0zM1189.4 845.7h6.0v6.0h-6.0zM1192.6 845.9h6.0v6.0h-6.0zM1191.9 843.6h6.0v6.0h-6.0zM1198.6 841.2h6.0v6.0h-6.0zM1201.5 841.9h6.0v6.0h-6.0zM1204.5 841.7h6.0v6.0h-6.0zM1208.5 839.7h6.0v6.0h-6.0zM1209.5 841.5h6.0v6.0h-6.0zM1215.9 839.4h6.0v6.0h-6.0zM1216.9 840.0h6.0v6.0h-6.0zM1219.6 842.2h6.0v6.0h-6.0zM1218.5 840.2h6.0v6.0h-6.0zM1222.0 840.7h6.0v6.0h-6.0zM1229.5 843.5h6.0v6.0h-6.0zM1230.6 844.5h6.0v6.0h-6.0zM1233.7 846.8h6.0v6.0h-6.0zM1234.4 849.6h6.0v6.0h-6.0zM1237.5 848.1h6.0v6.0h-6.0zM1241.4 851.1h6.0v6.0h-6.0zM1242.5 849.0h6.0v6.0h-6.0zM1248.2 849.7h6.0v6.0h-6.0zM1247.7 849.2h6.0v6.0h-6.0zM1252.1 845.6h6.0v6.0h-6.0zM1253.9 844.5h6.0v6.0h-6.0zM1257.2 840.6h6.0v6.0h-6.0zM1260.7 841.3h6.0v6.0h-6.0zM1259.8 839.1h6.0v6.0h-6.0zM1264.1 837.1h6.0v6.0h-6.0zM1265.9 835.7h6.0v6.0h-6.0zM1269.2 831.8h6.0v6.0h-6.0zM1270.4 829.7h6.0v6.0h-6.0zM1272.2 829.1h6.0v6.0h-6.0zM1275.9 829.6h6.0v6.0h-6.0zM1279.5 826.0h6.0v6.0h-6.0zM1281.3 824.9h6.0v6.0h-6.0zM1282.9 823.9h6.0v6.0h-6.0zM1285.8 823.8h6.0v6.0h-6.0zM1285.7 819.0h6.0v6.0h-6.0zM1289.6 817.1h6.0v6.0h-6.0zM1292.6 816.9h6.0v6.0h-6.0zM1294.8 815.3h6.0v6.0h-6.0zM1297.3 812.3h6.0v6.0h-6.0zM1300.9 810.9h6.0v6.0h-6.0zM1304.3 812.1h6.0v6.0h-6.0zM1310.6 814.9h6.0v6.0h-6.0zM1311.3 808.8h6.0v6.0h-6.0zM1315.2 808.1h6.0v6.0h-6.0zM1321.9 805.7h6.0v6.0h-6.0zM1324.8 805.5h6.0v6.0h-6.0zM1327.5 804.4h6.0v6.0h-6.0zM1334.9 800.7h6.0v6.0h-6.0zM1336.9 800.5h6.0v6.0h-6.0zM1341.1 799.2h6.0v6.0h-6.0zM1345.1 798.4h6.0v6.0h-6.0zM1349.1 798.7h6.0v6.0h-6.0zM1355.0 800.8h6.0v6.0h-6.0zM1358.0 798.3h6.0v6.0h-6.0zM1367.0 799.9h6.0v6.0h-6.0zM1368.6 799.7h6.0v6.0h-6.0zM1372.3 799.0h6.0v6.0h-6.0zM1377.5 801.7h6.0v6.0h-6.0zM1384.8 800.2h6.0v6.0h-6.0zM1391.7 802.6h6.0v6.0h-6.0zM1396.6 801.4h6.0v6.0h-6.0zM1400.7 800.9h6.0v6.0h-6.0zM1407.7 802.5h6.0v6.0h-6.0zM1411.6 803.8h6.0v6.0h-6.0zM1421.6 803.8h6.0v6.0h-6.0zM1426.4 806.5h6.0v6.0h-6.0zM1431.5 809.7h6.0v6.0h-6.0zM1437.3 807.9h6.0v6.0h-6.0zM1441.7 811.1h6.0v6.0h-6.0zM1447.8 812.5h6.0v6.0h-6.0zM1454.6 816.7h6.0v6.0h-6.0zM1458.5 819.5h6.0v6.0h-6.0zM1464.4 823.0h6.0v6.0h-6.0zM1468.8 827.9h6.0v6.0h-6.0zM1473.6 829.6h6.0v6.0h-6.0zM1478.1 833.8h6.0v6.0h-6.0zM1483.0 835.3h6.0v6.0h-6.0zM1485.0 844.5h6.0v6.0h-6.0zM1490.2 846.5h6.0v6.0h-6.0zM1492.1 851.3h6.0v6.0h-6.0zM1496.2 855.7h6.0v6.0h-6.0z" fill="#81a4fb"/><path d="M1150.1 878.4L1150.8 877.7L1151.6 877.0L1152.3 876.4L1153.0 875.7L1153.7 875.0L1154.5 874.2L1155.2 873.5L1155.9 872.8L1156.6 872.1L1157.3 871.4L1158.1 870.7L1158.8 870.1L1159.5 869.4L1160.3 868.7L1161.0 868.1L1161.8 867.4L1162.6 866.8L1163.3 866.2L1164.1 865.6L1164.9 865.0L1165.8 864.5L1166.6 863.9L1167.5 863.4L1168.4 862.9L1169.3 862.3L1170.2 861.8L1171.1 861.3L1172.0 860.9L1172.9 860.4L1173.8 859.9L1174.8 859.5L1175.7 859.0L1176.6 858.6L1177.5 858.2L1178.4 857.8L1179.3 857.4L1180.2 857.1L1181.1 856.7L1181.9 856.4L1182.7 856.1L1183.6 855.8L1184.4 855.6L1185.1 855.3L1185.9 855.1L1186.7 854.8L1187.4 854.6L1188.2 854.4L1188.9 854.3L1189.6 854.1L1190.4 853.9L1191.1 853.8L1191.8 853.7L1192.5 853.6L1193.2 853.5L1193.9 853.4L1194.7 853.3L1195.4 853.3L1196.1 853.2L1196.8 853.2L1197.6 853.1L1198.3 853.1L1199.1 853.1L1199.8 853.2L1200.6 853.2L1201.4 853.3L1202.1 853.3L1202.9 853.4L1203.7 853.5L1204.4 853.6L1205.2 853.7L1206.0 853.9L1206.7 854.0L1207.5 854.2L1208.2 854.3L1208.9 854.5L1209.6 854.7L1210.4 854.8L1211.1 855.0L1211.8 855.2L1212.4 855.4L1213.1 855.6L1213.7 855.8L1214.4 856.0L1215.0 856.3L1215.6 856.6L1216.2 856.9L1216.8 857.2L1217.4 857.5L1218.0 857.8L1218.5 858.1L1219.1 858.4L1219.7 858.7L1220.3 859.0L1220.8 859.3L1221.4 859.6L1222.0 859.8L1222.5 860.0L1223.1 860.3L1223.7 860.4L1224.3 860.6L1224.9 860.7L1225.5 860.8L1226.1 860.9L1226.7 860.9L1227.3 861.0L1227.9 861.0L1228.5 861.0L1229.0 861.0L1229.6 861.0L1230.2 861.0L1230.8 861.0L1231.4 860.9L1232.0 860.9L1232.6 860.8L1233.2 860.8L1233.8 860.8L1234.4 860.7L1235.0 860.7L1235.6 860.6L1236.2 860.6L1236.8 860.5L1237.4 860.5L1238.0 860.4L1238.5 860.4L1239.1 860.3L1239.7 860.3L1240.3 860.2L1240.9 860.2L1241.5 860.1L1242.1 860.0L1242.7 859.9L1243.3 859.9L1243.9 859.8L1244.5 859.7L1245.1 859.6L1245.7 859.5L1246.3 859.4L1246.9 859.3L1247.5 859.2L1248.0 859.1L1248.6 859.0L1249.2 858.9L1249.9 858.8L1250.5 858.6L1251.1 858.5L1251.7 858.4L1252.3 858.3L1252.9 858.2L1253.6 858.1L1254.2 857.9L1254.8 857.8L1255.4 857.6L1256.0 857.5L1256.6 857.3L1257.2 857.2L1257.7 857.0L1258.3 856.8L1258.8 856.6L1259.4 856.4L1259.9 856.1L1260.4 855.9L1260.9 855.6L1261.4 855.3L1261.9 855.1L1262.4 854.8L1262.8 854.5L1263.3 854.2L1263.7 853.9L1264.1 853.5L1264.6 853.2L1265.0 852.8L1265.4 852.5L1265.8 852.1L1266.2 851.8L1266.7 851.4L1267.1 851.0L1267.5 850.6L1267.9 850.2L1268.4 849.8L1268.8 849.4L1269.3 849.0L1269.7 848.6L1270.1 848.2L1270.6 847.7L1271.0 847.3L1271.4 846.8L1271.9 846.4L1272.3 845.9L1272.7 845.4L1273.2 844.9L1273.6 844.4L1274.1 843.9L1274.5 843.4L1274.9 842.9L1275.4 842.4L1275.8 841.9L1276.3 841.4L1276.8 840.8L1277.2 840.3L1277.7 839.8L1278.2 839.2L1278.7 838.7L1279.1 838.1L1279.6 837.5L1280.1 836.9L1280.5 836.3L1281.0 835.7L1281.5 835.1L1282.0 834.5L1282.5 833.9L1283.0 833.3L1283.5 832.6L1284.0 832.0L1284.5 831.4L1285.1 830.8L1285.6 830.2L1286.2 829.6L1286.8 829.0L1287.5 828.5L1288.1 827.9L1288.8 827.3L1289.5 826.8L1290.1 826.2L1290.8 825.7L1291.5 825.1L1292.2 824.5L1293.0 824.0L1293.7 823.4L1294.5 822.9L1295.3 822.4L1296.1 821.8L1296.9 821.3L1297.7 820.8L1298.6 820.3L1299.5 819.8L1300.4 819.3L1301.4 818.8L1302.4 818.4L1303.4 817.9L1304.4 817.5L1305.5 817.1L1306.7 816.6L1307.9 816.2L1309.1 815.8L1310.3 815.4L1311.6 815.0L1313.0 814.6L1314.3 814.3L1315.7 813.9L1317.0 813.5L1318.4 813.2L1319.9 812.9L1321.3 812.6L1322.7 812.3L1324.1 812.0L1325.5 811.7L1327.0 811.5L1328.4 811.2L1329.8 811.0L1331.1 810.8L1332.5 810.6L1333.9 810.5L1335.2 810.3L1336.5 810.1L1337.8 810.0L1339.1 809.9L1340.4 809.8L1341.7 809.7L1343.1 809.6L1344.4 809.5L1345.8 809.5L1347.1 809.4L1348.5 809.4L1350.0 809.4L1351.4 809.5L1352.9 809.5L1354.5 809.6L1356.0 809.7L1357.7 809.9L1359.3 810.1L1361.1 810.3L1362.9 810.6L1364.7 810.9L1366.6 811.3L1368.6 811.7L1370.5 812.1L1372.5 812.6L1374.6 813.1L1376.6 813.6L1378.7 814.1L1380.8 814.7L1382.9 815.2L1385.0 815.7L1387.1 816.2L1389.2 816.6L1391.3 817.0L1393.4 817.4L1395.4 817.7L1397.4 818.0L1399.4 818.2L1401.4 818.4L1403.4 818.5L1405.4 818.5L1407.4 818.5L1409.4 818.4L1411.5 818.3L1413.5 818.1L1415.5 818.0L1417.5 817.8L1419.5 817.6L1421.5 817.5L1423.5 817.3L1425.4 817.2L1427.3 817.1L1429.2 817.0L1431.1 817.0L1432.9 817.0L1434.6 817.1L1436.3 817.3L1438.0 817.5L1439.6 817.8L1441.2 818.1L1442.7 818.5L1444.2 819.0L1445.7 819.5L1447.2 820.0L1448.6 820.5L1450.0 821.1L1451.3 821.7L1452.7 822.4L1454.0 823.0L1455.2 823.7L1456.5 824.4L1457.7 825.1L1458.9 825.8L1460.1 826.5L1461.3 827.2L1462.5 827.9L1463.6 828.7L1464.7 829.4L1465.8 830.1L1466.9 830.8L1467.9 831.6L1468.9 832.4L1469.9 833.2L1470.9 834.0L1471.8 834.8L1472.8 835.7L1473.7 836.5L1474.5 837.4L1475.4 838.2L1476.2 839.1L1477.1 839.9L1477.9 840.8L1478.7 841.6L1479.5 842.5L1480.3 843.3L1481.0 844.1L1481.8 844.9L1482.5 845.7L1483.3 846.5L1484.0 847.3L1484.7 848.1L1485.4 848.9L1486.0 849.7L1486.7 850.5L1487.3 851.3L1488.0 852.1L1488.6 852.9L1489.2 853.7L1489.8 854.5L1490.4 855.2L1490.9 856.0L1491.4 856.7L1492.0 857.4L1492.5 858.1L1493.0 858.8L1493.5 859.4L1493.9 860.0L1494.4 860.6L1494.8 861.1L1495.3 861.7L1495.7 862.2L1496.0 862.6L1496.4 863.1L1496.7 863.5L1497.0 863.9L1497.3 864.2L1497.6 864.6L1497.9 864.9L1498.1 865.3L1498.4 865.6L1498.7 865.9L1498.9 866.2L1499.2 866.6L1499.4 866.9L1499.7 867.3L1500.0 867.6L1500.3 868.0" fill="none" stroke="#81a4fb" stroke-width="2.7" stroke-linejoin="round" stroke-linecap="butt"/><path d="M1146.8 873.9h6.0v6.0h-6.0zM1149.3 873.2h6.0v6.0h-6.0zM1152.0 869.7h6.0v6.0h-6.0zM1150.6 867.0h6.0v6.0h-6.0zM1155.9 864.0h6.0v6.0h-6.0zM1156.5 863.4h6.0v6.0h-6.0zM1157.8 863.2h6.0v6.0h-6.0zM1158.9 862.7h6.0v6.0h-6.0zM1161.3 858.6h6.0v6.0h-6.0zM1166.1 859.4h6.0v6.0h-6.0zM1167.2 855.4h6.0v6.0h-6.0zM1169.8 855.1h6.0v6.0h-6.0zM1173.3 852.1h6.0v6.0h-6.0zM1176.6 850.3h6.0v6.0h-6.0zM1178.6 850.1h6.0v6.0h-6.0zM1180.5 850.7h6.0v6.0h-6.0zM1183.9 847.5h6.0v6.0h-6.0zM1187.3 847.7h6.0v6.0h-6.0zM1189.0 845.4h6.0v6.0h-6.0zM1194.4 845.6h6.0v6.0h-6.0zM1197.8 841.2h6.0v6.0h-6.0zM1200.7 844.4h6.0v6.0h-6.0zM1201.5 845.7h6.0v6.0h-6.0zM1204.4 843.9h6.0v6.0h-6.0zM1206.6 842.2h6.0v6.0h-6.0zM1212.6 838.4h6.0v6.0h-6.0zM1213.1 840.2h6.0v6.0h-6.0zM1219.6 843.0h6.0v6.0h-6.0zM1217.0 842.7h6.0v6.0h-6.0zM1222.9 844.9h6.0v6.0h-6.0zM1226.1 846.0h6.0v6.0h-6.0zM1228.2 843.8h6.0v6.0h-6.0zM1231.6 846.1h6.0v6.0h-6.0zM1235.9 849.3h6.0v6.0h-6.0zM1235.8 850.6h6.0v6.0h-6.0zM1239.8 849.9h6.0v6.0h-6.0zM1241.1 849.9h6.0v6.0h-6.0zM1243.0 851.6h6.0v6.0h-6.0zM1246.1 852.0h6.0v6.0h-6.0zM1251.3 847.3h6.0v6.0h-6.0zM1253.2 848.0h6.0v6.0h-6.0zM1253.4 847.9h6.0v6.0h-6.0zM1258.1 844.0h6.0v6.0h-6.0zM1260.8 841.6h6.0v6.0h-6.0zM1262.9 838.6h6.0v6.0h-6.0zM1266.1 838.6h6.0v6.0h-6.0zM1265.0 835.8h6.0v6.0h-6.0zM1268.0 836.1h6.0v6.0h-6.0zM1270.3 832.0h6.0v6.0h-6.0zM1274.3 833.0h6.0v6.0h-6.0zM1278.3 828.4h6.0v6.0h-6.0zM1278.4 827.3h6.0v6.0h-6.0zM1281.9 828.0h6.0v6.0h-6.0zM1285.1 825.2h6.0v6.0h-6.0zM1285.9 820.5h6.0v6.0h-6.0zM1290.1 822.6h6.0v6.0h-6.0zM1291.4 821.9h6.0v6.0h-6.0zM1296.6 818.7h6.0v6.0h-6.0zM1298.7 816.7h6.0v6.0h-6.0zM1298.9 814.6h6.0v6.0h-6.0zM1301.6 814.7h6.0v6.0h-6.0zM1307.5 814.1h6.0v6.0h-6.0zM1308.1 812.4h6.0v6.0h-6.0zM1315.1 809.7h6.0v6.0h-6.0zM1317.2 809.5h6.0v6.0h-6.0zM1320.3 806.7h6.0v6.0h-6.0zM1328.2 808.1h6.0v6.0h-6.0zM1330.7 804.7h6.0v6.0h-6.0zM1333.0 803.2h6.0v6.0h-6.0zM1338.5 801.0h6.0v6.0h-6.0zM1342.3 801.5h6.0v6.0h-6.0zM1346.4 801.7h6.0v6.0h-6.0zM1352.0 800.6h6.0v6.0h-6.0zM1358.1 801.9h6.0v6.0h-6.0zM1359.2 798.0h6.0v6.0h-6.0zM1366.2 803.7h6.0v6.0h-6.0zM1368.0 802.5h6.0v6.0h-6.0zM1375.8 800.4h6.0v6.0h-6.0zM1379.9 802.1h6.0v6.0h-6.0zM1386.0 803.2h6.0v6.0h-6.0zM1392.7 802.8h6.0v6.0h-6.0zM1400.9 805.5h6.0v6.0h-6.0zM1406.5 805.5h6.0v6.0h-6.0zM1411.1 806.4h6.0v6.0h-6.0zM1416.6 805.2h6.0v6.0h-6.0zM1423.0 808.7h6.0v6.0h-6.0zM1432.3 807.9h6.0v6.0h-6.0zM1434.7 812.5h6.0v6.0h-6.0zM1439.7 814.1h6.0v6.0h-6.0zM1444.7 819.1h6.0v6.0h-6.0zM1450.2 818.5h6.0v6.0h-6.0zM1456.6 825.0h6.0v6.0h-6.0zM1461.4 824.8h6.0v6.0h-6.0zM1462.2 828.0h6.0v6.0h-6.0zM1472.8 832.5h6.0v6.0h-6.0zM1475.0 838.5h6.0v6.0h-6.0zM1478.4 841.7h6.0v6.0h-6.0zM1486.1 849.3h6.0v6.0h-6.0zM1484.5 851.0h6.0v6.0h-6.0zM1488.7 854.3h6.0v6.0h-6.0z" fill="#a7c5fe"/><path d="M1150.1 878.4L1150.8 877.7L1151.6 877.0L1152.3 876.4L1153.0 875.7L1153.7 875.0L1154.5 874.2L1155.2 873.5L1155.9 872.8L1156.6 872.1L1157.3 871.4L1158.1 870.7L1158.8 870.1L1159.5 869.4L1160.3 868.7L1161.0 868.1L1161.8 867.4L1162.6 866.8L1163.3 866.2L1164.1 865.6L1164.9 865.0L1165.8 864.5L1166.6 863.9L1167.5 863.4L1168.4 862.9L1169.3 862.3L1170.2 861.8L1171.1 861.3L1172.0 860.9L1172.9 860.4L1173.8 859.9L1174.8 859.5L1175.7 859.0L1176.6 858.6L1177.5 858.2L1178.4 857.8L1179.3 857.4L1180.2 857.1L1181.1 856.7L1181.9 856.4L1182.7 856.1L1183.6 855.8L1184.4 855.6L1185.1 855.3L1185.9 855.1L1186.7 854.8L1187.4 854.6L1188.2 854.4L1188.9 854.3L1189.6 854.1L1190.4 853.9L1191.1 853.8L1191.8 853.7L1192.5 853.6L1193.2 853.5L1193.9 853.4L1194.7 853.3L1195.4 853.3L1196.1 853.2L1196.8 853.2L1197.6 853.1L1198.3 853.1L1199.1 853.1L1199.8 853.2L1200.6 853.2L1201.4 853.3L1202.1 853.3L1202.9 853.4L1203.7 853.5L1204.4 853.6L1205.2 853.7L1206.0 853.9L1206.7 854.0L1207.5 854.2L1208.2 854.3L1208.9 854.5L1209.6 854.7L1210.4 854.8L1211.1 855.0L1211.8 855.2L1212.4 855.4L1213.1 855.6L1213.7 855.8L1214.4 856.0L1215.0 856.3L1215.6 856.6L1216.2 856.9L1216.8 857.2L1217.4 857.5L1218.0 857.8L1218.5 858.1L1219.1 858.4L1219.7 858.7L1220.3 859.0L1220.8 859.3L1221.4 859.6L1222.0 859.8L1222.5 860.0L1223.1 860.3L1223.7 860.4L1224.3 860.6L1224.9 860.7L1225.5 860.8L1226.1 860.9L1226.7 860.9L1227.3 861.0L1227.9 861.0L1228.5 861.0L1229.0 861.0L1229.6 861.0L1230.2 861.0L1230.8 861.0L1231.4 860.9L1232.0 860.9L1232.6 860.8L1233.2 860.8L1233.8 860.8L1234.4 860.7L1235.0 860.7L1235.6 860.6L1236.2 860.6L1236.8 860.5L1237.4 860.5L1238.0 860.4L1238.5 860.4L1239.1 860.3L1239.7 860.3L1240.3 860.2L1240.9 860.2L1241.5 860.1L1242.1 860.0L1242.7 859.9L1243.3 859.9L1243.9 859.8L1244.5 859.7L1245.1 859.6L1245.7 859.5L1246.3 859.4L1246.9 859.3L1247.5 859.2L1248.0 859.1L1248.6 859.0L1249.2 858.9L1249.9 858.8L1250.5 858.6L1251.1 858.5L1251.7 858.4L1252.3 858.3L1252.9 858.2L1253.6 858.1L1254.2 857.9L1254.8 857.8L1255.4 857.6L1256.0 857.5L1256.6 857.3L1257.2 857.2L1257.7 857.0L1258.3 856.8L1258.8 856.6L1259.4 856.4L1259.9 856.1L1260.4 855.9L1260.9 855.6L1261.4 855.3L1261.9 855.1L1262.4 854.8L1262.8 854.5L1263.3 854.2L1263.7 853.9L1264.1 853.5L1264.6 853.2L1265.0 852.8L1265.4 852.5L1265.8 852.1L1266.2 851.8L1266.7 851.4L1267.1 851.0L1267.5 850.6L1267.9 850.2L1268.4 849.8L1268.8 849.4L1269.3 849.0L1269.7 848.6L1270.1 848.2L1270.6 847.7L1271.0 847.3L1271.4 846.8L1271.9 846.4L1272.3 845.9L1272.7 845.4L1273.2 844.9L1273.6 844.4L1274.1 843.9L1274.5 843.4L1274.9 842.9L1275.4 842.4L1275.8 841.9L1276.3 841.4L1276.8 840.8L1277.2 840.3L1277.7 839.8L1278.2 839.2L1278.7 838.7L1279.1 838.1L1279.6 837.5L1280.1 836.9L1280.5 836.3L1281.0 835.7L1281.5 835.1L1282.0 834.5L1282.5 833.9L1283.0 833.3L1283.5 832.6L1284.0 832.0L1284.5 831.4L1285.1 830.8L1285.6 830.2L1286.2 829.6L1286.8 829.0L1287.5 828.5L1288.1 827.9L1288.8 827.3L1289.5 826.8L1290.1 826.2L1290.8 825.7L1291.5 825.1L1292.2 824.5L1293.0 824.0L1293.7 823.4L1294.5 822.9L1295.3 822.4L1296.1 821.8L1296.9 821.3L1297.7 820.8L1298.6 820.3L1299.5 819.8L1300.4 819.3L1301.4 818.8L1302.4 818.4L1303.4 817.9L1304.4 817.5L1305.5 817.1L1306.7 816.6L1307.9 816.2L1309.1 815.8L1310.3 815.4L1311.6 815.0L1313.0 814.6L1314.3 814.2L1315.7 813.9L1317.0 813.5L1318.4 813.2L1319.9 812.8L1321.3 812.5L1322.7 812.2L1324.1 811.9L1325.5 811.7L1327.0 811.4L1328.4 811.2L1329.8 811.0L1331.1 810.8L1332.5 810.6L1333.8 810.5L1335.2 810.3L1336.5 810.2L1337.8 810.1L1339.1 810.0L1340.4 809.9L1341.7 809.8L1343.0 809.8L1344.3 809.7L1345.7 809.7L1347.0 809.7L1348.4 809.8L1349.9 809.8L1351.3 809.9L1352.8 810.0L1354.4 810.2L1356.0 810.4L1357.6 810.6L1359.3 810.8L1361.1 811.1L1363.0 811.5L1364.9 811.9L1366.9 812.4L1368.9 813.0L1371.0 813.6L1373.1 814.2L1375.2 814.9L1377.4 815.5L1379.6 816.2L1381.8 816.9L1384.0 817.5L1386.2 818.1L1388.3 818.7L1390.5 819.3L1392.7 819.8L1394.8 820.3L1396.9 820.7L1398.9 821.0L1400.9 821.2L1402.9 821.3L1404.8 821.4L1406.8 821.3L1408.8 821.2L1410.8 821.0L1412.8 820.8L1414.7 820.5L1416.7 820.2L1418.6 819.9L1420.6 819.6L1422.5 819.3L1424.3 818.9L1426.2 818.7L1428.0 818.4L1429.8 818.2L1431.5 818.0L1433.2 818.0L1434.8 818.0L1436.4 818.0L1438.0 818.2L1439.5 818.5L1440.9 818.8L1442.3 819.2L1443.7 819.7L1445.0 820.2L1446.3 820.8L1447.5 821.4L1448.7 822.0L1449.9 822.6L1451.1 823.3L1452.2 824.1L1453.3 824.8L1454.4 825.5L1455.5 826.3L1456.5 827.1L1457.6 827.8L1458.6 828.6L1459.7 829.4L1460.7 830.1L1461.7 830.9L1462.8 831.6L1463.8 832.4L1464.8 833.1L1465.8 833.9L1466.7 834.8L1467.7 835.6L1468.6 836.4L1469.6 837.3L1470.5 838.1L1471.4 839.0L1472.3 839.8L1473.1 840.7L1474.0 841.6L1474.8 842.4L1475.7 843.2L1476.5 844.1L1477.3 844.9L1478.0 845.7L1478.8 846.4L1479.5 847.2L1480.3 847.9L1481.0 848.7L1481.7 849.4L1482.4 850.2L1483.1 850.9L1483.8 851.7L1484.4 852.4L1485.1 853.1L1485.7 853.8L1486.3 854.5L1486.9 855.2L1487.5 855.9L1488.0 856.6L1488.6 857.2L1489.1 857.8L1489.6 858.4L1490.1 859.0L1490.6 859.5L1491.0 860.1L1491.4 860.6L1491.8 861.1L1492.2 861.5L1492.5 861.9L1492.8 862.3L1493.1 862.7L1493.4 863.0L1493.6 863.3L1493.8 863.6L1494.0 863.9L1494.2 864.1L1494.4 864.4L1494.5 864.6L1494.7 864.9L1494.9 865.1L1495.1 865.4L1495.2 865.7L1495.4 865.9L1495.6 866.2L1495.9 866.5" fill="none" stroke="#a7c5fe" stroke-width="2.7" stroke-linejoin="round" stroke-linecap="butt"/><path d="M1147.1 876.4h6.0v6.0h-6.0zM1148.7 871.2h6.0v6.0h-6.0zM1152.9 869.8h6.0v6.0h-6.0zM1153.7 868.5h6.0v6.0h-6.0zM1155.3 866.6h6.0v6.0h-6.0zM1157.8 863.1h6.0v6.0h-6.0zM1158.5 863.6h6.0v6.0h-6.0zM1162.1 860.8h6.0v6.0h-6.0zM1162.2 860.0h6.0v6.0h-6.0zM1163.6 856.1h6.0v6.0h-6.0zM1169.4 857.0h6.0v6.0h-6.0zM1173.7 855.6h6.0v6.0h-6.0zM1173.6 857.4h6.0v6.0h-6.0zM1178.3 852.2h6.0v6.0h-6.0zM1178.1 851.8h6.0v6.0h-6.0zM1183.2 849.4h6.0v6.0h-6.0zM1186.0 851.1h6.0v6.0h-6.0zM1188.8 849.3h6.0v6.0h-6.0zM1189.7 845.5h6.0v6.0h-6.0zM1195.2 847.5h6.0v6.0h-6.0zM1198.3 845.5h6.0v6.0h-6.0zM1201.0 844.0h6.0v6.0h-6.0zM1206.3 844.7h6.0v6.0h-6.0zM1205.7 844.3h6.0v6.0h-6.0zM1209.4 842.6h6.0v6.0h-6.0zM1213.7 844.8h6.0v6.0h-6.0zM1213.3 843.4h6.0v6.0h-6.0zM1216.8 844.8h6.0v6.0h-6.0zM1222.4 846.4h6.0v6.0h-6.0zM1223.4 845.4h6.0v6.0h-6.0zM1225.7 844.5h6.0v6.0h-6.0zM1230.1 847.6h6.0v6.0h-6.0zM1230.2 849.8h6.0v6.0h-6.0zM1234.8 850.6h6.0v6.0h-6.0zM1236.1 851.9h6.0v6.0h-6.0zM1239.5 851.1h6.0v6.0h-6.0zM1239.8 853.2h6.0v6.0h-6.0zM1246.5 850.2h6.0v6.0h-6.0zM1249.4 849.9h6.0v6.0h-6.0zM1251.5 847.6h6.0v6.0h-6.0zM1253.5 848.4h6.0v6.0h-6.0zM1257.2 845.0h6.0v6.0h-6.0zM1261.3 845.8h6.0v6.0h-6.0zM1262.8 841.8h6.0v6.0h-6.0zM1263.0 841.1h6.0v6.0h-6.0zM1266.7 840.5h6.0v6.0h-6.0zM1268.4 836.2h6.0v6.0h-6.0zM1271.9 833.5h6.0v6.0h-6.0zM1272.5 831.4h6.0v6.0h-6.0zM1278.0 831.4h6.0v6.0h-6.0zM1277.4 830.7h6.0v6.0h-6.0zM1279.5 826.7h6.0v6.0h-6.0zM1283.8 828.3h6.0v6.0h-6.0zM1288.1 825.3h6.0v6.0h-6.0zM1286.1 825.9h6.0v6.0h-6.0zM1291.0 822.1h6.0v6.0h-6.0zM1294.3 820.5h6.0v6.0h-6.0zM1299.7 820.0h6.0v6.0h-6.0zM1296.7 816.7h6.0v6.0h-6.0zM1303.0 817.0h6.0v6.0h-6.0zM1303.2 815.1h6.0v6.0h-6.0zM1308.0 813.5h6.0v6.0h-6.0zM1313.9 813.0h6.0v6.0h-6.0zM1316.9 814.8h6.0v6.0h-6.0zM1319.1 810.1h6.0v6.0h-6.0zM1324.7 807.6h6.0v6.0h-6.0zM1328.7 807.8h6.0v6.0h-6.0zM1333.8 805.6h6.0v6.0h-6.0zM1336.8 807.3h6.0v6.0h-6.0zM1341.5 804.4h6.0v6.0h-6.0zM1346.5 804.5h6.0v6.0h-6.0zM1351.4 805.0h6.0v6.0h-6.0zM1355.6 806.4h6.0v6.0h-6.0zM1360.8 805.6h6.0v6.0h-6.0zM1365.6 807.9h6.0v6.0h-6.0zM1369.6 807.5h6.0v6.0h-6.0zM1372.7 806.1h6.0v6.0h-6.0zM1377.4 808.0h6.0v6.0h-6.0zM1384.2 807.8h6.0v6.0h-6.0zM1390.4 808.1h6.0v6.0h-6.0zM1396.9 807.2h6.0v6.0h-6.0zM1404.3 810.3h6.0v6.0h-6.0zM1408.9 811.0h6.0v6.0h-6.0zM1413.5 812.1h6.0v6.0h-6.0zM1418.9 814.6h6.0v6.0h-6.0zM1426.2 813.7h6.0v6.0h-6.0zM1431.7 818.5h6.0v6.0h-6.0zM1436.1 818.9h6.0v6.0h-6.0zM1440.8 818.4h6.0v6.0h-6.0zM1447.9 822.8h6.0v6.0h-6.0zM1453.9 828.9h6.0v6.0h-6.0zM1458.6 830.6h6.0v6.0h-6.0zM1461.1 830.6h6.0v6.0h-6.0zM1467.0 837.0h6.0v6.0h-6.0zM1471.6 838.2h6.0v6.0h-6.0zM1474.7 845.8h6.0v6.0h-6.0zM1479.9 852.6h6.0v6.0h-6.0zM1483.4 853.2h6.0v6.0h-6.0zM1489.7 858.1h6.0v6.0h-6.0z" fill="#cbd8ee"/><path d="M1150.1 878.4L1150.8 877.7L1151.6 877.0L1152.3 876.4L1153.0 875.7L1153.7 875.0L1154.5 874.2L1155.2 873.5L1155.9 872.8L1156.6 872.1L1157.3 871.4L1158.1 870.7L1158.8 870.1L1159.5 869.4L1160.3 868.7L1161.0 868.1L1161.8 867.4L1162.6 866.8L1163.3 866.2L1164.1 865.6L1164.9 865.0L1165.8 864.5L1166.6 863.9L1167.5 863.4L1168.4 862.9L1169.3 862.3L1170.2 861.8L1171.1 861.3L1172.0 860.9L1172.9 860.4L1173.8 859.9L1174.8 859.5L1175.7 859.0L1176.6 858.6L1177.5 858.2L1178.4 857.8L1179.3 857.4L1180.2 857.1L1181.1 856.7L1181.9 856.4L1182.7 856.1L1183.6 855.8L1184.4 855.6L1185.1 855.3L1185.9 855.1L1186.7 854.8L1187.4 854.6L1188.2 854.4L1188.9 854.3L1189.6 854.1L1190.4 853.9L1191.1 853.8L1191.8 853.7L1192.5 853.6L1193.2 853.5L1193.9 853.4L1194.7 853.3L1195.4 853.3L1196.1 853.2L1196.8 853.2L1197.6 853.1L1198.3 853.1L1199.1 853.1L1199.8 853.2L1200.6 853.2L1201.4 853.3L1202.1 853.3L1202.9 853.4L1203.7 853.5L1204.4 853.6L1205.2 853.7L1206.0 853.9L1206.7 854.0L1207.5 854.2L1208.2 854.3L1208.9 854.5L1209.6 854.7L1210.4 854.8L1211.1 855.0L1211.8 855.2L1212.4 855.4L1213.1 855.6L1213.7 855.8L1214.4 856.0L1215.0 856.3L1215.6 856.6L1216.2 856.9L1216.8 857.2L1217.4 857.5L1218.0 857.8L1218.5 858.1L1219.1 858.4L1219.7 858.7L1220.3 859.0L1220.8 859.3L1221.4 859.6L1222.0 859.8L1222.5 860.0L1223.1 860.3L1223.7 860.4L1224.3 860.6L1224.9 860.7L1225.5 860.8L1226.1 860.9L1226.7 860.9L1227.3 861.0L1227.9 861.0L1228.5 861.0L1229.0 861.0L1229.6 861.0L1230.2 861.0L1230.8 861.0L1231.4 860.9L1232.0 860.9L1232.6 860.8L1233.2 860.8L1233.8 860.8L1234.4 860.7L1235.0 860.7L1235.6 860.6L1236.2 860.6L1236.8 860.5L1237.4 860.5L1238.0 860.4L1238.5 860.4L1239.1 860.3L1239.7 860.3L1240.3 860.2L1240.9 860.2L1241.5 860.1L1242.1 860.0L1242.7 859.9L1243.3 859.9L1243.9 859.8L1244.5 859.7L1245.1 859.6L1245.7 859.5L1246.3 859.4L1246.9 859.3L1247.5 859.2L1248.0 859.1L1248.6 859.0L1249.2 858.9L1249.9 858.8L1250.5 858.6L1251.1 858.5L1251.7 858.4L1252.3 858.3L1252.9 858.2L1253.6 858.1L1254.2 857.9L1254.8 857.8L1255.4 857.6L1256.0 857.5L1256.6 857.3L1257.2 857.2L1257.7 857.0L1258.3 856.8L1258.8 856.6L1259.4 856.4L1259.9 856.1L1260.4 855.9L1260.9 855.6L1261.4 855.3L1261.9 855.1L1262.4 854.8L1262.8 854.5L1263.3 854.2L1263.7 853.9L1264.1 853.5L1264.6 853.2L1265.0 852.8L1265.4 852.5L1265.8 852.1L1266.2 851.8L1266.7 851.4L1267.1 851.0L1267.5 850.6L1267.9 850.2L1268.4 849.8L1268.8 849.4L1269.3 849.0L1269.7 848.6L1270.1 848.2L1270.6 847.7L1271.0 847.3L1271.4 846.8L1271.9 846.4L1272.3 845.9L1272.7 845.4L1273.2 844.9L1273.6 844.4L1274.1 843.9L1274.5 843.4L1274.9 842.9L1275.4 842.4L1275.8 841.9L1276.3 841.4L1276.8 840.8L1277.2 840.3L1277.7 839.8L1278.2 839.2L1278.7 838.7L1279.1 838.1L1279.6 837.5L1280.1 836.9L1280.5 836.3L1281.0 835.7L1281.5 835.1L1282.0 834.5L1282.5 833.9L1283.0 833.3L1283.5 832.6L1284.0 832.0L1284.5 831.4L1285.1 830.8L1285.6 830.2L1286.2 829.6L1286.8 829.0L1287.5 828.5L1288.1 827.9L1288.8 827.3L1289.5 826.8L1290.1 826.2L1290.8 825.7L1291.5 825.1L1292.2 824.5L1293.0 824.0L1293.7 823.4L1294.5 822.9L1295.3 822.4L1296.1 821.8L1296.9 821.3L1297.7 820.8L1298.6 820.3L1299.5 819.8L1300.4 819.3L1301.4 818.8L1302.4 818.4L1303.4 817.9L1304.4 817.5L1305.5 817.1L1306.7 816.6L1307.9 816.2L1309.1 815.8L1310.3 815.4L1311.6 815.0L1313.0 814.6L1314.3 814.2L1315.7 813.8L1317.0 813.5L1318.4 813.1L1319.9 812.8L1321.3 812.4L1322.7 812.1L1324.1 811.9L1325.5 811.6L1327.0 811.4L1328.4 811.2L1329.8 811.0L1331.1 810.8L1332.5 810.7L1333.8 810.5L1335.2 810.4L1336.5 810.3L1337.8 810.2L1339.0 810.1L1340.3 810.1L1341.6 810.0L1342.9 810.0L1344.3 810.0L1345.6 810.0L1347.0 810.1L1348.4 810.2L1349.8 810.3L1351.2 810.4L1352.8 810.6L1354.3 810.8L1355.9 811.0L1357.6 811.3L1359.3 811.5L1361.2 811.9L1363.0 812.4L1365.0 812.9L1367.0 813.5L1369.1 814.1L1371.2 814.8L1373.4 815.5L1375.6 816.3L1377.9 817.0L1380.1 817.8L1382.4 818.6L1384.6 819.3L1386.9 820.0L1389.1 820.7L1391.4 821.3L1393.6 821.9L1395.7 822.4L1397.8 822.9L1399.9 823.2L1401.9 823.4L1403.9 823.6L1405.9 823.6L1407.9 823.5L1409.9 823.3L1411.9 823.0L1413.8 822.7L1415.8 822.4L1417.7 822.0L1419.7 821.5L1421.6 821.1L1423.4 820.7L1425.3 820.3L1427.1 819.9L1428.9 819.5L1430.6 819.2L1432.4 819.0L1434.0 818.8L1435.6 818.8L1437.2 818.8L1438.7 819.0L1440.2 819.2L1441.6 819.6L1442.9 820.0L1444.2 820.4L1445.5 821.0L1446.7 821.6L1447.8 822.2L1448.9 822.8L1450.0 823.6L1451.1 824.3L1452.2 825.1L1453.2 825.9L1454.2 826.7L1455.3 827.5L1456.3 828.3L1457.4 829.1L1458.4 830.0L1459.5 830.8L1460.6 831.6L1461.7 832.3L1462.9 833.1L1464.1 833.9L1465.3 834.8L1466.5 835.7L1467.8 836.5L1469.0 837.5L1470.3 838.4L1471.5 839.3L1472.8 840.2L1474.0 841.2L1475.2 842.1L1476.4 843.0L1477.6 843.9L1478.7 844.8L1479.8 845.7L1480.9 846.6L1481.9 847.4L1482.9 848.2L1483.8 849.0L1484.6 849.7L1485.4 850.4L1486.1 851.1L1486.8 851.8L1487.4 852.5L1488.0 853.1L1488.5 853.8L1489.0 854.4L1489.5 855.0L1490.0 855.6L1490.4 856.2L1490.8 856.8L1491.2 857.3L1491.5 857.9L1491.9 858.4L1492.2 858.9L1492.5 859.4L1492.9 859.8L1493.2 860.3L1493.5 860.7L1493.8 861.2L1494.1 861.6L1494.4 862.0L1494.7 862.4L1494.9 862.7L1495.1 863.0L1495.3 863.3L1495.5 863.6L1495.7 863.8L1495.9 864.1L1496.0 864.3L1496.1 864.6L1496.3 864.8L1496.4 865.0L1496.6 865.3L1496.7 865.5L1496.9 865.7L1497.0 866.0L1497.2 866.2L1497.4 866.5" fill="none" stroke="#cbd8ee" stroke-width="2.7" stroke-linejoin="round" stroke-linecap="butt"/><path d="M1147.4 876.4h6.0v6.0h-6.0zM1147.2 871.3h6.0v6.0h-6.0zM1148.7 869.3h6.0v6.0h-6.0zM1150.9 867.5h6.0v6.0h-6.0zM1151.9 865.7h6.0v6.0h-6.0zM1156.3 862.3h6.0v6.0h-6.0zM1158.6 861.7h6.0v6.0h-6.0zM1158.9 859.2h6.0v6.0h-6.0zM1162.6 857.4h6.0v6.0h-6.0zM1162.7 855.8h6.0v6.0h-6.0zM1165.5 853.7h6.0v6.0h-6.0zM1166.2 850.5h6.0v6.0h-6.0zM1172.7 848.9h6.0v6.0h-6.0zM1172.9 849.5h6.0v6.0h-6.0zM1178.0 847.2h6.0v6.0h-6.0zM1180.7 846.3h6.0v6.0h-6.0zM1182.6 847.5h6.0v6.0h-6.0zM1185.1 843.2h6.0v6.0h-6.0zM1186.4 845.9h6.0v6.0h-6.0zM1191.9 842.8h6.0v6.0h-6.0zM1194.6 847.5h6.0v6.0h-6.0zM1198.2 845.6h6.0v6.0h-6.0zM1200.1 843.9h6.0v6.0h-6.0zM1201.0 844.8h6.0v6.0h-6.0zM1203.9 845.6h6.0v6.0h-6.0zM1209.4 847.4h6.0v6.0h-6.0zM1213.0 845.9h6.0v6.0h-6.0zM1213.1 850.0h6.0v6.0h-6.0zM1215.7 851.5h6.0v6.0h-6.0zM1218.4 854.9h6.0v6.0h-6.0zM1220.8 856.4h6.0v6.0h-6.0zM1223.8 852.9h6.0v6.0h-6.0zM1225.4 851.1h6.0v6.0h-6.0zM1228.1 853.3h6.0v6.0h-6.0zM1229.3 849.6h6.0v6.0h-6.0zM1232.1 845.2h6.0v6.0h-6.0zM1235.3 844.7h6.0v6.0h-6.0zM1236.6 841.4h6.0v6.0h-6.0zM1237.9 843.1h6.0v6.0h-6.0zM1241.2 838.4h6.0v6.0h-6.0zM1241.6 836.6h6.0v6.0h-6.0zM1244.3 834.5h6.0v6.0h-6.0zM1246.0 833.5h6.0v6.0h-6.0zM1250.0 830.7h6.0v6.0h-6.0zM1252.7 826.3h6.0v6.0h-6.0zM1253.6 828.2h6.0v6.0h-6.0zM1255.2 824.9h6.0v6.0h-6.0zM1259.3 823.4h6.0v6.0h-6.0zM1261.3 821.5h6.0v6.0h-6.0zM1261.3 816.9h6.0v6.0h-6.0zM1267.1 815.4h6.0v6.0h-6.0zM1269.4 816.3h6.0v6.0h-6.0zM1270.3 813.5h6.0v6.0h-6.0zM1273.0 813.7h6.0v6.0h-6.0zM1275.5 810.5h6.0v6.0h-6.0zM1277.5 809.9h6.0v6.0h-6.0zM1281.2 805.8h6.0v6.0h-6.0zM1282.2 805.7h6.0v6.0h-6.0zM1285.3 806.2h6.0v6.0h-6.0zM1288.5 805.7h6.0v6.0h-6.0zM1288.7 803.4h6.0v6.0h-6.0zM1292.9 797.7h6.0v6.0h-6.0zM1294.6 800.6h6.0v6.0h-6.0zM1298.3 799.9h6.0v6.0h-6.0zM1301.0 797.7h6.0v6.0h-6.0zM1304.1 796.3h6.0v6.0h-6.0zM1311.4 792.0h6.0v6.0h-6.0zM1316.6 790.8h6.0v6.0h-6.0zM1325.1 784.5h6.0v6.0h-6.0zM1329.2 783.6h6.0v6.0h-6.0zM1339.4 780.0h6.0v6.0h-6.0zM1344.7 775.2h6.0v6.0h-6.0zM1352.2 773.1h6.0v6.0h-6.0zM1354.9 768.9h6.0v6.0h-6.0zM1375.8 762.3h6.0v6.0h-6.0zM1391.0 760.4h6.0v6.0h-6.0zM1409.4 757.0h6.0v6.0h-6.0zM1426.8 754.2h6.0v6.0h-6.0zM1444.4 755.8h6.0v6.0h-6.0zM1461.6 756.9h6.0v6.0h-6.0zM1477.1 758.2h6.0v6.0h-6.0zM1498.5 763.5h6.0v6.0h-6.0zM1516.6 768.4h6.0v6.0h-6.0z" fill="#e8d6cc"/><path d="M1150.1 878.4L1150.8 877.7L1151.5 877.0L1152.2 876.2L1152.9 875.5L1153.6 874.8L1154.3 874.0L1154.9 873.3L1155.6 872.5L1156.3 871.8L1157.0 871.0L1157.7 870.3L1158.4 869.5L1159.1 868.8L1159.8 868.1L1160.5 867.4L1161.2 866.7L1161.9 866.0L1162.7 865.4L1163.4 864.8L1164.2 864.1L1164.9 863.5L1165.7 863.0L1166.5 862.4L1167.4 861.8L1168.2 861.3L1169.0 860.7L1169.9 860.2L1170.8 859.7L1171.6 859.2L1172.5 858.7L1173.4 858.2L1174.3 857.7L1175.2 857.2L1176.0 856.8L1176.9 856.4L1177.8 856.0L1178.6 855.6L1179.5 855.2L1180.3 854.8L1181.2 854.5L1182.0 854.2L1182.7 853.9L1183.5 853.6L1184.3 853.4L1185.0 853.1L1185.8 852.9L1186.5 852.7L1187.2 852.5L1187.9 852.4L1188.6 852.2L1189.3 852.1L1190.0 852.0L1190.7 851.9L1191.4 851.8L1192.1 851.7L1192.8 851.7L1193.4 851.6L1194.1 851.6L1194.8 851.6L1195.5 851.6L1196.2 851.6L1196.9 851.6L1197.6 851.7L1198.3 851.7L1199.0 851.8L1199.7 851.9L1200.5 852.0L1201.2 852.1L1201.9 852.3L1202.6 852.4L1203.4 852.6L1204.1 852.8L1204.8 853.0L1205.6 853.2L1206.3 853.4L1207.0 853.6L1207.7 853.9L1208.4 854.1L1209.1 854.3L1209.8 854.5L1210.5 854.8L1211.1 855.0L1211.8 855.2L1212.4 855.4L1213.1 855.6L1213.7 855.8L1214.3 856.1L1214.9 856.3L1215.5 856.6L1216.1 856.9L1216.7 857.2L1217.2 857.5L1217.8 857.8L1218.4 858.1L1218.9 858.4L1219.5 858.7L1220.0 858.9L1220.6 859.1L1221.1 859.3L1221.6 859.5L1222.2 859.7L1222.7 859.8L1223.2 859.8L1223.8 859.9L1224.3 859.8L1224.8 859.8L1225.3 859.6L1225.8 859.5L1226.3 859.3L1226.8 859.1L1227.3 858.9L1227.8 858.6L1228.2 858.3L1228.7 858.0L1229.2 857.6L1229.6 857.3L1230.1 856.9L1230.6 856.5L1231.1 856.1L1231.5 855.7L1232.0 855.3L1232.5 854.9L1233.1 854.4L1233.6 854.0L1234.1 853.6L1234.7 853.1L1235.3 852.7L1235.8 852.3L1236.4 851.8L1237.0 851.4L1237.6 850.9L1238.2 850.4L1238.8 849.9L1239.4 849.4L1240.0 848.9L1240.6 848.4L1241.2 847.8L1241.9 847.3L1242.5 846.7L1243.2 846.2L1243.8 845.6L1244.5 845.0L1245.2 844.4L1245.9 843.8L1246.6 843.2L1247.3 842.6L1248.0 842.0L1248.8 841.4L1249.6 840.7L1250.3 840.1L1251.1 839.4L1251.9 838.7L1252.7 838.0L1253.5 837.3L1254.4 836.6L1255.2 835.9L1256.1 835.1L1256.9 834.4L1257.8 833.7L1258.7 832.9L1259.5 832.2L1260.4 831.4L1261.3 830.7L1262.2 830.0L1263.1 829.3L1264.0 828.5L1264.9 827.8L1265.9 827.1L1266.8 826.5L1267.7 825.8L1268.7 825.1L1269.6 824.4L1270.6 823.7L1271.6 823.0L1272.6 822.3L1273.6 821.6L1274.5 820.9L1275.6 820.2L1276.6 819.6L1277.6 818.9L1278.6 818.2L1279.6 817.5L1280.6 816.9L1281.6 816.2L1282.6 815.6L1283.6 814.9L1284.6 814.3L1285.6 813.7L1286.6 813.0L1287.6 812.4L1288.6 811.8L1289.6 811.2L1290.5 810.6L1291.5 810.0L1292.5 809.4L1293.4 808.8L1294.4 808.2L1295.4 807.6L1296.3 807.0L1297.3 806.4L1298.3 805.9L1299.3 805.3L1300.3 804.8L1301.3 804.2L1302.3 803.7L1303.3 803.1L1304.3 802.6L1305.3 802.1L1306.4 801.6L1307.4 801.1L1308.5 800.7L1309.6 800.2L1310.7 799.8L1311.9 799.4L1313.0 799.0L1314.2 798.6L1315.4 798.2L1316.6 797.9L1317.8 797.5L1319.0 797.2L1320.2 796.8L1321.4 796.5L1322.5 796.1L1323.7 795.8L1324.9 795.4L1326.0 795.0L1327.1 794.6L1328.1 794.3L1329.2 793.8L1330.2 793.4L1331.1 793.0L1332.1 792.5L1332.9 792.0L1333.7 791.6L1334.5 791.1L1335.3 790.5L1336.0 790.0L1336.7 789.5L1337.3 789.0L1338.0 788.4L1338.6 787.9L1339.3 787.3L1339.9 786.8L1340.6 786.3L1341.3 785.7L1342.0 785.2L1342.7 784.7L1343.5 784.1L1344.3 783.6L1345.2 783.1L1346.1 782.6L1347.0 782.1L1348.0 781.7L1349.1 781.2L1350.1 780.7L1351.2 780.3L1352.4 779.8L1353.5 779.3L1354.7 778.9L1355.9 778.4L1357.1 778.0L1358.4 777.5L1359.6 777.1L1360.9 776.7L1362.2 776.2L1363.5 775.8L1364.8 775.4L1366.1 775.0L1367.4 774.5L1368.7 774.1L1370.1 773.7L1371.4 773.3L1372.7 772.9L1374.0 772.5L1375.4 772.1L1376.7 771.7L1378.1 771.4L1379.5 771.0L1380.9 770.6L1382.3 770.2L1383.7 769.8L1385.1 769.5L1386.6 769.1L1388.0 768.7L1389.4 768.4L1390.9 768.0L1392.3 767.7L1393.8 767.3L1395.2 767.0L1396.7 766.7L1398.1 766.4L1399.5 766.1L1401.0 765.8L1402.4 765.5L1403.8 765.2L1405.2 764.9L1406.7 764.7L1408.1 764.4L1409.5 764.2L1411.0 763.9L1412.4 763.7L1413.9 763.4L1415.3 763.2L1416.8 763.0L1418.2 762.8L1419.7 762.5L1421.1 762.3L1422.5 762.1L1423.9 762.0L1425.3 761.8L1426.7 761.6L1428.1 761.5L1429.4 761.3L1430.7 761.2L1432.1 761.0L1433.4 760.9L1434.6 760.8L1435.9 760.7L1437.1 760.6L1438.3 760.5L1439.5 760.4L1440.7 760.3L1441.9 760.2L1443.1 760.2L1444.3 760.1L1445.4 760.0L1446.6 760.0L1447.8 760.0L1448.9 760.0L1450.1 760.0L1451.3 760.0L1452.5 760.0L1453.6 760.0L1454.8 760.0L1456.1 760.1L1457.3 760.1L1458.5 760.2L1459.8 760.3L1461.1 760.4L1462.3 760.6L1463.6 760.7L1464.9 760.9L1466.2 761.0L1467.6 761.2L1468.9 761.4L1470.2 761.6L1471.5 761.8L1472.8 762.0L1474.1 762.2L1475.4 762.4L1476.6 762.7L1477.9 762.9L1479.2 763.1L1480.4 763.3L1481.6 763.6L1482.8 763.8L1484.0 764.0L1485.2 764.2L1486.3 764.4L1487.5 764.7L1488.6 764.9L1489.7 765.1L1490.8 765.4L1491.9 765.6L1493.0 765.9L1494.1 766.1L1495.2 766.4L1496.2 766.6L1497.3 766.9L1498.3 767.1L1499.3 767.4L1500.4 767.6L1501.4 767.9L1502.4 768.2L1503.4 768.4L1504.3 768.7L1505.3 768.9L1506.3 769.2L1507.3 769.5L1508.2 769.8L1509.2 770.1L1510.1 770.3L1511.0 770.6L1511.9 770.9L1512.8 771.2L1513.7 771.5L1514.6 771.8L1515.4 772.1L1516.3 772.4L1517.2 772.7L1518.0 773.0L1518.9 773.3L1519.7 773.6L1520.6 774.0L1521.4 774.3L1522.3 774.6L1523.2 774.9L1524.1 775.2" fill="none" stroke="#e8d6cc" stroke-width="2.7" stroke-linejoin="round" stroke-linecap="butt"/><path d="M1145.6 877.5h6.0v6.0h-6.0zM1151.5 875.3h6.0v6.0h-6.0zM1150.3 869.3h6.0v6.0h-6.0zM1151.8 870.5h6.0v6.0h-6.0zM1153.7 864.4h6.0v6.0h-6.0zM1154.8 864.6h6.0v6.0h-6.0zM1157.7 860.0h6.0v6.0h-6.0zM1162.9 860.7h6.0v6.0h-6.0zM1160.5 857.2h6.0v6.0h-6.0zM1167.9 855.6h6.0v6.0h-6.0zM1166.1 853.2h6.0v6.0h-6.0zM1168.7 853.3h6.0v6.0h-6.0zM1174.4 850.8h6.0v6.0h-6.0zM1177.9 848.0h6.0v6.0h-6.0zM1177.5 850.9h6.0v6.0h-6.0zM1182.0 846.8h6.0v6.0h-6.0zM1182.7 848.9h6.0v6.0h-6.0zM1186.2 845.8h6.0v6.0h-6.0zM1188.6 847.4h6.0v6.0h-6.0zM1192.8 844.9h6.0v6.0h-6.0zM1194.7 847.2h6.0v6.0h-6.0zM1198.7 847.7h6.0v6.0h-6.0zM1201.0 846.0h6.0v6.0h-6.0zM1204.4 848.4h6.0v6.0h-6.0zM1207.3 849.2h6.0v6.0h-6.0zM1209.0 848.9h6.0v6.0h-6.0zM1212.1 849.5h6.0v6.0h-6.0zM1213.5 851.8h6.0v6.0h-6.0zM1218.0 857.4h6.0v6.0h-6.0zM1220.9 855.9h6.0v6.0h-6.0zM1222.3 855.7h6.0v6.0h-6.0zM1224.9 853.3h6.0v6.0h-6.0zM1226.7 851.0h6.0v6.0h-6.0zM1229.0 849.0h6.0v6.0h-6.0zM1232.0 847.8h6.0v6.0h-6.0zM1231.7 843.7h6.0v6.0h-6.0zM1234.2 844.5h6.0v6.0h-6.0zM1238.4 843.1h6.0v6.0h-6.0zM1241.6 841.9h6.0v6.0h-6.0zM1241.7 838.7h6.0v6.0h-6.0zM1245.9 835.1h6.0v6.0h-6.0zM1248.3 834.1h6.0v6.0h-6.0zM1249.3 830.3h6.0v6.0h-6.0zM1254.4 830.2h6.0v6.0h-6.0zM1253.5 828.9h6.0v6.0h-6.0zM1256.1 824.3h6.0v6.0h-6.0zM1256.7 824.7h6.0v6.0h-6.0zM1259.2 821.0h6.0v6.0h-6.0zM1263.0 823.7h6.0v6.0h-6.0zM1266.0 820.7h6.0v6.0h-6.0zM1267.4 817.9h6.0v6.0h-6.0zM1270.0 816.9h6.0v6.0h-6.0zM1272.7 813.5h6.0v6.0h-6.0zM1276.0 812.1h6.0v6.0h-6.0zM1275.2 810.3h6.0v6.0h-6.0zM1281.1 810.2h6.0v6.0h-6.0zM1281.4 808.6h6.0v6.0h-6.0zM1285.7 806.8h6.0v6.0h-6.0zM1288.7 802.5h6.0v6.0h-6.0zM1288.4 803.4h6.0v6.0h-6.0zM1294.3 800.4h6.0v6.0h-6.0zM1295.6 801.4h6.0v6.0h-6.0zM1297.4 800.9h6.0v6.0h-6.0zM1303.2 797.6h6.0v6.0h-6.0zM1301.8 795.3h6.0v6.0h-6.0zM1307.6 796.1h6.0v6.0h-6.0zM1316.0 792.0h6.0v6.0h-6.0zM1322.6 788.0h6.0v6.0h-6.0zM1327.9 786.8h6.0v6.0h-6.0zM1335.3 784.6h6.0v6.0h-6.0zM1337.8 781.3h6.0v6.0h-6.0zM1348.7 780.5h6.0v6.0h-6.0zM1354.2 779.3h6.0v6.0h-6.0zM1359.1 779.2h6.0v6.0h-6.0zM1365.6 777.3h6.0v6.0h-6.0zM1381.1 776.7h6.0v6.0h-6.0zM1394.3 772.8h6.0v6.0h-6.0zM1406.2 778.3h6.0v6.0h-6.0zM1420.6 774.4h6.0v6.0h-6.0zM1433.8 774.8h6.0v6.0h-6.0zM1448.4 779.2h6.0v6.0h-6.0zM1458.8 779.9h6.0v6.0h-6.0zM1474.4 784.9h6.0v6.0h-6.0zM1486.1 786.3h6.0v6.0h-6.0zM1499.1 787.8h6.0v6.0h-6.0zM1512.8 792.9h6.0v6.0h-6.0zM1524.6 792.0h6.0v6.0h-6.0z" fill="#f6bda2"/><path d="M1150.1 878.4L1150.8 877.7L1151.4 877.0L1152.1 876.3L1152.8 875.6L1153.4 874.9L1154.1 874.2L1154.7 873.5L1155.4 872.8L1156.0 872.1L1156.7 871.4L1157.3 870.6L1158.0 869.9L1158.7 869.3L1159.3 868.6L1160.0 867.9L1160.7 867.2L1161.4 866.6L1162.1 865.9L1162.8 865.3L1163.5 864.7L1164.2 864.1L1164.9 863.5L1165.7 863.0L1166.5 862.4L1167.2 861.9L1168.0 861.4L1168.8 860.8L1169.7 860.3L1170.5 859.8L1171.3 859.3L1172.2 858.9L1173.0 858.4L1173.8 857.9L1174.7 857.5L1175.5 857.1L1176.4 856.6L1177.2 856.2L1178.0 855.8L1178.8 855.5L1179.7 855.1L1180.4 854.8L1181.2 854.5L1182.0 854.2L1182.7 853.9L1183.5 853.6L1184.2 853.4L1184.9 853.2L1185.6 853.0L1186.3 852.8L1187.0 852.6L1187.7 852.4L1188.4 852.3L1189.0 852.2L1189.7 852.0L1190.4 851.9L1191.0 851.9L1191.7 851.8L1192.3 851.7L1193.0 851.7L1193.6 851.6L1194.3 851.6L1194.9 851.6L1195.6 851.6L1196.3 851.6L1196.9 851.6L1197.6 851.7L1198.3 851.7L1198.9 851.8L1199.6 851.9L1200.3 852.0L1201.0 852.1L1201.7 852.2L1202.4 852.4L1203.1 852.5L1203.8 852.7L1204.5 852.9L1205.2 853.1L1205.9 853.3L1206.6 853.5L1207.3 853.7L1207.9 853.9L1208.6 854.1L1209.3 854.4L1209.9 854.6L1210.6 854.8L1211.2 855.0L1211.8 855.2L1212.4 855.4L1213.0 855.6L1213.6 855.8L1214.2 856.0L1214.8 856.3L1215.4 856.6L1215.9 856.8L1216.5 857.1L1217.0 857.4L1217.6 857.7L1218.1 858.0L1218.6 858.3L1219.2 858.5L1219.7 858.8L1220.2 859.0L1220.7 859.2L1221.2 859.4L1221.8 859.6L1222.3 859.7L1222.8 859.8L1223.3 859.8L1223.8 859.9L1224.3 859.8L1224.8 859.8L1225.3 859.7L1225.8 859.5L1226.2 859.4L1226.7 859.2L1227.2 858.9L1227.6 858.7L1228.1 858.4L1228.5 858.1L1229.0 857.8L1229.4 857.5L1229.8 857.1L1230.3 856.7L1230.8 856.4L1231.2 856.0L1231.7 855.6L1232.2 855.2L1232.6 854.8L1233.1 854.4L1233.6 854.0L1234.2 853.6L1234.7 853.1L1235.2 852.7L1235.8 852.3L1236.3 851.9L1236.9 851.4L1237.4 851.0L1238.0 850.5L1238.6 850.1L1239.1 849.6L1239.7 849.1L1240.3 848.6L1240.9 848.1L1241.5 847.6L1242.1 847.0L1242.7 846.5L1243.4 846.0L1244.0 845.4L1244.6 844.9L1245.3 844.3L1246.0 843.7L1246.7 843.2L1247.3 842.6L1248.0 842.0L1248.8 841.4L1249.5 840.8L1250.2 840.2L1251.0 839.5L1251.7 838.9L1252.5 838.2L1253.3 837.5L1254.1 836.8L1254.9 836.2L1255.7 835.5L1256.5 834.8L1257.3 834.1L1258.1 833.4L1259.0 832.7L1259.8 831.9L1260.7 831.2L1261.5 830.5L1262.4 829.9L1263.2 829.2L1264.1 828.5L1265.0 827.8L1265.9 827.1L1266.7 826.5L1267.6 825.8L1268.5 825.2L1269.4 824.5L1270.4 823.8L1271.3 823.2L1272.2 822.5L1273.2 821.9L1274.1 821.2L1275.1 820.6L1276.1 819.9L1277.0 819.3L1278.0 818.6L1278.9 818.0L1279.9 817.3L1280.9 816.7L1281.8 816.1L1282.8 815.5L1283.8 814.8L1284.7 814.2L1285.7 813.6L1286.6 813.0L1287.6 812.4L1288.5 811.9L1289.4 811.3L1290.4 810.7L1291.3 810.1L1292.2 809.5L1293.1 809.0L1294.1 808.4L1295.0 807.8L1295.9 807.3L1296.8 806.7L1297.8 806.2L1298.7 805.6L1299.6 805.1L1300.6 804.6L1301.5 804.1L1302.5 803.6L1303.4 803.1L1304.4 802.6L1305.4 802.1L1306.4 801.6L1307.4 801.1L1308.4 800.7L1309.4 800.3L1310.5 799.8L1311.5 799.4L1312.5 799.0L1313.6 798.7L1314.6 798.3L1315.7 797.9L1316.8 797.5L1317.8 797.2L1318.9 796.8L1320.0 796.5L1321.1 796.1L1322.2 795.8L1323.3 795.4L1324.4 795.1L1325.5 794.8L1326.6 794.4L1327.7 794.1L1328.9 793.7L1330.0 793.3L1331.1 793.0L1332.3 792.6L1333.5 792.2L1334.6 791.8L1335.8 791.4L1337.0 791.0L1338.1 790.6L1339.3 790.2L1340.5 789.8L1341.7 789.4L1342.9 789.0L1344.1 788.6L1345.4 788.2L1346.6 787.8L1347.8 787.5L1349.0 787.1L1350.3 786.7L1351.5 786.4L1352.8 786.0L1354.0 785.7L1355.3 785.4L1356.6 785.1L1357.9 784.8L1359.1 784.5L1360.4 784.3L1361.7 784.1L1363.0 783.8L1364.3 783.6L1365.7 783.4L1367.0 783.3L1368.3 783.1L1369.6 782.9L1371.0 782.8L1372.3 782.6L1373.7 782.4L1375.0 782.3L1376.4 782.2L1377.8 782.0L1379.2 781.9L1380.5 781.8L1381.9 781.6L1383.3 781.5L1384.7 781.4L1386.1 781.2L1387.5 781.1L1389.0 780.9L1390.4 780.8L1391.8 780.6L1393.3 780.5L1394.7 780.3L1396.2 780.2L1397.7 780.0L1399.1 779.8L1400.6 779.7L1402.1 779.5L1403.6 779.4L1405.1 779.3L1406.6 779.1L1408.1 779.0L1409.6 778.9L1411.1 778.8L1412.6 778.7L1414.1 778.7L1415.6 778.6L1417.2 778.6L1418.7 778.6L1420.2 778.6L1421.7 778.6L1423.3 778.6L1424.8 778.7L1426.4 778.8L1427.9 778.9L1429.5 779.0L1431.1 779.1L1432.7 779.2L1434.3 779.4L1435.9 779.5L1437.4 779.7L1439.0 779.8L1440.6 780.0L1442.2 780.2L1443.7 780.4L1445.3 780.6L1446.8 780.8L1448.4 781.0L1449.9 781.2L1451.4 781.4L1452.9 781.6L1454.3 781.8L1455.8 782.1L1457.2 782.3L1458.7 782.5L1460.1 782.8L1461.5 783.0L1462.9 783.3L1464.3 783.5L1465.8 783.8L1467.1 784.1L1468.5 784.4L1469.9 784.6L1471.3 784.9L1472.6 785.2L1473.9 785.5L1475.3 785.8L1476.6 786.1L1477.8 786.4L1479.1 786.7L1480.4 786.9L1481.6 787.2L1482.8 787.5L1484.0 787.8L1485.2 788.0L1486.3 788.3L1487.4 788.6L1488.6 788.9L1489.7 789.1L1490.7 789.4L1491.8 789.7L1492.8 789.9L1493.9 790.2L1494.9 790.5L1495.9 790.7L1496.9 791.0L1497.8 791.3L1498.8 791.6L1499.8 791.8L1500.7 792.1L1501.7 792.4L1502.6 792.6L1503.5 792.9L1504.4 793.2L1505.3 793.5L1506.3 793.7L1507.2 794.0L1508.1 794.3L1509.0 794.6L1509.9 794.9L1510.8 795.1L1511.7 795.4L1512.5 795.7L1513.4 796.0L1514.2 796.3L1515.0 796.6L1515.9 796.8L1516.7 797.1L1517.5 797.4L1518.3 797.7L1519.1 798.0L1519.9 798.2L1520.7 798.5L1521.6 798.8L1522.4 799.1L1523.2 799.4L1524.1 799.7" fill="none" stroke="#f6bda2" stroke-width="2.7" stroke-linejoin="round" stroke-linecap="butt"/><path d="M1147.0 876.6h6.0v6.0h-6.0zM1145.7 871.9h6.0v6.0h-6.0zM1150.2 870.5h6.0v6.0h-6.0zM1152.8 867.8h6.0v6.0h-6.0zM1154.9 869.3h6.0v6.0h-6.0zM1156.8 866.7h6.0v6.0h-6.0zM1159.6 861.9h6.0v6.0h-6.0zM1161.1 859.8h6.0v6.0h-6.0zM1165.6 859.5h6.0v6.0h-6.0zM1166.8 857.8h6.0v6.0h-6.0zM1168.8 855.0h6.0v6.0h-6.0zM1174.1 855.7h6.0v6.0h-6.0zM1172.7 853.4h6.0v6.0h-6.0zM1174.6 853.7h6.0v6.0h-6.0zM1179.0 852.3h6.0v6.0h-6.0zM1179.4 849.7h6.0v6.0h-6.0zM1186.4 852.7h6.0v6.0h-6.0zM1188.3 851.0h6.0v6.0h-6.0zM1194.5 853.1h6.0v6.0h-6.0zM1193.4 849.3h6.0v6.0h-6.0zM1196.0 849.5h6.0v6.0h-6.0zM1201.5 846.1h6.0v6.0h-6.0zM1204.4 850.9h6.0v6.0h-6.0zM1207.3 850.8h6.0v6.0h-6.0zM1208.4 850.7h6.0v6.0h-6.0zM1211.1 852.3h6.0v6.0h-6.0zM1215.3 854.9h6.0v6.0h-6.0zM1216.8 854.6h6.0v6.0h-6.0zM1220.4 861.3h6.0v6.0h-6.0zM1224.0 856.9h6.0v6.0h-6.0zM1224.7 857.1h6.0v6.0h-6.0zM1228.1 855.2h6.0v6.0h-6.0zM1227.0 853.6h6.0v6.0h-6.0zM1233.9 849.8h6.0v6.0h-6.0zM1236.0 849.6h6.0v6.0h-6.0zM1236.4 846.0h6.0v6.0h-6.0zM1238.0 841.8h6.0v6.0h-6.0zM1240.6 843.0h6.0v6.0h-6.0zM1243.0 839.9h6.0v6.0h-6.0zM1244.7 838.9h6.0v6.0h-6.0zM1246.2 837.8h6.0v6.0h-6.0zM1249.6 833.3h6.0v6.0h-6.0zM1253.1 830.5h6.0v6.0h-6.0zM1251.2 831.1h6.0v6.0h-6.0zM1255.3 828.2h6.0v6.0h-6.0zM1257.2 826.5h6.0v6.0h-6.0zM1259.0 825.4h6.0v6.0h-6.0zM1262.8 821.5h6.0v6.0h-6.0zM1262.2 823.4h6.0v6.0h-6.0zM1267.0 817.0h6.0v6.0h-6.0zM1271.1 818.0h6.0v6.0h-6.0zM1273.6 813.2h6.0v6.0h-6.0zM1275.8 813.3h6.0v6.0h-6.0zM1277.8 812.4h6.0v6.0h-6.0zM1281.0 813.0h6.0v6.0h-6.0zM1282.6 810.9h6.0v6.0h-6.0zM1285.6 806.7h6.0v6.0h-6.0zM1288.5 807.1h6.0v6.0h-6.0zM1292.1 803.4h6.0v6.0h-6.0zM1294.1 804.9h6.0v6.0h-6.0zM1296.5 800.4h6.0v6.0h-6.0zM1296.0 800.5h6.0v6.0h-6.0zM1301.0 798.6h6.0v6.0h-6.0zM1303.5 799.1h6.0v6.0h-6.0zM1308.7 795.7h6.0v6.0h-6.0zM1314.2 791.9h6.0v6.0h-6.0zM1322.6 789.9h6.0v6.0h-6.0zM1328.2 789.2h6.0v6.0h-6.0zM1334.1 785.9h6.0v6.0h-6.0zM1339.6 786.8h6.0v6.0h-6.0zM1346.6 781.1h6.0v6.0h-6.0zM1353.6 782.4h6.0v6.0h-6.0zM1361.3 783.2h6.0v6.0h-6.0zM1369.8 782.5h6.0v6.0h-6.0zM1381.2 783.1h6.0v6.0h-6.0zM1391.6 781.8h6.0v6.0h-6.0zM1408.2 785.9h6.0v6.0h-6.0zM1421.6 782.9h6.0v6.0h-6.0zM1432.9 781.9h6.0v6.0h-6.0zM1445.7 789.0h6.0v6.0h-6.0zM1460.6 788.0h6.0v6.0h-6.0zM1474.8 790.9h6.0v6.0h-6.0zM1487.6 792.4h6.0v6.0h-6.0zM1502.2 796.3h6.0v6.0h-6.0zM1513.0 796.1h6.0v6.0h-6.0zM1526.4 801.5h6.0v6.0h-6.0z" fill="#f39577"/><path d="M1150.1 878.4L1150.8 877.7L1151.4 877.0L1152.1 876.3L1152.8 875.6L1153.4 874.9L1154.1 874.2L1154.7 873.5L1155.4 872.8L1156.0 872.1L1156.7 871.4L1157.3 870.6L1158.0 869.9L1158.7 869.3L1159.3 868.6L1160.0 867.9L1160.7 867.2L1161.4 866.6L1162.1 865.9L1162.8 865.3L1163.5 864.7L1164.2 864.1L1164.9 863.5L1165.7 863.0L1166.5 862.4L1167.2 861.9L1168.0 861.4L1168.8 860.8L1169.7 860.3L1170.5 859.8L1171.3 859.3L1172.2 858.9L1173.0 858.4L1173.8 857.9L1174.7 857.5L1175.5 857.1L1176.4 856.6L1177.2 856.2L1178.0 855.8L1178.8 855.5L1179.7 855.1L1180.4 854.8L1181.2 854.5L1182.0 854.2L1182.7 853.9L1183.5 853.6L1184.2 853.4L1184.9 853.2L1185.6 853.0L1186.3 852.8L1187.0 852.6L1187.7 852.4L1188.4 852.3L1189.0 852.2L1189.7 852.0L1190.4 851.9L1191.0 851.9L1191.7 851.8L1192.3 851.7L1193.0 851.7L1193.6 851.6L1194.3 851.6L1194.9 851.6L1195.6 851.6L1196.3 851.6L1196.9 851.6L1197.6 851.7L1198.3 851.7L1198.9 851.8L1199.6 851.9L1200.3 852.0L1201.0 852.1L1201.7 852.2L1202.4 852.4L1203.1 852.5L1203.8 852.7L1204.5 852.9L1205.2 853.1L1205.9 853.3L1206.6 853.5L1207.3 853.7L1207.9 853.9L1208.6 854.1L1209.3 854.4L1209.9 854.6L1210.6 854.8L1211.2 855.0L1211.8 855.2L1212.4 855.4L1213.0 855.6L1213.6 855.8L1214.2 856.0L1214.8 856.3L1215.4 856.6L1215.9 856.8L1216.5 857.1L1217.0 857.4L1217.6 857.7L1218.1 858.0L1218.6 858.3L1219.2 858.5L1219.7 858.8L1220.2 859.0L1220.7 859.2L1221.2 859.4L1221.8 859.6L1222.3 859.7L1222.8 859.8L1223.3 859.8L1223.8 859.9L1224.3 859.8L1224.8 859.8L1225.3 859.7L1225.8 859.5L1226.2 859.4L1226.7 859.2L1227.2 858.9L1227.6 858.7L1228.1 858.4L1228.5 858.1L1229.0 857.8L1229.4 857.5L1229.8 857.1L1230.3 856.7L1230.8 856.4L1231.2 856.0L1231.7 855.6L1232.2 855.2L1232.6 854.8L1233.1 854.4L1233.6 854.0L1234.2 853.6L1234.7 853.1L1235.2 852.7L1235.8 852.3L1236.3 851.9L1236.9 851.4L1237.4 851.0L1238.0 850.5L1238.6 850.1L1239.1 849.6L1239.7 849.1L1240.3 848.6L1240.9 848.1L1241.5 847.6L1242.1 847.0L1242.7 846.5L1243.4 846.0L1244.0 845.4L1244.6 844.9L1245.3 844.3L1246.0 843.7L1246.7 843.2L1247.3 842.6L1248.0 842.0L1248.8 841.4L1249.5 840.8L1250.2 840.2L1251.0 839.5L1251.7 838.9L1252.5 838.2L1253.3 837.5L1254.1 836.8L1254.9 836.2L1255.7 835.5L1256.5 834.8L1257.3 834.1L1258.1 833.4L1259.0 832.7L1259.8 831.9L1260.7 831.2L1261.5 830.5L1262.4 829.9L1263.2 829.2L1264.1 828.5L1265.0 827.8L1265.9 827.1L1266.7 826.5L1267.6 825.8L1268.5 825.2L1269.4 824.5L1270.4 823.8L1271.3 823.2L1272.2 822.5L1273.2 821.9L1274.1 821.2L1275.1 820.6L1276.1 819.9L1277.0 819.3L1278.0 818.6L1278.9 818.0L1279.9 817.3L1280.9 816.7L1281.8 816.1L1282.8 815.5L1283.8 814.8L1284.7 814.2L1285.7 813.6L1286.6 813.0L1287.6 812.4L1288.5 811.9L1289.4 811.3L1290.4 810.7L1291.3 810.1L1292.2 809.5L1293.1 809.0L1294.1 808.4L1295.0 807.8L1295.9 807.3L1296.8 806.7L1297.8 806.2L1298.7 805.6L1299.6 805.1L1300.6 804.6L1301.5 804.1L1302.5 803.6L1303.4 803.1L1304.4 802.6L1305.4 802.1L1306.4 801.6L1307.4 801.1L1308.4 800.7L1309.4 800.3L1310.5 799.8L1311.5 799.4L1312.5 799.0L1313.6 798.6L1314.6 798.2L1315.7 797.8L1316.8 797.4L1317.8 797.0L1318.9 796.6L1320.0 796.3L1321.1 795.9L1322.2 795.6L1323.3 795.2L1324.4 794.9L1325.5 794.6L1326.6 794.2L1327.7 793.9L1328.9 793.6L1330.0 793.3L1331.1 793.0L1332.3 792.7L1333.5 792.4L1334.6 792.1L1335.8 791.8L1337.0 791.5L1338.1 791.3L1339.3 791.0L1340.5 790.7L1341.7 790.5L1342.9 790.2L1344.1 790.0L1345.4 789.8L1346.6 789.5L1347.8 789.3L1349.0 789.1L1350.3 788.9L1351.5 788.7L1352.8 788.5L1354.0 788.3L1355.3 788.1L1356.6 788.0L1357.9 787.8L1359.1 787.6L1360.4 787.5L1361.7 787.3L1363.0 787.2L1364.3 787.0L1365.7 786.9L1367.0 786.7L1368.3 786.6L1369.6 786.5L1371.0 786.4L1372.3 786.3L1373.7 786.2L1375.0 786.1L1376.4 786.0L1377.8 785.9L1379.2 785.9L1380.5 785.8L1381.9 785.7L1383.3 785.7L1384.7 785.6L1386.1 785.6L1387.5 785.5L1389.0 785.5L1390.4 785.5L1391.8 785.5L1393.3 785.5L1394.7 785.4L1396.2 785.4L1397.7 785.4L1399.1 785.4L1400.6 785.5L1402.1 785.5L1403.6 785.5L1405.1 785.5L1406.6 785.6L1408.1 785.6L1409.6 785.7L1411.1 785.7L1412.6 785.8L1414.1 785.9L1415.6 786.0L1417.2 786.1L1418.7 786.2L1420.2 786.3L1421.7 786.4L1423.3 786.6L1424.8 786.7L1426.4 786.9L1427.9 787.1L1429.5 787.2L1431.1 787.4L1432.7 787.6L1434.3 787.9L1435.9 788.1L1437.4 788.3L1439.0 788.5L1440.6 788.7L1442.2 789.0L1443.7 789.2L1445.3 789.4L1446.8 789.7L1448.4 789.9L1449.9 790.1L1451.4 790.3L1452.9 790.5L1454.3 790.7L1455.8 791.0L1457.2 791.2L1458.7 791.4L1460.1 791.6L1461.5 791.8L1462.9 792.0L1464.3 792.2L1465.8 792.4L1467.1 792.6L1468.5 792.8L1469.9 793.0L1471.3 793.2L1472.6 793.4L1473.9 793.6L1475.3 793.8L1476.6 794.0L1477.8 794.2L1479.1 794.4L1480.4 794.6L1481.6 794.8L1482.8 795.0L1484.0 795.2L1485.2 795.4L1486.3 795.6L1487.4 795.8L1488.6 796.0L1489.7 796.2L1490.7 796.5L1491.8 796.7L1492.8 796.9L1493.9 797.1L1494.9 797.3L1495.9 797.5L1496.9 797.7L1497.8 797.9L1498.8 798.2L1499.8 798.4L1500.7 798.6L1501.7 798.8L1502.6 798.9L1503.5 799.1L1504.4 799.3L1505.3 799.5L1506.3 799.7L1507.2 799.8L1508.1 800.0L1509.0 800.2L1509.9 800.3L1510.8 800.5L1511.7 800.6L1512.5 800.8L1513.4 800.9L1514.2 801.0L1515.0 801.2L1515.9 801.3L1516.7 801.4L1517.5 801.6L1518.3 801.7L1519.1 801.8L1519.9 802.0L1520.7 802.1L1521.6 802.2L1522.4 802.4L1523.2 802.5L1524.1 802.6" fill="none" stroke="#f39577" stroke-width="2.7" stroke-linejoin="round" stroke-linecap="butt"/><path d="M1148.2 875.8h6.0v6.0h-6.0zM1150.4 872.4h6.0v6.0h-6.0zM1151.2 872.9h6.0v6.0h-6.0zM1153.8 869.2h6.0v6.0h-6.0zM1152.6 865.9h6.0v6.0h-6.0zM1156.7 863.2h6.0v6.0h-6.0zM1156.7 863.1h6.0v6.0h-6.0zM1163.4 860.6h6.0v6.0h-6.0zM1166.6 862.7h6.0v6.0h-6.0zM1165.7 859.0h6.0v6.0h-6.0zM1170.7 856.6h6.0v6.0h-6.0zM1172.9 854.8h6.0v6.0h-6.0zM1173.4 857.2h6.0v6.0h-6.0zM1178.4 852.6h6.0v6.0h-6.0zM1181.8 850.6h6.0v6.0h-6.0zM1186.0 853.1h6.0v6.0h-6.0zM1187.4 855.3h6.0v6.0h-6.0zM1191.4 851.7h6.0v6.0h-6.0zM1196.1 851.5h6.0v6.0h-6.0zM1198.0 852.9h6.0v6.0h-6.0zM1198.4 850.4h6.0v6.0h-6.0zM1203.1 850.1h6.0v6.0h-6.0zM1207.6 854.4h6.0v6.0h-6.0zM1211.9 855.3h6.0v6.0h-6.0zM1212.1 854.5h6.0v6.0h-6.0zM1215.4 854.3h6.0v6.0h-6.0zM1217.7 859.1h6.0v6.0h-6.0zM1221.9 859.8h6.0v6.0h-6.0zM1223.3 859.3h6.0v6.0h-6.0zM1226.1 858.8h6.0v6.0h-6.0zM1225.8 856.2h6.0v6.0h-6.0zM1228.8 852.6h6.0v6.0h-6.0zM1229.5 853.2h6.0v6.0h-6.0zM1232.5 849.0h6.0v6.0h-6.0zM1236.3 848.0h6.0v6.0h-6.0zM1239.5 846.3h6.0v6.0h-6.0zM1241.6 845.7h6.0v6.0h-6.0zM1243.0 841.5h6.0v6.0h-6.0zM1247.5 839.1h6.0v6.0h-6.0zM1245.0 838.9h6.0v6.0h-6.0zM1248.9 834.6h6.0v6.0h-6.0zM1253.2 832.5h6.0v6.0h-6.0zM1253.9 831.7h6.0v6.0h-6.0zM1255.9 831.1h6.0v6.0h-6.0zM1259.3 828.2h6.0v6.0h-6.0zM1259.2 824.8h6.0v6.0h-6.0zM1261.5 822.9h6.0v6.0h-6.0zM1264.3 822.4h6.0v6.0h-6.0zM1269.7 820.8h6.0v6.0h-6.0zM1267.8 817.7h6.0v6.0h-6.0zM1271.2 816.1h6.0v6.0h-6.0zM1277.5 814.0h6.0v6.0h-6.0zM1277.4 815.2h6.0v6.0h-6.0zM1279.0 812.2h6.0v6.0h-6.0zM1279.3 809.2h6.0v6.0h-6.0zM1284.6 809.9h6.0v6.0h-6.0zM1286.9 807.2h6.0v6.0h-6.0zM1290.8 806.8h6.0v6.0h-6.0zM1290.9 803.0h6.0v6.0h-6.0zM1293.7 801.1h6.0v6.0h-6.0zM1298.4 802.2h6.0v6.0h-6.0zM1298.6 797.0h6.0v6.0h-6.0zM1304.7 797.7h6.0v6.0h-6.0zM1305.0 798.0h6.0v6.0h-6.0zM1311.9 794.1h6.0v6.0h-6.0zM1316.7 792.9h6.0v6.0h-6.0zM1326.1 788.7h6.0v6.0h-6.0zM1329.5 788.6h6.0v6.0h-6.0zM1338.6 788.1h6.0v6.0h-6.0zM1342.6 785.8h6.0v6.0h-6.0zM1350.4 785.9h6.0v6.0h-6.0zM1355.3 786.3h6.0v6.0h-6.0zM1364.2 784.7h6.0v6.0h-6.0zM1378.6 782.3h6.0v6.0h-6.0zM1389.1 784.6h6.0v6.0h-6.0zM1405.6 784.4h6.0v6.0h-6.0zM1416.6 787.1h6.0v6.0h-6.0zM1428.6 788.7h6.0v6.0h-6.0zM1443.1 790.8h6.0v6.0h-6.0zM1455.2 792.9h6.0v6.0h-6.0zM1469.1 798.2h6.0v6.0h-6.0zM1481.3 800.3h6.0v6.0h-6.0zM1493.1 800.9h6.0v6.0h-6.0zM1510.0 801.2h6.0v6.0h-6.0zM1521.8 805.2h6.0v6.0h-6.0z" fill="#df634e"/><path d="M1150.1 878.4L1150.8 877.7L1151.4 877.0L1152.1 876.3L1152.8 875.6L1153.4 874.9L1154.1 874.2L1154.7 873.5L1155.4 872.8L1156.0 872.1L1156.7 871.4L1157.3 870.6L1158.0 869.9L1158.7 869.3L1159.3 868.6L1160.0 867.9L1160.7 867.2L1161.4 866.6L1162.1 865.9L1162.8 865.3L1163.5 864.7L1164.2 864.1L1164.9 863.5L1165.7 863.0L1166.5 862.4L1167.2 861.9L1168.0 861.4L1168.8 860.8L1169.7 860.3L1170.5 859.8L1171.3 859.3L1172.2 858.9L1173.0 858.4L1173.8 857.9L1174.7 857.5L1175.5 857.1L1176.4 856.6L1177.2 856.2L1178.0 855.8L1178.8 855.5L1179.7 855.1L1180.4 854.8L1181.2 854.5L1182.0 854.2L1182.7 853.9L1183.5 853.6L1184.2 853.4L1184.9 853.2L1185.6 853.0L1186.3 852.8L1187.0 852.6L1187.7 852.4L1188.4 852.3L1189.0 852.2L1189.7 852.0L1190.4 851.9L1191.0 851.9L1191.7 851.8L1192.3 851.7L1193.0 851.7L1193.6 851.6L1194.3 851.6L1194.9 851.6L1195.6 851.6L1196.3 851.6L1196.9 851.6L1197.6 851.7L1198.3 851.7L1198.9 851.8L1199.6 851.9L1200.3 852.0L1201.0 852.1L1201.7 852.2L1202.4 852.4L1203.1 852.5L1203.8 852.7L1204.5 852.9L1205.2 853.1L1205.9 853.3L1206.6 853.5L1207.3 853.7L1207.9 853.9L1208.6 854.1L1209.3 854.4L1209.9 854.6L1210.6 854.8L1211.2 855.0L1211.8 855.2L1212.4 855.4L1213.0 855.6L1213.6 855.8L1214.2 856.0L1214.8 856.3L1215.4 856.6L1215.9 856.8L1216.5 857.1L1217.0 857.4L1217.6 857.7L1218.1 858.0L1218.6 858.3L1219.2 858.5L1219.7 858.8L1220.2 859.0L1220.7 859.2L1221.2 859.4L1221.8 859.6L1222.3 859.7L1222.8 859.8L1223.3 859.8L1223.8 859.9L1224.3 859.8L1224.8 859.8L1225.3 859.7L1225.8 859.5L1226.2 859.4L1226.7 859.2L1227.2 858.9L1227.6 858.7L1228.1 858.4L1228.5 858.1L1229.0 857.8L1229.4 857.5L1229.8 857.1L1230.3 856.7L1230.8 856.4L1231.2 856.0L1231.7 855.6L1232.2 855.2L1232.6 854.8L1233.1 854.4L1233.6 854.0L1234.2 853.6L1234.7 853.1L1235.2 852.7L1235.8 852.3L1236.3 851.9L1236.9 851.4L1237.4 851.0L1238.0 850.5L1238.6 850.1L1239.1 849.6L1239.7 849.1L1240.3 848.6L1240.9 848.1L1241.5 847.6L1242.1 847.0L1242.7 846.5L1243.4 846.0L1244.0 845.4L1244.6 844.9L1245.3 844.3L1246.0 843.7L1246.7 843.2L1247.3 842.6L1248.0 842.0L1248.8 841.4L1249.5 840.8L1250.2 840.2L1251.0 839.5L1251.7 838.9L1252.5 838.2L1253.3 837.5L1254.1 836.8L1254.9 836.2L1255.7 835.5L1256.5 834.8L1257.3 834.1L1258.1 833.4L1259.0 832.7L1259.8 831.9L1260.7 831.2L1261.5 830.5L1262.4 829.9L1263.2 829.2L1264.1 828.5L1265.0 827.8L1265.9 827.1L1266.7 826.5L1267.6 825.8L1268.5 825.2L1269.4 824.5L1270.4 823.8L1271.3 823.2L1272.2 822.5L1273.2 821.9L1274.1 821.2L1275.1 820.6L1276.1 819.9L1277.0 819.3L1278.0 818.6L1278.9 818.0L1279.9 817.3L1280.9 816.7L1281.8 816.1L1282.8 815.5L1283.8 814.8L1284.7 814.2L1285.7 813.6L1286.6 813.0L1287.6 812.4L1288.5 811.9L1289.4 811.3L1290.4 810.7L1291.3 810.1L1292.2 809.5L1293.1 809.0L1294.1 808.4L1295.0 807.8L1295.9 807.3L1296.8 806.7L1297.8 806.2L1298.7 805.6L1299.6 805.1L1300.6 804.6L1301.5 804.1L1302.5 803.6L1303.4 803.1L1304.4 802.6L1305.4 802.1L1306.4 801.6L1307.4 801.1L1308.4 800.7L1309.5 800.2L1310.5 799.8L1311.6 799.4L1312.7 798.9L1313.8 798.5L1314.9 798.1L1316.0 797.7L1317.1 797.3L1318.2 796.9L1319.4 796.5L1320.5 796.1L1321.6 795.8L1322.7 795.4L1323.8 795.1L1324.9 794.7L1326.0 794.4L1327.1 794.1L1328.1 793.8L1329.1 793.5L1330.2 793.2L1331.1 793.0L1332.1 792.7L1333.0 792.5L1333.9 792.3L1334.7 792.1L1335.5 791.9L1336.2 791.7L1337.0 791.5L1337.7 791.4L1338.5 791.2L1339.2 791.1L1340.0 791.0L1340.7 790.9L1341.5 790.8L1342.3 790.6L1343.1 790.6L1344.0 790.5L1344.9 790.4L1345.9 790.3L1346.9 790.2L1348.0 790.1L1349.2 790.1L1350.4 790.0L1351.8 789.9L1353.2 789.9L1354.6 789.8L1356.2 789.8L1357.8 789.7L1359.4 789.7L1361.1 789.7L1362.8 789.7L1364.6 789.6L1366.4 789.6L1368.2 789.6L1370.0 789.6L1371.8 789.6L1373.6 789.7L1375.5 789.7L1377.3 789.7L1379.1 789.7L1380.8 789.8L1382.6 789.8L1384.3 789.9L1385.9 789.9L1387.5 790.0L1389.1 790.1L1390.7 790.2L1392.2 790.2L1393.7 790.3L1395.2 790.4L1396.7 790.5L1398.2 790.7L1399.7 790.8L1401.1 790.9L1402.6 791.0L1404.0 791.2L1405.5 791.3L1406.9 791.5L1408.4 791.6L1409.8 791.8L1411.3 791.9L1412.8 792.1L1414.2 792.3L1415.7 792.4L1417.2 792.6L1418.7 792.8L1420.2 793.0L1421.7 793.2L1423.3 793.4L1424.8 793.6L1426.4 793.8L1427.9 794.0L1429.5 794.2L1431.1 794.5L1432.7 794.7L1434.3 794.9L1435.9 795.2L1437.4 795.4L1439.0 795.7L1440.6 795.9L1442.2 796.2L1443.7 796.4L1445.3 796.7L1446.8 797.0L1448.4 797.2L1449.9 797.5L1451.4 797.7L1452.9 797.9L1454.3 798.2L1455.8 798.4L1457.2 798.7L1458.7 798.9L1460.1 799.1L1461.5 799.4L1462.9 799.6L1464.3 799.9L1465.8 800.1L1467.1 800.4L1468.5 800.6L1469.9 800.9L1471.3 801.1L1472.6 801.4L1473.9 801.6L1475.3 801.8L1476.6 802.1L1477.8 802.3L1479.1 802.5L1480.4 802.7L1481.6 803.0L1482.8 803.2L1484.0 803.4L1485.2 803.6L1486.3 803.8L1487.4 804.0L1488.6 804.2L1489.7 804.4L1490.7 804.5L1491.8 804.7L1492.8 804.9L1493.9 805.1L1494.9 805.2L1495.9 805.4L1496.9 805.6L1497.8 805.8L1498.8 805.9L1499.8 806.1L1500.7 806.2L1501.7 806.4L1502.6 806.5L1503.5 806.7L1504.4 806.8L1505.3 807.0L1506.3 807.1L1507.2 807.2L1508.1 807.4L1509.0 807.5L1509.9 807.6L1510.8 807.7L1511.7 807.8L1512.5 807.9L1513.4 808.0L1514.2 808.2L1515.0 808.2L1515.9 808.3L1516.7 808.4L1517.5 808.5L1518.3 808.6L1519.1 808.7L1519.9 808.8L1520.7 808.9L1521.6 809.0L1522.4 809.1L1523.2 809.2L1524.1 809.3" fill="none" stroke="#df634e" stroke-width="2.7" stroke-linejoin="round" stroke-linecap="butt"/><path d="M1149.3 861.7h6.0v6.0h-6.0z" fill="#3b4cc0"/></g>
<path d="M127 418.9V424.7M201.12 418.9V424.7M275.24 418.9V424.7M349.36 418.9V424.7M423.48 418.9V424.7M497.6 418.9V424.7M127 418.9H121.2M127 344.52H121.2M127 270.14H121.2M127 195.76H121.2M127 121.38H121.2M127 47H121.2" stroke="#1a1a1a" stroke-width="1.4" fill="none"/>
<rect x="127" y="47" width="370.6" height="371.9" fill="none" stroke="#1a1a1a" stroke-width="1.45"/>
<text x="127" y="448.28" font-size="23.8" text-anchor="middle">0</text>
<text x="201.12" y="448.28" font-size="23.8" text-anchor="middle">10</text>
<text x="275.24" y="448.28" font-size="23.8" text-anchor="middle">20</text>
<text x="349.36" y="448.28" font-size="23.8" text-anchor="middle">30</text>
<text x="423.48" y="448.28" font-size="23.8" text-anchor="middle">40</text>
<text x="497.6" y="448.28" font-size="23.8" text-anchor="middle">50</text>
<text x="115.4" y="428.19" font-size="23.8" text-anchor="end">0</text>
<text x="115.4" y="353.81" font-size="23.8" text-anchor="end">10</text>
<text x="115.4" y="279.43" font-size="23.8" text-anchor="end">20</text>
<text x="115.4" y="205.05" font-size="23.8" text-anchor="end">30</text>
<text x="115.4" y="130.67" font-size="23.8" text-anchor="end">40</text>
<text x="115.4" y="56.29" font-size="23.8" text-anchor="end">50</text>
<path d="M127 878.4V884.2M201.12 878.4V884.2M275.24 878.4V884.2M349.36 878.4V884.2M423.48 878.4V884.2M497.6 878.4V884.2M127 878.4H121.2M127 804.12H121.2M127 729.84H121.2M127 655.56H121.2M127 581.28H121.2M127 507H121.2" stroke="#1a1a1a" stroke-width="1.4" fill="none"/>
<rect x="127" y="507" width="370.6" height="371.4" fill="none" stroke="#1a1a1a" stroke-width="1.45"/>
<text x="127" y="907.78" font-size="23.8" text-anchor="middle">0</text>
<text x="201.12" y="907.78" font-size="23.8" text-anchor="middle">10</text>
<text x="275.24" y="907.78" font-size="23.8" text-anchor="middle">20</text>
<text x="349.36" y="907.78" font-size="23.8" text-anchor="middle">30</text>
<text x="423.48" y="907.78" font-size="23.8" text-anchor="middle">40</text>
<text x="497.6" y="907.78" font-size="23.8" text-anchor="middle">50</text>
<text x="115.4" y="887.69" font-size="23.8" text-anchor="end">0</text>
<text x="115.4" y="813.41" font-size="23.8" text-anchor="end">10</text>
<text x="115.4" y="739.13" font-size="23.8" text-anchor="end">20</text>
<text x="115.4" y="664.85" font-size="23.8" text-anchor="end">30</text>
<text x="115.4" y="590.57" font-size="23.8" text-anchor="end">40</text>
<text x="115.4" y="516.29" font-size="23.8" text-anchor="end">50</text>
<path d="M1148.1 418.9V424.7M1222.22 418.9V424.7M1296.34 418.9V424.7M1370.46 418.9V424.7M1444.58 418.9V424.7M1518.7 418.9V424.7M1148.1 418.9H1142.3M1148.1 344.52H1142.3M1148.1 270.14H1142.3M1148.1 195.76H1142.3M1148.1 121.38H1142.3M1148.1 47H1142.3" stroke="#1a1a1a" stroke-width="1.4" fill="none"/>
<rect x="1148.1" y="47" width="370.6" height="371.9" fill="none" stroke="#1a1a1a" stroke-width="1.45"/>
<text x="1148.1" y="448.28" font-size="23.8" text-anchor="middle">0</text>
<text x="1222.22" y="448.28" font-size="23.8" text-anchor="middle">50</text>
<text x="1296.34" y="448.28" font-size="23.8" text-anchor="middle">100</text>
<text x="1370.46" y="448.28" font-size="23.8" text-anchor="middle">150</text>
<text x="1444.58" y="448.28" font-size="23.8" text-anchor="middle">200</text>
<text x="1518.7" y="448.28" font-size="23.8" text-anchor="middle">250</text>
<text x="1136.5" y="428.19" font-size="23.8" text-anchor="end">0</text>
<text x="1136.5" y="353.81" font-size="23.8" text-anchor="end">50</text>
<text x="1136.5" y="279.43" font-size="23.8" text-anchor="end">100</text>
<text x="1136.5" y="205.05" font-size="23.8" text-anchor="end">150</text>
<text x="1136.5" y="130.67" font-size="23.8" text-anchor="end">200</text>
<text x="1136.5" y="56.29" font-size="23.8" text-anchor="end">250</text>
<path d="M1150.1 878.4V884.2M1224.3 878.4V884.2M1298.5 878.4V884.2M1372.7 878.4V884.2M1446.9 878.4V884.2M1521.1 878.4V884.2M1150.1 878.4H1144.3M1150.1 804.12H1144.3M1150.1 729.84H1144.3M1150.1 655.56H1144.3M1150.1 581.28H1144.3M1150.1 507H1144.3" stroke="#1a1a1a" stroke-width="1.4" fill="none"/>
<rect x="1150.1" y="507" width="371" height="371.4" fill="none" stroke="#1a1a1a" stroke-width="1.45"/>
<text x="1150.1" y="907.78" font-size="23.8" text-anchor="middle">0</text>
<text x="1224.3" y="907.78" font-size="23.8" text-anchor="middle">50</text>
<text x="1298.5" y="907.78" font-size="23.8" text-anchor="middle">100</text>
<text x="1372.7" y="907.78" font-size="23.8" text-anchor="middle">150</text>
<text x="1446.9" y="907.78" font-size="23.8" text-anchor="middle">200</text>
<text x="1521.1" y="907.78" font-size="23.8" text-anchor="middle">250</text>
<text x="1138.5" y="887.69" font-size="23.8" text-anchor="end">0</text>
<text x="1138.5" y="813.41" font-size="23.8" text-anchor="end">50</text>
<text x="1138.5" y="739.13" font-size="23.8" text-anchor="end">100</text>
<text x="1138.5" y="664.85" font-size="23.8" text-anchor="end">150</text>
<text x="1138.5" y="590.57" font-size="23.8" text-anchor="end">200</text>
<text x="1138.5" y="516.29" font-size="23.8" text-anchor="end">250</text>
<path d="M655.42 418.9V424.7M737.28 418.9V424.7M819.14 418.9V424.7M900.99 418.9V424.7M982.85 418.9V424.7M637 418.9H631.2M637 351.28H631.2M637 283.66H631.2M637 216.05H631.2M637 148.43H631.2M637 80.81H631.2" stroke="#1a1a1a" stroke-width="1.4" fill="none"/>
<rect x="637" y="47" width="405.2" height="371.9" fill="none" stroke="#1a1a1a" stroke-width="1.45"/>
<text x="655.42" y="446.02" font-size="20.6" text-anchor="middle">0</text>
<text x="737.28" y="446.02" font-size="20.6" text-anchor="middle">2</text>
<text x="819.14" y="446.02" font-size="20.6" text-anchor="middle">4</text>
<text x="900.99" y="446.02" font-size="20.6" text-anchor="middle">6</text>
<text x="982.85" y="446.02" font-size="20.6" text-anchor="middle">8</text>
<text x="625.4" y="426.36" font-size="20.6" text-anchor="end">0</text>
<text x="625.4" y="358.74" font-size="20.6" text-anchor="end">50</text>
<text x="625.4" y="291.13" font-size="20.6" text-anchor="end">100</text>
<text x="625.4" y="223.51" font-size="20.6" text-anchor="end">150</text>
<text x="625.4" y="155.89" font-size="20.6" text-anchor="end">200</text>
<text x="625.4" y="88.27" font-size="20.6" text-anchor="end">250</text>
<path d="M655.33 878.4V884.2M737.23 878.4V884.2M819.13 878.4V884.2M901.02 878.4V884.2M982.92 878.4V884.2M636.9 878.4H631.1M636.9 810.87H631.1M636.9 743.35H631.1M636.9 675.82H631.1M636.9 608.29H631.1M636.9 540.76H631.1" stroke="#1a1a1a" stroke-width="1.4" fill="none"/>
<rect x="636.9" y="507" width="405.4" height="371.4" fill="none" stroke="#1a1a1a" stroke-width="1.45"/>
<text x="655.33" y="905.52" font-size="20.6" text-anchor="middle">0</text>
<text x="737.23" y="905.52" font-size="20.6" text-anchor="middle">2</text>
<text x="819.13" y="905.52" font-size="20.6" text-anchor="middle">4</text>
<text x="901.02" y="905.52" font-size="20.6" text-anchor="middle">6</text>
<text x="982.92" y="905.52" font-size="20.6" text-anchor="middle">8</text>
<text x="625.3" y="885.86" font-size="20.6" text-anchor="end">0</text>
<text x="625.3" y="818.33" font-size="20.6" text-anchor="end">50</text>
<text x="625.3" y="750.81" font-size="20.6" text-anchor="end">100</text>
<text x="625.3" y="683.28" font-size="20.6" text-anchor="end">150</text>
<text x="625.3" y="615.75" font-size="20.6" text-anchor="end">200</text>
<text x="625.3" y="548.23" font-size="20.6" text-anchor="end">250</text>
<path d="M1676.35 418.9V424.7M1758.37 418.9V424.7M1840.39 418.9V424.7M1922.42 418.9V424.7M2004.44 418.9V424.7M1657.9 418.9H1652.1M1657.9 356.92H1652.1M1657.9 294.93H1652.1M1657.9 232.95H1652.1M1657.9 170.97H1652.1M1657.9 108.98H1652.1M1657.9 47H1652.1" stroke="#1a1a1a" stroke-width="1.4" fill="none"/>
<rect x="1657.9" y="47" width="406" height="371.9" fill="none" stroke="#1a1a1a" stroke-width="1.45"/>
<text x="1676.35" y="446.02" font-size="20.6" text-anchor="middle">0</text>
<text x="1758.37" y="446.02" font-size="20.6" text-anchor="middle">2</text>
<text x="1840.39" y="446.02" font-size="20.6" text-anchor="middle">4</text>
<text x="1922.42" y="446.02" font-size="20.6" text-anchor="middle">6</text>
<text x="2004.44" y="446.02" font-size="20.6" text-anchor="middle">8</text>
<text x="1646.3" y="426.36" font-size="20.6" text-anchor="end">0</text>
<text x="1646.3" y="364.38" font-size="20.6" text-anchor="end">50</text>
<text x="1646.3" y="302.39" font-size="20.6" text-anchor="end">100</text>
<text x="1646.3" y="240.41" font-size="20.6" text-anchor="end">150</text>
<text x="1646.3" y="178.43" font-size="20.6" text-anchor="end">200</text>
<text x="1646.3" y="116.44" font-size="20.6" text-anchor="end">250</text>
<text x="1646.3" y="54.46" font-size="20.6" text-anchor="end">300</text>
<path d="M1678.74 878.4V884.2M1770.92 878.4V884.2M1863.1 878.4V884.2M1955.28 878.4V884.2M2047.46 878.4V884.2M1660.3 878.4H1654.5M1660.3 816.5H1654.5M1660.3 754.6H1654.5M1660.3 692.7H1654.5M1660.3 630.8H1654.5M1660.3 568.9H1654.5M1660.3 507H1654.5" stroke="#1a1a1a" stroke-width="1.4" fill="none"/>
<rect x="1660.3" y="507" width="405.6" height="371.4" fill="none" stroke="#1a1a1a" stroke-width="1.45"/>
<text x="1678.74" y="905.52" font-size="20.6" text-anchor="middle">0</text>
<text x="1770.92" y="905.52" font-size="20.6" text-anchor="middle">2</text>
<text x="1863.1" y="905.52" font-size="20.6" text-anchor="middle">4</text>
<text x="1955.28" y="905.52" font-size="20.6" text-anchor="middle">6</text>
<text x="2047.46" y="905.52" font-size="20.6" text-anchor="middle">8</text>
<text x="1648.7" y="885.86" font-size="20.6" text-anchor="end">0</text>
<text x="1648.7" y="823.96" font-size="20.6" text-anchor="end">50</text>
<text x="1648.7" y="762.06" font-size="20.6" text-anchor="end">100</text>
<text x="1648.7" y="700.16" font-size="20.6" text-anchor="end">150</text>
<text x="1648.7" y="638.26" font-size="20.6" text-anchor="end">200</text>
<text x="1648.7" y="576.36" font-size="20.6" text-anchor="end">250</text>
<text x="1648.7" y="514.46" font-size="20.6" text-anchor="end">300</text>
<text x="312.3" y="477" font-size="23.6" text-anchor="middle">Z<tspan font-size="16.5" dy="4">real</tspan><tspan dy="-4"> (Ohms)</tspan></text>
<text x="75" y="232.95" font-size="23.6" text-anchor="middle" transform="rotate(-90 75 232.95)">−Z<tspan font-size="16.5" dy="4">imag</tspan><tspan dy="-4"> (Ohms)</tspan></text>
<text x="312.3" y="936.5" font-size="23.6" text-anchor="middle">Z<tspan font-size="16.5" dy="4">real</tspan><tspan dy="-4"> (Ohms)</tspan></text>
<text x="75" y="692.7" font-size="23.6" text-anchor="middle" transform="rotate(-90 75 692.7)">−Z<tspan font-size="16.5" dy="4">imag</tspan><tspan dy="-4"> (Ohms)</tspan></text>
<text x="1333.4" y="477" font-size="23.6" text-anchor="middle">Z<tspan font-size="16.5" dy="4">real</tspan><tspan dy="-4"> (Ohms)</tspan></text>
<text x="1083" y="232.95" font-size="23.6" text-anchor="middle" transform="rotate(-90 1083 232.95)">−Z<tspan font-size="16.5" dy="4">imag</tspan><tspan dy="-4"> (Ohms)</tspan></text>
<text x="1335.6" y="936.5" font-size="23.6" text-anchor="middle">Z<tspan font-size="16.5" dy="4">real</tspan><tspan dy="-4"> (Ohms)</tspan></text>
<text x="1085" y="692.7" font-size="23.6" text-anchor="middle" transform="rotate(-90 1085 692.7)">−Z<tspan font-size="16.5" dy="4">imag</tspan><tspan dy="-4"> (Ohms)</tspan></text>
<text x="839.6" y="473.3" font-size="23.6" text-anchor="middle">Cycle</text>
<text x="579" y="232.95" font-size="23.6" text-anchor="middle" transform="rotate(-90 579 232.95)">R<tspan font-size="16.5" dy="4">CT</tspan><tspan dy="-4"> (Ohms)</tspan></text>
<text x="839.6" y="932.8" font-size="23.6" text-anchor="middle">Cycle</text>
<text x="579" y="692.7" font-size="23.6" text-anchor="middle" transform="rotate(-90 579 692.7)">R<tspan font-size="16.5" dy="4">CT</tspan><tspan dy="-4"> (Ohms)</tspan></text>
<text x="1860.9" y="473.3" font-size="23.6" text-anchor="middle">Cycle</text>
<text x="1599" y="232.95" font-size="23.6" text-anchor="middle" transform="rotate(-90 1599 232.95)">R<tspan font-size="16.5" dy="4">CT</tspan><tspan dy="-4"> (Ohms)</tspan></text>
<text x="1863.1" y="932.8" font-size="23.6" text-anchor="middle">Cycle</text>
<text x="1601" y="692.7" font-size="23.6" text-anchor="middle" transform="rotate(-90 1601 692.7)">R<tspan font-size="16.5" dy="4">CT</tspan><tspan dy="-4"> (Ohms)</tspan></text>
<circle cx="655.42" cy="360.75" r="5.8" fill="#000"/>
<circle cx="696.35" cy="366.7" r="5.8" fill="#000"/>
<circle cx="737.28" cy="372.51" r="5.8" fill="#000"/>
<circle cx="778.21" cy="374.41" r="5.8" fill="#000"/>
<circle cx="819.14" cy="373.6" r="5.8" fill="#000"/>
<circle cx="860.06" cy="372.24" r="5.8" fill="#000"/>
<circle cx="900.99" cy="373.87" r="5.8" fill="#000"/>
<circle cx="941.92" cy="375.08" r="5.8" fill="#000"/>
<circle cx="982.85" cy="375.08" r="5.8" fill="#000"/>
<circle cx="1023.78" cy="375.49" r="5.8" fill="#000"/>
<circle cx="655.33" cy="823.97" r="5.8" fill="#000"/>
<circle cx="696.28" cy="829.51" r="5.8" fill="#000"/>
<circle cx="737.23" cy="840.18" r="5.8" fill="#000"/>
<circle cx="778.18" cy="848.01" r="5.8" fill="#000"/>
<circle cx="819.13" cy="850.85" r="5.8" fill="#000"/>
<circle cx="860.07" cy="853.55" r="5.8" fill="#000"/>
<circle cx="901.02" cy="857.6" r="5.8" fill="#000"/>
<circle cx="941.97" cy="855.31" r="5.8" fill="#000"/>
<circle cx="982.92" cy="857.87" r="5.8" fill="#000"/>
<circle cx="1023.87" cy="855.85" r="5.8" fill="#000"/>
<circle cx="1676.35" cy="243.74" r="5.8" fill="#000"/>
<circle cx="1717.36" cy="338.69" r="5.8" fill="#000"/>
<circle cx="1758.37" cy="376.5" r="5.8" fill="#000"/>
<circle cx="1799.38" cy="386.17" r="5.8" fill="#000"/>
<circle cx="1840.39" cy="390.02" r="5.8" fill="#000"/>
<circle cx="1881.41" cy="389.15" r="5.8" fill="#000"/>
<circle cx="1922.42" cy="388.78" r="5.8" fill="#000"/>
<circle cx="1963.43" cy="387.04" r="5.8" fill="#000"/>
<circle cx="2004.44" cy="382.33" r="5.8" fill="#000"/>
<circle cx="2045.45" cy="381.83" r="5.8" fill="#000"/>
<circle cx="1678.74" cy="773.17" r="5.8" fill="#000"/>
<circle cx="1724.83" cy="777.75" r="5.8" fill="#000"/>
<circle cx="1770.92" cy="782.21" r="5.8" fill="#000"/>
<circle cx="1817.01" cy="779.86" r="5.8" fill="#000"/>
<circle cx="1863.1" cy="768.59" r="5.8" fill="#000"/>
<circle cx="1909.19" cy="670.79" r="5.8" fill="#000"/>
<circle cx="1955.28" cy="549.59" r="5.8" fill="#000"/>
<circle cx="2001.37" cy="538.69" r="5.8" fill="#000"/>
<circle cx="2047.46" cy="555.65" r="5.8" fill="#000"/>
<text x="450.8" y="29.9" font-size="37.4" text-anchor="start">After plating</text>
<text x="1451.6" y="29.9" font-size="37.4" text-anchor="start">After stripping</text>
<text x="53" y="29.9" font-size="36" text-anchor="start" font-weight="bold">a</text>
<text x="1064.5" y="29.9" font-size="36.5" text-anchor="start" font-weight="bold">b</text>
<text x="53" y="497.5" font-size="36" text-anchor="start" font-weight="bold">c</text>
<text x="1064.5" y="497.5" font-size="36.5" text-anchor="start" font-weight="bold">d</text>
<text x="27.6" y="236.8" font-size="32" text-anchor="middle" transform="rotate(-90 27.6 236.8)">30°C, 0.35 MPa</text>
<text x="27.6" y="680.7" font-size="32" text-anchor="middle" transform="rotate(-90 27.6 680.7)">30°C, 2.3 MPa</text>
<defs><linearGradient id="cbg" x1="0" x2="1" y1="0" y2="0"><stop offset="0.00" stop-color="#b40426"/><stop offset="0.05" stop-color="#c53334"/><stop offset="0.10" stop-color="#d65244"/><stop offset="0.15" stop-color="#e36c55"/><stop offset="0.20" stop-color="#ee8468"/><stop offset="0.25" stop-color="#f4987a"/><stop offset="0.30" stop-color="#f7ac8e"/><stop offset="0.35" stop-color="#f6bda2"/><stop offset="0.40" stop-color="#f2cbb7"/><stop offset="0.45" stop-color="#e9d5cb"/><stop offset="0.50" stop-color="#dddcdc"/><stop offset="0.55" stop-color="#cfdaea"/><stop offset="0.60" stop-color="#c0d4f5"/><stop offset="0.65" stop-color="#afcafc"/><stop offset="0.70" stop-color="#9ebeff"/><stop offset="0.75" stop-color="#8db0fe"/><stop offset="0.80" stop-color="#7b9ff9"/><stop offset="0.85" stop-color="#6a8bef"/><stop offset="0.90" stop-color="#5977e3"/><stop offset="0.95" stop-color="#4961d2"/><stop offset="1.00" stop-color="#3b4cc0"/></linearGradient></defs>
<rect x="209.3" y="126.2" width="257" height="12.9" fill="url(#cbg)" stroke="#1a1a1a" stroke-width="1.3"/>
<text x="217.58" y="115.2" font-size="23.5" text-anchor="start" transform="rotate(-90 217.58 115.2)">10</text>
<text x="268.98" y="115.2" font-size="23.5" text-anchor="start" transform="rotate(-90 268.98 115.2)">8</text>
<text x="320.38" y="115.2" font-size="23.5" text-anchor="start" transform="rotate(-90 320.38 115.2)">6</text>
<text x="371.78" y="115.2" font-size="23.5" text-anchor="start" transform="rotate(-90 371.78 115.2)">4</text>
<text x="423.18" y="115.2" font-size="23.5" text-anchor="start" transform="rotate(-90 423.18 115.2)">2</text>
<text x="474.58" y="115.2" font-size="23.5" text-anchor="start" transform="rotate(-90 474.58 115.2)">0</text>
<path d="M209.3 126.2V121M260.7 126.2V121M312.1 126.2V121M363.5 126.2V121M414.9 126.2V121M466.3 126.2V121" stroke="#1a1a1a" stroke-width="1.1" fill="none"/>
<text x="337.8" y="80.2" font-size="17.5" text-anchor="middle">Cycles</text></svg>
</body></html>
